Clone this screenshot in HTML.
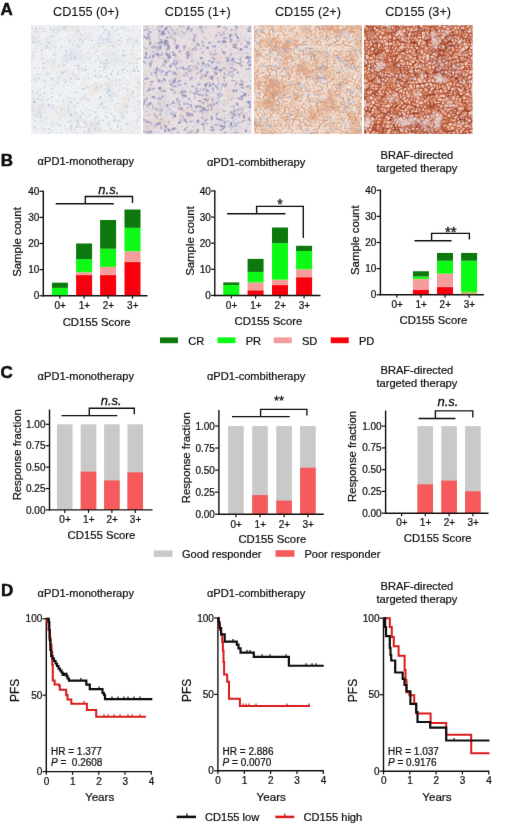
<!DOCTYPE html>
<html><head><meta charset="utf-8"><style>
html,body{margin:0;padding:0;background:#fff;width:520px;height:825px;overflow:hidden}
svg{display:block;font-family:"Liberation Sans", Arial, sans-serif}
</style></head><body>
<svg width="520" height="825" viewBox="0 0 520 825">
<defs><filter id="gb" x="0" y="0" width="520" height="825" filterUnits="userSpaceOnUse"><feConvolveMatrix order="3" kernelMatrix="0 0.05 0 0.05 0.8 0.05 0 0.05 0" edgeMode="duplicate" preserveAlpha="false"/></filter></defs>
<rect width="520" height="825" fill="#fff"/>
<g filter="url(#gb)">
<defs><filter id="h0" x="0" y="0" width="1" height="1" color-interpolation-filters="sRGB"><feFlood flood-color="#f0f1f3" result="base"/><feTurbulence type="fractalNoise" baseFrequency="0.06" numOctaves="2" seed="3" result="nl0"/><feColorMatrix in="nl0" type="matrix" values="0 0 0 0 0.847 0 0 0 0 0.871 0 0 0 0 0.910 2.0 0 0 0 -1.000" result="l0"/><feTurbulence type="fractalNoise" baseFrequency="0.05" numOctaves="2" seed="11" result="nl1"/><feColorMatrix in="nl1" type="matrix" values="0 0 0 0 0.933 0 0 0 0 0.886 0 0 0 0 0.855 2.5 0 0 0 -1.325" result="l1"/><feTurbulence type="fractalNoise" baseFrequency="0.4" numOctaves="2" seed="5" result="nl2"/><feColorMatrix in="nl2" type="matrix" values="0 0 0 0 0.769 0 0 0 0 0.808 0 0 0 0 0.871 3.0 0 0 0 -1.740" result="l2"/><feMerge result="m"><feMergeNode in="base"/><feMergeNode in="l0"/><feMergeNode in="l1"/><feMergeNode in="l2"/></feMerge><feGaussianBlur in="m" stdDeviation="0.5"/></filter><clipPath id="c0"><rect x="31" y="25.2" width="110.00" height="108.80"/></clipPath><filter id="h1" x="0" y="0" width="1" height="1" color-interpolation-filters="sRGB"><feFlood flood-color="#e9dfe2" result="base"/><feTurbulence type="fractalNoise" baseFrequency="0.06" numOctaves="2" seed="21" result="nl0"/><feColorMatrix in="nl0" type="matrix" values="0 0 0 0 0.902 0 0 0 0 0.816 0 0 0 0 0.792 2.5 0 0 0 -1.250" result="l0"/><feTurbulence type="fractalNoise" baseFrequency="0.07" numOctaves="2" seed="4" result="nl1"/><feColorMatrix in="nl1" type="matrix" values="0 0 0 0 0.816 0 0 0 0 0.824 0 0 0 0 0.886 2.0 0 0 0 -1.040" result="l1"/><feTurbulence type="fractalNoise" baseFrequency="0.35" numOctaves="2" seed="13" result="nl2"/><feColorMatrix in="nl2" type="matrix" values="0 0 0 0 0.690 0 0 0 0 0.698 0 0 0 0 0.800 3.5 0 0 0 -1.995" result="l2"/><feMerge result="m"><feMergeNode in="base"/><feMergeNode in="l0"/><feMergeNode in="l1"/><feMergeNode in="l2"/></feMerge><feGaussianBlur in="m" stdDeviation="0.5"/></filter><clipPath id="c1"><rect x="143" y="25.2" width="108.50" height="108.80"/></clipPath><filter id="h2" x="0" y="0" width="1" height="1" color-interpolation-filters="sRGB"><feFlood flood-color="#eedcd0" result="base"/><feTurbulence type="fractalNoise" baseFrequency="0.05" numOctaves="2" seed="31" result="nl0"/><feColorMatrix in="nl0" type="matrix" values="0 0 0 0 0.878 0 0 0 0 0.659 0 0 0 0 0.525 3.5 0 0 0 -1.575" result="l0"/><feTurbulence type="fractalNoise" baseFrequency="0.07" numOctaves="2" seed="35" result="nl1"/><feColorMatrix in="nl1" type="matrix" values="0 0 0 0 0.784 0 0 0 0 0.784 0 0 0 0 0.855 2.0 0 0 0 -1.120" result="l1"/><feTurbulence type="fractalNoise" baseFrequency="0.3" numOctaves="2" seed="39" result="nl2"/><feColorMatrix in="nl2" type="matrix" values="0 0 0 0 0.969 0 0 0 0 0.937 0 0 0 0 0.918 3.0 0 0 0 -1.680" result="l2"/><feMerge result="m"><feMergeNode in="base"/><feMergeNode in="l0"/><feMergeNode in="l1"/><feMergeNode in="l2"/></feMerge><feGaussianBlur in="m" stdDeviation="0.5"/></filter><clipPath id="c2"><rect x="254" y="25.2" width="108.00" height="108.80"/></clipPath><filter id="h3" x="0" y="0" width="1" height="1" color-interpolation-filters="sRGB"><feFlood flood-color="#eccabe" result="base"/><feTurbulence type="fractalNoise" baseFrequency="0.035" numOctaves="2" seed="41" result="nl0"/><feColorMatrix in="nl0" type="matrix" values="0 0 0 0 0.784 0 0 0 0 0.722 0 0 0 0 0.761 5.0 0 0 0 -2.750" result="l0"/><feTurbulence type="fractalNoise" baseFrequency="0.08" numOctaves="2" seed="42" result="nl1"/><feColorMatrix in="nl1" type="matrix" values="0 0 0 0 0.831 0 0 0 0 0.518 0 0 0 0 0.353 3.0 0 0 0 -1.500" result="l1"/><feTurbulence type="fractalNoise" baseFrequency="0.4" numOctaves="1" seed="47" result="nl2"/><feColorMatrix in="nl2" type="matrix" values="0 0 0 0 0.965 0 0 0 0 0.886 0 0 0 0 0.855 5.0 0 0 0 -2.900" result="l2"/><feMerge result="m"><feMergeNode in="base"/><feMergeNode in="l0"/><feMergeNode in="l1"/><feMergeNode in="l2"/></feMerge><feGaussianBlur in="m" stdDeviation="0.5"/></filter><clipPath id="c3"><rect x="364" y="25.2" width="108.50" height="108.80"/></clipPath><filter id="ov4" x="0" y="0" width="1" height="1" color-interpolation-filters="sRGB"><feTurbulence type="fractalNoise" baseFrequency="0.07" numOctaves="3" seed="77" result="n"/><feColorMatrix in="n" type="matrix" values="0 0 0 0 0.9 0 0 0 0 0.84 0 0 0 0 0.85 3.5 0 0 0 -2.0"/></filter><filter id="nb" x="-5%" y="-5%" width="110%" height="110%"><feGaussianBlur stdDeviation="0.4"/></filter></defs><g clip-path="url(#c0)"><rect x="31" y="25.2" width="110.00" height="108.80" fill="#fff" filter="url(#h0)"/><g filter="url(#nb)"><ellipse cx="77.0" cy="27.3" rx="1.3" ry="1.0" transform="rotate(149 77.0 27.3)" fill="#b4c2d8" fill-opacity="0.38"/><ellipse cx="79.1" cy="66.0" rx="1.1" ry="0.7" transform="rotate(157 79.1 66.0)" fill="#b4c2d8" fill-opacity="0.47"/><ellipse cx="70.3" cy="128.5" rx="1.2" ry="0.7" transform="rotate(16 70.3 128.5)" fill="#c0cad8" fill-opacity="0.36"/><ellipse cx="40.4" cy="115.6" rx="1.0" ry="1.0" transform="rotate(58 40.4 115.6)" fill="#c0cad8" fill-opacity="0.59"/><ellipse cx="112.4" cy="26.6" rx="1.3" ry="0.7" transform="rotate(169 112.4 26.6)" fill="#9eb2d0" fill-opacity="0.33"/><ellipse cx="76.8" cy="120.8" rx="0.9" ry="0.8" transform="rotate(104 76.8 120.8)" fill="#c0cad8" fill-opacity="0.51"/><ellipse cx="121.1" cy="112.4" rx="0.9" ry="0.9" transform="rotate(42 121.1 112.4)" fill="#c0cad8" fill-opacity="0.47"/><ellipse cx="52.1" cy="89.1" rx="0.8" ry="0.7" transform="rotate(93 52.1 89.1)" fill="#9eb2d0" fill-opacity="0.59"/><ellipse cx="121.9" cy="42.2" rx="0.9" ry="0.7" transform="rotate(41 121.9 42.2)" fill="#b4c2d8" fill-opacity="0.31"/><ellipse cx="108.9" cy="34.6" rx="1.3" ry="0.9" transform="rotate(179 108.9 34.6)" fill="#9eb2d0" fill-opacity="0.41"/><ellipse cx="105.3" cy="107.5" rx="0.8" ry="0.8" transform="rotate(87 105.3 107.5)" fill="#a8bad4" fill-opacity="0.53"/><ellipse cx="136.3" cy="124.7" rx="1.3" ry="0.9" transform="rotate(99 136.3 124.7)" fill="#b4c2d8" fill-opacity="0.47"/><ellipse cx="40.6" cy="43.8" rx="0.9" ry="0.7" transform="rotate(174 40.6 43.8)" fill="#9eb2d0" fill-opacity="0.35"/><ellipse cx="41.8" cy="100.5" rx="1.3" ry="0.9" transform="rotate(26 41.8 100.5)" fill="#c0cad8" fill-opacity="0.58"/><ellipse cx="123.9" cy="54.4" rx="1.3" ry="1.0" transform="rotate(135 123.9 54.4)" fill="#a8bad4" fill-opacity="0.43"/><ellipse cx="58.3" cy="120.0" rx="0.9" ry="0.7" transform="rotate(5 58.3 120.0)" fill="#b4c2d8" fill-opacity="0.47"/><ellipse cx="120.9" cy="121.6" rx="1.0" ry="0.6" transform="rotate(173 120.9 121.6)" fill="#c0cad8" fill-opacity="0.44"/><ellipse cx="53.1" cy="92.6" rx="1.1" ry="0.7" transform="rotate(36 53.1 92.6)" fill="#9eb2d0" fill-opacity="0.47"/><ellipse cx="45.5" cy="80.7" rx="1.0" ry="0.8" transform="rotate(139 45.5 80.7)" fill="#a8bad4" fill-opacity="0.41"/><ellipse cx="87.8" cy="87.5" rx="0.9" ry="1.0" transform="rotate(113 87.8 87.5)" fill="#a8bad4" fill-opacity="0.49"/><ellipse cx="61.7" cy="73.6" rx="1.1" ry="0.7" transform="rotate(66 61.7 73.6)" fill="#b4c2d8" fill-opacity="0.52"/><ellipse cx="83.9" cy="54.5" rx="0.9" ry="0.6" transform="rotate(5 83.9 54.5)" fill="#b4c2d8" fill-opacity="0.59"/><ellipse cx="118.9" cy="35.1" rx="1.3" ry="0.8" transform="rotate(20 118.9 35.1)" fill="#9eb2d0" fill-opacity="0.38"/><ellipse cx="54.5" cy="58.3" rx="0.8" ry="0.7" transform="rotate(57 54.5 58.3)" fill="#c0cad8" fill-opacity="0.54"/><ellipse cx="36.4" cy="46.5" rx="0.9" ry="0.8" transform="rotate(15 36.4 46.5)" fill="#b4c2d8" fill-opacity="0.30"/><ellipse cx="44.3" cy="81.1" rx="1.0" ry="0.9" transform="rotate(142 44.3 81.1)" fill="#b4c2d8" fill-opacity="0.37"/><ellipse cx="84.3" cy="88.0" rx="0.9" ry="0.9" transform="rotate(47 84.3 88.0)" fill="#b4c2d8" fill-opacity="0.31"/><ellipse cx="126.1" cy="36.2" rx="1.4" ry="0.6" transform="rotate(37 126.1 36.2)" fill="#c0cad8" fill-opacity="0.46"/><ellipse cx="95.6" cy="60.9" rx="1.1" ry="0.8" transform="rotate(137 95.6 60.9)" fill="#9eb2d0" fill-opacity="0.41"/><ellipse cx="35.0" cy="67.7" rx="1.0" ry="0.8" transform="rotate(121 35.0 67.7)" fill="#a8bad4" fill-opacity="0.40"/><ellipse cx="74.1" cy="58.1" rx="1.1" ry="0.8" transform="rotate(68 74.1 58.1)" fill="#a8bad4" fill-opacity="0.34"/><ellipse cx="98.4" cy="29.8" rx="1.1" ry="0.8" transform="rotate(9 98.4 29.8)" fill="#9eb2d0" fill-opacity="0.44"/><ellipse cx="77.7" cy="122.6" rx="1.0" ry="0.8" transform="rotate(59 77.7 122.6)" fill="#9eb2d0" fill-opacity="0.60"/><ellipse cx="106.1" cy="76.6" rx="1.1" ry="1.0" transform="rotate(32 106.1 76.6)" fill="#9eb2d0" fill-opacity="0.49"/><ellipse cx="49.2" cy="104.4" rx="1.2" ry="0.6" transform="rotate(153 49.2 104.4)" fill="#a8bad4" fill-opacity="0.57"/><ellipse cx="39.5" cy="112.5" rx="0.9" ry="0.7" transform="rotate(17 39.5 112.5)" fill="#9eb2d0" fill-opacity="0.45"/><ellipse cx="111.3" cy="73.9" rx="1.2" ry="0.9" transform="rotate(73 111.3 73.9)" fill="#9eb2d0" fill-opacity="0.57"/><ellipse cx="43.7" cy="29.4" rx="0.9" ry="0.8" transform="rotate(164 43.7 29.4)" fill="#b4c2d8" fill-opacity="0.32"/><ellipse cx="82.3" cy="61.2" rx="1.1" ry="0.7" transform="rotate(80 82.3 61.2)" fill="#c0cad8" fill-opacity="0.52"/><ellipse cx="136.7" cy="67.3" rx="1.2" ry="0.8" transform="rotate(103 136.7 67.3)" fill="#9eb2d0" fill-opacity="0.52"/><ellipse cx="34.6" cy="126.6" rx="1.3" ry="0.7" transform="rotate(162 34.6 126.6)" fill="#9eb2d0" fill-opacity="0.52"/><ellipse cx="71.6" cy="126.2" rx="0.9" ry="0.9" transform="rotate(177 71.6 126.2)" fill="#9eb2d0" fill-opacity="0.38"/><ellipse cx="92.4" cy="28.0" rx="1.0" ry="0.7" transform="rotate(101 92.4 28.0)" fill="#9eb2d0" fill-opacity="0.48"/><ellipse cx="65.1" cy="56.7" rx="1.4" ry="0.8" transform="rotate(38 65.1 56.7)" fill="#c0cad8" fill-opacity="0.54"/><ellipse cx="101.2" cy="96.7" rx="1.1" ry="0.8" transform="rotate(79 101.2 96.7)" fill="#b4c2d8" fill-opacity="0.50"/><ellipse cx="136.9" cy="101.2" rx="1.3" ry="0.6" transform="rotate(165 136.9 101.2)" fill="#9eb2d0" fill-opacity="0.33"/><ellipse cx="129.2" cy="38.9" rx="1.2" ry="0.8" transform="rotate(119 129.2 38.9)" fill="#c0cad8" fill-opacity="0.59"/><ellipse cx="106.3" cy="39.1" rx="1.3" ry="0.7" transform="rotate(78 106.3 39.1)" fill="#a8bad4" fill-opacity="0.30"/><ellipse cx="49.3" cy="98.7" rx="0.9" ry="0.7" transform="rotate(164 49.3 98.7)" fill="#c0cad8" fill-opacity="0.48"/><ellipse cx="78.4" cy="64.0" rx="0.8" ry="0.9" transform="rotate(124 78.4 64.0)" fill="#c0cad8" fill-opacity="0.45"/><ellipse cx="97.6" cy="107.9" rx="1.3" ry="0.7" transform="rotate(155 97.6 107.9)" fill="#b4c2d8" fill-opacity="0.44"/><ellipse cx="33.2" cy="106.8" rx="0.9" ry="0.8" transform="rotate(42 33.2 106.8)" fill="#c0cad8" fill-opacity="0.45"/><ellipse cx="121.4" cy="89.8" rx="1.3" ry="0.7" transform="rotate(159 121.4 89.8)" fill="#b4c2d8" fill-opacity="0.46"/><ellipse cx="114.1" cy="131.4" rx="1.3" ry="0.7" transform="rotate(170 114.1 131.4)" fill="#a8bad4" fill-opacity="0.32"/><ellipse cx="103.2" cy="26.3" rx="1.2" ry="0.8" transform="rotate(61 103.2 26.3)" fill="#9eb2d0" fill-opacity="0.58"/><ellipse cx="137.3" cy="59.4" rx="1.1" ry="0.8" transform="rotate(57 137.3 59.4)" fill="#a8bad4" fill-opacity="0.43"/><ellipse cx="66.1" cy="53.4" rx="1.2" ry="0.8" transform="rotate(31 66.1 53.4)" fill="#b4c2d8" fill-opacity="0.34"/><ellipse cx="53.3" cy="54.8" rx="0.8" ry="1.0" transform="rotate(154 53.3 54.8)" fill="#b4c2d8" fill-opacity="0.57"/><ellipse cx="117.6" cy="51.1" rx="0.8" ry="0.7" transform="rotate(174 117.6 51.1)" fill="#9eb2d0" fill-opacity="0.43"/><ellipse cx="77.5" cy="44.7" rx="1.1" ry="0.6" transform="rotate(28 77.5 44.7)" fill="#9eb2d0" fill-opacity="0.52"/><ellipse cx="112.1" cy="28.6" rx="0.9" ry="0.7" transform="rotate(145 112.1 28.6)" fill="#b4c2d8" fill-opacity="0.59"/><ellipse cx="63.8" cy="84.0" rx="0.9" ry="0.8" transform="rotate(73 63.8 84.0)" fill="#b4c2d8" fill-opacity="0.47"/><ellipse cx="92.2" cy="40.3" rx="1.3" ry="0.7" transform="rotate(4 92.2 40.3)" fill="#9eb2d0" fill-opacity="0.53"/><ellipse cx="48.7" cy="104.6" rx="1.0" ry="0.6" transform="rotate(46 48.7 104.6)" fill="#b4c2d8" fill-opacity="0.47"/><ellipse cx="108.8" cy="85.3" rx="1.2" ry="0.7" transform="rotate(68 108.8 85.3)" fill="#a8bad4" fill-opacity="0.54"/><ellipse cx="52.0" cy="96.9" rx="1.0" ry="1.0" transform="rotate(106 52.0 96.9)" fill="#a8bad4" fill-opacity="0.52"/><ellipse cx="80.5" cy="39.1" rx="1.1" ry="0.7" transform="rotate(46 80.5 39.1)" fill="#9eb2d0" fill-opacity="0.58"/><ellipse cx="51.0" cy="36.7" rx="1.3" ry="0.9" transform="rotate(27 51.0 36.7)" fill="#9eb2d0" fill-opacity="0.50"/><ellipse cx="92.3" cy="110.6" rx="0.9" ry="0.8" transform="rotate(106 92.3 110.6)" fill="#b4c2d8" fill-opacity="0.30"/><ellipse cx="136.9" cy="121.5" rx="1.1" ry="0.8" transform="rotate(128 136.9 121.5)" fill="#c0cad8" fill-opacity="0.33"/><ellipse cx="83.3" cy="89.0" rx="1.4" ry="1.0" transform="rotate(63 83.3 89.0)" fill="#9eb2d0" fill-opacity="0.32"/><ellipse cx="134.2" cy="111.1" rx="0.9" ry="0.7" transform="rotate(146 134.2 111.1)" fill="#9eb2d0" fill-opacity="0.30"/><ellipse cx="127.1" cy="40.0" rx="1.0" ry="0.9" transform="rotate(164 127.1 40.0)" fill="#a8bad4" fill-opacity="0.39"/><ellipse cx="122.9" cy="27.6" rx="1.0" ry="0.6" transform="rotate(110 122.9 27.6)" fill="#9eb2d0" fill-opacity="0.30"/><ellipse cx="76.5" cy="59.2" rx="1.0" ry="0.7" transform="rotate(176 76.5 59.2)" fill="#a8bad4" fill-opacity="0.40"/><ellipse cx="82.7" cy="96.6" rx="1.3" ry="0.8" transform="rotate(114 82.7 96.6)" fill="#c0cad8" fill-opacity="0.34"/><ellipse cx="106.0" cy="64.3" rx="1.4" ry="0.8" transform="rotate(168 106.0 64.3)" fill="#c0cad8" fill-opacity="0.34"/><ellipse cx="107.4" cy="122.9" rx="1.2" ry="0.6" transform="rotate(161 107.4 122.9)" fill="#a8bad4" fill-opacity="0.36"/><ellipse cx="43.2" cy="69.2" rx="1.2" ry="0.7" transform="rotate(58 43.2 69.2)" fill="#c0cad8" fill-opacity="0.38"/><ellipse cx="34.7" cy="39.2" rx="0.9" ry="0.8" transform="rotate(69 34.7 39.2)" fill="#a8bad4" fill-opacity="0.30"/><ellipse cx="95.6" cy="71.1" rx="1.1" ry="1.0" transform="rotate(60 95.6 71.1)" fill="#c0cad8" fill-opacity="0.32"/><ellipse cx="102.9" cy="102.7" rx="1.0" ry="0.6" transform="rotate(175 102.9 102.7)" fill="#a8bad4" fill-opacity="0.53"/><ellipse cx="81.8" cy="84.4" rx="1.1" ry="0.7" transform="rotate(118 81.8 84.4)" fill="#c0cad8" fill-opacity="0.31"/><ellipse cx="49.9" cy="42.7" rx="0.8" ry="0.7" transform="rotate(169 49.9 42.7)" fill="#c0cad8" fill-opacity="0.42"/><ellipse cx="122.1" cy="70.3" rx="1.2" ry="0.8" transform="rotate(98 122.1 70.3)" fill="#b4c2d8" fill-opacity="0.35"/><ellipse cx="58.8" cy="77.7" rx="1.0" ry="0.8" transform="rotate(137 58.8 77.7)" fill="#a8bad4" fill-opacity="0.54"/><ellipse cx="84.1" cy="131.5" rx="1.2" ry="0.8" transform="rotate(99 84.1 131.5)" fill="#b4c2d8" fill-opacity="0.51"/><ellipse cx="68.6" cy="37.1" rx="1.3" ry="0.8" transform="rotate(154 68.6 37.1)" fill="#c0cad8" fill-opacity="0.51"/><ellipse cx="54.0" cy="50.0" rx="1.1" ry="0.8" transform="rotate(138 54.0 50.0)" fill="#b4c2d8" fill-opacity="0.42"/><ellipse cx="88.7" cy="110.3" rx="1.3" ry="0.6" transform="rotate(128 88.7 110.3)" fill="#c0cad8" fill-opacity="0.54"/><ellipse cx="58.2" cy="30.2" rx="0.9" ry="0.6" transform="rotate(67 58.2 30.2)" fill="#a8bad4" fill-opacity="0.50"/><ellipse cx="139.3" cy="95.3" rx="1.0" ry="0.7" transform="rotate(36 139.3 95.3)" fill="#b4c2d8" fill-opacity="0.54"/><ellipse cx="117.8" cy="125.6" rx="0.9" ry="1.0" transform="rotate(159 117.8 125.6)" fill="#a8bad4" fill-opacity="0.55"/><ellipse cx="117.7" cy="73.6" rx="1.4" ry="0.9" transform="rotate(32 117.7 73.6)" fill="#a8bad4" fill-opacity="0.59"/><ellipse cx="82.4" cy="40.7" rx="1.2" ry="0.7" transform="rotate(93 82.4 40.7)" fill="#b4c2d8" fill-opacity="0.33"/><ellipse cx="46.5" cy="39.3" rx="1.2" ry="0.8" transform="rotate(128 46.5 39.3)" fill="#b4c2d8" fill-opacity="0.57"/><ellipse cx="115.8" cy="80.5" rx="1.1" ry="0.8" transform="rotate(38 115.8 80.5)" fill="#a8bad4" fill-opacity="0.34"/><ellipse cx="101.3" cy="85.6" rx="1.4" ry="0.7" transform="rotate(20 101.3 85.6)" fill="#a8bad4" fill-opacity="0.40"/><ellipse cx="116.3" cy="80.3" rx="1.3" ry="0.7" transform="rotate(102 116.3 80.3)" fill="#c0cad8" fill-opacity="0.45"/><ellipse cx="119.5" cy="120.5" rx="1.2" ry="0.8" transform="rotate(156 119.5 120.5)" fill="#a8bad4" fill-opacity="0.53"/><ellipse cx="34.4" cy="102.1" rx="1.4" ry="0.9" transform="rotate(31 34.4 102.1)" fill="#9eb2d0" fill-opacity="0.43"/><ellipse cx="35.5" cy="98.8" rx="1.1" ry="0.6" transform="rotate(161 35.5 98.8)" fill="#a8bad4" fill-opacity="0.40"/><ellipse cx="95.9" cy="112.0" rx="1.2" ry="0.8" transform="rotate(58 95.9 112.0)" fill="#a8bad4" fill-opacity="0.36"/><ellipse cx="107.1" cy="40.8" rx="1.3" ry="0.9" transform="rotate(76 107.1 40.8)" fill="#9eb2d0" fill-opacity="0.40"/><ellipse cx="77.3" cy="65.7" rx="1.0" ry="0.7" transform="rotate(138 77.3 65.7)" fill="#9eb2d0" fill-opacity="0.58"/><ellipse cx="109.0" cy="125.0" rx="1.2" ry="0.9" transform="rotate(131 109.0 125.0)" fill="#c0cad8" fill-opacity="0.58"/><ellipse cx="78.4" cy="124.4" rx="1.1" ry="0.9" transform="rotate(74 78.4 124.4)" fill="#9eb2d0" fill-opacity="0.30"/><ellipse cx="68.7" cy="55.6" rx="1.1" ry="0.8" transform="rotate(2 68.7 55.6)" fill="#b4c2d8" fill-opacity="0.57"/><ellipse cx="68.4" cy="106.6" rx="1.4" ry="0.6" transform="rotate(98 68.4 106.6)" fill="#a8bad4" fill-opacity="0.51"/><ellipse cx="46.5" cy="45.9" rx="1.1" ry="0.8" transform="rotate(55 46.5 45.9)" fill="#a8bad4" fill-opacity="0.59"/><ellipse cx="73.1" cy="123.5" rx="0.8" ry="0.6" transform="rotate(128 73.1 123.5)" fill="#c0cad8" fill-opacity="0.51"/><ellipse cx="50.1" cy="30.0" rx="0.8" ry="0.7" transform="rotate(121 50.1 30.0)" fill="#b4c2d8" fill-opacity="0.45"/><ellipse cx="107.1" cy="117.4" rx="1.2" ry="0.8" transform="rotate(132 107.1 117.4)" fill="#a8bad4" fill-opacity="0.50"/><ellipse cx="122.3" cy="117.7" rx="0.8" ry="0.7" transform="rotate(129 122.3 117.7)" fill="#a8bad4" fill-opacity="0.33"/><ellipse cx="32.2" cy="55.8" rx="1.0" ry="1.0" transform="rotate(135 32.2 55.8)" fill="#a8bad4" fill-opacity="0.30"/><ellipse cx="77.6" cy="103.2" rx="1.1" ry="1.0" transform="rotate(136 77.6 103.2)" fill="#a8bad4" fill-opacity="0.46"/><ellipse cx="114.1" cy="121.3" rx="1.2" ry="0.9" transform="rotate(136 114.1 121.3)" fill="#a8bad4" fill-opacity="0.33"/><ellipse cx="134.3" cy="70.7" rx="1.2" ry="0.7" transform="rotate(168 134.3 70.7)" fill="#a8bad4" fill-opacity="0.59"/><ellipse cx="122.3" cy="69.9" rx="1.1" ry="0.9" transform="rotate(119 122.3 69.9)" fill="#b4c2d8" fill-opacity="0.57"/><ellipse cx="117.3" cy="121.6" rx="0.8" ry="0.9" transform="rotate(1 117.3 121.6)" fill="#9eb2d0" fill-opacity="0.60"/><ellipse cx="109.5" cy="91.0" rx="1.3" ry="1.0" transform="rotate(132 109.5 91.0)" fill="#a8bad4" fill-opacity="0.52"/><ellipse cx="88.3" cy="116.4" rx="1.0" ry="0.8" transform="rotate(179 88.3 116.4)" fill="#a8bad4" fill-opacity="0.53"/><ellipse cx="122.7" cy="116.5" rx="1.4" ry="1.0" transform="rotate(51 122.7 116.5)" fill="#a8bad4" fill-opacity="0.49"/><ellipse cx="123.5" cy="51.1" rx="0.9" ry="0.7" transform="rotate(27 123.5 51.1)" fill="#9eb2d0" fill-opacity="0.41"/><ellipse cx="66.5" cy="51.6" rx="1.3" ry="0.8" transform="rotate(140 66.5 51.6)" fill="#b4c2d8" fill-opacity="0.38"/><ellipse cx="82.8" cy="113.8" rx="0.9" ry="0.9" transform="rotate(37 82.8 113.8)" fill="#a8bad4" fill-opacity="0.54"/><ellipse cx="95.3" cy="75.8" rx="1.3" ry="0.7" transform="rotate(73 95.3 75.8)" fill="#b4c2d8" fill-opacity="0.52"/><ellipse cx="131.3" cy="70.8" rx="0.8" ry="0.7" transform="rotate(177 131.3 70.8)" fill="#a8bad4" fill-opacity="0.33"/><ellipse cx="119.2" cy="81.1" rx="1.3" ry="0.9" transform="rotate(117 119.2 81.1)" fill="#c0cad8" fill-opacity="0.38"/><ellipse cx="41.4" cy="53.8" rx="1.1" ry="0.8" transform="rotate(142 41.4 53.8)" fill="#a8bad4" fill-opacity="0.42"/><ellipse cx="49.2" cy="128.9" rx="0.9" ry="0.9" transform="rotate(174 49.2 128.9)" fill="#9eb2d0" fill-opacity="0.53"/><ellipse cx="70.9" cy="52.8" rx="1.3" ry="0.8" transform="rotate(105 70.9 52.8)" fill="#b4c2d8" fill-opacity="0.49"/><ellipse cx="70.8" cy="102.0" rx="1.1" ry="0.9" transform="rotate(93 70.8 102.0)" fill="#a8bad4" fill-opacity="0.59"/><ellipse cx="41.2" cy="117.0" rx="0.9" ry="0.9" transform="rotate(109 41.2 117.0)" fill="#b4c2d8" fill-opacity="0.46"/><ellipse cx="126.5" cy="42.8" rx="0.8" ry="1.0" transform="rotate(15 126.5 42.8)" fill="#b4c2d8" fill-opacity="0.57"/><ellipse cx="119.6" cy="39.9" rx="1.2" ry="0.8" transform="rotate(156 119.6 39.9)" fill="#a8bad4" fill-opacity="0.40"/><ellipse cx="126.9" cy="90.1" rx="1.3" ry="0.6" transform="rotate(58 126.9 90.1)" fill="#a8bad4" fill-opacity="0.54"/><ellipse cx="73.3" cy="73.3" rx="1.3" ry="0.8" transform="rotate(155 73.3 73.3)" fill="#c0cad8" fill-opacity="0.34"/><ellipse cx="121.5" cy="98.2" rx="1.0" ry="0.8" transform="rotate(98 121.5 98.2)" fill="#b4c2d8" fill-opacity="0.32"/><ellipse cx="107.1" cy="92.6" rx="0.9" ry="0.9" transform="rotate(171 107.1 92.6)" fill="#a8bad4" fill-opacity="0.54"/><ellipse cx="49.2" cy="132.3" rx="1.1" ry="0.8" transform="rotate(177 49.2 132.3)" fill="#b4c2d8" fill-opacity="0.44"/><ellipse cx="56.7" cy="111.2" rx="1.1" ry="0.9" transform="rotate(176 56.7 111.2)" fill="#c0cad8" fill-opacity="0.33"/><ellipse cx="100.3" cy="96.9" rx="1.3" ry="0.9" transform="rotate(12 100.3 96.9)" fill="#b4c2d8" fill-opacity="0.54"/><ellipse cx="86.0" cy="124.0" rx="1.4" ry="0.6" transform="rotate(28 86.0 124.0)" fill="#c0cad8" fill-opacity="0.49"/><ellipse cx="137.1" cy="41.3" rx="1.0" ry="0.7" transform="rotate(101 137.1 41.3)" fill="#b4c2d8" fill-opacity="0.52"/><ellipse cx="117.8" cy="126.8" rx="1.4" ry="1.0" transform="rotate(117 117.8 126.8)" fill="#a8bad4" fill-opacity="0.40"/><ellipse cx="50.6" cy="49.1" rx="0.9" ry="0.8" transform="rotate(55 50.6 49.1)" fill="#c0cad8" fill-opacity="0.47"/><ellipse cx="113.2" cy="46.6" rx="1.1" ry="0.6" transform="rotate(99 113.2 46.6)" fill="#a8bad4" fill-opacity="0.59"/><ellipse cx="36.7" cy="93.2" rx="1.4" ry="1.0" transform="rotate(141 36.7 93.2)" fill="#b4c2d8" fill-opacity="0.33"/><ellipse cx="74.6" cy="129.3" rx="0.8" ry="1.0" transform="rotate(42 74.6 129.3)" fill="#b4c2d8" fill-opacity="0.53"/><ellipse cx="121.7" cy="42.2" rx="1.1" ry="0.9" transform="rotate(79 121.7 42.2)" fill="#c0cad8" fill-opacity="0.36"/><ellipse cx="129.5" cy="89.4" rx="1.1" ry="0.6" transform="rotate(110 129.5 89.4)" fill="#b4c2d8" fill-opacity="0.35"/><ellipse cx="84.0" cy="34.9" rx="1.3" ry="0.6" transform="rotate(107 84.0 34.9)" fill="#9eb2d0" fill-opacity="0.33"/><ellipse cx="109.7" cy="62.7" rx="1.3" ry="0.7" transform="rotate(58 109.7 62.7)" fill="#a8bad4" fill-opacity="0.31"/><ellipse cx="125.8" cy="106.6" rx="1.4" ry="0.9" transform="rotate(138 125.8 106.6)" fill="#c0cad8" fill-opacity="0.50"/><ellipse cx="50.6" cy="28.4" rx="1.4" ry="0.8" transform="rotate(141 50.6 28.4)" fill="#a8bad4" fill-opacity="0.50"/><ellipse cx="79.6" cy="120.2" rx="1.4" ry="0.9" transform="rotate(164 79.6 120.2)" fill="#b4c2d8" fill-opacity="0.36"/><ellipse cx="109.0" cy="31.2" rx="1.0" ry="1.0" transform="rotate(156 109.0 31.2)" fill="#b4c2d8" fill-opacity="0.43"/><ellipse cx="111.9" cy="113.9" rx="0.9" ry="0.7" transform="rotate(90 111.9 113.9)" fill="#b4c2d8" fill-opacity="0.34"/><ellipse cx="74.5" cy="40.9" rx="1.4" ry="0.9" transform="rotate(114 74.5 40.9)" fill="#c0cad8" fill-opacity="0.44"/><ellipse cx="99.0" cy="77.1" rx="0.8" ry="0.7" transform="rotate(53 99.0 77.1)" fill="#9eb2d0" fill-opacity="0.56"/><ellipse cx="69.9" cy="41.9" rx="1.0" ry="0.9" transform="rotate(172 69.9 41.9)" fill="#9eb2d0" fill-opacity="0.51"/><ellipse cx="85.0" cy="32.9" rx="0.8" ry="0.9" transform="rotate(98 85.0 32.9)" fill="#a8bad4" fill-opacity="0.38"/><ellipse cx="33.8" cy="102.0" rx="1.4" ry="0.8" transform="rotate(7 33.8 102.0)" fill="#9eb2d0" fill-opacity="0.59"/><ellipse cx="44.5" cy="87.1" rx="1.4" ry="1.0" transform="rotate(115 44.5 87.1)" fill="#b4c2d8" fill-opacity="0.39"/><ellipse cx="54.8" cy="46.8" rx="1.2" ry="0.6" transform="rotate(123 54.8 46.8)" fill="#9eb2d0" fill-opacity="0.56"/><ellipse cx="48.5" cy="43.2" rx="1.3" ry="1.0" transform="rotate(125 48.5 43.2)" fill="#a8bad4" fill-opacity="0.43"/><ellipse cx="48.1" cy="47.8" rx="1.3" ry="0.8" transform="rotate(42 48.1 47.8)" fill="#9eb2d0" fill-opacity="0.31"/><ellipse cx="100.1" cy="67.0" rx="0.8" ry="0.9" transform="rotate(26 100.1 67.0)" fill="#9eb2d0" fill-opacity="0.59"/><ellipse cx="64.0" cy="64.5" rx="1.3" ry="0.9" transform="rotate(35 64.0 64.5)" fill="#9eb2d0" fill-opacity="0.44"/><ellipse cx="84.6" cy="79.0" rx="1.1" ry="0.7" transform="rotate(7 84.6 79.0)" fill="#b4c2d8" fill-opacity="0.37"/><ellipse cx="71.3" cy="78.6" rx="1.0" ry="0.9" transform="rotate(81 71.3 78.6)" fill="#9eb2d0" fill-opacity="0.55"/><ellipse cx="134.6" cy="71.1" rx="1.3" ry="0.7" transform="rotate(8 134.6 71.1)" fill="#a8bad4" fill-opacity="0.56"/><ellipse cx="75.9" cy="79.2" rx="1.3" ry="0.8" transform="rotate(53 75.9 79.2)" fill="#c0cad8" fill-opacity="0.44"/><ellipse cx="123.9" cy="78.2" rx="1.1" ry="0.9" transform="rotate(146 123.9 78.2)" fill="#a8bad4" fill-opacity="0.33"/><ellipse cx="71.1" cy="120.3" rx="0.9" ry="0.8" transform="rotate(142 71.1 120.3)" fill="#b4c2d8" fill-opacity="0.58"/><ellipse cx="108.7" cy="39.1" rx="1.3" ry="1.0" transform="rotate(144 108.7 39.1)" fill="#9eb2d0" fill-opacity="0.51"/><ellipse cx="47.8" cy="61.0" rx="1.0" ry="0.9" transform="rotate(137 47.8 61.0)" fill="#a8bad4" fill-opacity="0.37"/><ellipse cx="78.7" cy="68.2" rx="1.2" ry="0.8" transform="rotate(93 78.7 68.2)" fill="#9eb2d0" fill-opacity="0.48"/><ellipse cx="100.2" cy="39.6" rx="0.9" ry="0.8" transform="rotate(70 100.2 39.6)" fill="#9eb2d0" fill-opacity="0.45"/><ellipse cx="39.4" cy="79.7" rx="0.8" ry="0.7" transform="rotate(61 39.4 79.7)" fill="#a8bad4" fill-opacity="0.32"/><ellipse cx="52.7" cy="79.3" rx="1.3" ry="0.7" transform="rotate(105 52.7 79.3)" fill="#c0cad8" fill-opacity="0.46"/><ellipse cx="128.2" cy="54.7" rx="0.9" ry="0.7" transform="rotate(81 128.2 54.7)" fill="#c0cad8" fill-opacity="0.55"/><ellipse cx="94.8" cy="112.2" rx="1.2" ry="0.7" transform="rotate(7 94.8 112.2)" fill="#a8bad4" fill-opacity="0.43"/><ellipse cx="58.7" cy="82.1" rx="1.3" ry="1.0" transform="rotate(38 58.7 82.1)" fill="#a8bad4" fill-opacity="0.53"/><ellipse cx="53.3" cy="30.3" rx="1.3" ry="0.7" transform="rotate(96 53.3 30.3)" fill="#a8bad4" fill-opacity="0.57"/><ellipse cx="84.1" cy="27.8" rx="0.8" ry="0.8" transform="rotate(84 84.1 27.8)" fill="#a8bad4" fill-opacity="0.30"/><ellipse cx="38.7" cy="37.0" rx="1.0" ry="0.8" transform="rotate(76 38.7 37.0)" fill="#9eb2d0" fill-opacity="0.38"/><ellipse cx="58.7" cy="101.1" rx="0.8" ry="0.9" transform="rotate(148 58.7 101.1)" fill="#b4c2d8" fill-opacity="0.32"/><ellipse cx="70.1" cy="39.8" rx="1.2" ry="0.7" transform="rotate(114 70.1 39.8)" fill="#a8bad4" fill-opacity="0.59"/><ellipse cx="138.1" cy="82.6" rx="1.0" ry="0.8" transform="rotate(24 138.1 82.6)" fill="#a8bad4" fill-opacity="0.46"/><ellipse cx="75.0" cy="75.6" rx="1.0" ry="0.6" transform="rotate(87 75.0 75.6)" fill="#a8bad4" fill-opacity="0.48"/><ellipse cx="65.5" cy="81.9" rx="1.3" ry="0.8" transform="rotate(166 65.5 81.9)" fill="#b4c2d8" fill-opacity="0.59"/><ellipse cx="85.6" cy="38.6" rx="1.2" ry="0.9" transform="rotate(138 85.6 38.6)" fill="#a8bad4" fill-opacity="0.57"/><ellipse cx="114.9" cy="120.9" rx="0.9" ry="0.9" transform="rotate(44 114.9 120.9)" fill="#c0cad8" fill-opacity="0.54"/><ellipse cx="94.0" cy="47.8" rx="1.0" ry="0.8" transform="rotate(86 94.0 47.8)" fill="#a8bad4" fill-opacity="0.30"/><ellipse cx="112.4" cy="70.6" rx="1.1" ry="0.6" transform="rotate(107 112.4 70.6)" fill="#b4c2d8" fill-opacity="0.50"/><ellipse cx="139.7" cy="58.5" rx="0.9" ry="0.8" transform="rotate(151 139.7 58.5)" fill="#9eb2d0" fill-opacity="0.56"/><ellipse cx="78.8" cy="78.6" rx="1.4" ry="0.8" transform="rotate(56 78.8 78.6)" fill="#b4c2d8" fill-opacity="0.38"/><ellipse cx="136.6" cy="87.4" rx="0.8" ry="0.8" transform="rotate(140 136.6 87.4)" fill="#c0cad8" fill-opacity="0.40"/><ellipse cx="36.3" cy="28.6" rx="1.1" ry="0.8" transform="rotate(105 36.3 28.6)" fill="#9eb2d0" fill-opacity="0.56"/><ellipse cx="37.5" cy="33.3" rx="1.0" ry="0.9" transform="rotate(89 37.5 33.3)" fill="#b4c2d8" fill-opacity="0.32"/><ellipse cx="61.6" cy="109.1" rx="1.4" ry="0.9" transform="rotate(156 61.6 109.1)" fill="#b4c2d8" fill-opacity="0.51"/><ellipse cx="85.5" cy="127.3" rx="1.0" ry="0.7" transform="rotate(173 85.5 127.3)" fill="#9eb2d0" fill-opacity="0.47"/><ellipse cx="104.7" cy="130.8" rx="1.4" ry="0.8" transform="rotate(1 104.7 130.8)" fill="#9eb2d0" fill-opacity="0.38"/><ellipse cx="71.4" cy="57.9" rx="1.0" ry="0.9" transform="rotate(173 71.4 57.9)" fill="#c0cad8" fill-opacity="0.42"/><ellipse cx="68.6" cy="121.8" rx="1.2" ry="0.8" transform="rotate(9 68.6 121.8)" fill="#a8bad4" fill-opacity="0.55"/><ellipse cx="80.2" cy="116.3" rx="0.9" ry="0.8" transform="rotate(46 80.2 116.3)" fill="#9eb2d0" fill-opacity="0.44"/><ellipse cx="124.5" cy="68.8" rx="0.9" ry="0.9" transform="rotate(134 124.5 68.8)" fill="#9eb2d0" fill-opacity="0.60"/><ellipse cx="138.0" cy="70.9" rx="1.3" ry="0.6" transform="rotate(92 138.0 70.9)" fill="#9eb2d0" fill-opacity="0.44"/><ellipse cx="66.5" cy="96.3" rx="0.8" ry="1.0" transform="rotate(56 66.5 96.3)" fill="#c0cad8" fill-opacity="0.49"/><ellipse cx="75.0" cy="113.6" rx="1.3" ry="0.7" transform="rotate(133 75.0 113.6)" fill="#b4c2d8" fill-opacity="0.39"/><ellipse cx="106.4" cy="65.5" rx="1.3" ry="0.7" transform="rotate(149 106.4 65.5)" fill="#9eb2d0" fill-opacity="0.38"/><ellipse cx="98.3" cy="56.6" rx="1.3" ry="0.9" transform="rotate(88 98.3 56.6)" fill="#c0cad8" fill-opacity="0.33"/><ellipse cx="38.2" cy="74.7" rx="1.2" ry="1.0" transform="rotate(68 38.2 74.7)" fill="#a8bad4" fill-opacity="0.48"/><ellipse cx="82.6" cy="69.1" rx="1.2" ry="0.8" transform="rotate(105 82.6 69.1)" fill="#9eb2d0" fill-opacity="0.56"/><ellipse cx="99.8" cy="46.3" rx="1.1" ry="1.0" transform="rotate(8 99.8 46.3)" fill="#9eb2d0" fill-opacity="0.30"/><ellipse cx="119.3" cy="90.2" rx="1.4" ry="0.7" transform="rotate(108 119.3 90.2)" fill="#a8bad4" fill-opacity="0.39"/><ellipse cx="43.1" cy="104.4" rx="1.0" ry="0.9" transform="rotate(133 43.1 104.4)" fill="#a8bad4" fill-opacity="0.51"/><ellipse cx="34.2" cy="115.4" rx="1.2" ry="1.0" transform="rotate(19 34.2 115.4)" fill="#c0cad8" fill-opacity="0.55"/><ellipse cx="34.9" cy="32.1" rx="1.0" ry="0.9" transform="rotate(80 34.9 32.1)" fill="#b4c2d8" fill-opacity="0.50"/><ellipse cx="56.5" cy="107.3" rx="1.3" ry="0.7" transform="rotate(164 56.5 107.3)" fill="#c0cad8" fill-opacity="0.55"/><ellipse cx="67.7" cy="58.7" rx="0.9" ry="1.0" transform="rotate(102 67.7 58.7)" fill="#c0cad8" fill-opacity="0.45"/><ellipse cx="67.8" cy="130.8" rx="1.0" ry="0.7" transform="rotate(10 67.8 130.8)" fill="#c0cad8" fill-opacity="0.56"/><ellipse cx="106.4" cy="60.5" rx="1.1" ry="0.8" transform="rotate(145 106.4 60.5)" fill="#9eb2d0" fill-opacity="0.58"/><ellipse cx="90.4" cy="37.3" rx="0.9" ry="0.9" transform="rotate(79 90.4 37.3)" fill="#b4c2d8" fill-opacity="0.33"/><ellipse cx="95.0" cy="129.0" rx="1.1" ry="0.7" transform="rotate(128 95.0 129.0)" fill="#9eb2d0" fill-opacity="0.58"/><ellipse cx="39.0" cy="78.5" rx="0.9" ry="0.6" transform="rotate(36 39.0 78.5)" fill="#c0cad8" fill-opacity="0.47"/><ellipse cx="119.8" cy="79.4" rx="1.2" ry="0.7" transform="rotate(34 119.8 79.4)" fill="#b4c2d8" fill-opacity="0.46"/><ellipse cx="80.3" cy="32.6" rx="1.2" ry="0.6" transform="rotate(59 80.3 32.6)" fill="#a8bad4" fill-opacity="0.37"/><ellipse cx="42.0" cy="50.0" rx="0.9" ry="0.9" transform="rotate(37 42.0 50.0)" fill="#a8bad4" fill-opacity="0.36"/><ellipse cx="88.3" cy="132.2" rx="1.1" ry="1.0" transform="rotate(112 88.3 132.2)" fill="#a8bad4" fill-opacity="0.32"/><ellipse cx="88.1" cy="99.5" rx="1.2" ry="0.9" transform="rotate(152 88.1 99.5)" fill="#c0cad8" fill-opacity="0.42"/><ellipse cx="35.4" cy="42.6" rx="1.2" ry="0.9" transform="rotate(115 35.4 42.6)" fill="#9eb2d0" fill-opacity="0.56"/><ellipse cx="81.6" cy="111.9" rx="1.0" ry="0.6" transform="rotate(32 81.6 111.9)" fill="#9eb2d0" fill-opacity="0.41"/><ellipse cx="43.8" cy="130.4" rx="1.2" ry="0.9" transform="rotate(178 43.8 130.4)" fill="#c0cad8" fill-opacity="0.31"/><ellipse cx="59.1" cy="124.7" rx="1.4" ry="0.9" transform="rotate(178 59.1 124.7)" fill="#a8bad4" fill-opacity="0.52"/><ellipse cx="63.4" cy="101.5" rx="0.9" ry="0.8" transform="rotate(169 63.4 101.5)" fill="#b4c2d8" fill-opacity="0.46"/><ellipse cx="110.8" cy="81.6" rx="1.1" ry="0.6" transform="rotate(43 110.8 81.6)" fill="#c0cad8" fill-opacity="0.55"/><ellipse cx="71.5" cy="127.8" rx="1.2" ry="0.8" transform="rotate(5 71.5 127.8)" fill="#a8bad4" fill-opacity="0.56"/><ellipse cx="76.4" cy="127.0" rx="1.4" ry="1.0" transform="rotate(37 76.4 127.0)" fill="#9eb2d0" fill-opacity="0.47"/><ellipse cx="51.5" cy="45.6" rx="1.3" ry="0.6" transform="rotate(15 51.5 45.6)" fill="#a8bad4" fill-opacity="0.38"/><ellipse cx="103.6" cy="32.4" rx="1.1" ry="0.6" transform="rotate(11 103.6 32.4)" fill="#9eb2d0" fill-opacity="0.45"/><ellipse cx="133.6" cy="101.2" rx="0.9" ry="0.8" transform="rotate(177 133.6 101.2)" fill="#c0cad8" fill-opacity="0.38"/><ellipse cx="66.9" cy="61.7" rx="1.0" ry="0.9" transform="rotate(164 66.9 61.7)" fill="#9eb2d0" fill-opacity="0.35"/><ellipse cx="44.0" cy="92.4" rx="1.1" ry="0.9" transform="rotate(134 44.0 92.4)" fill="#c0cad8" fill-opacity="0.37"/><ellipse cx="88.1" cy="69.7" rx="1.1" ry="0.6" transform="rotate(58 88.1 69.7)" fill="#c0cad8" fill-opacity="0.33"/><ellipse cx="114.2" cy="116.5" rx="1.3" ry="0.9" transform="rotate(117 114.2 116.5)" fill="#9eb2d0" fill-opacity="0.49"/><ellipse cx="107.3" cy="112.6" rx="0.9" ry="0.9" transform="rotate(78 107.3 112.6)" fill="#9eb2d0" fill-opacity="0.34"/><ellipse cx="44.2" cy="67.5" rx="1.1" ry="0.8" transform="rotate(23 44.2 67.5)" fill="#c0cad8" fill-opacity="0.41"/><ellipse cx="104.3" cy="67.2" rx="1.1" ry="0.9" transform="rotate(85 104.3 67.2)" fill="#9eb2d0" fill-opacity="0.45"/><ellipse cx="138.6" cy="110.1" rx="1.2" ry="0.6" transform="rotate(67 138.6 110.1)" fill="#9eb2d0" fill-opacity="0.34"/><ellipse cx="114.9" cy="30.8" rx="1.3" ry="0.9" transform="rotate(11 114.9 30.8)" fill="#c0cad8" fill-opacity="0.35"/><ellipse cx="135.6" cy="40.0" rx="0.9" ry="0.6" transform="rotate(174 135.6 40.0)" fill="#c0cad8" fill-opacity="0.50"/><ellipse cx="41.9" cy="59.3" rx="0.8" ry="0.8" transform="rotate(18 41.9 59.3)" fill="#c0cad8" fill-opacity="0.57"/><ellipse cx="91.4" cy="123.0" rx="1.4" ry="0.7" transform="rotate(146 91.4 123.0)" fill="#b4c2d8" fill-opacity="0.45"/><ellipse cx="78.2" cy="78.9" rx="1.2" ry="0.8" transform="rotate(148 78.2 78.9)" fill="#b4c2d8" fill-opacity="0.57"/><ellipse cx="79.9" cy="58.6" rx="1.1" ry="0.8" transform="rotate(86 79.9 58.6)" fill="#9eb2d0" fill-opacity="0.30"/><ellipse cx="127.1" cy="111.4" rx="0.8" ry="1.0" transform="rotate(14 127.1 111.4)" fill="#a8bad4" fill-opacity="0.51"/><ellipse cx="80.9" cy="127.5" rx="1.3" ry="0.7" transform="rotate(148 80.9 127.5)" fill="#c0cad8" fill-opacity="0.32"/><ellipse cx="95.4" cy="100.2" rx="0.9" ry="0.7" transform="rotate(96 95.4 100.2)" fill="#c0cad8" fill-opacity="0.37"/><ellipse cx="85.3" cy="66.2" rx="1.1" ry="0.7" transform="rotate(85 85.3 66.2)" fill="#c0cad8" fill-opacity="0.53"/><ellipse cx="59.7" cy="118.7" rx="1.3" ry="1.0" transform="rotate(71 59.7 118.7)" fill="#c0cad8" fill-opacity="0.45"/><ellipse cx="78.8" cy="31.5" rx="0.9" ry="0.6" transform="rotate(58 78.8 31.5)" fill="#b4c2d8" fill-opacity="0.48"/><ellipse cx="103.3" cy="54.0" rx="1.2" ry="0.9" transform="rotate(152 103.3 54.0)" fill="#b4c2d8" fill-opacity="0.49"/><ellipse cx="38.8" cy="41.5" rx="1.1" ry="1.0" transform="rotate(142 38.8 41.5)" fill="#b4c2d8" fill-opacity="0.49"/><ellipse cx="121.4" cy="129.0" rx="0.9" ry="0.8" transform="rotate(64 121.4 129.0)" fill="#b4c2d8" fill-opacity="0.53"/><ellipse cx="35.3" cy="80.4" rx="0.9" ry="0.8" transform="rotate(60 35.3 80.4)" fill="#a8bad4" fill-opacity="0.60"/><ellipse cx="64.7" cy="126.0" rx="0.9" ry="0.8" transform="rotate(175 64.7 126.0)" fill="#a8bad4" fill-opacity="0.46"/><ellipse cx="103.0" cy="120.5" rx="1.0" ry="0.9" transform="rotate(49 103.0 120.5)" fill="#a8bad4" fill-opacity="0.42"/><ellipse cx="80.5" cy="99.6" rx="1.4" ry="0.9" transform="rotate(134 80.5 99.6)" fill="#a8bad4" fill-opacity="0.58"/><ellipse cx="89.0" cy="130.5" rx="1.0" ry="0.8" transform="rotate(44 89.0 130.5)" fill="#9eb2d0" fill-opacity="0.51"/><ellipse cx="78.4" cy="46.8" rx="1.2" ry="0.9" transform="rotate(172 78.4 46.8)" fill="#b4c2d8" fill-opacity="0.43"/><ellipse cx="51.0" cy="105.5" rx="1.2" ry="0.7" transform="rotate(157 51.0 105.5)" fill="#b4c2d8" fill-opacity="0.39"/><ellipse cx="106.6" cy="30.5" rx="1.1" ry="0.6" transform="rotate(51 106.6 30.5)" fill="#c0cad8" fill-opacity="0.57"/><ellipse cx="122.9" cy="107.3" rx="1.0" ry="1.0" transform="rotate(83 122.9 107.3)" fill="#c0cad8" fill-opacity="0.33"/><ellipse cx="64.4" cy="28.0" rx="1.3" ry="0.7" transform="rotate(101 64.4 28.0)" fill="#a8bad4" fill-opacity="0.57"/><ellipse cx="97.8" cy="123.4" rx="1.4" ry="0.7" transform="rotate(40 97.8 123.4)" fill="#a8bad4" fill-opacity="0.52"/><ellipse cx="51.4" cy="70.8" rx="1.0" ry="0.6" transform="rotate(33 51.4 70.8)" fill="#c0cad8" fill-opacity="0.38"/><ellipse cx="54.7" cy="65.0" rx="1.0" ry="0.8" transform="rotate(133 54.7 65.0)" fill="#a8bad4" fill-opacity="0.32"/><ellipse cx="64.6" cy="26.7" rx="1.1" ry="0.8" transform="rotate(22 64.6 26.7)" fill="#c0cad8" fill-opacity="0.49"/><ellipse cx="63.5" cy="66.4" rx="0.9" ry="0.7" transform="rotate(130 63.5 66.4)" fill="#9eb2d0" fill-opacity="0.31"/><ellipse cx="133.2" cy="91.9" rx="1.4" ry="0.6" transform="rotate(61 133.2 91.9)" fill="#9eb2d0" fill-opacity="0.36"/><ellipse cx="128.8" cy="99.0" rx="0.8" ry="0.9" transform="rotate(31 128.8 99.0)" fill="#b4c2d8" fill-opacity="0.57"/><ellipse cx="38.5" cy="98.8" rx="1.1" ry="0.9" transform="rotate(131 38.5 98.8)" fill="#a8bad4" fill-opacity="0.48"/><ellipse cx="79.7" cy="40.5" rx="1.0" ry="0.8" transform="rotate(98 79.7 40.5)" fill="#b4c2d8" fill-opacity="0.44"/><ellipse cx="32.5" cy="36.4" rx="1.0" ry="0.9" transform="rotate(107 32.5 36.4)" fill="#c0cad8" fill-opacity="0.50"/><ellipse cx="107.9" cy="89.8" rx="1.3" ry="0.9" transform="rotate(12 107.9 89.8)" fill="#b4c2d8" fill-opacity="0.55"/><ellipse cx="47.7" cy="74.8" rx="0.8" ry="0.7" transform="rotate(129 47.7 74.8)" fill="#a8bad4" fill-opacity="0.37"/><ellipse cx="59.4" cy="95.4" rx="1.2" ry="0.9" transform="rotate(74 59.4 95.4)" fill="#a8bad4" fill-opacity="0.57"/><ellipse cx="125.0" cy="29.2" rx="1.2" ry="1.0" transform="rotate(76 125.0 29.2)" fill="#a8bad4" fill-opacity="0.36"/><ellipse cx="85.5" cy="122.3" rx="1.2" ry="0.7" transform="rotate(33 85.5 122.3)" fill="#a8bad4" fill-opacity="0.51"/><ellipse cx="39.5" cy="28.4" rx="1.0" ry="0.7" transform="rotate(111 39.5 28.4)" fill="#b4c2d8" fill-opacity="0.57"/><ellipse cx="38.0" cy="89.8" rx="0.9" ry="0.9" transform="rotate(25 38.0 89.8)" fill="#b4c2d8" fill-opacity="0.39"/><ellipse cx="132.6" cy="93.6" rx="1.0" ry="0.7" transform="rotate(139 132.6 93.6)" fill="#9eb2d0" fill-opacity="0.54"/><ellipse cx="126.0" cy="104.7" rx="1.3" ry="0.8" transform="rotate(57 126.0 104.7)" fill="#9eb2d0" fill-opacity="0.33"/><ellipse cx="100.3" cy="130.1" rx="1.0" ry="0.6" transform="rotate(39 100.3 130.1)" fill="#9eb2d0" fill-opacity="0.58"/><ellipse cx="33.1" cy="105.3" rx="1.3" ry="0.8" transform="rotate(102 33.1 105.3)" fill="#c0cad8" fill-opacity="0.43"/><ellipse cx="104.0" cy="69.5" rx="1.4" ry="0.6" transform="rotate(101 104.0 69.5)" fill="#a8bad4" fill-opacity="0.50"/><ellipse cx="41.7" cy="74.5" rx="1.2" ry="0.7" transform="rotate(24 41.7 74.5)" fill="#c0cad8" fill-opacity="0.40"/><ellipse cx="132.0" cy="54.7" rx="1.0" ry="1.0" transform="rotate(108 132.0 54.7)" fill="#c0cad8" fill-opacity="0.38"/><ellipse cx="139.1" cy="101.6" rx="1.3" ry="0.9" transform="rotate(95 139.1 101.6)" fill="#c0cad8" fill-opacity="0.31"/><ellipse cx="66.4" cy="27.2" rx="1.0" ry="0.8" transform="rotate(76 66.4 27.2)" fill="#c0cad8" fill-opacity="0.35"/><ellipse cx="54.2" cy="61.7" rx="1.3" ry="0.7" transform="rotate(46 54.2 61.7)" fill="#a8bad4" fill-opacity="0.55"/><ellipse cx="69.9" cy="115.1" rx="1.3" ry="0.9" transform="rotate(126 69.9 115.1)" fill="#9eb2d0" fill-opacity="0.37"/><ellipse cx="129.0" cy="62.7" rx="1.4" ry="0.9" transform="rotate(11 129.0 62.7)" fill="#b4c2d8" fill-opacity="0.31"/><ellipse cx="33.3" cy="109.7" rx="1.2" ry="0.9" transform="rotate(124 33.3 109.7)" fill="#b4c2d8" fill-opacity="0.41"/><ellipse cx="75.9" cy="92.1" rx="1.3" ry="0.8" transform="rotate(55 75.9 92.1)" fill="#a8bad4" fill-opacity="0.57"/><ellipse cx="114.5" cy="54.1" rx="0.9" ry="0.8" transform="rotate(12 114.5 54.1)" fill="#b4c2d8" fill-opacity="0.33"/><ellipse cx="89.4" cy="98.9" rx="0.8" ry="0.6" transform="rotate(134 89.4 98.9)" fill="#a8bad4" fill-opacity="0.46"/><ellipse cx="71.3" cy="124.8" rx="1.4" ry="0.8" transform="rotate(47 71.3 124.8)" fill="#a8bad4" fill-opacity="0.35"/><ellipse cx="79.4" cy="46.2" rx="1.3" ry="0.7" transform="rotate(106 79.4 46.2)" fill="#b4c2d8" fill-opacity="0.42"/><ellipse cx="103.7" cy="63.7" rx="1.1" ry="0.8" transform="rotate(117 103.7 63.7)" fill="#c0cad8" fill-opacity="0.32"/><ellipse cx="108.9" cy="46.2" rx="1.3" ry="0.6" transform="rotate(14 108.9 46.2)" fill="#a8bad4" fill-opacity="0.40"/><ellipse cx="97.1" cy="87.1" rx="1.3" ry="0.7" transform="rotate(112 97.1 87.1)" fill="#9eb2d0" fill-opacity="0.45"/><ellipse cx="136.2" cy="63.4" rx="1.1" ry="0.7" transform="rotate(69 136.2 63.4)" fill="#b4c2d8" fill-opacity="0.43"/><ellipse cx="132.2" cy="50.7" rx="1.4" ry="0.8" transform="rotate(24 132.2 50.7)" fill="#c0cad8" fill-opacity="0.60"/><ellipse cx="99.8" cy="26.3" rx="1.3" ry="0.7" transform="rotate(84 99.8 26.3)" fill="#a8bad4" fill-opacity="0.44"/><ellipse cx="37.5" cy="116.7" rx="1.2" ry="0.9" transform="rotate(120 37.5 116.7)" fill="#9eb2d0" fill-opacity="0.35"/><ellipse cx="118.6" cy="44.5" rx="1.4" ry="0.7" transform="rotate(6 118.6 44.5)" fill="#c0cad8" fill-opacity="0.48"/><ellipse cx="67.6" cy="121.9" rx="1.2" ry="0.6" transform="rotate(42 67.6 121.9)" fill="#a8bad4" fill-opacity="0.31"/><ellipse cx="116.7" cy="60.3" rx="1.3" ry="1.0" transform="rotate(165 116.7 60.3)" fill="#b4c2d8" fill-opacity="0.34"/><ellipse cx="99.6" cy="98.6" rx="1.2" ry="0.7" transform="rotate(120 99.6 98.6)" fill="#a8bad4" fill-opacity="0.58"/><ellipse cx="47.6" cy="99.9" rx="1.2" ry="0.6" transform="rotate(167 47.6 99.9)" fill="#9eb2d0" fill-opacity="0.39"/><ellipse cx="38.3" cy="31.1" rx="0.9" ry="0.7" transform="rotate(58 38.3 31.1)" fill="#9eb2d0" fill-opacity="0.44"/><ellipse cx="51.4" cy="122.7" rx="1.2" ry="0.6" transform="rotate(150 51.4 122.7)" fill="#b4c2d8" fill-opacity="0.56"/><ellipse cx="47.7" cy="74.3" rx="1.0" ry="0.6" transform="rotate(162 47.7 74.3)" fill="#a8bad4" fill-opacity="0.56"/><ellipse cx="97.3" cy="117.4" rx="1.0" ry="1.0" transform="rotate(129 97.3 117.4)" fill="#b4c2d8" fill-opacity="0.45"/><ellipse cx="73.4" cy="46.2" rx="0.9" ry="0.8" transform="rotate(20 73.4 46.2)" fill="#b4c2d8" fill-opacity="0.32"/><ellipse cx="34.2" cy="102.5" rx="1.0" ry="0.7" transform="rotate(170 34.2 102.5)" fill="#c0cad8" fill-opacity="0.39"/><ellipse cx="65.4" cy="80.0" rx="1.2" ry="0.6" transform="rotate(34 65.4 80.0)" fill="#c0cad8" fill-opacity="0.58"/><ellipse cx="63.9" cy="72.0" rx="1.2" ry="0.7" transform="rotate(147 63.9 72.0)" fill="#b4c2d8" fill-opacity="0.55"/><ellipse cx="62.0" cy="46.9" rx="1.2" ry="0.8" transform="rotate(140 62.0 46.9)" fill="#9eb2d0" fill-opacity="0.39"/><ellipse cx="79.1" cy="126.4" rx="1.4" ry="0.8" transform="rotate(164 79.1 126.4)" fill="#9eb2d0" fill-opacity="0.41"/><ellipse cx="95.7" cy="69.9" rx="0.9" ry="0.6" transform="rotate(174 95.7 69.9)" fill="#b4c2d8" fill-opacity="0.52"/><ellipse cx="109.7" cy="95.1" rx="0.9" ry="0.9" transform="rotate(148 109.7 95.1)" fill="#9eb2d0" fill-opacity="0.58"/><ellipse cx="49.4" cy="133.0" rx="1.1" ry="0.8" transform="rotate(54 49.4 133.0)" fill="#b4c2d8" fill-opacity="0.38"/><ellipse cx="41.0" cy="51.7" rx="1.0" ry="0.6" transform="rotate(77 41.0 51.7)" fill="#c0cad8" fill-opacity="0.30"/><ellipse cx="137.4" cy="96.7" rx="1.0" ry="0.9" transform="rotate(149 137.4 96.7)" fill="#c0cad8" fill-opacity="0.34"/><ellipse cx="71.4" cy="131.2" rx="1.0" ry="1.0" transform="rotate(90 71.4 131.2)" fill="#a8bad4" fill-opacity="0.32"/><ellipse cx="127.5" cy="124.0" rx="1.3" ry="0.8" transform="rotate(10 127.5 124.0)" fill="#a8bad4" fill-opacity="0.59"/><ellipse cx="66.1" cy="46.8" rx="1.0" ry="0.9" transform="rotate(114 66.1 46.8)" fill="#b4c2d8" fill-opacity="0.38"/><ellipse cx="72.2" cy="91.8" rx="0.9" ry="0.7" transform="rotate(139 72.2 91.8)" fill="#c0cad8" fill-opacity="0.43"/><ellipse cx="111.9" cy="100.8" rx="1.1" ry="0.8" transform="rotate(102 111.9 100.8)" fill="#c0cad8" fill-opacity="0.51"/><ellipse cx="76.1" cy="112.7" rx="1.2" ry="0.8" transform="rotate(100 76.1 112.7)" fill="#b4c2d8" fill-opacity="0.46"/><ellipse cx="32.7" cy="42.1" rx="1.0" ry="0.9" transform="rotate(56 32.7 42.1)" fill="#9eb2d0" fill-opacity="0.59"/><ellipse cx="69.8" cy="98.2" rx="0.9" ry="0.7" transform="rotate(26 69.8 98.2)" fill="#b4c2d8" fill-opacity="0.47"/><ellipse cx="63.7" cy="86.6" rx="0.9" ry="0.7" transform="rotate(127 63.7 86.6)" fill="#b4c2d8" fill-opacity="0.56"/><ellipse cx="84.0" cy="122.7" rx="1.3" ry="0.9" transform="rotate(117 84.0 122.7)" fill="#9eb2d0" fill-opacity="0.39"/><ellipse cx="50.6" cy="50.0" rx="0.8" ry="0.9" transform="rotate(120 50.6 50.0)" fill="#c0cad8" fill-opacity="0.47"/><ellipse cx="109.1" cy="32.5" rx="1.2" ry="0.8" transform="rotate(85 109.1 32.5)" fill="#b4c2d8" fill-opacity="0.57"/><ellipse cx="95.5" cy="118.5" rx="1.3" ry="0.9" transform="rotate(77 95.5 118.5)" fill="#9eb2d0" fill-opacity="0.38"/><ellipse cx="128.4" cy="30.9" rx="1.3" ry="0.8" transform="rotate(103 128.4 30.9)" fill="#b4c2d8" fill-opacity="0.57"/><ellipse cx="37.0" cy="114.4" rx="1.4" ry="0.8" transform="rotate(35 37.0 114.4)" fill="#b4c2d8" fill-opacity="0.55"/><ellipse cx="105.6" cy="116.5" rx="1.1" ry="0.9" transform="rotate(1 105.6 116.5)" fill="#c0cad8" fill-opacity="0.60"/><ellipse cx="44.5" cy="129.2" rx="1.0" ry="1.0" transform="rotate(95 44.5 129.2)" fill="#9eb2d0" fill-opacity="0.45"/><ellipse cx="40.0" cy="94.7" rx="1.3" ry="0.8" transform="rotate(134 40.0 94.7)" fill="#c0cad8" fill-opacity="0.43"/><ellipse cx="80.4" cy="116.4" rx="1.2" ry="0.9" transform="rotate(65 80.4 116.4)" fill="#9eb2d0" fill-opacity="0.52"/><ellipse cx="134.0" cy="68.4" rx="1.1" ry="0.8" transform="rotate(136 134.0 68.4)" fill="#a8bad4" fill-opacity="0.58"/><ellipse cx="55.7" cy="60.1" rx="1.3" ry="0.8" transform="rotate(30 55.7 60.1)" fill="#b4c2d8" fill-opacity="0.49"/><ellipse cx="109.6" cy="42.2" rx="1.2" ry="0.7" transform="rotate(61 109.6 42.2)" fill="#a8bad4" fill-opacity="0.50"/><ellipse cx="95.8" cy="52.1" rx="1.3" ry="0.7" transform="rotate(80 95.8 52.1)" fill="#9eb2d0" fill-opacity="0.38"/><ellipse cx="100.9" cy="105.0" rx="0.9" ry="0.9" transform="rotate(124 100.9 105.0)" fill="#a8bad4" fill-opacity="0.51"/><ellipse cx="114.7" cy="105.8" rx="0.9" ry="0.7" transform="rotate(4 114.7 105.8)" fill="#a8bad4" fill-opacity="0.57"/><ellipse cx="110.7" cy="128.6" rx="1.4" ry="0.8" transform="rotate(7 110.7 128.6)" fill="#c0cad8" fill-opacity="0.57"/><ellipse cx="125.9" cy="55.9" rx="1.2" ry="0.6" transform="rotate(61 125.9 55.9)" fill="#b4c2d8" fill-opacity="0.34"/><ellipse cx="90.2" cy="114.6" rx="1.0" ry="1.0" transform="rotate(180 90.2 114.6)" fill="#a8bad4" fill-opacity="0.41"/><ellipse cx="56.3" cy="83.4" rx="1.2" ry="0.8" transform="rotate(70 56.3 83.4)" fill="#9eb2d0" fill-opacity="0.40"/><ellipse cx="91.3" cy="124.6" rx="0.9" ry="1.0" transform="rotate(99 91.3 124.6)" fill="#9eb2d0" fill-opacity="0.50"/><ellipse cx="32.6" cy="92.1" rx="1.0" ry="0.9" transform="rotate(50 32.6 92.1)" fill="#9eb2d0" fill-opacity="0.49"/><ellipse cx="54.7" cy="55.0" rx="0.8" ry="0.9" transform="rotate(51 54.7 55.0)" fill="#b4c2d8" fill-opacity="0.53"/><ellipse cx="51.6" cy="60.3" rx="1.1" ry="0.9" transform="rotate(14 51.6 60.3)" fill="#b4c2d8" fill-opacity="0.55"/><ellipse cx="123.5" cy="62.9" rx="1.1" ry="0.7" transform="rotate(76 123.5 62.9)" fill="#9eb2d0" fill-opacity="0.48"/><ellipse cx="44.1" cy="31.2" rx="0.9" ry="0.7" transform="rotate(148 44.1 31.2)" fill="#9eb2d0" fill-opacity="0.47"/><ellipse cx="103.8" cy="39.2" rx="1.0" ry="0.8" transform="rotate(74 103.8 39.2)" fill="#c0cad8" fill-opacity="0.58"/><ellipse cx="76.0" cy="77.0" rx="1.3" ry="0.9" transform="rotate(149 76.0 77.0)" fill="#b4c2d8" fill-opacity="0.30"/><ellipse cx="66.3" cy="49.9" rx="1.2" ry="0.6" transform="rotate(156 66.3 49.9)" fill="#c0cad8" fill-opacity="0.52"/><ellipse cx="47.3" cy="45.9" rx="1.0" ry="0.9" transform="rotate(84 47.3 45.9)" fill="#c0cad8" fill-opacity="0.52"/><ellipse cx="136.3" cy="41.6" rx="1.0" ry="0.9" transform="rotate(85 136.3 41.6)" fill="#b4c2d8" fill-opacity="0.42"/><ellipse cx="51.6" cy="64.0" rx="1.3" ry="0.7" transform="rotate(165 51.6 64.0)" fill="#9eb2d0" fill-opacity="0.36"/><ellipse cx="62.3" cy="72.3" rx="1.4" ry="0.9" transform="rotate(110 62.3 72.3)" fill="#b4c2d8" fill-opacity="0.60"/><ellipse cx="72.3" cy="54.7" rx="1.0" ry="0.6" transform="rotate(126 72.3 54.7)" fill="#c0cad8" fill-opacity="0.36"/><ellipse cx="134.0" cy="96.8" rx="0.8" ry="0.6" transform="rotate(147 134.0 96.8)" fill="#a8bad4" fill-opacity="0.51"/><ellipse cx="50.3" cy="85.0" rx="1.4" ry="0.6" transform="rotate(135 50.3 85.0)" fill="#b4c2d8" fill-opacity="0.43"/><ellipse cx="98.8" cy="74.0" rx="1.1" ry="0.7" transform="rotate(70 98.8 74.0)" fill="#9eb2d0" fill-opacity="0.42"/><ellipse cx="74.8" cy="56.7" rx="1.2" ry="1.0" transform="rotate(18 74.8 56.7)" fill="#a8bad4" fill-opacity="0.51"/><ellipse cx="85.9" cy="124.6" rx="1.1" ry="0.7" transform="rotate(111 85.9 124.6)" fill="#c0cad8" fill-opacity="0.40"/><ellipse cx="127.4" cy="70.9" rx="1.0" ry="0.9" transform="rotate(71 127.4 70.9)" fill="#9eb2d0" fill-opacity="0.53"/><ellipse cx="127.1" cy="106.2" rx="1.1" ry="0.8" transform="rotate(66 127.1 106.2)" fill="#b4c2d8" fill-opacity="0.52"/><ellipse cx="84.1" cy="98.2" rx="1.2" ry="0.6" transform="rotate(7 84.1 98.2)" fill="#c0cad8" fill-opacity="0.59"/><ellipse cx="96.5" cy="77.5" rx="0.9" ry="0.7" transform="rotate(38 96.5 77.5)" fill="#9eb2d0" fill-opacity="0.58"/><ellipse cx="43.7" cy="93.2" rx="1.2" ry="0.6" transform="rotate(156 43.7 93.2)" fill="#b4c2d8" fill-opacity="0.39"/><ellipse cx="57.6" cy="54.0" rx="1.0" ry="0.7" transform="rotate(119 57.6 54.0)" fill="#b4c2d8" fill-opacity="0.57"/><ellipse cx="114.7" cy="119.7" rx="1.4" ry="1.0" transform="rotate(9 114.7 119.7)" fill="#b4c2d8" fill-opacity="0.58"/><ellipse cx="72.8" cy="74.0" rx="1.1" ry="0.9" transform="rotate(158 72.8 74.0)" fill="#9eb2d0" fill-opacity="0.38"/><ellipse cx="51.9" cy="88.4" rx="0.9" ry="0.8" transform="rotate(102 51.9 88.4)" fill="#b4c2d8" fill-opacity="0.42"/><ellipse cx="112.4" cy="100.5" rx="1.0" ry="0.7" transform="rotate(145 112.4 100.5)" fill="#9eb2d0" fill-opacity="0.41"/><ellipse cx="88.6" cy="77.8" rx="0.9" ry="0.7" transform="rotate(102 88.6 77.8)" fill="#b4c2d8" fill-opacity="0.47"/><ellipse cx="126.9" cy="84.3" rx="0.9" ry="0.7" transform="rotate(107 126.9 84.3)" fill="#a8bad4" fill-opacity="0.38"/><ellipse cx="52.2" cy="125.1" rx="1.4" ry="0.7" transform="rotate(126 52.2 125.1)" fill="#9eb2d0" fill-opacity="0.39"/><ellipse cx="85.6" cy="69.7" rx="1.3" ry="1.0" transform="rotate(76 85.6 69.7)" fill="#a8bad4" fill-opacity="0.59"/><ellipse cx="43.6" cy="63.0" rx="1.0" ry="0.9" transform="rotate(96 43.6 63.0)" fill="#9eb2d0" fill-opacity="0.38"/><ellipse cx="71.4" cy="114.7" rx="1.3" ry="0.7" transform="rotate(129 71.4 114.7)" fill="#9eb2d0" fill-opacity="0.55"/><ellipse cx="74.5" cy="107.2" rx="1.4" ry="0.7" transform="rotate(102 74.5 107.2)" fill="#b4c2d8" fill-opacity="0.32"/><ellipse cx="120.0" cy="85.2" rx="1.1" ry="0.9" transform="rotate(153 120.0 85.2)" fill="#9eb2d0" fill-opacity="0.42"/><ellipse cx="105.1" cy="30.1" rx="1.0" ry="1.0" transform="rotate(67 105.1 30.1)" fill="#9eb2d0" fill-opacity="0.59"/><ellipse cx="95.8" cy="88.0" rx="1.3" ry="0.8" transform="rotate(150 95.8 88.0)" fill="#b4c2d8" fill-opacity="0.56"/><ellipse cx="79.6" cy="73.7" rx="0.8" ry="0.7" transform="rotate(89 79.6 73.7)" fill="#a8bad4" fill-opacity="0.55"/><ellipse cx="35.6" cy="121.0" rx="1.1" ry="0.8" transform="rotate(167 35.6 121.0)" fill="#c0cad8" fill-opacity="0.41"/><ellipse cx="100.7" cy="76.6" rx="0.9" ry="0.7" transform="rotate(139 100.7 76.6)" fill="#c0cad8" fill-opacity="0.59"/><ellipse cx="100.8" cy="61.0" rx="0.8" ry="0.9" transform="rotate(17 100.8 61.0)" fill="#9eb2d0" fill-opacity="0.39"/><ellipse cx="53.2" cy="78.8" rx="0.9" ry="0.7" transform="rotate(55 53.2 78.8)" fill="#9eb2d0" fill-opacity="0.35"/><ellipse cx="109.5" cy="78.9" rx="1.3" ry="0.8" transform="rotate(88 109.5 78.9)" fill="#b4c2d8" fill-opacity="0.57"/><ellipse cx="101.6" cy="103.6" rx="1.1" ry="0.9" transform="rotate(95 101.6 103.6)" fill="#a8bad4" fill-opacity="0.57"/><ellipse cx="117.3" cy="29.3" rx="1.1" ry="0.8" transform="rotate(3 117.3 29.3)" fill="#9eb2d0" fill-opacity="0.53"/><ellipse cx="80.7" cy="35.4" rx="1.0" ry="0.7" transform="rotate(25 80.7 35.4)" fill="#a8bad4" fill-opacity="0.39"/><ellipse cx="52.7" cy="108.3" rx="1.1" ry="0.8" transform="rotate(169 52.7 108.3)" fill="#a8bad4" fill-opacity="0.51"/><ellipse cx="121.8" cy="114.3" rx="1.1" ry="0.7" transform="rotate(80 121.8 114.3)" fill="#9eb2d0" fill-opacity="0.32"/><ellipse cx="120.8" cy="73.3" rx="1.0" ry="0.7" transform="rotate(31 120.8 73.3)" fill="#a8bad4" fill-opacity="0.32"/><ellipse cx="47.6" cy="47.0" rx="1.2" ry="0.6" transform="rotate(13 47.6 47.0)" fill="#a8bad4" fill-opacity="0.35"/></g></g><g clip-path="url(#c1)"><rect x="143" y="25.2" width="108.50" height="108.80" fill="#fff" filter="url(#h1)"/><g filter="url(#nb)"><g fill="none" stroke="#e2c6bc" stroke-linecap="round"><path d="M170.2,24.1Q172.6,24.8 175.1,25.0" stroke-width="1.1" stroke-opacity="0.50"/><path d="M163.8,83.0Q165.2,83.8 166.8,84.0" stroke-width="1.1" stroke-opacity="0.46"/><path d="M218.4,42.1Q220.3,42.1 222.2,42.0" stroke-width="1.0" stroke-opacity="0.59"/><path d="M226.7,51.1Q230.2,52.1 233.2,54.1" stroke-width="0.8" stroke-opacity="0.48"/><path d="M240.6,56.0Q243.2,53.6 246.6,52.6" stroke-width="1.4" stroke-opacity="0.49"/><path d="M244.6,117.2Q247.9,118.6 250.6,120.9" stroke-width="1.3" stroke-opacity="0.48"/><path d="M229.2,132.2Q231.5,132.6 233.1,134.3" stroke-width="1.1" stroke-opacity="0.40"/><path d="M181.6,44.4Q184.5,44.0 186.7,46.1" stroke-width="1.0" stroke-opacity="0.35"/><path d="M175.2,56.4Q176.8,58.1 179.0,57.1" stroke-width="1.0" stroke-opacity="0.54"/><path d="M237.1,86.1Q238.8,86.3 240.1,85.0" stroke-width="1.1" stroke-opacity="0.55"/><path d="M185.4,121.4Q187.7,120.8 188.0,118.5" stroke-width="1.2" stroke-opacity="0.48"/><path d="M175.9,22.3Q179.3,24.2 182.1,26.9" stroke-width="1.1" stroke-opacity="0.54"/><path d="M182.1,89.5Q183.8,90.7 185.8,91.6" stroke-width="0.9" stroke-opacity="0.42"/><path d="M243.6,104.1Q245.4,104.6 246.8,103.3" stroke-width="0.9" stroke-opacity="0.59"/><path d="M192.6,32.9Q194.8,36.0 196.8,39.2" stroke-width="1.1" stroke-opacity="0.43"/><path d="M154.8,116.1Q156.8,116.0 158.1,114.5" stroke-width="0.9" stroke-opacity="0.53"/><path d="M192.8,43.3Q194.7,41.4 197.3,40.5" stroke-width="1.1" stroke-opacity="0.33"/><path d="M179.9,58.5Q180.4,61.3 182.8,62.9" stroke-width="1.0" stroke-opacity="0.40"/><path d="M226.6,92.3Q227.5,89.4 230.0,87.8" stroke-width="1.0" stroke-opacity="0.35"/><path d="M178.4,134.2Q180.2,136.6 183.3,136.5" stroke-width="1.1" stroke-opacity="0.52"/><path d="M251.5,107.1Q253.5,107.4 255.5,107.2" stroke-width="1.1" stroke-opacity="0.45"/><path d="M139.4,48.9Q143.0,50.3 144.5,53.8" stroke-width="1.2" stroke-opacity="0.37"/><path d="M211.7,60.6Q212.8,58.6 214.1,56.7" stroke-width="1.0" stroke-opacity="0.55"/><path d="M217.1,109.8Q220.3,110.0 223.0,108.3" stroke-width="1.1" stroke-opacity="0.30"/><path d="M236.1,28.8Q237.1,30.8 239.2,31.8" stroke-width="1.1" stroke-opacity="0.48"/><path d="M242.8,94.2Q246.1,92.3 249.8,91.3" stroke-width="1.4" stroke-opacity="0.31"/><path d="M172.9,94.1Q175.5,94.7 178.1,94.3" stroke-width="1.0" stroke-opacity="0.40"/><path d="M244.0,107.4Q246.3,107.7 248.3,106.5" stroke-width="1.4" stroke-opacity="0.41"/><path d="M176.0,105.9Q178.2,107.6 180.2,109.5" stroke-width="1.4" stroke-opacity="0.40"/><path d="M235.9,59.2Q238.9,56.4 243.0,56.0" stroke-width="1.1" stroke-opacity="0.40"/></g><g fill="none" stroke="#dcc0b8" stroke-linecap="round"><path d="M188.2,87.5Q190.6,89.7 192.3,92.4" stroke-width="1.0" stroke-opacity="0.53"/><path d="M231.9,61.7Q233.7,64.0 236.7,63.8" stroke-width="0.9" stroke-opacity="0.45"/><path d="M245.6,93.7Q248.5,94.9 251.4,96.0" stroke-width="1.0" stroke-opacity="0.46"/><path d="M228.7,86.0Q232.3,84.6 236.0,83.6" stroke-width="1.0" stroke-opacity="0.53"/><path d="M227.3,95.5Q230.1,96.9 231.6,99.7" stroke-width="1.4" stroke-opacity="0.43"/><path d="M157.5,121.5Q160.2,120.7 163.0,120.5" stroke-width="1.0" stroke-opacity="0.33"/><path d="M159.4,57.6Q161.4,57.2 163.4,57.0" stroke-width="1.2" stroke-opacity="0.30"/><path d="M201.1,124.2Q204.7,124.2 208.2,125.1" stroke-width="1.2" stroke-opacity="0.38"/><path d="M242.6,56.9Q245.3,56.8 247.6,58.2" stroke-width="1.3" stroke-opacity="0.36"/><path d="M213.7,135.4Q216.1,135.0 217.5,137.0" stroke-width="1.2" stroke-opacity="0.31"/><path d="M166.7,125.6Q168.1,126.8 168.5,128.6" stroke-width="0.9" stroke-opacity="0.58"/><path d="M203.6,104.9Q205.6,104.9 206.0,103.0" stroke-width="1.0" stroke-opacity="0.51"/><path d="M185.7,121.1Q188.4,118.4 192.0,117.0" stroke-width="1.0" stroke-opacity="0.54"/><path d="M226.0,90.0Q228.3,90.0 230.4,90.7" stroke-width="1.0" stroke-opacity="0.45"/><path d="M176.7,56.5Q178.3,59.4 180.5,61.8" stroke-width="1.2" stroke-opacity="0.59"/><path d="M160.3,84.9Q162.7,84.2 162.7,81.7" stroke-width="1.2" stroke-opacity="0.32"/><path d="M183.9,112.0Q184.8,109.5 187.4,109.1" stroke-width="1.4" stroke-opacity="0.34"/><path d="M176.1,31.9Q178.0,31.6 178.7,33.4" stroke-width="1.1" stroke-opacity="0.50"/><path d="M186.4,117.7Q188.1,119.5 189.8,121.3" stroke-width="1.0" stroke-opacity="0.59"/><path d="M182.2,47.9Q185.8,46.5 189.3,48.1" stroke-width="1.1" stroke-opacity="0.34"/><path d="M214.2,73.5Q217.0,72.8 219.3,71.2" stroke-width="1.0" stroke-opacity="0.42"/><path d="M226.6,101.2Q228.0,100.0 229.8,100.5" stroke-width="1.4" stroke-opacity="0.44"/><path d="M186.8,112.9Q188.5,111.1 190.9,110.4" stroke-width="0.9" stroke-opacity="0.31"/><path d="M242.5,120.9Q244.6,119.9 247.0,120.1" stroke-width="1.2" stroke-opacity="0.48"/><path d="M141.4,82.9Q145.2,83.6 148.5,81.7" stroke-width="0.9" stroke-opacity="0.40"/><path d="M197.1,31.7Q199.6,31.4 200.6,33.7" stroke-width="1.1" stroke-opacity="0.34"/><path d="M184.5,21.6Q188.1,23.1 189.9,26.5" stroke-width="1.0" stroke-opacity="0.44"/><path d="M250.3,106.9Q253.4,106.2 256.1,104.5" stroke-width="0.9" stroke-opacity="0.52"/><path d="M137.5,38.9Q140.6,39.3 143.6,38.7" stroke-width="1.4" stroke-opacity="0.52"/><path d="M243.0,39.0Q244.8,41.8 248.0,42.3" stroke-width="1.1" stroke-opacity="0.55"/></g><ellipse cx="247.7" cy="56.9" rx="1.6" ry="1.3" transform="rotate(132 247.7 56.9)" fill="#9294c0" fill-opacity="0.78"/><ellipse cx="168.8" cy="48.0" rx="1.3" ry="1.2" transform="rotate(166 168.8 48.0)" fill="#8a8cb8" fill-opacity="0.72"/><ellipse cx="206.1" cy="85.0" rx="2.2" ry="1.2" transform="rotate(126 206.1 85.0)" fill="#8a8cb8" fill-opacity="0.75"/><ellipse cx="144.3" cy="100.9" rx="1.5" ry="0.9" transform="rotate(83 144.3 100.9)" fill="#9294c0" fill-opacity="0.76"/><ellipse cx="213.2" cy="84.1" rx="1.7" ry="1.2" transform="rotate(45 213.2 84.1)" fill="#9294c0" fill-opacity="0.71"/><ellipse cx="236.7" cy="63.3" rx="1.3" ry="1.2" transform="rotate(144 236.7 63.3)" fill="#aeb0cc" fill-opacity="0.64"/><ellipse cx="241.7" cy="113.0" rx="1.8" ry="1.3" transform="rotate(42 241.7 113.0)" fill="#aeb0cc" fill-opacity="0.55"/><ellipse cx="224.8" cy="122.6" rx="1.6" ry="1.0" transform="rotate(109 224.8 122.6)" fill="#9294c0" fill-opacity="0.68"/><ellipse cx="163.0" cy="31.4" rx="1.5" ry="1.0" transform="rotate(160 163.0 31.4)" fill="#aeb0cc" fill-opacity="0.67"/><ellipse cx="216.4" cy="69.2" rx="2.1" ry="1.3" transform="rotate(160 216.4 69.2)" fill="#8284b0" fill-opacity="0.51"/><ellipse cx="224.7" cy="38.1" rx="1.9" ry="1.2" transform="rotate(11 224.7 38.1)" fill="#8a8cb8" fill-opacity="0.57"/><ellipse cx="224.8" cy="73.8" rx="1.7" ry="0.9" transform="rotate(46 224.8 73.8)" fill="#8a8cb8" fill-opacity="0.59"/><ellipse cx="216.0" cy="86.4" rx="1.8" ry="1.2" transform="rotate(46 216.0 86.4)" fill="#8284b0" fill-opacity="0.52"/><ellipse cx="147.3" cy="37.9" rx="2.1" ry="1.2" transform="rotate(113 147.3 37.9)" fill="#8284b0" fill-opacity="0.68"/><ellipse cx="191.3" cy="79.2" rx="2.3" ry="1.0" transform="rotate(137 191.3 79.2)" fill="#aeb0cc" fill-opacity="0.76"/><ellipse cx="189.6" cy="114.5" rx="2.2" ry="1.1" transform="rotate(90 189.6 114.5)" fill="#8a8cb8" fill-opacity="0.80"/><ellipse cx="211.9" cy="119.3" rx="1.3" ry="1.3" transform="rotate(95 211.9 119.3)" fill="#a0a2c8" fill-opacity="0.67"/><ellipse cx="231.3" cy="112.5" rx="2.2" ry="1.3" transform="rotate(18 231.3 112.5)" fill="#8a8cb8" fill-opacity="0.55"/><ellipse cx="174.2" cy="60.8" rx="1.9" ry="0.9" transform="rotate(85 174.2 60.8)" fill="#a0a2c8" fill-opacity="0.62"/><ellipse cx="217.5" cy="118.8" rx="2.1" ry="1.2" transform="rotate(26 217.5 118.8)" fill="#9294c0" fill-opacity="0.69"/><ellipse cx="250.0" cy="104.8" rx="1.8" ry="1.1" transform="rotate(79 250.0 104.8)" fill="#aeb0cc" fill-opacity="0.77"/><ellipse cx="195.5" cy="47.6" rx="2.2" ry="0.9" transform="rotate(55 195.5 47.6)" fill="#aeb0cc" fill-opacity="0.63"/><ellipse cx="202.2" cy="118.0" rx="1.8" ry="1.1" transform="rotate(39 202.2 118.0)" fill="#a0a2c8" fill-opacity="0.68"/><ellipse cx="144.0" cy="61.9" rx="2.3" ry="1.0" transform="rotate(42 144.0 61.9)" fill="#8a8cb8" fill-opacity="0.61"/><ellipse cx="176.8" cy="47.8" rx="2.2" ry="0.9" transform="rotate(114 176.8 47.8)" fill="#8a8cb8" fill-opacity="0.74"/><ellipse cx="196.6" cy="132.5" rx="2.0" ry="1.0" transform="rotate(115 196.6 132.5)" fill="#a0a2c8" fill-opacity="0.52"/><ellipse cx="177.8" cy="46.4" rx="2.2" ry="0.9" transform="rotate(13 177.8 46.4)" fill="#a0a2c8" fill-opacity="0.59"/><ellipse cx="210.8" cy="105.5" rx="1.8" ry="1.3" transform="rotate(66 210.8 105.5)" fill="#8a8cb8" fill-opacity="0.60"/><ellipse cx="153.6" cy="97.2" rx="2.1" ry="1.2" transform="rotate(15 153.6 97.2)" fill="#8a8cb8" fill-opacity="0.75"/><ellipse cx="197.2" cy="106.1" rx="2.1" ry="1.1" transform="rotate(177 197.2 106.1)" fill="#aeb0cc" fill-opacity="0.67"/><ellipse cx="244.9" cy="95.2" rx="1.6" ry="1.0" transform="rotate(97 244.9 95.2)" fill="#8284b0" fill-opacity="0.75"/><ellipse cx="199.0" cy="84.5" rx="2.1" ry="1.2" transform="rotate(163 199.0 84.5)" fill="#9294c0" fill-opacity="0.53"/><ellipse cx="247.4" cy="53.2" rx="1.5" ry="0.9" transform="rotate(162 247.4 53.2)" fill="#aeb0cc" fill-opacity="0.60"/><ellipse cx="208.2" cy="109.9" rx="1.3" ry="1.2" transform="rotate(2 208.2 109.9)" fill="#9294c0" fill-opacity="0.60"/><ellipse cx="219.3" cy="97.0" rx="1.8" ry="0.9" transform="rotate(145 219.3 97.0)" fill="#a0a2c8" fill-opacity="0.57"/><ellipse cx="162.6" cy="96.7" rx="1.7" ry="1.0" transform="rotate(113 162.6 96.7)" fill="#8a8cb8" fill-opacity="0.67"/><ellipse cx="181.6" cy="94.8" rx="1.7" ry="1.0" transform="rotate(38 181.6 94.8)" fill="#aeb0cc" fill-opacity="0.61"/><ellipse cx="181.7" cy="108.7" rx="2.2" ry="1.3" transform="rotate(66 181.7 108.7)" fill="#9294c0" fill-opacity="0.64"/><ellipse cx="163.6" cy="32.5" rx="2.3" ry="0.9" transform="rotate(55 163.6 32.5)" fill="#8a8cb8" fill-opacity="0.66"/><ellipse cx="177.1" cy="62.1" rx="2.2" ry="0.9" transform="rotate(79 177.1 62.1)" fill="#8a8cb8" fill-opacity="0.59"/><ellipse cx="208.0" cy="100.1" rx="1.9" ry="1.0" transform="rotate(109 208.0 100.1)" fill="#a0a2c8" fill-opacity="0.50"/><ellipse cx="221.7" cy="94.7" rx="2.0" ry="1.2" transform="rotate(152 221.7 94.7)" fill="#aeb0cc" fill-opacity="0.61"/><ellipse cx="177.1" cy="100.0" rx="2.2" ry="1.2" transform="rotate(102 177.1 100.0)" fill="#9294c0" fill-opacity="0.53"/><ellipse cx="156.2" cy="108.8" rx="1.6" ry="1.1" transform="rotate(136 156.2 108.8)" fill="#8284b0" fill-opacity="0.61"/><ellipse cx="231.6" cy="30.1" rx="1.3" ry="0.9" transform="rotate(175 231.6 30.1)" fill="#8284b0" fill-opacity="0.64"/><ellipse cx="239.3" cy="63.5" rx="1.5" ry="1.0" transform="rotate(0 239.3 63.5)" fill="#8a8cb8" fill-opacity="0.73"/><ellipse cx="206.5" cy="120.0" rx="1.9" ry="0.9" transform="rotate(147 206.5 120.0)" fill="#9294c0" fill-opacity="0.74"/><ellipse cx="161.9" cy="26.5" rx="2.2" ry="1.2" transform="rotate(120 161.9 26.5)" fill="#9294c0" fill-opacity="0.58"/><ellipse cx="204.6" cy="121.4" rx="1.4" ry="1.0" transform="rotate(116 204.6 121.4)" fill="#a0a2c8" fill-opacity="0.61"/><ellipse cx="207.4" cy="47.9" rx="1.8" ry="0.9" transform="rotate(16 207.4 47.9)" fill="#8a8cb8" fill-opacity="0.79"/><ellipse cx="146.2" cy="99.5" rx="1.8" ry="1.0" transform="rotate(162 146.2 99.5)" fill="#a0a2c8" fill-opacity="0.70"/><ellipse cx="161.2" cy="127.7" rx="1.8" ry="1.0" transform="rotate(96 161.2 127.7)" fill="#8284b0" fill-opacity="0.55"/><ellipse cx="202.8" cy="112.6" rx="1.5" ry="1.2" transform="rotate(64 202.8 112.6)" fill="#aeb0cc" fill-opacity="0.69"/><ellipse cx="173.9" cy="82.0" rx="2.1" ry="1.2" transform="rotate(147 173.9 82.0)" fill="#9294c0" fill-opacity="0.78"/><ellipse cx="168.9" cy="130.1" rx="2.1" ry="1.1" transform="rotate(51 168.9 130.1)" fill="#8284b0" fill-opacity="0.77"/><ellipse cx="151.7" cy="62.3" rx="2.3" ry="1.2" transform="rotate(134 151.7 62.3)" fill="#aeb0cc" fill-opacity="0.69"/><ellipse cx="189.6" cy="71.3" rx="1.7" ry="1.0" transform="rotate(170 189.6 71.3)" fill="#a0a2c8" fill-opacity="0.57"/><ellipse cx="213.0" cy="89.0" rx="1.8" ry="1.0" transform="rotate(80 213.0 89.0)" fill="#8a8cb8" fill-opacity="0.73"/><ellipse cx="216.7" cy="103.1" rx="1.6" ry="1.0" transform="rotate(46 216.7 103.1)" fill="#9294c0" fill-opacity="0.73"/><ellipse cx="223.0" cy="126.0" rx="1.3" ry="1.3" transform="rotate(84 223.0 126.0)" fill="#9294c0" fill-opacity="0.56"/><ellipse cx="216.8" cy="124.8" rx="1.6" ry="1.1" transform="rotate(157 216.8 124.8)" fill="#aeb0cc" fill-opacity="0.73"/><ellipse cx="184.0" cy="33.6" rx="1.4" ry="1.0" transform="rotate(149 184.0 33.6)" fill="#aeb0cc" fill-opacity="0.71"/><ellipse cx="194.6" cy="111.3" rx="2.2" ry="1.0" transform="rotate(174 194.6 111.3)" fill="#aeb0cc" fill-opacity="0.63"/><ellipse cx="160.1" cy="88.9" rx="2.0" ry="1.0" transform="rotate(35 160.1 88.9)" fill="#9294c0" fill-opacity="0.74"/><ellipse cx="174.3" cy="115.7" rx="1.8" ry="1.0" transform="rotate(166 174.3 115.7)" fill="#8a8cb8" fill-opacity="0.70"/><ellipse cx="147.4" cy="105.9" rx="2.1" ry="1.1" transform="rotate(52 147.4 105.9)" fill="#9294c0" fill-opacity="0.51"/><ellipse cx="160.3" cy="42.6" rx="1.9" ry="1.1" transform="rotate(9 160.3 42.6)" fill="#8284b0" fill-opacity="0.64"/><ellipse cx="181.3" cy="93.1" rx="1.4" ry="1.0" transform="rotate(27 181.3 93.1)" fill="#aeb0cc" fill-opacity="0.66"/><ellipse cx="231.6" cy="60.0" rx="1.8" ry="1.2" transform="rotate(122 231.6 60.0)" fill="#a0a2c8" fill-opacity="0.63"/><ellipse cx="165.7" cy="61.3" rx="2.1" ry="1.3" transform="rotate(58 165.7 61.3)" fill="#8284b0" fill-opacity="0.55"/><ellipse cx="208.5" cy="65.2" rx="2.2" ry="0.9" transform="rotate(57 208.5 65.2)" fill="#8a8cb8" fill-opacity="0.67"/><ellipse cx="159.2" cy="26.6" rx="1.3" ry="1.1" transform="rotate(27 159.2 26.6)" fill="#aeb0cc" fill-opacity="0.72"/><ellipse cx="213.4" cy="69.0" rx="1.7" ry="1.2" transform="rotate(162 213.4 69.0)" fill="#aeb0cc" fill-opacity="0.53"/><ellipse cx="243.1" cy="82.1" rx="1.4" ry="1.1" transform="rotate(14 243.1 82.1)" fill="#aeb0cc" fill-opacity="0.72"/><ellipse cx="199.6" cy="100.9" rx="2.1" ry="0.9" transform="rotate(12 199.6 100.9)" fill="#9294c0" fill-opacity="0.74"/><ellipse cx="159.1" cy="80.7" rx="1.9" ry="0.9" transform="rotate(80 159.1 80.7)" fill="#8284b0" fill-opacity="0.73"/><ellipse cx="149.5" cy="88.5" rx="2.0" ry="1.1" transform="rotate(96 149.5 88.5)" fill="#a0a2c8" fill-opacity="0.53"/><ellipse cx="175.0" cy="115.8" rx="2.1" ry="0.9" transform="rotate(67 175.0 115.8)" fill="#8284b0" fill-opacity="0.56"/><ellipse cx="235.2" cy="47.7" rx="2.3" ry="1.0" transform="rotate(12 235.2 47.7)" fill="#8284b0" fill-opacity="0.60"/><ellipse cx="173.3" cy="52.5" rx="1.4" ry="1.1" transform="rotate(7 173.3 52.5)" fill="#8284b0" fill-opacity="0.79"/><ellipse cx="231.3" cy="67.9" rx="1.8" ry="1.3" transform="rotate(13 231.3 67.9)" fill="#8a8cb8" fill-opacity="0.51"/><ellipse cx="162.4" cy="42.1" rx="2.1" ry="1.0" transform="rotate(31 162.4 42.1)" fill="#8284b0" fill-opacity="0.57"/><ellipse cx="194.9" cy="34.8" rx="2.0" ry="1.2" transform="rotate(178 194.9 34.8)" fill="#aeb0cc" fill-opacity="0.69"/><ellipse cx="178.9" cy="81.1" rx="2.0" ry="1.1" transform="rotate(164 178.9 81.1)" fill="#a0a2c8" fill-opacity="0.71"/><ellipse cx="171.2" cy="89.4" rx="2.3" ry="1.1" transform="rotate(24 171.2 89.4)" fill="#aeb0cc" fill-opacity="0.61"/><ellipse cx="203.4" cy="45.4" rx="1.5" ry="1.3" transform="rotate(125 203.4 45.4)" fill="#aeb0cc" fill-opacity="0.61"/><ellipse cx="200.3" cy="107.1" rx="1.4" ry="1.0" transform="rotate(103 200.3 107.1)" fill="#8a8cb8" fill-opacity="0.63"/><ellipse cx="154.5" cy="46.5" rx="1.7" ry="1.0" transform="rotate(74 154.5 46.5)" fill="#a0a2c8" fill-opacity="0.71"/><ellipse cx="224.9" cy="126.4" rx="1.9" ry="1.2" transform="rotate(83 224.9 126.4)" fill="#a0a2c8" fill-opacity="0.60"/><ellipse cx="242.4" cy="84.9" rx="1.4" ry="0.9" transform="rotate(86 242.4 84.9)" fill="#aeb0cc" fill-opacity="0.57"/><ellipse cx="233.6" cy="90.8" rx="1.5" ry="1.2" transform="rotate(158 233.6 90.8)" fill="#a0a2c8" fill-opacity="0.51"/><ellipse cx="163.7" cy="65.3" rx="1.9" ry="1.1" transform="rotate(34 163.7 65.3)" fill="#a0a2c8" fill-opacity="0.78"/><ellipse cx="150.8" cy="84.5" rx="2.0" ry="1.2" transform="rotate(23 150.8 84.5)" fill="#a0a2c8" fill-opacity="0.55"/><ellipse cx="232.4" cy="117.6" rx="1.6" ry="1.1" transform="rotate(105 232.4 117.6)" fill="#8a8cb8" fill-opacity="0.77"/><ellipse cx="224.2" cy="77.5" rx="1.9" ry="1.1" transform="rotate(69 224.2 77.5)" fill="#8284b0" fill-opacity="0.59"/><ellipse cx="147.1" cy="78.6" rx="2.2" ry="0.9" transform="rotate(10 147.1 78.6)" fill="#a0a2c8" fill-opacity="0.65"/><ellipse cx="168.1" cy="45.1" rx="1.5" ry="1.2" transform="rotate(36 168.1 45.1)" fill="#8a8cb8" fill-opacity="0.55"/><ellipse cx="189.5" cy="66.4" rx="1.6" ry="1.0" transform="rotate(124 189.5 66.4)" fill="#a0a2c8" fill-opacity="0.74"/><ellipse cx="179.5" cy="108.6" rx="2.0" ry="0.9" transform="rotate(89 179.5 108.6)" fill="#9294c0" fill-opacity="0.63"/><ellipse cx="248.9" cy="42.3" rx="1.3" ry="1.2" transform="rotate(158 248.9 42.3)" fill="#a0a2c8" fill-opacity="0.66"/><ellipse cx="215.6" cy="68.2" rx="2.0" ry="1.2" transform="rotate(127 215.6 68.2)" fill="#9294c0" fill-opacity="0.79"/><ellipse cx="200.3" cy="27.7" rx="1.5" ry="1.0" transform="rotate(41 200.3 27.7)" fill="#8a8cb8" fill-opacity="0.73"/><ellipse cx="167.2" cy="105.6" rx="1.8" ry="1.3" transform="rotate(89 167.2 105.6)" fill="#9294c0" fill-opacity="0.70"/><ellipse cx="187.9" cy="29.0" rx="1.8" ry="1.2" transform="rotate(149 187.9 29.0)" fill="#8a8cb8" fill-opacity="0.78"/><ellipse cx="162.8" cy="71.5" rx="1.4" ry="1.0" transform="rotate(112 162.8 71.5)" fill="#9294c0" fill-opacity="0.76"/><ellipse cx="194.8" cy="36.9" rx="2.1" ry="1.1" transform="rotate(110 194.8 36.9)" fill="#aeb0cc" fill-opacity="0.72"/><ellipse cx="153.6" cy="52.0" rx="1.4" ry="0.9" transform="rotate(159 153.6 52.0)" fill="#aeb0cc" fill-opacity="0.66"/><ellipse cx="165.6" cy="128.6" rx="1.7" ry="0.9" transform="rotate(62 165.6 128.6)" fill="#aeb0cc" fill-opacity="0.75"/><ellipse cx="162.7" cy="34.3" rx="2.3" ry="1.2" transform="rotate(176 162.7 34.3)" fill="#8a8cb8" fill-opacity="0.72"/><ellipse cx="150.3" cy="131.6" rx="1.4" ry="1.1" transform="rotate(134 150.3 131.6)" fill="#a0a2c8" fill-opacity="0.59"/><ellipse cx="188.1" cy="114.5" rx="2.1" ry="1.3" transform="rotate(68 188.1 114.5)" fill="#a0a2c8" fill-opacity="0.67"/><ellipse cx="232.9" cy="75.5" rx="2.1" ry="1.0" transform="rotate(180 232.9 75.5)" fill="#aeb0cc" fill-opacity="0.71"/><ellipse cx="153.1" cy="56.2" rx="2.0" ry="1.1" transform="rotate(111 153.1 56.2)" fill="#8a8cb8" fill-opacity="0.64"/><ellipse cx="205.8" cy="75.8" rx="1.5" ry="1.1" transform="rotate(99 205.8 75.8)" fill="#8284b0" fill-opacity="0.74"/><ellipse cx="215.8" cy="74.1" rx="1.6" ry="0.9" transform="rotate(7 215.8 74.1)" fill="#8a8cb8" fill-opacity="0.56"/><ellipse cx="144.7" cy="120.1" rx="2.2" ry="1.0" transform="rotate(47 144.7 120.1)" fill="#a0a2c8" fill-opacity="0.68"/><ellipse cx="157.4" cy="54.2" rx="2.1" ry="1.2" transform="rotate(10 157.4 54.2)" fill="#8a8cb8" fill-opacity="0.77"/><ellipse cx="223.4" cy="128.5" rx="2.0" ry="0.9" transform="rotate(145 223.4 128.5)" fill="#8a8cb8" fill-opacity="0.73"/><ellipse cx="188.8" cy="27.8" rx="2.2" ry="0.9" transform="rotate(37 188.8 27.8)" fill="#a0a2c8" fill-opacity="0.54"/><ellipse cx="177.4" cy="44.9" rx="1.5" ry="0.9" transform="rotate(145 177.4 44.9)" fill="#a0a2c8" fill-opacity="0.63"/><ellipse cx="164.2" cy="91.0" rx="2.1" ry="1.0" transform="rotate(171 164.2 91.0)" fill="#8284b0" fill-opacity="0.67"/><ellipse cx="203.7" cy="63.2" rx="1.7" ry="0.9" transform="rotate(67 203.7 63.2)" fill="#aeb0cc" fill-opacity="0.78"/><ellipse cx="239.3" cy="116.6" rx="1.4" ry="0.9" transform="rotate(0 239.3 116.6)" fill="#aeb0cc" fill-opacity="0.55"/><ellipse cx="250.1" cy="87.9" rx="1.9" ry="1.3" transform="rotate(84 250.1 87.9)" fill="#a0a2c8" fill-opacity="0.56"/><ellipse cx="174.3" cy="81.4" rx="2.2" ry="1.0" transform="rotate(46 174.3 81.4)" fill="#a0a2c8" fill-opacity="0.57"/><ellipse cx="185.5" cy="96.3" rx="1.5" ry="1.1" transform="rotate(102 185.5 96.3)" fill="#8284b0" fill-opacity="0.55"/><ellipse cx="219.1" cy="26.2" rx="2.1" ry="1.2" transform="rotate(145 219.1 26.2)" fill="#8284b0" fill-opacity="0.68"/><ellipse cx="192.4" cy="86.5" rx="1.3" ry="1.2" transform="rotate(91 192.4 86.5)" fill="#a0a2c8" fill-opacity="0.70"/><ellipse cx="156.7" cy="69.1" rx="2.2" ry="1.2" transform="rotate(104 156.7 69.1)" fill="#8284b0" fill-opacity="0.73"/><ellipse cx="197.7" cy="91.6" rx="1.7" ry="0.9" transform="rotate(5 197.7 91.6)" fill="#9294c0" fill-opacity="0.79"/><ellipse cx="221.5" cy="129.9" rx="1.9" ry="0.9" transform="rotate(153 221.5 129.9)" fill="#a0a2c8" fill-opacity="0.68"/><ellipse cx="186.9" cy="113.8" rx="2.0" ry="1.0" transform="rotate(99 186.9 113.8)" fill="#8a8cb8" fill-opacity="0.54"/><ellipse cx="174.2" cy="32.8" rx="1.9" ry="1.2" transform="rotate(140 174.2 32.8)" fill="#aeb0cc" fill-opacity="0.71"/><ellipse cx="191.2" cy="106.6" rx="1.9" ry="0.9" transform="rotate(89 191.2 106.6)" fill="#9294c0" fill-opacity="0.57"/><ellipse cx="174.0" cy="54.9" rx="2.1" ry="1.1" transform="rotate(172 174.0 54.9)" fill="#8284b0" fill-opacity="0.53"/><ellipse cx="183.9" cy="48.8" rx="1.5" ry="0.9" transform="rotate(46 183.9 48.8)" fill="#aeb0cc" fill-opacity="0.50"/><ellipse cx="196.2" cy="107.4" rx="1.6" ry="1.1" transform="rotate(175 196.2 107.4)" fill="#8a8cb8" fill-opacity="0.77"/><ellipse cx="205.6" cy="65.6" rx="2.0" ry="1.1" transform="rotate(54 205.6 65.6)" fill="#aeb0cc" fill-opacity="0.70"/><ellipse cx="211.6" cy="78.8" rx="1.8" ry="0.9" transform="rotate(175 211.6 78.8)" fill="#9294c0" fill-opacity="0.76"/><ellipse cx="216.5" cy="114.8" rx="1.9" ry="1.2" transform="rotate(106 216.5 114.8)" fill="#aeb0cc" fill-opacity="0.55"/><ellipse cx="206.8" cy="110.4" rx="2.2" ry="1.1" transform="rotate(23 206.8 110.4)" fill="#aeb0cc" fill-opacity="0.69"/><ellipse cx="180.7" cy="67.6" rx="2.0" ry="1.1" transform="rotate(171 180.7 67.6)" fill="#aeb0cc" fill-opacity="0.72"/><ellipse cx="166.0" cy="28.2" rx="1.9" ry="1.0" transform="rotate(124 166.0 28.2)" fill="#8284b0" fill-opacity="0.79"/><ellipse cx="168.7" cy="122.6" rx="1.9" ry="1.0" transform="rotate(114 168.7 122.6)" fill="#aeb0cc" fill-opacity="0.60"/><ellipse cx="146.1" cy="111.6" rx="1.4" ry="0.9" transform="rotate(0 146.1 111.6)" fill="#aeb0cc" fill-opacity="0.58"/><ellipse cx="174.5" cy="39.6" rx="2.2" ry="1.1" transform="rotate(73 174.5 39.6)" fill="#9294c0" fill-opacity="0.51"/><ellipse cx="193.2" cy="49.4" rx="1.3" ry="1.1" transform="rotate(16 193.2 49.4)" fill="#9294c0" fill-opacity="0.54"/><ellipse cx="248.1" cy="43.5" rx="2.2" ry="1.2" transform="rotate(43 248.1 43.5)" fill="#8a8cb8" fill-opacity="0.50"/><ellipse cx="148.2" cy="28.5" rx="1.4" ry="1.0" transform="rotate(94 148.2 28.5)" fill="#aeb0cc" fill-opacity="0.65"/><ellipse cx="203.5" cy="126.4" rx="2.1" ry="0.9" transform="rotate(51 203.5 126.4)" fill="#a0a2c8" fill-opacity="0.53"/><ellipse cx="159.3" cy="34.5" rx="1.4" ry="0.9" transform="rotate(61 159.3 34.5)" fill="#aeb0cc" fill-opacity="0.69"/><ellipse cx="174.6" cy="80.2" rx="1.8" ry="1.1" transform="rotate(125 174.6 80.2)" fill="#8a8cb8" fill-opacity="0.70"/><ellipse cx="229.7" cy="72.4" rx="1.8" ry="0.9" transform="rotate(121 229.7 72.4)" fill="#a0a2c8" fill-opacity="0.79"/><ellipse cx="218.4" cy="95.4" rx="2.1" ry="0.9" transform="rotate(34 218.4 95.4)" fill="#9294c0" fill-opacity="0.54"/><ellipse cx="236.4" cy="83.5" rx="2.1" ry="0.9" transform="rotate(136 236.4 83.5)" fill="#9294c0" fill-opacity="0.55"/><ellipse cx="219.4" cy="93.5" rx="1.6" ry="1.1" transform="rotate(157 219.4 93.5)" fill="#a0a2c8" fill-opacity="0.68"/><ellipse cx="246.1" cy="130.8" rx="1.6" ry="1.2" transform="rotate(92 246.1 130.8)" fill="#8284b0" fill-opacity="0.70"/><ellipse cx="173.1" cy="102.5" rx="1.7" ry="1.1" transform="rotate(79 173.1 102.5)" fill="#8a8cb8" fill-opacity="0.72"/><ellipse cx="161.7" cy="54.6" rx="1.9" ry="1.0" transform="rotate(142 161.7 54.6)" fill="#a0a2c8" fill-opacity="0.75"/><ellipse cx="187.7" cy="53.1" rx="2.2" ry="1.3" transform="rotate(121 187.7 53.1)" fill="#8284b0" fill-opacity="0.65"/><ellipse cx="204.7" cy="90.9" rx="2.2" ry="1.1" transform="rotate(131 204.7 90.9)" fill="#aeb0cc" fill-opacity="0.52"/><ellipse cx="220.1" cy="70.8" rx="2.2" ry="1.2" transform="rotate(93 220.1 70.8)" fill="#a0a2c8" fill-opacity="0.69"/><ellipse cx="250.2" cy="27.9" rx="1.8" ry="0.9" transform="rotate(129 250.2 27.9)" fill="#9294c0" fill-opacity="0.62"/><ellipse cx="156.5" cy="75.9" rx="2.2" ry="1.1" transform="rotate(68 156.5 75.9)" fill="#aeb0cc" fill-opacity="0.68"/><ellipse cx="202.9" cy="124.1" rx="1.9" ry="1.2" transform="rotate(2 202.9 124.1)" fill="#9294c0" fill-opacity="0.75"/><ellipse cx="212.3" cy="130.3" rx="2.2" ry="1.2" transform="rotate(177 212.3 130.3)" fill="#8a8cb8" fill-opacity="0.59"/><ellipse cx="203.3" cy="102.7" rx="1.5" ry="1.0" transform="rotate(12 203.3 102.7)" fill="#8a8cb8" fill-opacity="0.50"/><ellipse cx="156.5" cy="72.4" rx="1.7" ry="0.9" transform="rotate(111 156.5 72.4)" fill="#8a8cb8" fill-opacity="0.77"/><ellipse cx="147.7" cy="121.8" rx="1.9" ry="1.1" transform="rotate(178 147.7 121.8)" fill="#8284b0" fill-opacity="0.68"/><ellipse cx="171.5" cy="103.9" rx="1.6" ry="1.0" transform="rotate(135 171.5 103.9)" fill="#aeb0cc" fill-opacity="0.57"/><ellipse cx="249.5" cy="60.9" rx="1.8" ry="1.3" transform="rotate(63 249.5 60.9)" fill="#9294c0" fill-opacity="0.67"/><ellipse cx="147.6" cy="91.0" rx="1.6" ry="0.9" transform="rotate(4 147.6 91.0)" fill="#a0a2c8" fill-opacity="0.61"/><ellipse cx="202.9" cy="63.2" rx="1.5" ry="1.2" transform="rotate(112 202.9 63.2)" fill="#8284b0" fill-opacity="0.60"/><ellipse cx="236.4" cy="125.8" rx="1.9" ry="1.3" transform="rotate(179 236.4 125.8)" fill="#a0a2c8" fill-opacity="0.50"/><ellipse cx="223.9" cy="110.9" rx="1.7" ry="1.0" transform="rotate(15 223.9 110.9)" fill="#9294c0" fill-opacity="0.64"/><ellipse cx="168.4" cy="46.3" rx="1.6" ry="1.0" transform="rotate(2 168.4 46.3)" fill="#8284b0" fill-opacity="0.69"/><ellipse cx="220.9" cy="70.3" rx="2.1" ry="0.9" transform="rotate(175 220.9 70.3)" fill="#8a8cb8" fill-opacity="0.65"/><ellipse cx="198.0" cy="44.4" rx="2.2" ry="1.0" transform="rotate(43 198.0 44.4)" fill="#8284b0" fill-opacity="0.73"/><ellipse cx="185.0" cy="83.7" rx="1.7" ry="0.9" transform="rotate(52 185.0 83.7)" fill="#a0a2c8" fill-opacity="0.78"/><ellipse cx="228.1" cy="60.1" rx="2.1" ry="0.9" transform="rotate(78 228.1 60.1)" fill="#8284b0" fill-opacity="0.78"/><ellipse cx="201.8" cy="31.0" rx="2.0" ry="0.9" transform="rotate(60 201.8 31.0)" fill="#a0a2c8" fill-opacity="0.73"/><ellipse cx="180.2" cy="26.3" rx="1.4" ry="0.9" transform="rotate(62 180.2 26.3)" fill="#a0a2c8" fill-opacity="0.59"/><ellipse cx="179.6" cy="122.5" rx="1.7" ry="1.3" transform="rotate(154 179.6 122.5)" fill="#8284b0" fill-opacity="0.65"/><ellipse cx="195.2" cy="77.8" rx="1.3" ry="0.9" transform="rotate(160 195.2 77.8)" fill="#aeb0cc" fill-opacity="0.56"/><ellipse cx="172.2" cy="89.9" rx="1.3" ry="1.0" transform="rotate(3 172.2 89.9)" fill="#8284b0" fill-opacity="0.53"/><ellipse cx="183.0" cy="117.0" rx="1.6" ry="1.0" transform="rotate(175 183.0 117.0)" fill="#a0a2c8" fill-opacity="0.64"/><ellipse cx="159.3" cy="103.9" rx="2.0" ry="0.9" transform="rotate(155 159.3 103.9)" fill="#aeb0cc" fill-opacity="0.52"/><ellipse cx="223.3" cy="51.7" rx="1.4" ry="1.3" transform="rotate(144 223.3 51.7)" fill="#aeb0cc" fill-opacity="0.62"/><ellipse cx="179.9" cy="51.0" rx="1.6" ry="0.9" transform="rotate(97 179.9 51.0)" fill="#8284b0" fill-opacity="0.68"/><ellipse cx="237.2" cy="110.4" rx="1.5" ry="1.2" transform="rotate(177 237.2 110.4)" fill="#aeb0cc" fill-opacity="0.63"/><ellipse cx="221.3" cy="119.8" rx="2.3" ry="1.1" transform="rotate(21 221.3 119.8)" fill="#a0a2c8" fill-opacity="0.51"/><ellipse cx="171.6" cy="37.4" rx="2.1" ry="1.1" transform="rotate(31 171.6 37.4)" fill="#a0a2c8" fill-opacity="0.52"/><ellipse cx="196.6" cy="88.8" rx="1.9" ry="1.2" transform="rotate(102 196.6 88.8)" fill="#a0a2c8" fill-opacity="0.76"/><ellipse cx="210.0" cy="84.4" rx="1.4" ry="0.9" transform="rotate(4 210.0 84.4)" fill="#8284b0" fill-opacity="0.57"/><ellipse cx="194.7" cy="93.6" rx="1.5" ry="1.1" transform="rotate(177 194.7 93.6)" fill="#8284b0" fill-opacity="0.73"/><ellipse cx="172.0" cy="113.8" rx="1.4" ry="1.1" transform="rotate(129 172.0 113.8)" fill="#9294c0" fill-opacity="0.62"/><ellipse cx="249.7" cy="57.6" rx="2.3" ry="1.0" transform="rotate(156 249.7 57.6)" fill="#8a8cb8" fill-opacity="0.69"/><ellipse cx="216.5" cy="67.2" rx="1.3" ry="0.9" transform="rotate(157 216.5 67.2)" fill="#8a8cb8" fill-opacity="0.74"/><ellipse cx="212.5" cy="99.5" rx="2.1" ry="1.1" transform="rotate(97 212.5 99.5)" fill="#8a8cb8" fill-opacity="0.63"/><ellipse cx="248.1" cy="62.6" rx="1.4" ry="1.0" transform="rotate(128 248.1 62.6)" fill="#a0a2c8" fill-opacity="0.73"/><ellipse cx="188.7" cy="98.5" rx="1.4" ry="1.1" transform="rotate(47 188.7 98.5)" fill="#8a8cb8" fill-opacity="0.56"/><ellipse cx="187.6" cy="58.1" rx="2.1" ry="0.9" transform="rotate(1 187.6 58.1)" fill="#a0a2c8" fill-opacity="0.71"/><ellipse cx="214.3" cy="46.3" rx="2.3" ry="1.2" transform="rotate(14 214.3 46.3)" fill="#8284b0" fill-opacity="0.58"/><ellipse cx="240.6" cy="49.6" rx="1.6" ry="0.9" transform="rotate(89 240.6 49.6)" fill="#8a8cb8" fill-opacity="0.70"/><ellipse cx="164.4" cy="79.6" rx="2.0" ry="1.2" transform="rotate(55 164.4 79.6)" fill="#8a8cb8" fill-opacity="0.76"/><ellipse cx="207.5" cy="90.4" rx="1.4" ry="1.2" transform="rotate(87 207.5 90.4)" fill="#a0a2c8" fill-opacity="0.61"/><ellipse cx="227.7" cy="58.1" rx="2.1" ry="1.3" transform="rotate(16 227.7 58.1)" fill="#aeb0cc" fill-opacity="0.80"/><ellipse cx="163.8" cy="33.1" rx="2.2" ry="1.3" transform="rotate(43 163.8 33.1)" fill="#a0a2c8" fill-opacity="0.58"/><ellipse cx="168.8" cy="57.2" rx="2.1" ry="0.9" transform="rotate(16 168.8 57.2)" fill="#8284b0" fill-opacity="0.67"/><ellipse cx="161.6" cy="119.1" rx="2.1" ry="0.9" transform="rotate(174 161.6 119.1)" fill="#aeb0cc" fill-opacity="0.61"/><ellipse cx="249.9" cy="64.8" rx="2.0" ry="1.1" transform="rotate(146 249.9 64.8)" fill="#8284b0" fill-opacity="0.78"/><ellipse cx="169.4" cy="57.0" rx="2.1" ry="1.2" transform="rotate(138 169.4 57.0)" fill="#8a8cb8" fill-opacity="0.63"/><ellipse cx="184.0" cy="95.5" rx="2.3" ry="1.3" transform="rotate(173 184.0 95.5)" fill="#9294c0" fill-opacity="0.78"/><ellipse cx="218.5" cy="32.7" rx="1.3" ry="0.9" transform="rotate(147 218.5 32.7)" fill="#aeb0cc" fill-opacity="0.71"/><ellipse cx="171.2" cy="84.7" rx="1.9" ry="1.2" transform="rotate(60 171.2 84.7)" fill="#9294c0" fill-opacity="0.69"/><ellipse cx="248.8" cy="28.1" rx="2.1" ry="1.0" transform="rotate(128 248.8 28.1)" fill="#a0a2c8" fill-opacity="0.55"/><ellipse cx="176.6" cy="46.9" rx="1.5" ry="1.2" transform="rotate(132 176.6 46.9)" fill="#8284b0" fill-opacity="0.76"/><ellipse cx="186.6" cy="68.7" rx="2.1" ry="1.1" transform="rotate(159 186.6 68.7)" fill="#a0a2c8" fill-opacity="0.61"/><ellipse cx="145.4" cy="57.4" rx="1.8" ry="0.9" transform="rotate(95 145.4 57.4)" fill="#8284b0" fill-opacity="0.71"/><ellipse cx="225.0" cy="132.5" rx="1.6" ry="0.9" transform="rotate(169 225.0 132.5)" fill="#9294c0" fill-opacity="0.67"/><ellipse cx="165.1" cy="41.6" rx="2.0" ry="0.9" transform="rotate(96 165.1 41.6)" fill="#8284b0" fill-opacity="0.63"/><ellipse cx="220.1" cy="119.8" rx="1.6" ry="0.9" transform="rotate(74 220.1 119.8)" fill="#8a8cb8" fill-opacity="0.72"/><ellipse cx="165.2" cy="43.6" rx="1.7" ry="1.0" transform="rotate(106 165.2 43.6)" fill="#8284b0" fill-opacity="0.56"/><ellipse cx="191.0" cy="30.8" rx="2.2" ry="1.0" transform="rotate(120 191.0 30.8)" fill="#a0a2c8" fill-opacity="0.69"/><ellipse cx="191.3" cy="121.4" rx="2.2" ry="1.0" transform="rotate(176 191.3 121.4)" fill="#a0a2c8" fill-opacity="0.72"/><ellipse cx="192.0" cy="60.7" rx="1.4" ry="1.0" transform="rotate(170 192.0 60.7)" fill="#9294c0" fill-opacity="0.57"/><ellipse cx="244.6" cy="94.3" rx="1.4" ry="1.1" transform="rotate(39 244.6 94.3)" fill="#8284b0" fill-opacity="0.63"/><ellipse cx="246.5" cy="46.6" rx="2.0" ry="1.3" transform="rotate(34 246.5 46.6)" fill="#a0a2c8" fill-opacity="0.75"/><ellipse cx="187.8" cy="103.9" rx="1.5" ry="0.9" transform="rotate(37 187.8 103.9)" fill="#9294c0" fill-opacity="0.76"/><ellipse cx="210.3" cy="42.8" rx="2.0" ry="1.0" transform="rotate(167 210.3 42.8)" fill="#a0a2c8" fill-opacity="0.51"/><ellipse cx="196.5" cy="106.4" rx="2.2" ry="1.0" transform="rotate(28 196.5 106.4)" fill="#aeb0cc" fill-opacity="0.78"/><ellipse cx="170.7" cy="66.1" rx="2.0" ry="1.2" transform="rotate(122 170.7 66.1)" fill="#8a8cb8" fill-opacity="0.75"/><ellipse cx="172.9" cy="129.1" rx="1.5" ry="1.2" transform="rotate(65 172.9 129.1)" fill="#8a8cb8" fill-opacity="0.65"/><ellipse cx="158.2" cy="43.5" rx="1.7" ry="1.0" transform="rotate(33 158.2 43.5)" fill="#8a8cb8" fill-opacity="0.53"/><ellipse cx="217.9" cy="62.5" rx="1.4" ry="1.2" transform="rotate(6 217.9 62.5)" fill="#a0a2c8" fill-opacity="0.63"/><ellipse cx="175.2" cy="34.1" rx="1.5" ry="1.1" transform="rotate(171 175.2 34.1)" fill="#aeb0cc" fill-opacity="0.74"/><ellipse cx="165.5" cy="126.5" rx="1.5" ry="1.1" transform="rotate(102 165.5 126.5)" fill="#a0a2c8" fill-opacity="0.66"/><ellipse cx="161.1" cy="39.9" rx="1.3" ry="1.0" transform="rotate(16 161.1 39.9)" fill="#8a8cb8" fill-opacity="0.68"/><ellipse cx="203.6" cy="89.3" rx="1.6" ry="1.0" transform="rotate(120 203.6 89.3)" fill="#8a8cb8" fill-opacity="0.55"/><ellipse cx="247.7" cy="86.4" rx="2.1" ry="1.2" transform="rotate(151 247.7 86.4)" fill="#8a8cb8" fill-opacity="0.52"/><ellipse cx="192.4" cy="49.6" rx="1.8" ry="1.0" transform="rotate(131 192.4 49.6)" fill="#a0a2c8" fill-opacity="0.59"/><ellipse cx="244.0" cy="116.6" rx="2.0" ry="1.1" transform="rotate(99 244.0 116.6)" fill="#8284b0" fill-opacity="0.78"/><ellipse cx="211.3" cy="76.6" rx="1.7" ry="1.0" transform="rotate(22 211.3 76.6)" fill="#9294c0" fill-opacity="0.66"/><ellipse cx="171.4" cy="29.7" rx="2.3" ry="0.9" transform="rotate(45 171.4 29.7)" fill="#aeb0cc" fill-opacity="0.55"/><ellipse cx="148.3" cy="132.9" rx="1.9" ry="1.1" transform="rotate(108 148.3 132.9)" fill="#9294c0" fill-opacity="0.62"/><ellipse cx="169.2" cy="71.4" rx="1.7" ry="1.2" transform="rotate(175 169.2 71.4)" fill="#9294c0" fill-opacity="0.64"/><ellipse cx="230.0" cy="36.3" rx="2.1" ry="1.1" transform="rotate(86 230.0 36.3)" fill="#8a8cb8" fill-opacity="0.64"/><ellipse cx="197.9" cy="130.2" rx="1.8" ry="1.3" transform="rotate(76 197.9 130.2)" fill="#8284b0" fill-opacity="0.58"/><ellipse cx="159.4" cy="30.8" rx="1.8" ry="1.2" transform="rotate(125 159.4 30.8)" fill="#8a8cb8" fill-opacity="0.58"/><ellipse cx="205.2" cy="84.9" rx="1.3" ry="1.1" transform="rotate(141 205.2 84.9)" fill="#8a8cb8" fill-opacity="0.76"/><ellipse cx="146.1" cy="53.8" rx="2.1" ry="1.2" transform="rotate(93 146.1 53.8)" fill="#8284b0" fill-opacity="0.64"/><ellipse cx="150.2" cy="43.1" rx="2.0" ry="1.0" transform="rotate(124 150.2 43.1)" fill="#8284b0" fill-opacity="0.77"/><ellipse cx="182.2" cy="92.0" rx="2.0" ry="1.1" transform="rotate(60 182.2 92.0)" fill="#9294c0" fill-opacity="0.78"/><ellipse cx="241.2" cy="65.4" rx="2.1" ry="1.3" transform="rotate(47 241.2 65.4)" fill="#a0a2c8" fill-opacity="0.61"/><ellipse cx="217.7" cy="88.4" rx="1.3" ry="1.0" transform="rotate(79 217.7 88.4)" fill="#9294c0" fill-opacity="0.79"/><ellipse cx="236.6" cy="132.4" rx="2.3" ry="0.9" transform="rotate(175 236.6 132.4)" fill="#a0a2c8" fill-opacity="0.64"/><ellipse cx="204.8" cy="109.7" rx="1.7" ry="1.1" transform="rotate(105 204.8 109.7)" fill="#8a8cb8" fill-opacity="0.55"/><ellipse cx="216.2" cy="36.1" rx="2.3" ry="1.1" transform="rotate(129 216.2 36.1)" fill="#aeb0cc" fill-opacity="0.64"/><ellipse cx="212.7" cy="76.9" rx="1.3" ry="1.0" transform="rotate(169 212.7 76.9)" fill="#a0a2c8" fill-opacity="0.60"/><ellipse cx="227.0" cy="60.4" rx="1.9" ry="1.0" transform="rotate(63 227.0 60.4)" fill="#9294c0" fill-opacity="0.57"/><ellipse cx="145.0" cy="48.2" rx="2.3" ry="1.0" transform="rotate(36 145.0 48.2)" fill="#a0a2c8" fill-opacity="0.52"/><ellipse cx="146.2" cy="131.4" rx="1.8" ry="1.0" transform="rotate(159 146.2 131.4)" fill="#a0a2c8" fill-opacity="0.61"/><ellipse cx="195.9" cy="47.5" rx="1.8" ry="1.1" transform="rotate(76 195.9 47.5)" fill="#aeb0cc" fill-opacity="0.65"/><ellipse cx="197.9" cy="121.5" rx="2.2" ry="1.2" transform="rotate(117 197.9 121.5)" fill="#8a8cb8" fill-opacity="0.71"/><ellipse cx="233.3" cy="70.5" rx="1.5" ry="1.2" transform="rotate(110 233.3 70.5)" fill="#a0a2c8" fill-opacity="0.58"/><ellipse cx="159.0" cy="55.3" rx="1.9" ry="1.2" transform="rotate(48 159.0 55.3)" fill="#a0a2c8" fill-opacity="0.65"/><ellipse cx="152.6" cy="47.4" rx="2.0" ry="0.9" transform="rotate(16 152.6 47.4)" fill="#a0a2c8" fill-opacity="0.74"/><ellipse cx="189.9" cy="69.7" rx="2.1" ry="0.9" transform="rotate(38 189.9 69.7)" fill="#a0a2c8" fill-opacity="0.61"/><ellipse cx="233.7" cy="114.6" rx="1.8" ry="0.9" transform="rotate(50 233.7 114.6)" fill="#9294c0" fill-opacity="0.75"/><ellipse cx="218.6" cy="41.8" rx="1.9" ry="0.9" transform="rotate(148 218.6 41.8)" fill="#8284b0" fill-opacity="0.57"/><ellipse cx="221.2" cy="126.0" rx="1.9" ry="1.3" transform="rotate(29 221.2 126.0)" fill="#8a8cb8" fill-opacity="0.77"/><ellipse cx="210.4" cy="85.8" rx="1.4" ry="1.1" transform="rotate(7 210.4 85.8)" fill="#8284b0" fill-opacity="0.61"/><ellipse cx="186.6" cy="122.2" rx="1.5" ry="1.0" transform="rotate(5 186.6 122.2)" fill="#a0a2c8" fill-opacity="0.75"/><ellipse cx="158.6" cy="38.4" rx="1.9" ry="0.9" transform="rotate(92 158.6 38.4)" fill="#aeb0cc" fill-opacity="0.60"/><ellipse cx="224.1" cy="53.0" rx="1.9" ry="1.2" transform="rotate(41 224.1 53.0)" fill="#8a8cb8" fill-opacity="0.65"/><ellipse cx="159.1" cy="123.3" rx="2.1" ry="1.2" transform="rotate(135 159.1 123.3)" fill="#aeb0cc" fill-opacity="0.52"/><ellipse cx="168.3" cy="60.6" rx="1.6" ry="1.1" transform="rotate(87 168.3 60.6)" fill="#aeb0cc" fill-opacity="0.54"/><ellipse cx="203.5" cy="118.6" rx="1.6" ry="0.9" transform="rotate(73 203.5 118.6)" fill="#aeb0cc" fill-opacity="0.60"/><ellipse cx="174.7" cy="92.4" rx="2.2" ry="1.2" transform="rotate(145 174.7 92.4)" fill="#a0a2c8" fill-opacity="0.57"/><ellipse cx="208.2" cy="106.0" rx="1.9" ry="0.9" transform="rotate(78 208.2 106.0)" fill="#9294c0" fill-opacity="0.51"/><ellipse cx="240.0" cy="122.7" rx="1.3" ry="0.9" transform="rotate(130 240.0 122.7)" fill="#aeb0cc" fill-opacity="0.67"/><ellipse cx="146.9" cy="30.0" rx="1.7" ry="1.0" transform="rotate(36 146.9 30.0)" fill="#a0a2c8" fill-opacity="0.58"/><ellipse cx="154.6" cy="72.5" rx="1.4" ry="1.1" transform="rotate(9 154.6 72.5)" fill="#a0a2c8" fill-opacity="0.78"/><ellipse cx="249.1" cy="68.8" rx="2.2" ry="0.9" transform="rotate(10 249.1 68.8)" fill="#a0a2c8" fill-opacity="0.77"/><ellipse cx="167.2" cy="49.4" rx="1.9" ry="1.3" transform="rotate(124 167.2 49.4)" fill="#8a8cb8" fill-opacity="0.53"/><ellipse cx="184.1" cy="75.3" rx="1.4" ry="1.2" transform="rotate(32 184.1 75.3)" fill="#8a8cb8" fill-opacity="0.54"/><ellipse cx="233.0" cy="59.0" rx="1.6" ry="1.2" transform="rotate(123 233.0 59.0)" fill="#8284b0" fill-opacity="0.77"/><ellipse cx="201.3" cy="77.5" rx="2.1" ry="1.0" transform="rotate(82 201.3 77.5)" fill="#a0a2c8" fill-opacity="0.56"/><ellipse cx="231.7" cy="72.3" rx="2.0" ry="1.2" transform="rotate(39 231.7 72.3)" fill="#aeb0cc" fill-opacity="0.52"/><ellipse cx="202.4" cy="109.9" rx="1.6" ry="1.1" transform="rotate(142 202.4 109.9)" fill="#9294c0" fill-opacity="0.54"/><ellipse cx="238.9" cy="98.4" rx="1.5" ry="0.9" transform="rotate(80 238.9 98.4)" fill="#8a8cb8" fill-opacity="0.76"/><ellipse cx="249.1" cy="101.8" rx="2.2" ry="1.0" transform="rotate(4 249.1 101.8)" fill="#9294c0" fill-opacity="0.73"/><ellipse cx="203.4" cy="102.8" rx="1.9" ry="1.1" transform="rotate(140 203.4 102.8)" fill="#aeb0cc" fill-opacity="0.58"/><ellipse cx="174.5" cy="128.5" rx="2.0" ry="1.1" transform="rotate(166 174.5 128.5)" fill="#8284b0" fill-opacity="0.60"/><ellipse cx="155.1" cy="126.1" rx="2.0" ry="1.0" transform="rotate(140 155.1 126.1)" fill="#a0a2c8" fill-opacity="0.55"/><ellipse cx="212.1" cy="127.4" rx="2.1" ry="1.1" transform="rotate(34 212.1 127.4)" fill="#8a8cb8" fill-opacity="0.63"/><ellipse cx="235.0" cy="69.5" rx="2.2" ry="1.3" transform="rotate(26 235.0 69.5)" fill="#aeb0cc" fill-opacity="0.75"/><ellipse cx="190.6" cy="77.8" rx="2.0" ry="1.0" transform="rotate(115 190.6 77.8)" fill="#aeb0cc" fill-opacity="0.68"/><ellipse cx="203.3" cy="108.3" rx="2.1" ry="1.3" transform="rotate(37 203.3 108.3)" fill="#8a8cb8" fill-opacity="0.78"/><ellipse cx="207.9" cy="91.2" rx="1.5" ry="1.0" transform="rotate(179 207.9 91.2)" fill="#8a8cb8" fill-opacity="0.71"/><ellipse cx="226.0" cy="28.5" rx="1.9" ry="1.1" transform="rotate(117 226.0 28.5)" fill="#a0a2c8" fill-opacity="0.63"/><ellipse cx="238.8" cy="109.2" rx="2.0" ry="0.9" transform="rotate(26 238.8 109.2)" fill="#a0a2c8" fill-opacity="0.75"/><ellipse cx="225.4" cy="86.0" rx="1.6" ry="1.2" transform="rotate(95 225.4 86.0)" fill="#8a8cb8" fill-opacity="0.54"/><ellipse cx="236.7" cy="90.4" rx="1.3" ry="0.9" transform="rotate(86 236.7 90.4)" fill="#8a8cb8" fill-opacity="0.76"/><ellipse cx="207.2" cy="72.3" rx="1.3" ry="1.2" transform="rotate(179 207.2 72.3)" fill="#9294c0" fill-opacity="0.80"/><ellipse cx="175.2" cy="73.6" rx="2.2" ry="1.1" transform="rotate(27 175.2 73.6)" fill="#9294c0" fill-opacity="0.70"/><ellipse cx="167.4" cy="37.3" rx="1.5" ry="0.9" transform="rotate(132 167.4 37.3)" fill="#8a8cb8" fill-opacity="0.71"/><ellipse cx="166.9" cy="54.3" rx="2.1" ry="1.2" transform="rotate(55 166.9 54.3)" fill="#8284b0" fill-opacity="0.75"/><ellipse cx="230.8" cy="54.6" rx="2.0" ry="0.9" transform="rotate(104 230.8 54.6)" fill="#9294c0" fill-opacity="0.63"/><ellipse cx="224.2" cy="68.1" rx="1.7" ry="0.9" transform="rotate(6 224.2 68.1)" fill="#9294c0" fill-opacity="0.72"/><ellipse cx="167.4" cy="42.1" rx="2.3" ry="1.2" transform="rotate(82 167.4 42.1)" fill="#8284b0" fill-opacity="0.55"/><ellipse cx="248.8" cy="102.8" rx="2.0" ry="1.0" transform="rotate(79 248.8 102.8)" fill="#8284b0" fill-opacity="0.67"/><ellipse cx="159.8" cy="98.9" rx="2.1" ry="1.1" transform="rotate(39 159.8 98.9)" fill="#8a8cb8" fill-opacity="0.53"/><ellipse cx="166.2" cy="73.5" rx="2.1" ry="1.2" transform="rotate(128 166.2 73.5)" fill="#8284b0" fill-opacity="0.57"/><ellipse cx="223.4" cy="41.5" rx="2.1" ry="1.3" transform="rotate(155 223.4 41.5)" fill="#9294c0" fill-opacity="0.75"/><ellipse cx="196.7" cy="68.4" rx="1.6" ry="1.0" transform="rotate(107 196.7 68.4)" fill="#8a8cb8" fill-opacity="0.51"/><ellipse cx="156.9" cy="124.7" rx="1.6" ry="1.2" transform="rotate(31 156.9 124.7)" fill="#a0a2c8" fill-opacity="0.71"/><ellipse cx="164.7" cy="62.2" rx="1.5" ry="1.1" transform="rotate(44 164.7 62.2)" fill="#9294c0" fill-opacity="0.53"/><ellipse cx="160.0" cy="113.9" rx="1.9" ry="0.9" transform="rotate(101 160.0 113.9)" fill="#a0a2c8" fill-opacity="0.53"/><ellipse cx="179.4" cy="101.6" rx="1.5" ry="1.2" transform="rotate(144 179.4 101.6)" fill="#aeb0cc" fill-opacity="0.79"/><ellipse cx="211.7" cy="117.5" rx="1.5" ry="1.1" transform="rotate(52 211.7 117.5)" fill="#8284b0" fill-opacity="0.69"/><ellipse cx="202.7" cy="52.5" rx="1.8" ry="1.1" transform="rotate(135 202.7 52.5)" fill="#9294c0" fill-opacity="0.59"/><ellipse cx="185.4" cy="129.4" rx="1.5" ry="1.2" transform="rotate(25 185.4 129.4)" fill="#8284b0" fill-opacity="0.57"/><ellipse cx="248.9" cy="124.2" rx="1.7" ry="1.0" transform="rotate(162 248.9 124.2)" fill="#aeb0cc" fill-opacity="0.55"/><ellipse cx="238.8" cy="114.4" rx="1.6" ry="1.0" transform="rotate(4 238.8 114.4)" fill="#9294c0" fill-opacity="0.68"/><ellipse cx="165.4" cy="29.4" rx="2.2" ry="0.9" transform="rotate(151 165.4 29.4)" fill="#8284b0" fill-opacity="0.60"/><ellipse cx="165.5" cy="41.6" rx="1.7" ry="1.3" transform="rotate(100 165.5 41.6)" fill="#8284b0" fill-opacity="0.63"/><ellipse cx="230.1" cy="75.3" rx="2.1" ry="1.0" transform="rotate(34 230.1 75.3)" fill="#aeb0cc" fill-opacity="0.50"/><ellipse cx="236.0" cy="29.3" rx="1.6" ry="1.2" transform="rotate(48 236.0 29.3)" fill="#aeb0cc" fill-opacity="0.55"/><ellipse cx="154.3" cy="114.8" rx="1.3" ry="1.0" transform="rotate(5 154.3 114.8)" fill="#aeb0cc" fill-opacity="0.74"/><ellipse cx="234.8" cy="124.2" rx="1.7" ry="1.1" transform="rotate(74 234.8 124.2)" fill="#a0a2c8" fill-opacity="0.56"/><ellipse cx="211.2" cy="54.3" rx="1.9" ry="1.2" transform="rotate(158 211.2 54.3)" fill="#a0a2c8" fill-opacity="0.54"/><ellipse cx="212.1" cy="77.0" rx="1.6" ry="1.1" transform="rotate(117 212.1 77.0)" fill="#8284b0" fill-opacity="0.54"/><ellipse cx="177.2" cy="68.9" rx="1.5" ry="0.9" transform="rotate(61 177.2 68.9)" fill="#8284b0" fill-opacity="0.65"/><ellipse cx="237.7" cy="72.7" rx="1.5" ry="1.2" transform="rotate(171 237.7 72.7)" fill="#a0a2c8" fill-opacity="0.70"/><ellipse cx="212.4" cy="62.2" rx="1.8" ry="1.2" transform="rotate(141 212.4 62.2)" fill="#8a8cb8" fill-opacity="0.69"/><ellipse cx="223.3" cy="33.4" rx="1.9" ry="1.2" transform="rotate(30 223.3 33.4)" fill="#aeb0cc" fill-opacity="0.61"/><ellipse cx="240.2" cy="59.1" rx="1.9" ry="1.1" transform="rotate(145 240.2 59.1)" fill="#a0a2c8" fill-opacity="0.70"/><ellipse cx="173.7" cy="72.9" rx="2.2" ry="1.1" transform="rotate(43 173.7 72.9)" fill="#9294c0" fill-opacity="0.51"/><ellipse cx="217.0" cy="113.7" rx="1.4" ry="1.0" transform="rotate(135 217.0 113.7)" fill="#9294c0" fill-opacity="0.67"/><ellipse cx="245.3" cy="93.8" rx="1.6" ry="1.0" transform="rotate(33 245.3 93.8)" fill="#9294c0" fill-opacity="0.72"/><ellipse cx="231.0" cy="128.5" rx="1.9" ry="0.9" transform="rotate(87 231.0 128.5)" fill="#aeb0cc" fill-opacity="0.56"/><ellipse cx="198.2" cy="63.3" rx="1.7" ry="1.3" transform="rotate(97 198.2 63.3)" fill="#aeb0cc" fill-opacity="0.64"/><ellipse cx="201.2" cy="58.0" rx="1.6" ry="1.2" transform="rotate(11 201.2 58.0)" fill="#8284b0" fill-opacity="0.69"/><ellipse cx="240.7" cy="62.6" rx="1.3" ry="1.1" transform="rotate(61 240.7 62.6)" fill="#aeb0cc" fill-opacity="0.60"/><ellipse cx="153.8" cy="88.5" rx="1.9" ry="1.0" transform="rotate(156 153.8 88.5)" fill="#8a8cb8" fill-opacity="0.52"/><ellipse cx="150.5" cy="64.4" rx="1.6" ry="1.2" transform="rotate(64 150.5 64.4)" fill="#8284b0" fill-opacity="0.68"/><ellipse cx="188.3" cy="27.0" rx="1.4" ry="1.3" transform="rotate(119 188.3 27.0)" fill="#a0a2c8" fill-opacity="0.63"/><ellipse cx="223.1" cy="84.8" rx="2.0" ry="1.3" transform="rotate(124 223.1 84.8)" fill="#9294c0" fill-opacity="0.61"/><ellipse cx="232.8" cy="113.2" rx="2.0" ry="1.2" transform="rotate(102 232.8 113.2)" fill="#aeb0cc" fill-opacity="0.70"/><ellipse cx="202.5" cy="95.4" rx="1.3" ry="1.1" transform="rotate(152 202.5 95.4)" fill="#8a8cb8" fill-opacity="0.68"/><ellipse cx="227.7" cy="58.6" rx="2.0" ry="1.0" transform="rotate(101 227.7 58.6)" fill="#aeb0cc" fill-opacity="0.54"/><ellipse cx="148.6" cy="34.9" rx="2.3" ry="1.2" transform="rotate(79 148.6 34.9)" fill="#9294c0" fill-opacity="0.66"/><ellipse cx="205.8" cy="88.6" rx="1.9" ry="1.1" transform="rotate(11 205.8 88.6)" fill="#aeb0cc" fill-opacity="0.58"/><ellipse cx="233.6" cy="106.6" rx="1.5" ry="1.0" transform="rotate(79 233.6 106.6)" fill="#9294c0" fill-opacity="0.67"/><ellipse cx="242.2" cy="87.6" rx="2.2" ry="1.0" transform="rotate(26 242.2 87.6)" fill="#9294c0" fill-opacity="0.63"/><ellipse cx="152.9" cy="107.7" rx="1.9" ry="1.1" transform="rotate(111 152.9 107.7)" fill="#aeb0cc" fill-opacity="0.77"/><ellipse cx="207.6" cy="83.1" rx="2.1" ry="1.1" transform="rotate(16 207.6 83.1)" fill="#aeb0cc" fill-opacity="0.51"/><ellipse cx="237.3" cy="104.3" rx="1.9" ry="1.2" transform="rotate(62 237.3 104.3)" fill="#9294c0" fill-opacity="0.79"/><ellipse cx="234.8" cy="91.0" rx="1.3" ry="1.1" transform="rotate(147 234.8 91.0)" fill="#aeb0cc" fill-opacity="0.70"/><ellipse cx="230.7" cy="41.7" rx="1.3" ry="0.9" transform="rotate(3 230.7 41.7)" fill="#9294c0" fill-opacity="0.80"/><ellipse cx="149.9" cy="39.0" rx="2.0" ry="1.2" transform="rotate(119 149.9 39.0)" fill="#aeb0cc" fill-opacity="0.68"/><ellipse cx="236.0" cy="34.6" rx="1.4" ry="1.2" transform="rotate(100 236.0 34.6)" fill="#8284b0" fill-opacity="0.63"/><ellipse cx="157.2" cy="99.3" rx="1.4" ry="0.9" transform="rotate(38 157.2 99.3)" fill="#aeb0cc" fill-opacity="0.51"/><ellipse cx="206.3" cy="94.8" rx="2.0" ry="1.1" transform="rotate(49 206.3 94.8)" fill="#a0a2c8" fill-opacity="0.73"/><ellipse cx="145.3" cy="37.4" rx="1.4" ry="1.0" transform="rotate(61 145.3 37.4)" fill="#9294c0" fill-opacity="0.66"/><ellipse cx="203.0" cy="75.4" rx="1.6" ry="0.9" transform="rotate(87 203.0 75.4)" fill="#9294c0" fill-opacity="0.51"/><ellipse cx="202.4" cy="41.9" rx="1.4" ry="1.1" transform="rotate(113 202.4 41.9)" fill="#8a8cb8" fill-opacity="0.62"/><ellipse cx="149.6" cy="89.5" rx="2.0" ry="0.9" transform="rotate(12 149.6 89.5)" fill="#8284b0" fill-opacity="0.57"/><ellipse cx="174.1" cy="63.9" rx="2.0" ry="1.1" transform="rotate(139 174.1 63.9)" fill="#9294c0" fill-opacity="0.53"/><ellipse cx="234.6" cy="111.4" rx="2.2" ry="1.3" transform="rotate(89 234.6 111.4)" fill="#a0a2c8" fill-opacity="0.61"/><ellipse cx="149.8" cy="57.2" rx="1.9" ry="0.9" transform="rotate(129 149.8 57.2)" fill="#a0a2c8" fill-opacity="0.73"/><ellipse cx="241.8" cy="99.0" rx="1.9" ry="1.0" transform="rotate(124 241.8 99.0)" fill="#9294c0" fill-opacity="0.77"/><ellipse cx="235.8" cy="45.0" rx="2.2" ry="0.9" transform="rotate(103 235.8 45.0)" fill="#8284b0" fill-opacity="0.69"/><ellipse cx="203.4" cy="45.5" rx="2.1" ry="0.9" transform="rotate(88 203.4 45.5)" fill="#aeb0cc" fill-opacity="0.68"/><ellipse cx="214.0" cy="104.4" rx="1.3" ry="1.1" transform="rotate(145 214.0 104.4)" fill="#8a8cb8" fill-opacity="0.74"/><ellipse cx="213.9" cy="59.1" rx="2.0" ry="1.3" transform="rotate(37 213.9 59.1)" fill="#aeb0cc" fill-opacity="0.64"/><ellipse cx="233.8" cy="90.6" rx="1.4" ry="1.1" transform="rotate(60 233.8 90.6)" fill="#8284b0" fill-opacity="0.56"/><ellipse cx="234.7" cy="114.8" rx="1.9" ry="0.9" transform="rotate(29 234.7 114.8)" fill="#8284b0" fill-opacity="0.55"/><ellipse cx="249.4" cy="30.9" rx="2.0" ry="0.9" transform="rotate(167 249.4 30.9)" fill="#8284b0" fill-opacity="0.75"/><ellipse cx="206.3" cy="73.7" rx="1.5" ry="0.9" transform="rotate(45 206.3 73.7)" fill="#a0a2c8" fill-opacity="0.55"/><ellipse cx="151.0" cy="131.8" rx="1.6" ry="1.1" transform="rotate(43 151.0 131.8)" fill="#8284b0" fill-opacity="0.55"/><ellipse cx="212.7" cy="57.6" rx="2.1" ry="0.9" transform="rotate(5 212.7 57.6)" fill="#8a8cb8" fill-opacity="0.53"/><ellipse cx="215.1" cy="54.2" rx="2.0" ry="1.3" transform="rotate(165 215.1 54.2)" fill="#aeb0cc" fill-opacity="0.79"/><ellipse cx="179.4" cy="85.0" rx="2.2" ry="1.1" transform="rotate(168 179.4 85.0)" fill="#a0a2c8" fill-opacity="0.61"/><ellipse cx="190.8" cy="105.0" rx="1.4" ry="1.0" transform="rotate(77 190.8 105.0)" fill="#9294c0" fill-opacity="0.71"/><ellipse cx="184.6" cy="46.6" rx="1.3" ry="1.2" transform="rotate(164 184.6 46.6)" fill="#8a8cb8" fill-opacity="0.70"/><ellipse cx="225.2" cy="41.9" rx="1.4" ry="1.3" transform="rotate(133 225.2 41.9)" fill="#8284b0" fill-opacity="0.68"/><ellipse cx="226.3" cy="83.9" rx="1.4" ry="1.2" transform="rotate(57 226.3 83.9)" fill="#9294c0" fill-opacity="0.61"/><ellipse cx="160.7" cy="110.3" rx="1.9" ry="1.3" transform="rotate(14 160.7 110.3)" fill="#a0a2c8" fill-opacity="0.61"/><ellipse cx="165.3" cy="44.5" rx="1.9" ry="1.1" transform="rotate(171 165.3 44.5)" fill="#9294c0" fill-opacity="0.70"/><ellipse cx="186.7" cy="74.6" rx="1.9" ry="1.0" transform="rotate(72 186.7 74.6)" fill="#aeb0cc" fill-opacity="0.76"/><ellipse cx="159.1" cy="70.0" rx="2.2" ry="1.2" transform="rotate(49 159.1 70.0)" fill="#aeb0cc" fill-opacity="0.74"/><ellipse cx="147.1" cy="78.4" rx="2.2" ry="1.1" transform="rotate(161 147.1 78.4)" fill="#aeb0cc" fill-opacity="0.53"/><ellipse cx="156.6" cy="117.0" rx="2.0" ry="0.9" transform="rotate(50 156.6 117.0)" fill="#a0a2c8" fill-opacity="0.78"/><ellipse cx="223.7" cy="121.2" rx="1.4" ry="1.2" transform="rotate(98 223.7 121.2)" fill="#aeb0cc" fill-opacity="0.60"/><ellipse cx="159.2" cy="123.4" rx="2.1" ry="1.3" transform="rotate(22 159.2 123.4)" fill="#8a8cb8" fill-opacity="0.55"/><ellipse cx="243.1" cy="121.3" rx="2.2" ry="0.9" transform="rotate(140 243.1 121.3)" fill="#9294c0" fill-opacity="0.58"/><ellipse cx="200.5" cy="111.3" rx="1.8" ry="1.1" transform="rotate(154 200.5 111.3)" fill="#8a8cb8" fill-opacity="0.60"/><ellipse cx="176.3" cy="64.2" rx="2.2" ry="0.9" transform="rotate(124 176.3 64.2)" fill="#9294c0" fill-opacity="0.57"/><ellipse cx="171.3" cy="113.4" rx="1.8" ry="1.2" transform="rotate(168 171.3 113.4)" fill="#aeb0cc" fill-opacity="0.52"/><ellipse cx="215.7" cy="72.7" rx="2.0" ry="1.0" transform="rotate(44 215.7 72.7)" fill="#a0a2c8" fill-opacity="0.68"/><ellipse cx="249.1" cy="119.5" rx="2.1" ry="1.0" transform="rotate(60 249.1 119.5)" fill="#9294c0" fill-opacity="0.72"/><ellipse cx="241.4" cy="49.3" rx="1.4" ry="1.3" transform="rotate(138 241.4 49.3)" fill="#8284b0" fill-opacity="0.66"/><ellipse cx="144.6" cy="30.1" rx="1.5" ry="0.9" transform="rotate(149 144.6 30.1)" fill="#a0a2c8" fill-opacity="0.64"/><ellipse cx="242.2" cy="96.2" rx="1.7" ry="1.3" transform="rotate(165 242.2 96.2)" fill="#8a8cb8" fill-opacity="0.70"/><ellipse cx="197.6" cy="93.8" rx="1.6" ry="1.2" transform="rotate(33 197.6 93.8)" fill="#aeb0cc" fill-opacity="0.73"/><ellipse cx="231.0" cy="39.8" rx="1.9" ry="1.0" transform="rotate(14 231.0 39.8)" fill="#8284b0" fill-opacity="0.63"/><ellipse cx="230.9" cy="123.5" rx="1.6" ry="1.0" transform="rotate(82 230.9 123.5)" fill="#a0a2c8" fill-opacity="0.68"/><ellipse cx="242.4" cy="108.9" rx="2.0" ry="1.3" transform="rotate(33 242.4 108.9)" fill="#aeb0cc" fill-opacity="0.75"/><ellipse cx="216.6" cy="73.4" rx="1.6" ry="0.9" transform="rotate(15 216.6 73.4)" fill="#8284b0" fill-opacity="0.52"/><ellipse cx="193.4" cy="40.1" rx="2.0" ry="0.9" transform="rotate(91 193.4 40.1)" fill="#8284b0" fill-opacity="0.54"/><ellipse cx="199.6" cy="94.8" rx="1.6" ry="0.9" transform="rotate(6 199.6 94.8)" fill="#8a8cb8" fill-opacity="0.70"/><ellipse cx="184.7" cy="91.7" rx="2.0" ry="1.2" transform="rotate(22 184.7 91.7)" fill="#8a8cb8" fill-opacity="0.58"/><ellipse cx="201.4" cy="70.4" rx="2.2" ry="1.3" transform="rotate(138 201.4 70.4)" fill="#8284b0" fill-opacity="0.57"/><ellipse cx="160.2" cy="47.5" rx="2.2" ry="1.3" transform="rotate(93 160.2 47.5)" fill="#8a8cb8" fill-opacity="0.78"/><ellipse cx="150.3" cy="102.9" rx="1.9" ry="1.0" transform="rotate(143 150.3 102.9)" fill="#9294c0" fill-opacity="0.67"/><ellipse cx="199.9" cy="106.1" rx="1.5" ry="1.1" transform="rotate(16 199.9 106.1)" fill="#8a8cb8" fill-opacity="0.65"/><ellipse cx="181.0" cy="120.0" rx="2.2" ry="1.2" transform="rotate(39 181.0 120.0)" fill="#aeb0cc" fill-opacity="0.64"/><ellipse cx="174.2" cy="86.2" rx="1.5" ry="0.9" transform="rotate(9 174.2 86.2)" fill="#8a8cb8" fill-opacity="0.66"/><ellipse cx="170.3" cy="26.6" rx="1.3" ry="1.2" transform="rotate(102 170.3 26.6)" fill="#aeb0cc" fill-opacity="0.52"/><ellipse cx="184.6" cy="119.9" rx="1.8" ry="1.1" transform="rotate(45 184.6 119.9)" fill="#8284b0" fill-opacity="0.70"/><ellipse cx="205.8" cy="99.6" rx="2.3" ry="0.9" transform="rotate(36 205.8 99.6)" fill="#8284b0" fill-opacity="0.72"/><ellipse cx="237.8" cy="37.7" rx="2.1" ry="1.2" transform="rotate(57 237.8 37.7)" fill="#8284b0" fill-opacity="0.52"/><ellipse cx="169.6" cy="56.9" rx="1.3" ry="1.1" transform="rotate(144 169.6 56.9)" fill="#9294c0" fill-opacity="0.79"/><ellipse cx="187.7" cy="107.7" rx="1.3" ry="1.0" transform="rotate(162 187.7 107.7)" fill="#8284b0" fill-opacity="0.56"/><ellipse cx="144.1" cy="103.5" rx="2.0" ry="1.2" transform="rotate(105 144.1 103.5)" fill="#8a8cb8" fill-opacity="0.54"/><ellipse cx="151.7" cy="81.8" rx="1.5" ry="1.0" transform="rotate(19 151.7 81.8)" fill="#9294c0" fill-opacity="0.77"/><ellipse cx="159.8" cy="87.8" rx="2.2" ry="0.9" transform="rotate(156 159.8 87.8)" fill="#8284b0" fill-opacity="0.76"/><ellipse cx="220.8" cy="35.0" rx="1.4" ry="0.9" transform="rotate(18 220.8 35.0)" fill="#9294c0" fill-opacity="0.59"/><ellipse cx="237.4" cy="37.2" rx="1.5" ry="1.3" transform="rotate(42 237.4 37.2)" fill="#a0a2c8" fill-opacity="0.78"/><ellipse cx="157.7" cy="47.5" rx="2.2" ry="1.2" transform="rotate(167 157.7 47.5)" fill="#a0a2c8" fill-opacity="0.73"/><ellipse cx="201.5" cy="26.8" rx="1.9" ry="1.0" transform="rotate(70 201.5 26.8)" fill="#aeb0cc" fill-opacity="0.71"/><ellipse cx="197.6" cy="73.1" rx="2.2" ry="0.9" transform="rotate(153 197.6 73.1)" fill="#a0a2c8" fill-opacity="0.60"/><ellipse cx="241.2" cy="84.4" rx="2.3" ry="1.1" transform="rotate(10 241.2 84.4)" fill="#8284b0" fill-opacity="0.73"/><ellipse cx="144.3" cy="36.3" rx="1.4" ry="0.9" transform="rotate(129 144.3 36.3)" fill="#8284b0" fill-opacity="0.51"/><ellipse cx="151.2" cy="73.9" rx="1.8" ry="1.0" transform="rotate(110 151.2 73.9)" fill="#aeb0cc" fill-opacity="0.72"/><ellipse cx="192.3" cy="114.9" rx="1.7" ry="1.2" transform="rotate(58 192.3 114.9)" fill="#9294c0" fill-opacity="0.76"/><ellipse cx="150.5" cy="32.1" rx="1.6" ry="1.2" transform="rotate(19 150.5 32.1)" fill="#9294c0" fill-opacity="0.59"/><ellipse cx="177.9" cy="132.2" rx="1.5" ry="0.9" transform="rotate(117 177.9 132.2)" fill="#aeb0cc" fill-opacity="0.74"/><ellipse cx="145.1" cy="78.9" rx="1.5" ry="0.9" transform="rotate(16 145.1 78.9)" fill="#8a8cb8" fill-opacity="0.59"/><ellipse cx="179.5" cy="104.6" rx="1.8" ry="1.0" transform="rotate(48 179.5 104.6)" fill="#a0a2c8" fill-opacity="0.64"/><ellipse cx="209.1" cy="42.7" rx="1.6" ry="1.0" transform="rotate(125 209.1 42.7)" fill="#a0a2c8" fill-opacity="0.69"/><ellipse cx="233.7" cy="45.9" rx="2.2" ry="1.2" transform="rotate(100 233.7 45.9)" fill="#8284b0" fill-opacity="0.51"/><ellipse cx="165.2" cy="130.8" rx="1.6" ry="1.1" transform="rotate(55 165.2 130.8)" fill="#8284b0" fill-opacity="0.75"/><ellipse cx="190.2" cy="131.9" rx="2.0" ry="1.1" transform="rotate(141 190.2 131.9)" fill="#a0a2c8" fill-opacity="0.59"/><ellipse cx="183.4" cy="68.3" rx="2.1" ry="0.9" transform="rotate(71 183.4 68.3)" fill="#8284b0" fill-opacity="0.79"/><ellipse cx="149.8" cy="104.2" rx="1.8" ry="1.2" transform="rotate(169 149.8 104.2)" fill="#8284b0" fill-opacity="0.57"/><ellipse cx="168.8" cy="32.3" rx="2.3" ry="0.9" transform="rotate(50 168.8 32.3)" fill="#a0a2c8" fill-opacity="0.74"/><ellipse cx="150.8" cy="123.1" rx="1.4" ry="1.2" transform="rotate(51 150.8 123.1)" fill="#9294c0" fill-opacity="0.51"/><ellipse cx="161.2" cy="81.1" rx="2.2" ry="1.3" transform="rotate(15 161.2 81.1)" fill="#a0a2c8" fill-opacity="0.58"/><ellipse cx="231.1" cy="124.1" rx="2.0" ry="1.3" transform="rotate(97 231.1 124.1)" fill="#8284b0" fill-opacity="0.63"/><ellipse cx="244.5" cy="47.3" rx="1.7" ry="1.2" transform="rotate(29 244.5 47.3)" fill="#aeb0cc" fill-opacity="0.52"/><ellipse cx="157.3" cy="54.9" rx="2.1" ry="1.2" transform="rotate(64 157.3 54.9)" fill="#9294c0" fill-opacity="0.51"/><ellipse cx="191.5" cy="131.8" rx="2.0" ry="0.9" transform="rotate(119 191.5 131.8)" fill="#aeb0cc" fill-opacity="0.64"/><ellipse cx="154.0" cy="56.0" rx="1.3" ry="1.1" transform="rotate(155 154.0 56.0)" fill="#a0a2c8" fill-opacity="0.74"/><ellipse cx="184.5" cy="104.0" rx="1.6" ry="0.9" transform="rotate(160 184.5 104.0)" fill="#a0a2c8" fill-opacity="0.65"/><ellipse cx="166.1" cy="126.3" rx="1.3" ry="1.2" transform="rotate(151 166.1 126.3)" fill="#9294c0" fill-opacity="0.67"/><ellipse cx="250.0" cy="107.2" rx="1.3" ry="1.1" transform="rotate(160 250.0 107.2)" fill="#8a8cb8" fill-opacity="0.71"/><ellipse cx="247.6" cy="41.9" rx="1.6" ry="0.9" transform="rotate(102 247.6 41.9)" fill="#a0a2c8" fill-opacity="0.55"/><ellipse cx="247.0" cy="57.7" rx="1.5" ry="1.1" transform="rotate(18 247.0 57.7)" fill="#8a8cb8" fill-opacity="0.77"/><ellipse cx="165.4" cy="40.5" rx="1.9" ry="1.1" transform="rotate(111 165.4 40.5)" fill="#8a8cb8" fill-opacity="0.58"/><ellipse cx="162.5" cy="32.9" rx="2.2" ry="1.1" transform="rotate(33 162.5 32.9)" fill="#8284b0" fill-opacity="0.63"/><ellipse cx="173.2" cy="63.0" rx="1.9" ry="0.9" transform="rotate(160 173.2 63.0)" fill="#a0a2c8" fill-opacity="0.68"/><ellipse cx="168.9" cy="54.6" rx="1.7" ry="1.1" transform="rotate(180 168.9 54.6)" fill="#9294c0" fill-opacity="0.73"/><ellipse cx="236.6" cy="26.9" rx="2.3" ry="0.9" transform="rotate(37 236.6 26.9)" fill="#8284b0" fill-opacity="0.69"/><ellipse cx="188.6" cy="55.5" rx="2.2" ry="1.1" transform="rotate(146 188.6 55.5)" fill="#8a8cb8" fill-opacity="0.76"/><ellipse cx="230.9" cy="35.1" rx="2.2" ry="1.2" transform="rotate(147 230.9 35.1)" fill="#8a8cb8" fill-opacity="0.52"/><ellipse cx="234.3" cy="61.6" rx="1.4" ry="1.0" transform="rotate(28 234.3 61.6)" fill="#9294c0" fill-opacity="0.72"/><ellipse cx="211.8" cy="109.3" rx="1.3" ry="1.1" transform="rotate(149 211.8 109.3)" fill="#8a8cb8" fill-opacity="0.61"/></g></g><g clip-path="url(#c2)"><rect x="254" y="25.2" width="108.00" height="108.80" fill="#fff" filter="url(#h2)"/><g filter="url(#nb)"><path d="M254.6,21.8L253.4,23.1M252.1,138.7L251.3,136.0M289.2,59.2L291.4,60.7M366.2,57.4L365.0,56.9M320.6,42.1L322.8,41.1M290.4,41.3L287.8,41.9M316.2,48.0L316.8,48.1M313.1,45.4L311.8,44.4M313.3,24.5L310.3,26.4M271.5,45.8L271.8,49.1M272.7,49.7L271.8,49.1M281.2,24.2L280.2,25.7M339.3,29.9L338.7,29.0M359.7,37.1L361.3,37.6M362.6,60.0L362.6,59.9M315.7,123.0L315.5,122.7M301.8,107.0L299.1,109.2M339.5,91.7L337.2,90.9M353.0,92.4L353.5,93.8M317.1,131.3L317.0,129.6M312.0,126.0L311.2,126.4M297.8,109.9L295.5,107.9M270.0,61.8L270.2,61.4M260.3,54.3L261.5,53.7M299.9,65.4L300.4,65.3M313.8,51.6L310.8,52.4M263.6,29.5L260.9,28.9M354.4,89.2L353.6,85.9M310.3,88.8L309.3,85.4M278.3,54.5L281.0,55.1M312.8,101.9L313.5,102.1M310.6,116.9L308.5,120.3M251.1,113.6L251.4,115.6M290.3,115.5L288.1,117.3M292.2,131.9L293.5,133.9M250.6,89.4L253.0,88.6M324.3,24.7L326.7,26.2M299.4,54.6L303.2,55.6M265.8,62.1L264.3,63.1M322.2,89.9L322.4,88.0M353.9,73.5L356.0,70.4M275.6,66.0L274.9,67.0M348.3,107.1L347.7,107.4M259.7,60.3L256.5,60.8M352.3,78.3L347.8,78.2M260.2,99.6L260.1,98.3M297.0,116.2L298.1,113.1M253.9,84.2L253.9,84.0M326.2,79.3L325.8,79.1" fill="none" stroke="#cc8a66" stroke-width="0.80" stroke-opacity="0.35" stroke-linecap="round"/><path d="M254.6,21.8L256.6,22.3M297.9,23.8L301.4,22.5M297.9,23.8L297.7,23.7M284.1,112.7L286.6,113.9M298.4,26.4L298.0,26.6M360.1,40.9L357.6,41.1M352.3,40.8L351.7,40.8M292.1,69.0L289.4,68.9M337.3,88.5L337.2,90.9M342.7,97.7L339.9,98.3M338.7,95.0L339.9,98.3M339.5,91.7L340.7,90.7M273.6,133.7L272.0,134.3M271.4,123.1L270.0,126.1M259.2,122.1L261.3,120.8M322.8,32.9L324.7,31.0M319.3,51.7L318.3,52.1M316.4,43.2L314.4,45.2M302.3,37.4L302.6,36.3M285.7,29.0L285.7,29.1M346.2,29.3L347.4,28.4M328.2,94.2L329.2,93.2M360.9,118.7L358.3,117.7M361.7,98.6L363.5,99.0M361.0,97.8L363.1,94.7M305.4,113.1L304.9,112.5M260.1,119.0L259.3,116.7M251.0,30.7L254.6,31.9M255.2,35.8L252.9,33.7M300.2,51.1L301.0,50.9M300.1,60.8L302.0,61.6M306.3,62.2L306.3,61.2M315.2,38.1L312.8,38.2M328.1,60.0L330.9,60.5M357.3,85.0L354.8,84.8M319.6,101.2L317.5,103.8M353.6,137.7L353.6,136.3M348.4,119.7L347.6,121.9M358.7,96.4L358.6,94.9M356.8,100.4L356.6,97.6M330.6,107.4L331.3,107.0M364.9,91.0L365.0,91.1M360.7,88.3L361.3,91.1M305.9,123.7L303.8,122.0M276.8,128.6L277.7,129.0M257.1,44.5L258.9,44.0M327.1,60.5L328.1,60.0M303.3,59.6L303.4,58.5M304.9,34.6L306.9,36.8M318.3,85.6L320.1,86.3M323.9,85.9L323.7,83.8M344.8,65.4L345.6,65.7M305.7,129.7L304.3,129.4M259.4,73.9L256.7,75.3M282.4,82.2L280.8,81.5M286.0,90.0L283.3,90.9M259.3,36.2L258.3,37.4M328.1,26.3L331.3,28.4M338.3,110.3L337.8,110.2M288.2,117.7L290.1,119.9M276.3,124.6L274.2,120.5M275.2,92.1L274.2,92.8M264.1,103.5L264.0,103.7M316.2,78.4L313.9,78.9M359.9,138.3L361.6,135.0M351.8,72.8L353.0,73.8M344.9,73.0L349.2,73.3" fill="none" stroke="#d4946e" stroke-width="1.40" stroke-opacity="0.35" stroke-linecap="round"/><path d="M256.6,22.3L257.2,21.9M284.0,49.8L282.1,47.1M286.3,21.5L281.9,23.0M363.2,43.4L365.0,40.4M353.6,35.3L352.9,36.3M367.8,124.1L364.5,127.5M271.5,135.9L272.0,134.3M270.3,131.7L270.8,130.9M322.8,32.9L319.8,32.5M300.5,72.1L297.7,71.0M329.2,39.0L326.9,37.3M313.3,85.4L313.8,88.8M360.4,63.0L362.4,63.4M362.7,82.1L359.6,81.2M340.2,83.7L339.7,82.4M361.1,98.3L361.0,97.8M345.8,124.1L345.9,123.1M315.5,133.0L317.1,131.3M330.8,127.6L330.2,126.1M283.1,134.5L284.2,132.5M257.0,119.9L256.0,119.4M287.9,105.4L286.6,104.5M247.9,47.4L251.1,47.2M327.0,44.2L325.5,44.8M280.0,28.4L280.3,26.1M281.3,31.0L278.6,31.9M276.7,42.4L277.4,41.5M260.1,30.2L260.9,28.9M342.0,54.7L343.0,57.3M334.2,43.1L336.3,45.4M362.6,32.7L360.6,31.9M328.7,55.9L328.7,55.9M348.7,60.9L351.9,59.6M292.4,80.7L291.2,81.2M275.9,60.0L277.6,57.4M321.4,114.1L322.3,113.3M311.3,106.0L311.7,105.8M281.4,126.2L280.5,125.4M282.6,129.3L281.4,126.2M308.3,136.5L307.2,136.0M282.5,84.5L285.2,86.0M268.8,103.2L264.1,103.5M326.7,26.2L327.4,23.4M284.9,35.4L287.8,34.8M342.5,47.9L345.0,45.1M326.3,71.7L325.2,69.6M357.6,66.7L355.6,69.4M364.3,129.2L363.3,129.9M347.9,101.0L348.9,103.2M352.6,98.6L349.2,99.1M306.6,134.8L305.2,133.7M259.4,73.9L257.7,71.4M266.0,89.7L265.9,89.9M307.8,82.1L310.3,80.1M297.0,128.6L295.9,127.0M313.2,70.2L316.6,69.3M252.9,99.7L253.4,99.0M251.6,95.1L253.6,95.5M353.0,73.8L353.0,75.1" fill="none" stroke="#dca07e" stroke-width="1.10" stroke-opacity="0.57" stroke-linecap="round"/><path d="M260.4,22.1L263.9,22.3M294.7,26.7L294.5,26.1M257.8,29.7L255.7,30.6M372.8,43.6L365.0,40.4M362.7,26.1L363.3,28.1M363.3,49.6L363.0,50.7M262.1,133.0L265.4,133.1M266.0,122.8L267.6,122.3M322.4,28.9L320.2,29.6M268.8,45.2L269.8,44.5M373.5,39.1L364.8,38.1M363.4,69.8L363.8,67.2M310.0,94.7L308.2,95.2M352.5,107.8L352.3,108.0M337.8,123.3L339.8,122.9M337.4,123.4L337.0,127.0M327.4,132.2L326.6,133.0M315.5,122.7L313.9,122.6M251.0,125.1L251.7,123.8M280.2,130.1L281.5,134.7M261.5,120.2L260.1,119.0M270.2,61.4L269.0,59.4M277.5,30.6L278.6,31.9M350.9,48.3L350.5,51.5M323.0,62.3L322.3,63.9M351.9,59.6L352.0,59.7M281.1,59.7L279.4,57.5M347.7,96.2L347.6,96.8M342.0,111.8L339.7,112.3M362.5,139.0L364.1,136.0M336.0,132.0L333.2,132.2M305.5,118.4L307.8,120.6M274.7,132.0L276.9,131.5M276.5,75.5L276.1,71.3M274.5,69.6L272.3,70.0M348.1,57.2L346.0,56.9M322.4,88.0L320.7,87.2M349.3,119.3L351.2,119.7M263.8,99.8L263.4,96.7M332.4,27.7L331.3,28.4M256.5,56.0L252.6,56.1M337.3,66.8L336.3,66.5M351.6,81.5L348.8,80.6M335.7,111.2L334.2,109.5M252.8,116.9L253.2,116.8M303.7,115.8L300.7,116.0M274.4,120.4L274.2,120.5M271.5,90.9L274.2,92.8M364.1,136.0L362.3,134.6M258.0,66.3L258.3,68.2M319.2,69.5L320.6,73.0M347.7,69.3L349.5,73.0M270.1,80.4L267.8,77.8" fill="none" stroke="#cc8a66" stroke-width="1.40" stroke-opacity="0.35" stroke-linecap="round"/><path d="M314.8,21.9L313.4,23.8M362.0,46.9L363.1,44.6M295.8,99.2L294.6,98.3M276.7,42.4L275.5,44.9M292.4,29.6L291.0,28.2M363.0,44.5L361.7,44.0M361.6,39.7L360.1,40.9M321.5,94.6L318.4,94.8M335.5,87.6L337.3,88.5M335.2,91.7L333.6,91.0M251.9,131.5L250.8,133.0M300.0,50.9L300.2,51.1M306.8,54.3L310.0,53.7M272.7,49.7L275.6,45.9M273.0,50.5L276.1,50.8M362.6,32.7L364.2,31.8M342.9,29.3L342.6,29.9M346.2,29.3L342.9,29.3M339.9,85.1L336.2,84.8M362.3,121.1L361.0,118.7M361.7,117.7L361.0,118.7M357.3,85.0L356.5,87.9M318.7,128.1L317.0,129.6M285.5,101.3L283.6,101.7M293.3,91.4L294.6,94.9M270.5,56.3L270.2,57.9M260.3,54.3L257.1,53.7M251.3,50.7L251.6,50.5M319.3,51.7L321.2,53.0M273.8,24.8L271.8,26.6M304.0,73.3L303.8,74.8M347.3,88.9L349.9,90.0M278.3,54.5L277.2,55.6M319.6,101.2L320.7,101.4M321.4,102.4L320.7,101.4M319.1,115.2L319.6,114.5M311.0,133.3L308.3,136.5M283.1,114.0L280.4,114.9M266.8,99.7L267.4,99.8M257.1,53.7L256.5,55.9M264.9,33.3L262.9,32.3M346.9,22.3L344.6,22.1M337.3,35.4L339.5,36.1M270.9,65.9L271.0,65.8M359.5,122.7L359.0,124.2M349.2,99.1L348.2,98.9M267.3,119.0L268.5,117.4M269.0,85.8L269.9,87.7M266.0,89.7L269.4,89.0M281.0,93.2L281.1,91.7M279.4,102.1L277.1,100.5M349.9,42.4L347.4,42.7M347.1,45.4L347.0,45.2M310.8,75.8L308.6,77.7M306.1,80.2L306.8,76.9M343.5,80.0L345.8,79.3M294.7,119.2L292.5,123.1M317.9,81.2L316.2,78.4M320.4,78.1L316.3,78.3M347.7,78.1L347.1,78.3M270.4,74.9L269.6,72.7M267.8,77.8L268.6,76.0" fill="none" stroke="#cc8a66" stroke-width="1.10" stroke-opacity="0.80" stroke-linecap="round"/><path d="M313.4,23.8L310.1,21.5M298.3,101.2L297.2,103.5M299.3,41.7L299.1,41.4M281.8,19.2L281.9,23.0M281.4,63.8L280.0,64.4M309.8,48.8L308.9,47.9M275.6,45.9L275.4,45.4M328.7,55.9L330.3,51.5M366.4,72.2L364.5,73.9M289.0,69.6L286.4,70.6M302.6,80.8L302.6,80.8M307.1,106.4L308.2,107.6M337.4,95.1L336.5,98.1M346.1,92.7L350.2,91.7M354.9,90.9L354.4,89.2M340.0,123.0L343.0,121.6M318.4,135.8L316.0,134.7M293.9,107.7L294.1,111.4M322.2,52.7L324.6,56.2M310.5,27.4L310.3,30.9M331.6,79.7L331.9,79.7M358.6,71.4L358.1,71.5M294.1,90.4L294.3,88.2M322.0,96.8L322.5,98.8M318.0,99.6L319.6,101.2M326.3,116.3L323.8,117.6M315.0,101.8L316.6,99.4M350.2,125.5L351.6,125.7M345.2,105.4L345.5,104.2M307.8,115.6L305.5,118.4M251.3,55.8L251.1,54.7M326.7,32.5L328.8,31.8M330.7,34.0L333.3,34.9M287.2,32.9L287.8,34.8M269.1,26.1L268.8,26.2M339.9,22.7L341.2,20.6M346.0,52.9L346.9,51.4M343.0,113.2L342.9,116.1M339.6,112.2L336.4,114.2M252.4,112.3L255.9,110.4M281.0,93.2L279.0,95.2M337.3,66.8L338.9,69.4M295.4,116.8L294.4,114.8M294.7,114.0L298.1,113.1M296.2,125.4L295.7,124.2M264.7,108.9L264.8,108.3M325.6,75.6L324.9,78.2M313.9,78.9L312.9,78.4M256.5,98.0L256.3,96.3M272.1,109.6L269.0,111.0" fill="none" stroke="#e4b294" stroke-width="0.80" stroke-opacity="0.35" stroke-linecap="round"/><path d="M299.5,19.3L301.4,22.5M257.2,125.8L256.0,124.1M357.6,41.1L357.3,43.7M251.6,135.4L256.4,136.0M287.3,107.0L285.1,107.7M277.7,47.7L276.1,50.8M360.2,47.7L360.1,50.9M308.7,101.8L309.4,101.4M306.5,100.9L308.2,96.5M345.5,136.6L344.8,139.2M321.1,132.5L321.5,134.0M333.3,122.6L333.8,126.2M332.0,122.8L330.2,126.1M283.2,129.5L282.6,129.3M274.9,60.0L274.6,59.6M264.8,46.7L267.3,47.0M301.0,50.9L303.1,51.2M267.6,28.5L268.9,29.8M329.4,82.4L328.0,82.3M358.6,71.4L359.7,70.5M318.4,94.8L318.7,98.4M354.7,114.1L351.3,114.2M361.4,93.1L363.1,94.6M336.3,136.6L337.2,134.6M303.8,122.0L300.4,122.7M285.2,86.0L285.0,86.6M247.5,55.8L251.3,55.8M326.4,27.4L327.5,28.9M322.4,25.1L324.3,24.7M334.9,37.3L337.3,35.4M346.0,56.9L345.9,53.1M330.7,128.5L330.8,127.6M342.0,111.7L344.7,109.8M263.3,91.0L264.7,94.4M264.3,113.3L263.4,109.8M279.1,121.5L278.0,120.2M251.3,108.4L251.1,107.7M285.6,94.3L283.3,90.9M277.8,94.6L275.7,95.7M254.6,37.7L254.1,40.6M261.6,41.2L261.6,39.8M251.8,41.6L254.1,40.6M256.2,60.5L256.5,60.8M333.0,65.9L334.8,67.4M345.8,79.3L346.6,83.2M298.4,112.9L298.1,113.1M300.5,116.6L300.5,116.3M289.0,125.4L290.0,122.4M314.4,65.6L316.2,67.0M267.2,85.4L265.6,88.6" fill="none" stroke="#cc8a66" stroke-width="0.80" stroke-opacity="0.80" stroke-linecap="round"/><path d="M357.5,34.8L359.7,37.1M287.1,63.1L287.3,62.9M294.6,44.7L296.9,41.1M300.9,45.2L299.5,44.1M303.6,103.4L303.5,103.8M249.7,27.7L251.1,29.8M287.0,53.6L287.8,52.7M309.5,26.1L310.3,26.4M297.2,32.6L297.0,32.8M319.1,58.8L317.0,62.3M327.6,110.9L327.3,111.8M358.6,113.7L358.3,117.7M356.7,106.8L359.7,107.9M318.8,135.6L317.5,131.7M313.2,129.9L315.6,129.3M318.7,127.5L318.7,128.1M290.7,97.7L290.9,96.4M320.8,49.0L323.2,51.9M324.7,49.7L325.0,51.5M322.3,25.3L322.4,25.1M311.3,56.5L313.4,55.5M282.1,71.2L281.9,70.2M294.9,87.7L295.2,84.6M260.3,54.3L258.2,56.3M283.7,116.6L281.7,117.7M303.8,122.0L303.6,119.4M286.2,82.0L284.9,81.3M278.4,68.4L275.7,70.5M284.9,98.1L287.3,97.4M250.3,59.2L251.7,56.1M320.4,22.8L320.4,22.5M337.4,40.9L336.5,39.6M353.8,68.9L355.6,69.4M342.0,67.2L340.9,65.5M250.4,110.0L251.3,108.4M261.5,90.6L260.3,93.6M261.7,86.1L259.9,82.3M265.5,95.0L269.4,95.3M342.0,67.2L342.4,69.2M295.3,118.9L294.7,119.2M317.5,65.4L316.2,67.0M255.0,101.9L253.2,104.2M253.6,95.5L254.9,95.0M266.0,78.1L267.8,77.8" fill="none" stroke="#dca07e" stroke-width="1.10" stroke-opacity="0.80" stroke-linecap="round"/><path d="M357.5,34.8L356.8,35.1M284.1,112.7L284.8,110.7M298.1,96.3L296.8,99.5M325.1,102.1L321.4,102.4M318.6,27.1L319.9,29.3M324.1,29.6L322.4,28.9M309.8,48.8L312.2,48.4M273.1,39.3L274.4,38.3M334.9,85.3L333.8,84.9M356.5,55.4L356.5,54.7M301.0,77.3L301.3,78.2M318.7,127.5L320.2,124.6M309.4,101.4L310.2,99.1M310.4,90.9L307.0,91.4M356.5,87.9L358.5,89.0M326.0,134.2L321.4,135.2M297.8,109.9L299.0,109.2M310.8,52.4L313.4,55.5M310.3,30.9L311.6,31.7M337.4,40.9L334.3,42.7M351.6,32.2L349.9,31.8M331.9,79.7L334.2,78.3M352.7,63.4L351.4,64.2M357.6,66.7L358.3,66.4M290.2,76.2L288.6,79.4M323.0,120.2L326.8,120.6M348.1,113.7L349.5,118.0M343.0,98.0L343.8,100.4M327.4,132.2L328.4,132.6M308.2,126.2L305.9,124.9M278.4,68.4L279.7,68.5M327.5,28.9L331.1,28.8M287.8,41.9L286.4,41.1M354.2,31.7L351.8,32.0M325.2,69.6L327.7,67.4M347.5,64.8L345.6,65.7M348.4,60.7L344.7,60.0M356.1,118.7L355.9,120.2M263.4,96.7L265.4,95.2M284.6,120.2L285.7,120.5M258.8,88.6L258.4,85.9M259.9,82.3L259.6,82.3M285.0,86.6L283.0,88.1M312.2,72.0L313.2,70.2M306.5,76.7L306.7,76.8M334.3,60.2L334.1,63.0M338.4,106.3L337.2,108.1M331.3,107.0L334.3,108.4M291.6,114.7L290.7,115.5M279.3,104.0L277.1,105.5M272.9,94.6L273.5,98.8M269.0,101.7L270.0,101.4M321.1,66.9L319.6,69.2M357.6,134.2L357.6,132.7M270.6,116.6L270.9,114.6M264.7,82.9L266.2,81.6" fill="none" stroke="#cc8a66" stroke-width="1.40" stroke-opacity="0.80" stroke-linecap="round"/><path d="M359.7,37.1L357.5,40.9M290.2,104.6L290.6,103.2M314.9,34.6L316.4,36.4M341.2,94.6L343.7,91.7M256.4,136.0L256.8,132.7M320.6,42.1L318.6,40.6M291.4,54.6L291.0,55.8M304.9,24.7L307.2,27.1M329.2,39.0L329.3,39.0M329.1,71.8L327.8,72.2M361.0,53.8L356.5,54.7M359.6,81.2L358.7,82.1M329.9,98.1L328.4,98.8M323.3,113.1L323.4,109.6M336.0,94.5L332.7,96.6M318.7,128.1L321.6,129.7M277.6,135.5L278.4,134.6M269.0,59.4L270.2,57.9M263.7,41.9L265.9,42.2M281.5,30.2L281.3,31.0M338.1,41.3L338.9,44.3M306.5,76.7L303.8,74.8M331.6,79.7L329.9,77.0M360.5,78.5L362.1,78.3M264.2,54.4L266.1,55.3M310.9,116.8L311.9,114.5M351.2,110.3L350.2,113.5M343.0,98.0L347.6,96.8M339.7,112.3L339.6,112.2M330.3,31.5L331.1,28.8M304.8,32.5L304.9,34.6M306.2,28.4L306.1,32.0M250.0,66.6L251.7,63.5M264.5,23.8L267.9,24.1M342.5,47.9L344.7,48.8M331.4,63.4L330.4,64.0M343.5,80.0L342.8,79.4M348.0,113.7L345.2,116.8M260.4,109.8L256.1,110.5M262.6,113.8L260.5,112.6M265.1,115.1L267.8,116.5M276.5,92.4L277.8,94.6M255.2,35.8L254.9,37.5M331.4,63.4L332.3,63.9M347.8,78.2L348.8,80.6M297.0,128.6L296.3,129.9M271.5,120.8L274.2,120.5M275.8,107.4L277.1,105.7M269.8,97.5L271.6,98.6M256.2,98.6L256.5,98.0M259.9,64.5L260.6,66.2" fill="none" stroke="#e4b294" stroke-width="1.10" stroke-opacity="0.35" stroke-linecap="round"/><path d="M356.3,37.5L356.5,40.2M328.7,103.7L325.7,103.1M308.1,23.3L309.4,21.4M294.7,26.7L294.5,28.6M254.4,26.8L254.5,28.3M362.6,23.4L365.9,20.9M357.3,43.7L357.7,44.2M314.4,91.1L317.5,92.0M318.5,90.5L317.5,92.0M335.2,91.7L337.2,90.9M339.5,94.1L339.5,91.7M301.8,101.0L299.1,101.3M292.4,100.0L290.6,103.0M320.2,44.9L320.6,42.1M301.4,45.3L302.4,44.4M294.1,52.7L294.9,53.6M299.2,54.9L298.8,57.2M275.5,45.0L275.4,45.4M340.8,54.2L340.4,52.9M364.8,54.6L361.4,52.9M364.1,117.5L361.7,117.7M329.9,98.1L331.0,98.1M341.4,126.0L340.7,127.2M294.4,107.4L295.5,107.9M298.7,105.0L298.2,106.6M287.8,100.9L286.5,101.4M283.6,102.2L281.3,105.4M251.1,47.2L251.4,46.6M314.9,54.7L314.2,55.3M268.9,29.8L272.4,28.7M327.2,86.9L327.1,83.2M326.2,79.3L329.7,77.0M364.0,74.0L363.5,78.5M290.2,76.2L288.8,75.1M268.1,65.7L270.9,65.9M267.4,69.3L271.0,68.3M322.0,108.8L319.8,110.5M353.6,136.3L353.2,135.8M367.2,103.2L364.8,106.6M351.2,115.8L349.5,118.0M361.3,91.1L364.9,91.0M273.7,81.9L271.8,79.4M275.3,85.7L277.0,87.6M281.8,98.2L282.0,100.6M261.6,41.2L260.0,41.4M326.8,26.4L326.7,26.2M251.7,63.5L252.5,64.2M288.2,34.9L287.8,34.8M271.6,23.0L269.1,26.1M346.0,56.9L343.8,58.2M354.7,24.9L357.0,25.4M323.3,122.1L325.3,123.3M324.1,126.3L325.8,126.1M350.3,103.9L351.0,103.8M288.2,117.7L285.7,120.5M255.9,110.4L253.1,108.0M256.9,77.7L258.5,78.2M280.8,41.3L281.4,41.3M350.7,46.1L347.1,45.4M345.0,45.1L347.0,45.2M352.3,78.3L353.1,79.4M356.8,131.0L359.0,130.1M295.3,117.0L295.4,116.8M299.9,121.7L300.0,122.0M264.8,108.3L267.0,106.5M260.1,98.3L256.5,98.0" fill="none" stroke="#dca07e" stroke-width="1.40" stroke-opacity="0.80" stroke-linecap="round"/><path d="M356.5,40.2L357.5,40.9M259.2,122.1L259.7,125.8M319.3,33.1L319.2,34.3M314.8,21.9L318.4,24.6M364.3,85.0L362.5,84.0M330.3,116.5L327.1,116.9M266.4,131.4L266.1,130.5M316.4,36.4L316.2,37.3M284.0,49.8L285.6,49.3M293.8,66.9L295.8,70.1M307.2,27.1L306.3,28.3M272.8,34.5L274.4,38.3M335.7,56.6L335.8,55.6M332.0,89.3L329.6,89.5M358.8,64.0L360.4,63.0M302.3,85.1L299.6,83.5M285.1,57.5L282.4,57.0M319.5,119.7L320.6,117.6M323.8,117.6L322.0,116.9M318.7,127.5L315.9,125.4M306.9,106.4L303.5,103.8M359.2,113.4L360.4,113.5M301.7,112.3L304.9,112.5M290.3,83.4L291.2,81.2M327.6,48.7L325.8,48.0M309.8,48.8L309.6,51.2M308.7,63.3L309.4,63.3M277.8,25.8L276.1,26.6M339.3,23.1L337.7,22.1M333.5,19.9L333.9,23.5M338.1,41.3L337.4,40.9M300.5,72.1L300.2,74.6M350.9,85.8L353.6,85.9M296.6,76.0L294.6,77.2M319.6,114.5L317.8,111.8M313.2,110.0L314.1,114.0M306.9,113.5L307.8,115.6M314.1,106.0L316.4,104.9M313.0,98.6L315.7,98.2M352.6,98.6L353.5,101.2M263.9,118.4L265.1,115.1M285.6,76.5L283.8,75.7M277.7,81.5L277.5,81.8M287.8,93.3L288.0,92.9M325.2,22.1L324.8,22.4M343.7,41.1L346.2,41.1M334.8,37.6L336.5,39.6M351.9,27.8L353.5,28.2M339.2,76.1L339.6,73.0M348.0,113.7L346.9,112.0M279.4,109.3L279.4,109.1M258.0,89.0L258.8,88.6M284.1,81.3L282.5,76.7M258.3,37.4L254.9,37.5M303.2,38.7L303.9,39.0M269.5,104.8L269.2,105.7M345.8,79.3L347.1,78.3" fill="none" stroke="#e4b294" stroke-width="1.40" stroke-opacity="0.57" stroke-linecap="round"/><path d="M356.3,37.5L354.9,38.2M354.9,38.2L354.7,40.2M363.3,49.6L362.0,46.9M287.3,59.7L287.3,62.9M295.4,63.5L295.1,64.0M363.3,28.1L365.3,28.4M361.7,44.0L357.7,44.2M349.3,36.6L348.8,38.4M363.7,87.6L364.3,85.0M306.3,100.9L303.6,103.4M259.2,130.0L261.5,128.9M261.3,52.8L263.4,49.7M288.2,44.0L287.8,41.9M295.1,64.0L294.4,66.2M297.7,71.0L297.1,70.0M339.3,29.9L342.6,29.9M316.6,62.1L317.0,62.3M356.5,54.7L356.5,54.7M283.9,67.1L284.6,67.7M301.0,77.3L298.3,77.6M319.8,120.1L322.9,120.3M355.5,109.7L358.5,110.1M338.4,106.3L336.2,103.9M350.2,91.7L350.9,92.5M335.5,118.7L336.7,118.9M316.0,134.7L315.5,133.0M321.6,129.8L321.6,129.7M301.5,111.2L301.7,112.3M293.3,91.4L291.3,91.7M290.6,38.3L288.9,37.5M272.4,28.7L272.9,29.0M335.8,60.0L334.3,60.2M358.1,71.5L357.1,74.4M354.4,63.6L352.7,63.4M348.6,62.8L351.4,64.2M364.0,74.0L362.8,73.5M294.3,88.2L291.4,86.8M305.9,87.4L308.8,85.2M313.0,98.6L312.8,101.9M333.0,104.6L331.3,107.0M308.5,120.3L307.8,120.6M305.0,138.1L307.2,136.0M275.7,70.5L276.0,71.3M254.3,50.6L254.1,52.7M288.9,37.5L286.2,39.8M285.7,29.1L285.4,30.6M271.8,26.6L269.1,26.1M347.6,38.9L346.2,41.1M340.9,32.8L339.5,36.1M317.7,85.7L318.3,85.6M320.7,87.2L320.1,86.3M330.2,126.1L327.0,125.7M278.0,120.2L278.4,117.9M278.2,87.9L279.1,88.4M348.6,85.1L347.4,83.4M295.7,124.2L296.0,123.7M287.1,121.9L289.8,122.1M259.9,82.3L262.1,81.4M254.1,73.7L253.3,72.9M273.4,94.3L275.7,95.7M316.7,72.4L316.6,69.3M323.1,70.3L319.6,69.2" fill="none" stroke="#d4946e" stroke-width="1.10" stroke-opacity="0.35" stroke-linecap="round"/><path d="M356.5,40.2L354.7,40.2M302.6,67.1L304.8,64.6M292.4,29.6L294.5,28.6M362.7,82.1L362.5,84.0M319.3,90.8L321.5,94.6M266.1,130.5L261.7,129.1M318.7,39.2L318.6,40.6M294.4,66.2L298.3,67.8M306.7,51.7L306.8,54.3M271.5,45.8L275.4,45.4M269.0,40.8L270.6,41.9M336.3,57.5L338.9,57.8M328.6,91.0L329.6,89.5M356.3,105.0L356.7,106.8M336.2,103.9L336.2,103.9M336.3,101.7L334.5,100.6M339.4,119.6L341.7,117.5M317.0,129.6L315.6,129.3M263.9,118.4L263.8,118.5M299.0,109.2L298.2,106.6M251.6,50.5L254.3,50.6M302.6,67.1L300.4,65.3M311.3,56.5L310.5,55.8M272.6,31.7L272.9,29.0M339.2,24.6L339.3,23.1M334.2,78.3L336.2,79.0M355.8,80.3L355.5,80.3M304.1,83.8L307.6,82.8M307.6,82.8L308.8,85.2M263.8,58.3L262.0,55.6M322.0,116.9L321.4,114.1M318.1,107.5L320.1,106.4M328.7,55.9L328.5,55.9M353.7,23.9L354.7,24.9M330.4,64.0L327.5,63.5M339.2,60.7L342.9,60.3M363.3,129.9L362.9,131.4M348.3,107.1L352.3,108.0M343.0,113.2L346.1,111.8M256.1,110.5L256.0,110.4M279.5,90.2L276.5,92.4M253.1,36.9L254.6,37.7M330.6,67.1L333.0,65.9M275.0,90.3L275.2,92.1M273.4,110.6L273.1,113.5" fill="none" stroke="#e4b294" stroke-width="1.40" stroke-opacity="0.80" stroke-linecap="round"/><path d="M290.4,62.4L287.3,62.9M324.4,105.7L325.7,103.1M281.2,24.0L280.5,23.3M253.9,128.4L252.4,128.9M269.6,137.0L271.5,135.9M287.5,46.9L287.4,46.7M287.8,52.7L287.8,52.4M302.7,31.8L301.9,28.8M275.5,44.9L275.5,45.0M280.2,51.3L277.9,52.4M313.3,85.4L315.8,84.2M364.9,67.0L363.8,67.2M354.9,53.2L355.2,50.0M317.0,118.6L317.3,119.1M319.8,120.1L319.7,123.9M301.3,88.1L301.4,88.2M310.2,99.1L311.9,97.9M362.0,122.0L362.3,121.1M365.8,121.1L364.3,120.7M314.4,126.5L312.0,126.0M291.4,136.1L293.2,135.0M279.4,102.1L279.3,104.0M299.7,57.9L300.1,60.8M311.7,35.8L311.2,35.5M357.5,34.8L358.0,33.8M358.6,77.0L358.3,76.4M286.4,70.6L286.3,71.2M310.9,89.6L310.3,88.8M316.6,112.3L317.8,111.8M316.6,99.4L315.7,98.2M305.9,124.9L305.9,123.7M276.1,125.0L276.3,124.6M262.6,113.8L261.5,115.7M254.7,88.8L253.0,88.6M330.3,34.8L330.7,34.0M284.8,38.5L284.9,35.4M340.1,45.0L343.0,42.7M349.8,31.6L351.9,27.8M355.6,69.4L356.0,70.4M276.8,65.8L275.6,66.0M347.9,101.0L348.0,99.0M351.5,46.6L350.7,46.1M315.1,63.9L314.4,65.6M309.4,63.3L311.2,65.9M355.5,80.3L354.3,79.5M355.6,126.2L359.7,126.0M334.8,107.6L334.3,108.4M269.9,117.3L271.5,120.8M266.1,66.8L264.8,66.4M262.1,81.4L264.7,82.9M262.5,67.5L260.6,66.2M316.7,72.4L317.8,73.6M262.2,79.8L265.4,77.6" fill="none" stroke="#cc8a66" stroke-width="1.10" stroke-opacity="0.35" stroke-linecap="round"/><path d="M287.3,59.7L285.5,58.5M296.1,45.8L299.5,44.1M364.7,84.9L364.3,85.0M302.3,104.8L303.5,103.8M255.0,128.7L255.7,131.7M257.8,132.4L256.8,132.7M266.2,134.2L268.7,135.3M284.0,106.2L285.1,107.7M329.1,45.0L329.2,46.2M321.2,36.4L322.7,36.1M308.1,23.3L309.5,26.1M290.4,31.9L289.1,31.1M339.2,24.6L337.8,26.3M336.6,54.7L335.8,55.6M356.5,55.4L358.3,58.0M282.4,57.0L281.4,55.0M323.3,122.1L321.0,124.6M352.6,105.7L355.9,104.9M359.2,85.2L360.3,88.0M358.7,84.7L357.3,85.0M311.7,133.4L313.0,137.1M285.8,132.6L288.6,130.8M338.9,57.9L343.0,57.3M363.3,28.1L360.4,29.5M317.0,62.3L318.3,63.1M361.6,74.1L362.1,78.3M297.7,71.0L296.8,74.1M309.6,107.5L312.2,110.2M353.0,97.4L355.0,96.9M288.2,113.5L290.3,115.5M305.3,118.4L303.6,119.4M279.0,83.9L278.2,87.9M276.8,65.8L278.4,68.4M352.3,55.9L351.3,58.1M351.0,54.0L349.3,55.2M327.1,83.2L323.7,83.8M343.0,63.2L342.9,60.3M358.6,121.2L356.0,120.5M341.3,130.7L344.9,132.1M336.2,128.3L332.2,130.5M256.6,107.8L256.0,110.4M258.8,85.3L259.6,82.3M281.8,98.2L279.5,97.1M277.1,100.5L279.5,97.1M336.4,63.7L334.1,63.0M335.4,112.3L335.7,111.2M291.1,111.6L291.6,114.7M349.9,67.9L349.1,68.0M266.2,81.6L266.0,78.1" fill="none" stroke="#cc8a66" stroke-width="1.10" stroke-opacity="0.57" stroke-linecap="round"/><path d="M284.1,60.3L285.5,58.5M324.4,105.7L326.8,107.2M313.4,23.8L313.3,24.5M296.5,23.6L294.2,21.6M295.3,36.8L293.5,38.8M293.6,49.3L294.3,52.0M313.2,60.4L314.8,60.1M357.7,46.7L360.2,47.7M292.1,69.0L292.7,67.1M362.9,124.0L362.2,125.3M326.3,116.3L327.1,116.9M272.0,134.3L270.3,131.7M322.3,25.3L318.6,27.1M288.2,44.0L287.4,46.7M290.9,51.2L290.7,50.6M297.2,32.6L297.2,32.3M339.2,24.6L342.2,26.7M329.1,45.0L327.0,44.2M348.5,22.3L347.4,22.6M363.5,57.3L362.6,59.9M361.4,51.7L361.4,52.9M354.0,47.1L356.2,48.5M307.1,106.4L306.9,106.4M306.9,106.4L303.6,108.5M308.6,103.1L308.7,101.8M360.4,113.5L361.1,114.0M362.7,103.3L364.9,101.8M333.3,122.6L337.4,123.4M340.0,123.0L341.4,126.0M253.1,36.9L251.9,34.3M325.5,44.8L325.8,48.0M313.2,60.4L311.2,59.9M310.3,26.4L310.5,27.4M339.2,60.7L338.3,61.7M358.6,71.4L360.6,74.2M364.5,73.9L364.0,74.0M293.0,81.0L294.4,84.0M290.3,83.4L291.2,85.1M331.1,117.1L331.3,117.1M345.5,104.2L344.9,102.6M328.4,132.6L329.1,133.8M287.6,136.3L285.8,138.6M305.3,118.4L303.7,115.8M275.8,78.5L277.4,80.5M287.8,93.3L286.5,94.4M254.1,52.7L256.5,55.9M306.8,54.3L306.3,55.1M353.9,28.8L355.8,29.4M316.0,82.6L317.9,81.2M342.5,76.6L342.8,79.4M256.6,107.8L259.1,106.5M254.7,88.8L254.3,84.9M260.2,74.1L262.3,72.8M279.5,97.1L279.3,96.8M298.4,133.3L298.7,133.0M289.0,128.1L292.7,130.1M277.7,112.9L276.1,115.3M269.5,104.8L272.6,104.0M262.2,79.8L261.3,77.6M254.6,68.6L254.9,68.9M259.1,106.5L258.6,105.7M260.6,63.7L264.1,63.7M259.9,95.6L256.3,96.3M260.6,63.7L259.9,64.5M344.7,73.5L348.0,76.6M343.2,75.6L347.1,78.3" fill="none" stroke="#dca07e" stroke-width="1.40" stroke-opacity="0.35" stroke-linecap="round"/><path d="M288.7,56.4L285.5,58.1M301.6,94.7L303.1,94.3M289.6,110.1L287.3,107.0M297.6,94.9L295.1,95.3M297.7,23.7L296.5,23.6M260.0,25.9L259.0,26.1M288.2,25.9L290.2,25.8M352.9,36.3L353.0,37.7M285.2,62.8L283.0,64.4M253.9,128.4L255.0,128.7M262.1,133.0L261.3,133.9M318.8,45.0L316.4,43.2M283.0,45.7L284.1,44.8M271.2,53.4L268.9,50.0M336.6,54.7L339.2,55.3M335.8,55.6L333.1,54.5M314.8,60.0L318.8,57.1M329.7,77.0L329.9,77.0M359.7,67.3L363.1,66.8M301.8,107.0L303.1,108.3M362.5,103.7L364.1,106.4M339.5,87.3L340.6,90.0M336.0,94.5L337.4,95.1M350.1,95.0L350.9,92.5M315.5,133.0L312.3,132.9M307.9,108.8L308.7,112.0M267.8,121.9L267.3,119.0M275.9,60.0L274.9,60.0M304.5,63.7L302.4,63.0M277.4,41.5L279.9,42.0M331.6,79.7L329.4,82.4M322.0,108.8L322.7,108.9M310.6,112.0L311.9,114.5M341.1,103.9L345.2,105.4M343.4,135.4L341.9,135.5M328.4,132.6L332.3,131.3M310.3,126.1L310.3,123.6M253.9,120.9L251.7,120.1M285.5,128.1L285.5,125.0M286.6,113.9L286.9,116.6M279.0,83.9L277.5,81.8M262.9,32.3L261.0,32.7M348.8,56.7L349.3,55.2M343.0,42.7L345.0,45.1M341.4,50.4L343.6,51.7M271.0,68.3L272.3,70.0M366.2,133.1L362.9,131.4M352.3,123.5L351.6,120.1M330.6,110.1L331.0,110.3M285.5,124.9L287.1,121.9M278.9,110.4L279.4,109.3M258.8,88.6L260.8,89.1M256.9,77.7L256.7,75.3M254.1,73.7L257.7,71.4M269.8,92.1L270.1,94.5M306.9,36.8L307.0,37.4M307.9,70.5L312.2,72.0M306.7,76.8L306.8,76.9M348.8,80.6L347.4,83.4M335.7,111.2L337.8,110.2M257.6,114.3L257.5,114.7M298.0,119.8L296.4,119.6M292.7,130.1L292.8,130.5M292.2,131.9L292.8,130.5M256.9,77.7L254.9,79.6M267.8,106.6L267.0,106.5M316.6,69.3L316.6,69.3M312.8,77.3L312.9,78.4M357.1,135.5L357.6,134.2M257.2,101.4L256.8,101.7M254.5,79.3L251.9,78.8M263.6,72.7L263.1,72.8M321.2,78.3L320.4,78.1" fill="none" stroke="#d4946e" stroke-width="1.40" stroke-opacity="0.57" stroke-linecap="round"/><path d="M285.1,57.5L285.5,58.1M298.3,101.1L296.8,99.5M280.3,67.6L280.0,64.4M251.0,125.1L249.4,125.7M277.1,136.6L279.9,139.1M339.7,82.4L336.7,82.1M315.7,115.2L316.9,116.5M351.7,110.5L354.9,114.0M340.7,127.2L337.0,127.0M318.8,135.6L320.8,135.5M315.9,125.4L314.4,126.5M310.3,126.1L311.2,126.4M280.0,130.2L278.8,134.4M273.8,61.4L274.9,60.0M266.6,50.5L265.1,50.4M302.4,63.0L300.4,65.3M257.8,29.7L260.1,30.2M277.5,30.6L276.8,30.3M351.4,52.9L351.1,52.2M327.2,120.0L326.8,120.6M275.9,76.1L276.5,75.5M271.1,75.4L273.2,75.0M280.0,75.0L281.3,76.0M291.4,86.8L289.4,88.3M288.5,98.5L287.3,97.4M307.1,56.7L307.0,57.9M267.8,27.7L268.8,26.2M347.4,22.6L346.8,26.6M339.9,37.2L339.5,36.2M348.3,107.1L350.3,103.9M331.0,110.3L331.9,112.8M258.2,93.1L260.0,93.9M255.5,93.3L258.2,93.1M254.6,74.6L254.1,73.7M333.8,28.1L332.4,27.7M312.4,65.4L311.2,65.9M333.0,65.9L332.3,63.9M344.9,83.4L346.6,83.2M294.5,111.8L294.7,114.0M296.2,125.4L298.8,124.9M277.1,105.5L277.1,105.7M270.9,114.6L269.1,112.8M353.0,75.1L352.4,76.1M348.0,76.6L348.6,75.9M321.0,75.4L320.6,73.0" fill="none" stroke="#dca07e" stroke-width="0.80" stroke-opacity="0.57" stroke-linecap="round"/><path d="M289.2,59.2L288.9,56.5M301.6,94.7L300.8,97.7M289.6,110.2L288.2,113.5M279.9,43.2L279.5,44.0M304.8,64.6L304.5,63.7M281.5,60.2L281.1,59.7M328.3,99.2L325.4,100.9M251.6,135.4L251.5,134.5M265.4,133.1L265.5,133.7M267.0,127.0L266.0,122.8M263.5,125.1L262.4,125.5M282.9,106.2L282.3,109.0M291.3,48.8L290.7,50.6M287.5,47.4L285.6,49.3M294.9,53.6L295.1,53.8M264.2,24.8L263.1,26.2M263.9,22.3L264.5,23.8M260.4,26.2L263.1,26.2M323.8,117.6L323.0,120.2M313.9,92.8L314.4,91.1M305.6,91.5L304.9,88.6M362.7,103.3L362.5,103.7M351.7,110.5L351.3,110.3M341.2,102.4L341.0,102.9M267.7,59.2L269.0,59.4M255.2,35.8L256.3,33.6M308.9,47.9L305.4,48.6M299.7,57.9L298.8,57.2M311.0,35.0L311.6,31.7M281.5,30.2L280.0,28.4M269.0,32.4L269.4,31.3M341.6,35.6L342.8,33.5M343.9,37.1L344.8,36.5M347.6,38.9L344.8,36.5M314.4,81.3L316.0,82.6M349.9,90.0L350.6,89.1M305.7,87.5L305.9,87.4M277.9,52.4L278.3,54.5M309.6,107.5L311.3,106.0M341.2,102.4L343.6,101.3M343.6,101.3L344.9,102.6M340.9,132.7L341.8,135.5M276.1,125.0L278.9,126.3M285.5,125.0L285.5,124.9M279.8,72.8L280.0,75.0M278.1,35.5L277.6,37.1M259.6,35.7L259.3,36.2M351.4,52.9L351.0,54.0M327.7,67.4L326.8,64.7M327.1,60.5L327.5,63.5M339.6,76.6L339.1,79.6M271.0,65.8L274.9,67.0M351.2,115.8L352.5,117.8M352.6,105.7L351.0,103.8M307.8,128.7L305.7,129.7M282.1,76.2L282.5,76.3M281.1,91.7L279.5,90.2M279.5,90.2L279.1,88.4M351.7,40.8L349.9,42.4M362.9,131.4L362.5,132.0M298.0,119.8L299.9,121.7M280.4,114.9L277.7,112.9M268.8,103.2L269.5,104.8M259.6,101.6L258.6,105.7M357.6,134.2L361.6,135.0M261.3,77.6L263.2,76.7M265.2,76.9L265.4,77.6M270.4,74.9L268.6,76.0" fill="none" stroke="#dca07e" stroke-width="1.40" stroke-opacity="0.57" stroke-linecap="round"/><path d="M288.9,56.5L288.7,56.4M288.2,113.5L286.6,113.9M316.1,31.9L314.8,33.1M272.5,40.5L271.9,41.3M287.4,66.1L289.1,66.7M321.9,46.1L324.6,44.7M319.8,32.5L320.2,29.6M291.4,54.6L289.4,52.9M298.5,67.6L299.1,65.9M292.6,35.1L293.1,31.9M274.7,55.0L274.0,56.9M264.4,28.7L263.1,26.2M361.3,37.6L362.1,38.5M365.0,40.4L364.3,38.6M336.1,51.1L336.0,51.1M354.9,53.2L356.5,54.7M323.0,120.2L322.9,120.3M308.2,107.6L307.9,108.8M313.9,92.8L310.9,92.9M359.5,102.9L360.5,103.6M366.0,95.7L363.1,94.7M302.0,61.6L303.3,59.6M260.6,47.7L260.8,46.3M276.8,30.3L276.3,30.7M334.9,46.8L336.1,45.7M326.2,79.3L328.0,82.3M354.5,83.8L354.8,84.8M351.3,114.2L351.2,115.8M337.6,118.7L338.6,115.9M300.5,123.5L302.1,125.6M311.7,133.4L311.0,133.3M280.3,67.6L279.7,68.5M307.6,32.3L306.1,32.0M337.2,33.6L337.3,35.4M322.3,63.9L322.6,64.5M338.3,61.7L340.9,65.2M356.6,130.9L355.9,129.3M256.7,75.3L254.6,74.6M283.0,88.1L280.4,87.4M310.5,74.3L310.8,75.8M310.4,79.8L308.6,77.7M337.2,108.1L337.8,110.2M297.6,110.6L298.4,112.9M310.8,75.8L312.8,77.3M357.6,132.7L362.4,132.1M251.6,73.0L251.0,77.7M271.9,70.6L269.6,72.7" fill="none" stroke="#e4b294" stroke-width="0.80" stroke-opacity="0.80" stroke-linecap="round"/><path d="M326.8,107.2L328.6,106.1M295.8,99.2L294.4,101.7M294.0,40.6L296.9,41.1M296.3,47.3L293.6,49.3M267.8,121.9L271.5,120.8M315.3,41.7L316.3,42.7M316.0,30.2L315.0,28.9M301.7,71.3L302.2,69.9M296.8,34.0L297.0,32.8M267.8,27.7L264.2,24.8M329.2,39.0L327.2,41.7M332.0,85.4L332.0,89.3M358.8,64.0L358.3,66.4M357.3,43.7L355.7,43.8M302.6,80.8L302.1,79.0M301.3,88.1L299.0,86.8M299.5,82.9L299.6,83.5M303.8,92.6L300.5,90.7M298.9,91.8L297.1,87.8M341.1,103.9L341.0,102.9M354.4,89.2L354.4,89.2M304.9,110.3L304.9,112.5M267.7,59.2L266.8,59.7M263.5,49.7L265.1,50.4M310.5,55.8L310.0,53.7M314.9,34.6L311.7,35.8M315.8,84.2L316.0,82.6M300.2,74.6L297.1,74.6M318.5,110.4L319.8,110.5M309.4,101.4L311.9,102.1M315.0,101.8L313.5,102.1M353.0,97.4L352.9,97.1M330.6,107.4L330.6,110.1M340.0,115.7L338.6,115.9M336.4,136.9L336.3,136.6M252.8,116.9L251.4,115.6M283.8,135.1L284.9,138.8M288.5,136.0L287.6,136.3M297.7,137.2L295.2,133.4M275.3,85.7L277.5,81.8M276.1,71.3L276.0,71.3M271.9,70.6L272.3,70.0M251.3,50.7L251.1,54.7M260.8,46.3L258.9,44.0M348.4,119.7L349.3,119.3M266.7,91.9L265.9,89.9M260.5,107.1L260.9,109.2M257.4,69.4L257.7,71.4M275.3,85.7L274.4,85.7M269.8,92.1L270.2,91.0M277.6,37.1L279.6,38.4M255.9,110.4L256.0,110.4M252.2,68.4L254.6,68.6M276.5,92.4L275.2,92.1M253.2,104.2L253.2,104.2M250.6,103.3L253.2,104.2M251.1,107.7L253.2,104.2M263.2,76.7L265.2,76.9" fill="none" stroke="#d4946e" stroke-width="1.10" stroke-opacity="0.57" stroke-linecap="round"/><path d="M303.1,94.3L304.6,96.6M307.1,23.1L304.6,20.2M276.2,137.0L277.1,136.6M255.3,123.8L256.0,124.1M258.4,51.2L261.3,52.8M300.2,51.1L299.4,54.6M317.0,51.2L316.8,48.1M291.0,38.7L290.6,38.3M284.5,25.4L286.2,27.3M342.6,29.9L343.2,32.1M328.6,91.0L328.8,91.5M359.7,70.5L362.2,71.1M281.1,59.7L281.1,59.7M359.5,102.9L359.0,101.4M342.8,95.9L345.6,93.7M358.5,89.0L360.3,88.0M337.8,123.3L336.7,118.9M285.8,132.6L288.5,135.7M274.0,56.9L274.6,59.6M251.8,43.4L254.4,45.1M251.8,43.4L251.8,41.6M306.1,44.3L309.0,44.9M321.2,53.0L320.7,56.7M323.2,51.9L322.2,52.7M272.8,34.5L273.1,33.9M338.4,49.2L336.1,45.7M332.4,59.2L334.3,60.2M334.0,81.9L331.9,79.7M307.0,91.4L308.4,88.9M357.1,93.3L358.6,94.9M263.6,29.5L262.9,32.3M336.5,39.6L339.9,37.2M346.9,51.4L346.2,49.0M274.5,69.6L274.9,67.0M356.2,123.8L355.6,126.1M336.2,128.0L334.6,127.2M330.7,128.5L331.8,129.6M260.9,69.3L262.3,72.8M272.6,83.7L273.0,84.5M301.4,132.3L302.7,131.1M302.7,131.1L304.5,133.7M278.0,120.2L274.4,120.4M267.4,69.9L264.0,72.1M347.5,64.8L349.1,68.0M345.8,69.5L347.7,69.3M262.9,86.9L265.6,88.6M260.6,66.2L258.3,68.2M339.9,72.8L343.4,74.8" fill="none" stroke="#dca07e" stroke-width="0.80" stroke-opacity="0.35" stroke-linecap="round"/><path d="M302.7,98.6L300.8,97.7M304.6,20.2L302.1,22.8M300.2,27.6L298.4,26.4M288.9,56.5L291.0,55.8M293.0,60.0L293.9,60.7M287.1,63.1L287.4,66.1M321.5,104.5L321.4,102.4M256.5,136.1L259.3,136.2M262.1,133.0L261.7,129.1M315.6,26.9L315.0,28.9M292.1,45.3L287.5,46.9M292.1,69.0L293.0,71.8M309.6,51.2L310.5,52.4M306.3,28.3L306.2,28.4M277.8,25.8L276.5,21.6M332.4,58.0L335.7,56.6M351.6,46.6L354.0,47.1M334.2,75.6L335.8,75.1M298.6,92.2L298.9,91.8M359.5,122.7L358.6,121.2M359.5,102.9L356.3,105.0M360.5,103.6L359.7,107.9M272.2,129.3L271.8,127.1M273.6,123.8L273.9,125.9M304.8,47.4L305.4,48.6M302.2,69.9L303.4,69.0M265.9,42.2L268.3,45.0M275.8,28.5L272.9,29.0M340.1,45.0L338.9,44.3M332.0,85.4L331.4,85.1M297.0,79.8L294.6,77.2M309.3,85.4L308.8,85.2M322.0,108.8L320.1,106.4M354.4,101.4L353.5,101.2M365.6,89.1L364.9,91.0M307.2,121.9L307.8,120.6M284.3,117.1L284.6,120.2M285.5,125.0L289.0,125.4M281.7,117.7L279.7,117.0M280.0,130.2L278.1,129.6M275.9,76.1L273.2,75.0M290.3,91.6L289.4,88.3M326.9,51.9L328.5,55.9M283.2,33.6L285.4,30.6M281.3,31.0L283.2,33.6M344.8,65.4L344.3,63.8M325.3,123.3L325.8,126.1M351.6,125.7L351.7,128.8M333.8,126.2L334.6,127.2M257.6,114.3L256.1,110.5M264.8,114.3L268.3,113.6M254.7,90.9L255.5,93.3M355.9,129.3L355.9,129.2M260.0,93.9L259.9,95.6M294.4,114.8L291.6,114.7M269.0,111.0L269.1,112.8M317.8,73.6L317.4,75.4M344.9,73.0L344.7,73.5M352.3,78.3L352.4,76.1" fill="none" stroke="#dca07e" stroke-width="0.80" stroke-opacity="0.80" stroke-linecap="round"/><path d="M257.2,125.8L259.7,125.8M329.1,45.0L330.5,44.5M292.7,67.1L293.8,66.9M270.1,35.1L269.7,36.7M336.0,26.0L337.8,26.3M334.6,50.9L335.1,50.7M333.7,69.9L332.1,69.9M361.0,53.8L361.4,52.9M322.2,89.9L319.3,90.8M312.4,117.9L315.7,115.2M301.6,105.7L301.8,107.0M338.7,95.0L337.4,95.1M352.9,97.1L350.1,95.0M360.7,88.3L360.3,88.0M320.8,135.5L320.1,139.5M255.3,123.8L254.5,122.6M258.4,51.2L257.2,51.7M255.1,48.3L254.4,50.5M353.9,50.0L355.2,50.0M346.1,92.7L347.3,88.9M294.4,84.0L291.2,85.1M317.6,108.7L318.5,110.4M308.7,112.0L310.6,112.0M317.5,103.8L316.8,104.0M346.9,131.9L348.1,131.8M350.2,113.5L348.1,113.7M283.7,95.3L285.6,94.3M278.9,34.8L278.1,35.5M343.0,42.7L343.7,41.1M344.6,22.1L343.3,23.9M355.5,122.5L352.3,123.5M344.7,109.8L344.4,107.6M251.6,95.1L250.1,96.4M265.5,95.0L266.7,91.9M274.4,85.7L272.7,87.6M265.5,95.1L265.4,95.2M332.2,24.5L332.4,27.7M304.4,41.2L305.6,42.1M303.6,137.6L303.5,135.2M290.3,115.5L290.7,115.5M291.6,118.8L294.7,119.2M325.8,79.1L324.9,78.2M271.5,79.4L270.1,80.4M317.2,75.7L320.4,78.1M267.4,69.9L269.3,72.5M265.5,75.0L268.6,76.0" fill="none" stroke="#cc8a66" stroke-width="1.40" stroke-opacity="0.57" stroke-linecap="round"/><path d="M300.4,97.8L298.1,96.3M304.9,24.7L304.1,24.8M300.2,27.6L302.2,23.0M293.9,60.7L295.4,63.5M291.0,38.7L293.5,38.8M339.5,94.1L341.2,94.6M251.5,134.5L250.8,133.0M267.3,128.1L270.8,130.9M332.3,74.6L331.2,74.8M358.2,58.8L358.3,58.0M354.6,56.4L353.4,59.3M362.4,63.4L363.3,62.5M358.6,51.0L356.5,54.7M332.3,74.6L334.2,75.6M310.9,89.6L310.4,90.9M317.5,94.5L315.6,95.3M363.5,99.0L364.9,101.8M340.0,86.0L343.0,87.7M306.9,113.5L305.4,113.1M261.5,115.7L259.3,116.7M292.4,99.1L290.7,97.7M294.1,90.4L293.3,91.4M317.1,54.9L314.9,54.7M310.5,52.4L310.8,52.4M281.5,30.2L284.1,28.9M353.9,50.0L351.1,52.2M336.3,57.5L335.8,60.0M357.1,74.4L357.8,76.0M350.2,91.7L349.9,90.0M348.1,131.8L350.6,133.8M347.6,121.9L352.2,123.5M326.7,137.5L329.1,133.8M289.7,131.9L292.2,131.9M274.7,132.0L273.6,130.1M286.1,90.1L288.9,88.2M286.0,90.0L285.0,86.6M283.0,97.3L284.9,98.1M284.3,42.9L286.4,41.1M342.0,54.7L344.6,53.1M339.6,76.6L342.5,76.6M343.5,81.4L343.5,80.0M337.5,70.1L336.8,72.7M358.3,117.7L356.1,118.7M252.5,99.8L250.1,96.4M287.1,121.9L285.7,120.5M269.4,89.0L270.2,91.0M260.0,41.4L258.7,40.5M313.2,70.2L310.9,66.7M264.3,63.1L264.1,63.7M265.2,76.9L265.5,75.0" fill="none" stroke="#e4b294" stroke-width="0.80" stroke-opacity="0.57" stroke-linecap="round"/><path d="M293.9,107.7L294.4,107.4M364.7,84.9L365.6,82.2M343.7,91.7L343.3,91.1M298.3,101.2L299.1,101.3M269.3,137.5L269.6,137.0M268.5,45.8L267.3,47.0M330.5,44.5L331.5,44.9M298.3,67.8L297.1,70.0M313.9,51.5L313.7,49.8M280.5,23.3L276.5,21.6M326.5,36.0L326.9,37.3M332.7,46.2L334.9,46.8M346.8,26.6L347.4,27.5M329.1,71.8L331.2,74.8M326.9,75.1L327.8,72.2M316.7,88.5L317.7,85.7M343.5,81.4L344.9,83.4M341.1,103.9L340.5,106.6M343.7,91.7L345.6,93.2M326.0,134.2L326.6,133.0M323.2,137.3L321.4,135.3M311.7,133.4L312.3,132.9M270.0,126.1L271.8,127.1M270.1,35.1L269.3,34.1M269.0,32.4L269.3,34.1M334.2,43.1L331.5,44.9M362.1,78.3L363.5,78.5M355.5,80.3L354.5,83.8M281.9,70.2L284.6,67.7M288.8,75.1L288.8,73.3M327.1,116.9L327.2,120.0M345.5,117.3L343.6,121.7M282.1,71.2L279.8,72.8M279.7,68.5L280.0,69.0M358.5,27.2L355.8,29.4M336.5,72.8L336.8,72.7M356.6,130.9L353.9,132.5M338.6,115.9L336.5,114.7M336.6,129.1L336.2,128.3M260.5,112.6L257.6,114.3M254.9,37.5L254.6,37.7M329.4,21.5L330.7,23.7M252.3,61.3L254.4,60.4M313.1,62.5L312.4,65.4M334.5,68.7L334.8,67.4M259.3,116.7L257.6,115.4M277.7,112.9L277.8,111.2M255.6,81.7L254.9,79.6M320.5,81.2L322.4,82.9M316.6,69.3L316.2,67.0M361.6,135.0L362.3,134.6M252.5,99.8L252.9,99.7M342.5,76.6L343.2,75.6M349.2,73.3L348.6,75.9" fill="none" stroke="#cc8a66" stroke-width="0.80" stroke-opacity="0.57" stroke-linecap="round"/><path d="M291.8,107.7L290.2,104.6M279.2,47.8L280.2,51.3M279.6,47.5L279.5,44.0M292.7,67.1L290.9,65.8M339.5,94.1L338.7,95.0M251.9,128.7L249.4,125.7M263.5,125.1L265.9,122.8M326.7,32.5L324.7,31.0M288.1,48.0L288.7,50.5M290.7,50.6L288.7,50.5M313.9,51.5L317.0,51.2M302.7,31.8L301.4,33.0M277.9,52.4L276.6,51.8M339.3,29.9L339.4,31.8M329.1,71.8L329.4,71.2M298.3,77.6L297.0,79.8M355.3,113.6L358.6,113.7M340.0,86.0L339.5,87.3M339.9,98.3L338.9,99.7M333.8,126.2L330.8,127.6M273.6,123.8L271.4,123.1M286.5,101.4L285.5,101.3M275.3,33.8L276.3,30.7M353.9,50.0L351.0,48.1M334.2,43.1L334.3,42.7M305.0,72.7L304.0,73.3M336.7,82.1L336.1,81.0M292.4,80.7L293.0,81.0M297.1,87.8L294.9,87.7M310.3,88.8L308.4,88.9M263.8,58.3L266.8,59.7M331.1,117.1L329.7,120.7M333.7,119.9L331.3,117.1M323.3,113.1L322.3,113.3M310.3,123.6L311.1,121.6M289.0,128.1L289.5,127.3M257.1,44.5L256.1,44.0M260.1,30.2L261.0,32.7M260.0,35.4L261.0,32.8M350.9,48.3L346.6,48.6M325.2,69.6L324.1,69.3M270.0,61.8L271.0,65.7M351.7,128.8L351.2,129.3M333.8,115.6L332.8,113.0M255.2,89.4L258.0,89.0M282.5,76.7L282.5,76.3M277.7,81.5L279.0,81.4M264.3,113.3L267.5,110.6M252.5,56.2L252.6,56.1M342.4,69.2L340.9,70.1M257.6,115.4L257.5,114.7M301.7,112.3L300.3,113.7M295.3,118.9L295.3,117.0M272.6,104.0L273.6,104.7M310.4,79.8L312.9,78.4M351.2,65.7L349.9,67.9M266.0,89.7L265.6,88.6M343.2,75.6L343.4,74.8" fill="none" stroke="#dca07e" stroke-width="1.10" stroke-opacity="0.35" stroke-linecap="round"/><path d="M298.3,101.1L298.3,101.2M365.3,28.4L364.2,31.8M290.9,65.8L289.1,66.7M318.5,90.5L319.3,90.8M324.1,105.8L321.5,104.5M328.8,91.5L333.4,91.1M276.2,137.0L275.0,138.0M259.2,130.0L256.2,127.9M317.8,26.4L318.6,27.1M316.0,30.2L316.1,31.9M295.1,53.8L299.2,54.9M321.9,46.1L321.7,47.8M310.0,44.1L311.8,44.4M299.7,36.2L300.0,37.0M291.0,28.2L288.4,30.2M336.3,57.5L335.7,56.6M331.1,50.3L330.2,51.0M334.2,71.2L333.7,69.9M359.7,67.3L358.3,66.4M328.4,98.8L328.3,99.2M359.0,101.4L361.1,98.3M326.0,134.2L326.6,137.4M254.1,46.7L254.4,45.1M305.4,48.6L304.9,50.3M314.5,29.1L311.6,31.7M268.3,45.0L264.0,44.6M277.5,30.6L280.0,28.4M276.2,38.3L277.4,41.5M344.8,36.5L345.0,35.8M297.1,80.7L293.0,81.0M356.6,97.6L358.7,96.4M332.5,135.2L331.2,136.2M286.1,90.1L288.0,92.9M251.7,56.1L251.3,55.8M324.7,56.1L328.5,55.9M311.9,39.4L308.5,37.5M339.5,36.2L339.5,36.1M359.7,24.5L358.4,26.0M358.4,26.0L357.0,25.4M347.8,63.5L347.5,64.8M336.6,79.6L339.1,79.6M339.7,112.3L340.0,115.7M336.5,114.7L336.4,114.2M336.4,114.2L335.4,112.3M281.5,105.6L279.4,109.1M282.5,76.7L280.8,81.5M326.8,26.4L328.1,26.3M256.5,63.3L256.5,60.8M284.8,38.5L282.9,38.8M306.1,80.2L307.8,82.1M273.8,117.3L270.6,116.6M255.6,81.7L253.9,84.0M259.0,82.0L258.5,78.2M249.2,82.5L251.8,82.9M316.6,69.3L319.2,69.5M362.5,132.0L362.4,132.1M254.2,75.4L254.5,79.3M271.1,75.4L270.4,74.9M325.6,75.6L324.3,74.4" fill="none" stroke="#e4b294" stroke-width="1.10" stroke-opacity="0.80" stroke-linecap="round"/><path d="M249.8,26.1L253.5,26.2M300.2,27.6L300.3,27.7M288.2,25.9L286.4,21.4M313.1,62.5L313.2,60.4M327.3,111.8L325.6,114.0M269.6,137.0L268.7,135.3M315.2,38.1L315.3,41.7M289.4,52.9L287.8,52.7M293.8,52.8L290.9,51.2M294.9,57.0L297.9,57.6M317.3,47.9L316.8,48.1M284.5,25.4L281.2,24.2M363.1,34.0L365.4,35.6M348.5,22.3L350.4,20.6M319.5,119.7L319.8,120.1M364.9,110.8L363.8,114.1M321.6,129.7L324.1,126.3M286.6,104.5L284.7,105.0M268.2,63.1L265.8,62.1M317.1,54.9L318.3,52.1M289.7,34.0L288.2,34.9M336.1,81.0L336.6,79.6M311.9,84.6L313.3,85.4M263.8,58.3L266.1,55.3M322.5,98.8L320.7,101.4M315.7,115.2L315.3,114.4M348.4,119.7L345.5,117.3M355.4,94.9L357.1,93.3M356.4,91.4L356.8,92.0M288.3,128.8L289.0,128.1M326.4,27.4L326.8,26.4M262.6,36.7L260.0,35.4M332.1,69.9L330.6,67.1M323.0,66.7L322.4,65.9M351.2,129.3L351.1,129.8M347.7,128.3L348.0,126.5M340.7,127.2L340.8,129.9M254.5,65.1L256.5,63.3M265.8,34.9L267.5,38.1M337.5,70.1L338.9,69.4M344.6,70.1L342.4,69.2M320.1,86.3L322.4,82.9M312.2,72.5L314.0,74.2M255.0,101.9L256.8,101.7M256.6,107.8L254.7,105.8M344.7,73.5L343.4,74.8M326.3,71.7L324.1,73.1" fill="none" stroke="#e4b294" stroke-width="1.40" stroke-opacity="0.35" stroke-linecap="round"/><path d="M308.1,23.3L307.1,23.1M253.5,26.2L254.4,26.8M361.6,39.7L363.2,43.4M257.2,125.8L256.2,127.9M251.9,131.5L255.7,131.7M267.8,121.9L267.6,122.3M259.7,125.8L261.6,126.5M293.8,52.8L294.1,52.7M293.9,60.7L297.1,59.8M295.6,63.5L299.1,65.9M313.2,41.4L311.8,44.4M290.4,31.9L292.2,31.0M277.7,47.7L275.6,45.9M340.9,32.8L339.4,31.8M332.4,58.0L331.5,56.1M314.8,60.0L314.8,60.1M367.3,67.7L364.9,67.0M363.4,69.8L366.2,71.6M356.2,48.9L355.2,50.0M284.6,67.7L285.1,67.9M362.3,121.1L364.3,120.7M345.6,93.7L347.7,96.2M363.7,87.6L360.7,88.3M339.4,119.6L337.6,118.7M291.1,111.6L294.1,111.4M263.8,118.5L261.5,115.7M314.2,55.3L313.4,55.5M334.8,23.8L336.0,26.0M330.5,38.4L333.3,38.5M341.3,47.9L340.1,45.0M326.1,89.0L327.1,87.0M351.6,81.7L354.5,83.8M310.6,112.0L312.2,110.2M276.3,124.6L279.1,121.9M286.9,116.6L284.3,117.1M264.1,103.5L264.8,100.7M328.8,31.8L327.5,28.9M330.7,34.0L330.0,31.8M311.8,39.9L309.6,41.5M333.3,34.9L334.9,37.3M326.9,129.7L330.7,128.5M351.6,120.1L355.9,120.2M351.0,103.8L351.5,103.0M308.5,40.8L305.6,42.1M251.7,56.1L252.5,56.2M310.6,66.9L310.9,66.7M308.6,77.7L306.8,76.9M339.9,72.8L340.9,70.1M300.2,128.7L299.7,128.8M269.0,85.8L270.2,81.9M272.7,87.6L273.2,89.3M273.1,113.5L270.9,114.6M258.6,64.7L258.0,66.3M317.4,75.4L317.2,75.7M323.1,70.3L322.8,72.3" fill="none" stroke="#d4946e" stroke-width="0.80" stroke-opacity="0.57" stroke-linecap="round"/><path d="M293.0,60.0L291.4,60.7M293.2,58.5L291.0,55.8M294.6,44.7L296.1,45.8M296.1,45.8L296.3,47.3M315.1,63.9L316.6,62.1M285.1,107.7L284.7,110.4M316.3,42.7L318.6,40.6M271.5,45.8L269.8,44.5M286.3,21.5L284.5,25.4M363.1,34.0L361.3,37.6M361.6,39.7L362.1,38.5M342.6,26.7L342.2,26.7M347.4,28.4L347.4,27.5M298.0,82.3L296.2,84.0M323.9,92.6L323.7,94.0M304.9,110.3L303.6,108.5M308.0,95.5L308.2,96.5M301.4,88.2L300.5,90.7M359.2,113.4L358.6,113.7M359.2,113.4L358.5,110.1M364.4,106.6L364.1,106.4M333.5,104.4L332.6,100.8M341.7,117.5L343.0,121.6M297.6,110.6L297.8,109.9M267.9,54.2L266.4,55.3M255.4,31.6L254.6,31.9M306.0,44.4L302.4,44.4M314.8,60.0L314.2,55.3M311.2,59.9L311.3,56.5M263.4,49.7L263.5,49.7M338.9,44.3L336.3,45.4M353.8,66.7L354.9,65.2M352.0,59.7L352.7,63.4M317.8,111.8L318.5,110.4M315.3,114.4L314.1,114.0M316.4,104.9L318.1,107.5M346.9,131.9L347.7,135.9M280.5,124.1L280.5,125.4M298.8,124.9L300.2,128.7M274.8,125.9L273.9,125.9M277.4,80.5L277.7,81.5M303.1,51.2L304.0,54.9M350.5,51.5L346.9,51.4M322.6,64.5L322.4,65.9M322.4,88.0L322.7,87.8M336.8,72.7L339.6,73.0M354.8,117.0L356.1,118.7M347.7,107.4L345.4,106.7M250.8,92.2L251.6,95.1M253.1,108.0L251.3,108.4M249.6,105.4L251.1,107.7M283.8,75.7L282.5,76.3M308.5,37.5L307.6,37.7M303.3,42.1L304.4,41.2M259.6,82.3L259.0,82.0M267.4,69.3L267.4,69.9M269.0,85.8L267.2,85.4" fill="none" stroke="#d4946e" stroke-width="1.40" stroke-opacity="0.80" stroke-linecap="round"/><path d="M295.1,64.0L291.1,64.3M296.4,29.9L296.2,29.5M292.5,43.3L294.0,40.6M279.6,47.5L282.1,47.1M357.7,46.7L357.7,44.2M342.7,97.7L342.8,95.9M252.4,128.9L251.9,128.7M256.8,132.7L256.1,132.3M266.2,134.2L267.2,138.3M267.3,128.1L266.8,128.8M297.9,57.6L298.8,57.2M315.3,41.7L313.2,41.4M271.9,41.3L270.6,41.9M288.2,25.9L286.2,27.3M286.2,27.3L285.7,29.0M340.8,54.2L339.2,55.3M301.3,78.2L297.4,81.0M326.8,107.2L326.6,109.4M363.5,99.0L366.2,97.0M286.9,84.1L290.3,83.4M250.6,41.0L251.8,41.6M254.6,31.9L252.9,33.7M334.3,42.7L333.2,41.1M327.1,87.0L327.2,86.9M356.2,61.9L354.4,63.6M286.3,71.2L288.8,73.3M286.7,85.7L286.4,85.5M271.0,68.3L270.9,65.9M319.6,114.5L321.4,114.1M328.6,106.1L330.6,107.4M341.2,108.1L342.0,111.7M281.9,120.3L281.7,117.7M311.2,35.5L308.5,37.5M326.8,64.7L327.5,63.5M317.9,81.2L320.3,81.3M271.0,65.7L271.0,65.8M356.0,120.5L355.9,120.2M251.9,112.2L250.4,110.0M309.1,131.5L307.0,131.9M283.6,113.1L278.9,110.4M266.7,91.9L269.8,92.1M281.3,76.0L282.1,76.2M279.6,38.4L280.8,41.3M360.0,126.3L359.7,126.0M304.5,133.7L303.5,135.2M300.7,116.0L300.3,113.7M269.9,117.3L270.6,116.6M263.1,104.2L262.7,105.0M274.3,99.3L274.4,99.6M322.4,65.9L321.1,66.9" fill="none" stroke="#e4b294" stroke-width="1.10" stroke-opacity="0.57" stroke-linecap="round"/><path d="M314.8,33.1L314.9,34.6M317.8,26.4L315.6,26.9M298.6,49.6L298.4,49.5M362.7,19.3L362.5,23.4M364.8,54.6L365.6,52.7M318.2,89.7L318.5,90.5M263.2,137.0L263.9,137.1M326.1,35.4L326.7,32.5M291.3,48.8L288.1,48.0M335.1,31.5L335.4,30.2M346.9,22.3L347.4,22.6M336.1,51.1L340.4,52.9M356.3,60.7L353.4,59.3M363.4,69.8L362.2,71.1M363.5,57.3L361.5,56.6M343.5,81.4L340.2,83.7M340.2,84.6L340.2,83.7M347.7,135.9L346.9,136.3M339.8,122.9L340.0,123.0M321.4,135.2L321.4,135.3M317.5,131.7L317.1,131.3M326.9,129.7L326.9,129.7M250.9,45.0L251.8,43.4M264.0,44.6L263.7,44.3M284.1,28.9L280.3,26.1M340.4,52.9L341.4,50.4M360.5,78.5L359.6,81.2M286.7,85.7L291.2,85.8M338.3,110.3L339.6,112.2M340.7,130.0L336.6,129.1M286.9,116.6L288.1,117.3M289.0,125.4L289.5,127.3M302.1,125.6L300.6,128.7M305.9,124.9L305.5,125.1M311.0,133.3L310.3,132.9M251.0,91.9L250.6,89.4M286.2,77.6L285.6,76.5M268.8,103.2L269.0,101.7M284.9,35.4L283.1,34.1M256.3,33.6L259.6,35.7M358.5,27.2L358.4,26.0M327.7,67.4L323.0,66.7M358.1,71.5L356.0,70.4M346.2,129.2L345.0,128.3M269.3,34.1L265.8,34.9M295.4,116.8L297.0,116.2M292.2,126.8L292.4,123.1M272.6,102.0L274.4,99.6M262.3,72.8L263.1,72.8" fill="none" stroke="#d4946e" stroke-width="1.10" stroke-opacity="0.80" stroke-linecap="round"/><path d="M296.9,41.1L298.1,40.6M280.5,23.3L279.0,19.9M362.7,26.1L365.1,24.6M361.7,44.0L360.1,40.9M319.3,33.1L319.8,32.5M322.4,28.9L322.3,25.3M303.3,42.1L302.4,44.4M295.3,36.3L296.8,34.0M296.8,34.0L299.7,36.2M334.6,50.9L333.1,54.5M360.1,50.9L358.6,51.0M363.0,50.7L361.4,51.7M292.9,72.0L293.0,71.8M308.2,96.5L310.2,99.1M335.2,91.7L336.0,94.5M324.1,132.5L326.6,133.0M326.9,37.3L324.7,39.2M327.1,60.5L323.0,62.3M306.3,28.3L310.1,30.9M340.8,54.2L342.0,54.7M348.1,34.0L349.3,36.6M351.2,65.7L351.4,64.2M308.6,103.1L311.3,106.0M316.8,104.0L315.0,101.8M361.0,97.8L358.7,96.4M336.3,137.3L336.4,136.9M333.2,132.2L332.3,131.3M248.9,117.2L251.4,115.6M300.5,123.5L298.8,124.9M274.8,125.9L276.8,128.6M283.7,95.3L283.0,97.3M324.3,24.7L324.8,22.4M313.2,41.4L311.8,39.9M307.6,32.3L308.1,34.2M340.3,38.0L338.5,41.1M343.7,41.1L343.4,40.7M327.7,67.4L327.9,67.4M356.0,120.5L355.5,122.5M342.0,111.8L343.0,113.2M346.9,112.0L346.1,111.8M300.6,128.7L302.7,130.3M281.0,85.6L282.5,84.5M267.7,38.2L267.5,38.1M334.8,104.6L334.8,107.6M254.7,65.9L254.6,68.6M272.6,83.7L270.2,81.9M272.9,94.6L270.1,94.5M314.1,74.7L316.7,75.9M348.6,75.9L352.4,76.1M265.4,77.6L266.0,78.1M320.6,73.0L320.6,73.0" fill="none" stroke="#d4946e" stroke-width="0.80" stroke-opacity="0.80" stroke-linecap="round"/><path d="M292.8,44.3L294.6,44.7M282.8,52.5L280.2,51.3M266.1,130.5L266.8,128.8M331.1,50.1L329.2,46.2M310.5,52.4L310.0,53.7M292.6,35.1L292.2,35.2M293.1,31.9L292.2,31.0M326.5,36.0L330.3,34.8M359.7,67.3L359.7,70.5M361.5,56.6L361.0,53.8M320.2,124.6L321.0,124.6M355.3,113.6L355.1,110.8M331.0,98.1L332.1,100.4M318.8,135.6L318.4,135.8M285.5,128.1L288.3,128.8M257.0,119.9L260.1,119.0M322.4,60.1L319.8,60.4M310.1,30.9L310.3,30.9M322.3,63.9L319.3,62.9M333.8,84.9L334.0,81.9M311.9,84.6L312.0,82.7M355.8,80.3L358.6,77.0M282.1,71.2L284.4,72.9M281.4,55.0L281.0,55.1M355.0,96.9L355.4,94.9M361.4,93.1L361.1,91.5M311.1,121.6L308.5,120.3M273.6,130.1L276.8,128.6M255.2,89.4L254.7,90.9M273.7,81.9L277.5,81.8M261.6,41.2L263.6,41.9M307.0,57.9L303.4,58.5M284.8,38.5L286.2,39.8M348.5,22.3L351.2,25.3M328.6,123.2L327.0,125.7M360.1,126.3L360.7,128.1M347.7,128.3L351.2,129.3M335.5,118.7L335.5,115.7M251.0,91.9L250.8,92.2M298.7,137.1L299.2,135.5M268.5,117.4L267.8,116.5M250.8,86.4L253.9,84.2M258.1,68.9L260.9,69.3M314.4,65.6L312.4,65.4M354.3,79.5L353.1,79.4M360.7,128.1L359.0,130.1M253.2,116.8L254.0,114.1M303.5,135.2L301.0,134.9M302.7,130.3L302.7,131.1M291.6,118.8L290.1,119.9M273.6,123.8L274.2,120.5M264.8,108.3L262.7,105.0M326.9,75.1L325.6,75.6M352.2,69.4L349.9,67.9M272.1,108.4L272.1,109.6M316.7,75.9L316.3,78.3" fill="none" stroke="#d4946e" stroke-width="0.80" stroke-opacity="0.35" stroke-linecap="round"/><ellipse cx="318.2" cy="93.2" rx="1.3" ry="0.9" transform="rotate(72 318.2 93.2)" fill="#b4b8d0" fill-opacity="0.57"/><ellipse cx="355.7" cy="43.8" rx="1.5" ry="1.3" transform="rotate(119 355.7 43.8)" fill="#b4b8d0" fill-opacity="0.57"/><ellipse cx="311.3" cy="41.7" rx="1.6" ry="0.8" transform="rotate(89 311.3 41.7)" fill="#bcbed4" fill-opacity="0.35"/><ellipse cx="285.2" cy="50.6" rx="1.3" ry="1.3" transform="rotate(120 285.2 50.6)" fill="#a0a6c2" fill-opacity="0.44"/><ellipse cx="274.6" cy="31.5" rx="1.3" ry="1.4" transform="rotate(91 274.6 31.5)" fill="#a0a6c2" fill-opacity="0.40"/><ellipse cx="287.0" cy="44.6" rx="1.6" ry="1.1" transform="rotate(64 287.0 44.6)" fill="#a8aec8" fill-opacity="0.56"/><ellipse cx="351.1" cy="91.8" rx="2.2" ry="1.4" transform="rotate(140 351.1 91.8)" fill="#b4b8d0" fill-opacity="0.61"/><ellipse cx="284.2" cy="68.6" rx="1.5" ry="1.3" transform="rotate(32 284.2 68.6)" fill="#a0a6c2" fill-opacity="0.46"/><ellipse cx="350.1" cy="91.2" rx="1.5" ry="1.3" transform="rotate(52 350.1 91.2)" fill="#b4b8d0" fill-opacity="0.63"/><ellipse cx="329.6" cy="118.2" rx="1.9" ry="1.0" transform="rotate(127 329.6 118.2)" fill="#a8aec8" fill-opacity="0.36"/><ellipse cx="342.7" cy="71.4" rx="2.1" ry="1.1" transform="rotate(157 342.7 71.4)" fill="#bcbed4" fill-opacity="0.61"/><ellipse cx="353.1" cy="92.4" rx="2.2" ry="0.9" transform="rotate(110 353.1 92.4)" fill="#a8aec8" fill-opacity="0.53"/><ellipse cx="317.7" cy="101.2" rx="1.4" ry="1.3" transform="rotate(24 317.7 101.2)" fill="#b4b8d0" fill-opacity="0.53"/><ellipse cx="326.5" cy="39.7" rx="1.7" ry="0.8" transform="rotate(72 326.5 39.7)" fill="#a0a6c2" fill-opacity="0.41"/><ellipse cx="308.3" cy="28.5" rx="1.9" ry="0.9" transform="rotate(177 308.3 28.5)" fill="#a0a6c2" fill-opacity="0.64"/><ellipse cx="326.9" cy="99.1" rx="1.3" ry="1.1" transform="rotate(161 326.9 99.1)" fill="#b4b8d0" fill-opacity="0.49"/><ellipse cx="291.0" cy="107.6" rx="1.1" ry="1.0" transform="rotate(1 291.0 107.6)" fill="#a0a6c2" fill-opacity="0.37"/><ellipse cx="300.0" cy="51.2" rx="1.9" ry="1.0" transform="rotate(119 300.0 51.2)" fill="#bcbed4" fill-opacity="0.38"/><ellipse cx="356.1" cy="54.8" rx="1.7" ry="1.0" transform="rotate(74 356.1 54.8)" fill="#b4b8d0" fill-opacity="0.57"/><ellipse cx="325.6" cy="53.4" rx="1.3" ry="1.1" transform="rotate(114 325.6 53.4)" fill="#a0a6c2" fill-opacity="0.47"/><ellipse cx="264.9" cy="77.1" rx="1.2" ry="0.8" transform="rotate(105 264.9 77.1)" fill="#b4b8d0" fill-opacity="0.51"/><ellipse cx="261.5" cy="31.4" rx="1.7" ry="1.0" transform="rotate(53 261.5 31.4)" fill="#a0a6c2" fill-opacity="0.67"/><ellipse cx="292.6" cy="62.0" rx="1.4" ry="0.9" transform="rotate(178 292.6 62.0)" fill="#a8aec8" fill-opacity="0.38"/><ellipse cx="324.0" cy="79.3" rx="1.9" ry="1.0" transform="rotate(82 324.0 79.3)" fill="#bcbed4" fill-opacity="0.48"/><ellipse cx="287.3" cy="73.3" rx="1.6" ry="1.0" transform="rotate(125 287.3 73.3)" fill="#a0a6c2" fill-opacity="0.48"/><ellipse cx="297.1" cy="89.8" rx="1.1" ry="1.3" transform="rotate(126 297.1 89.8)" fill="#a8aec8" fill-opacity="0.61"/><ellipse cx="277.9" cy="123.8" rx="1.9" ry="0.9" transform="rotate(152 277.9 123.8)" fill="#b4b8d0" fill-opacity="0.67"/><ellipse cx="302.7" cy="50.0" rx="1.6" ry="1.0" transform="rotate(140 302.7 50.0)" fill="#bcbed4" fill-opacity="0.59"/><ellipse cx="359.5" cy="89.3" rx="2.0" ry="1.3" transform="rotate(79 359.5 89.3)" fill="#bcbed4" fill-opacity="0.50"/><ellipse cx="323.1" cy="65.8" rx="1.6" ry="1.2" transform="rotate(11 323.1 65.8)" fill="#a8aec8" fill-opacity="0.59"/><ellipse cx="303.3" cy="132.9" rx="2.2" ry="1.2" transform="rotate(16 303.3 132.9)" fill="#bcbed4" fill-opacity="0.38"/><ellipse cx="288.9" cy="111.7" rx="1.2" ry="1.4" transform="rotate(138 288.9 111.7)" fill="#bcbed4" fill-opacity="0.43"/><ellipse cx="256.6" cy="123.5" rx="1.5" ry="1.2" transform="rotate(142 256.6 123.5)" fill="#a8aec8" fill-opacity="0.57"/><ellipse cx="312.7" cy="78.7" rx="1.8" ry="1.4" transform="rotate(34 312.7 78.7)" fill="#b4b8d0" fill-opacity="0.60"/><ellipse cx="348.9" cy="129.8" rx="2.0" ry="0.8" transform="rotate(133 348.9 129.8)" fill="#b4b8d0" fill-opacity="0.52"/><ellipse cx="298.8" cy="83.9" rx="2.0" ry="1.3" transform="rotate(128 298.8 83.9)" fill="#a8aec8" fill-opacity="0.69"/><ellipse cx="275.1" cy="66.2" rx="1.6" ry="1.1" transform="rotate(75 275.1 66.2)" fill="#bcbed4" fill-opacity="0.53"/><ellipse cx="345.3" cy="126.1" rx="1.7" ry="1.1" transform="rotate(110 345.3 126.1)" fill="#b4b8d0" fill-opacity="0.66"/><ellipse cx="339.4" cy="71.9" rx="1.4" ry="1.3" transform="rotate(6 339.4 71.9)" fill="#a0a6c2" fill-opacity="0.47"/><ellipse cx="272.6" cy="80.6" rx="1.8" ry="0.9" transform="rotate(179 272.6 80.6)" fill="#a8aec8" fill-opacity="0.48"/><ellipse cx="343.2" cy="43.8" rx="1.7" ry="1.1" transform="rotate(122 343.2 43.8)" fill="#a8aec8" fill-opacity="0.38"/><ellipse cx="338.4" cy="57.3" rx="1.7" ry="1.3" transform="rotate(22 338.4 57.3)" fill="#a0a6c2" fill-opacity="0.62"/><ellipse cx="322.8" cy="68.3" rx="2.2" ry="1.0" transform="rotate(20 322.8 68.3)" fill="#a0a6c2" fill-opacity="0.48"/><ellipse cx="259.0" cy="93.5" rx="1.7" ry="1.3" transform="rotate(90 259.0 93.5)" fill="#a8aec8" fill-opacity="0.60"/><ellipse cx="296.2" cy="128.2" rx="1.4" ry="1.2" transform="rotate(113 296.2 128.2)" fill="#bcbed4" fill-opacity="0.44"/><ellipse cx="272.8" cy="54.0" rx="1.2" ry="1.0" transform="rotate(90 272.8 54.0)" fill="#b4b8d0" fill-opacity="0.62"/><ellipse cx="269.9" cy="52.2" rx="2.0" ry="1.3" transform="rotate(138 269.9 52.2)" fill="#a8aec8" fill-opacity="0.53"/><ellipse cx="268.6" cy="100.5" rx="1.7" ry="0.9" transform="rotate(55 268.6 100.5)" fill="#a8aec8" fill-opacity="0.69"/><ellipse cx="271.9" cy="28.4" rx="2.2" ry="1.4" transform="rotate(101 271.9 28.4)" fill="#a8aec8" fill-opacity="0.40"/><ellipse cx="262.3" cy="30.2" rx="2.1" ry="0.9" transform="rotate(156 262.3 30.2)" fill="#b4b8d0" fill-opacity="0.54"/><ellipse cx="351.8" cy="67.9" rx="1.8" ry="1.0" transform="rotate(84 351.8 67.9)" fill="#a8aec8" fill-opacity="0.66"/><ellipse cx="328.9" cy="90.5" rx="2.0" ry="1.2" transform="rotate(17 328.9 90.5)" fill="#a0a6c2" fill-opacity="0.46"/><ellipse cx="312.6" cy="52.4" rx="2.0" ry="1.3" transform="rotate(129 312.6 52.4)" fill="#a8aec8" fill-opacity="0.41"/><ellipse cx="263.8" cy="28.1" rx="2.1" ry="1.2" transform="rotate(36 263.8 28.1)" fill="#a0a6c2" fill-opacity="0.36"/><ellipse cx="262.3" cy="38.5" rx="1.7" ry="1.0" transform="rotate(31 262.3 38.5)" fill="#bcbed4" fill-opacity="0.57"/><ellipse cx="277.9" cy="82.7" rx="1.3" ry="1.3" transform="rotate(56 277.9 82.7)" fill="#bcbed4" fill-opacity="0.64"/><ellipse cx="341.8" cy="83.9" rx="1.2" ry="0.8" transform="rotate(142 341.8 83.9)" fill="#a0a6c2" fill-opacity="0.47"/><ellipse cx="308.0" cy="130.2" rx="2.0" ry="1.1" transform="rotate(145 308.0 130.2)" fill="#bcbed4" fill-opacity="0.52"/><ellipse cx="355.2" cy="66.3" rx="1.2" ry="1.1" transform="rotate(73 355.2 66.3)" fill="#a8aec8" fill-opacity="0.63"/><ellipse cx="318.5" cy="50.2" rx="1.6" ry="0.9" transform="rotate(83 318.5 50.2)" fill="#a0a6c2" fill-opacity="0.42"/><ellipse cx="257.8" cy="42.9" rx="1.1" ry="1.1" transform="rotate(180 257.8 42.9)" fill="#a8aec8" fill-opacity="0.51"/><ellipse cx="299.5" cy="83.4" rx="2.2" ry="1.0" transform="rotate(130 299.5 83.4)" fill="#a0a6c2" fill-opacity="0.49"/><ellipse cx="304.5" cy="94.3" rx="1.3" ry="0.9" transform="rotate(162 304.5 94.3)" fill="#bcbed4" fill-opacity="0.67"/><ellipse cx="340.7" cy="67.4" rx="1.1" ry="1.2" transform="rotate(116 340.7 67.4)" fill="#a0a6c2" fill-opacity="0.37"/><ellipse cx="256.3" cy="51.1" rx="2.0" ry="1.4" transform="rotate(79 256.3 51.1)" fill="#b4b8d0" fill-opacity="0.48"/><ellipse cx="297.3" cy="47.2" rx="1.8" ry="1.2" transform="rotate(144 297.3 47.2)" fill="#b4b8d0" fill-opacity="0.49"/><ellipse cx="259.2" cy="83.2" rx="2.2" ry="1.4" transform="rotate(61 259.2 83.2)" fill="#bcbed4" fill-opacity="0.38"/><ellipse cx="270.8" cy="49.3" rx="1.2" ry="1.0" transform="rotate(19 270.8 49.3)" fill="#b4b8d0" fill-opacity="0.46"/><ellipse cx="348.3" cy="104.9" rx="1.6" ry="1.0" transform="rotate(129 348.3 104.9)" fill="#a8aec8" fill-opacity="0.48"/><ellipse cx="271.2" cy="110.1" rx="1.3" ry="1.1" transform="rotate(55 271.2 110.1)" fill="#a8aec8" fill-opacity="0.66"/><ellipse cx="316.2" cy="72.7" rx="1.5" ry="0.8" transform="rotate(150 316.2 72.7)" fill="#a0a6c2" fill-opacity="0.36"/><ellipse cx="298.5" cy="65.9" rx="1.7" ry="1.2" transform="rotate(66 298.5 65.9)" fill="#a0a6c2" fill-opacity="0.41"/><ellipse cx="276.2" cy="58.4" rx="2.0" ry="1.4" transform="rotate(74 276.2 58.4)" fill="#bcbed4" fill-opacity="0.62"/><ellipse cx="265.5" cy="108.6" rx="1.3" ry="1.0" transform="rotate(87 265.5 108.6)" fill="#a0a6c2" fill-opacity="0.62"/><ellipse cx="289.5" cy="41.9" rx="1.3" ry="1.2" transform="rotate(93 289.5 41.9)" fill="#a8aec8" fill-opacity="0.60"/><ellipse cx="354.8" cy="68.0" rx="2.1" ry="1.4" transform="rotate(152 354.8 68.0)" fill="#bcbed4" fill-opacity="0.66"/><ellipse cx="289.2" cy="119.9" rx="1.8" ry="1.3" transform="rotate(48 289.2 119.9)" fill="#a8aec8" fill-opacity="0.44"/><ellipse cx="324.9" cy="130.3" rx="2.1" ry="1.0" transform="rotate(42 324.9 130.3)" fill="#bcbed4" fill-opacity="0.47"/><ellipse cx="356.7" cy="50.2" rx="1.7" ry="1.1" transform="rotate(144 356.7 50.2)" fill="#a8aec8" fill-opacity="0.58"/><ellipse cx="283.7" cy="95.5" rx="1.6" ry="1.3" transform="rotate(169 283.7 95.5)" fill="#a8aec8" fill-opacity="0.69"/><ellipse cx="290.0" cy="83.4" rx="2.0" ry="1.0" transform="rotate(122 290.0 83.4)" fill="#b4b8d0" fill-opacity="0.59"/><ellipse cx="267.8" cy="76.1" rx="1.3" ry="1.4" transform="rotate(134 267.8 76.1)" fill="#bcbed4" fill-opacity="0.64"/><ellipse cx="349.3" cy="100.5" rx="2.0" ry="1.1" transform="rotate(69 349.3 100.5)" fill="#a8aec8" fill-opacity="0.54"/><ellipse cx="340.8" cy="60.6" rx="1.2" ry="1.3" transform="rotate(126 340.8 60.6)" fill="#a0a6c2" fill-opacity="0.60"/><ellipse cx="327.1" cy="52.8" rx="1.5" ry="1.3" transform="rotate(83 327.1 52.8)" fill="#bcbed4" fill-opacity="0.69"/><ellipse cx="290.3" cy="57.9" rx="1.5" ry="1.2" transform="rotate(177 290.3 57.9)" fill="#b4b8d0" fill-opacity="0.43"/><ellipse cx="267.4" cy="66.7" rx="1.9" ry="1.2" transform="rotate(121 267.4 66.7)" fill="#a8aec8" fill-opacity="0.50"/><ellipse cx="285.2" cy="49.7" rx="2.1" ry="1.0" transform="rotate(65 285.2 49.7)" fill="#a8aec8" fill-opacity="0.50"/><ellipse cx="343.5" cy="122.3" rx="2.1" ry="1.4" transform="rotate(8 343.5 122.3)" fill="#bcbed4" fill-opacity="0.47"/><ellipse cx="359.5" cy="130.3" rx="1.3" ry="1.2" transform="rotate(180 359.5 130.3)" fill="#a0a6c2" fill-opacity="0.49"/><ellipse cx="337.5" cy="96.1" rx="1.9" ry="1.3" transform="rotate(64 337.5 96.1)" fill="#b4b8d0" fill-opacity="0.57"/><ellipse cx="260.5" cy="119.0" rx="1.6" ry="1.2" transform="rotate(134 260.5 119.0)" fill="#a0a6c2" fill-opacity="0.53"/><ellipse cx="356.4" cy="95.5" rx="1.6" ry="1.0" transform="rotate(80 356.4 95.5)" fill="#a8aec8" fill-opacity="0.54"/><ellipse cx="355.8" cy="38.5" rx="1.1" ry="0.9" transform="rotate(109 355.8 38.5)" fill="#b4b8d0" fill-opacity="0.39"/><ellipse cx="278.5" cy="60.8" rx="1.3" ry="1.1" transform="rotate(0 278.5 60.8)" fill="#b4b8d0" fill-opacity="0.44"/><ellipse cx="260.7" cy="119.7" rx="1.9" ry="1.1" transform="rotate(74 260.7 119.7)" fill="#b4b8d0" fill-opacity="0.58"/><ellipse cx="341.9" cy="112.2" rx="2.0" ry="0.8" transform="rotate(146 341.9 112.2)" fill="#bcbed4" fill-opacity="0.60"/><ellipse cx="336.0" cy="37.8" rx="2.1" ry="1.2" transform="rotate(85 336.0 37.8)" fill="#b4b8d0" fill-opacity="0.57"/><ellipse cx="346.0" cy="115.3" rx="1.3" ry="1.0" transform="rotate(141 346.0 115.3)" fill="#bcbed4" fill-opacity="0.50"/><ellipse cx="257.2" cy="31.4" rx="2.0" ry="1.1" transform="rotate(25 257.2 31.4)" fill="#bcbed4" fill-opacity="0.49"/><ellipse cx="351.9" cy="93.2" rx="1.7" ry="1.1" transform="rotate(20 351.9 93.2)" fill="#bcbed4" fill-opacity="0.42"/><ellipse cx="277.6" cy="76.3" rx="1.9" ry="0.8" transform="rotate(140 277.6 76.3)" fill="#a8aec8" fill-opacity="0.63"/><ellipse cx="259.1" cy="43.9" rx="1.7" ry="1.3" transform="rotate(92 259.1 43.9)" fill="#a8aec8" fill-opacity="0.51"/><ellipse cx="318.5" cy="68.4" rx="1.3" ry="1.1" transform="rotate(102 318.5 68.4)" fill="#a0a6c2" fill-opacity="0.52"/><ellipse cx="320.4" cy="82.7" rx="1.2" ry="1.2" transform="rotate(58 320.4 82.7)" fill="#b4b8d0" fill-opacity="0.55"/><ellipse cx="318.1" cy="99.8" rx="1.2" ry="1.1" transform="rotate(42 318.1 99.8)" fill="#b4b8d0" fill-opacity="0.64"/><ellipse cx="350.6" cy="52.9" rx="2.0" ry="1.3" transform="rotate(29 350.6 52.9)" fill="#bcbed4" fill-opacity="0.40"/><ellipse cx="303.2" cy="86.9" rx="1.9" ry="1.3" transform="rotate(49 303.2 86.9)" fill="#bcbed4" fill-opacity="0.62"/><ellipse cx="258.9" cy="111.8" rx="1.2" ry="0.9" transform="rotate(84 258.9 111.8)" fill="#a0a6c2" fill-opacity="0.39"/><ellipse cx="339.5" cy="36.1" rx="1.2" ry="1.3" transform="rotate(178 339.5 36.1)" fill="#a8aec8" fill-opacity="0.50"/><ellipse cx="274.8" cy="81.4" rx="1.8" ry="1.0" transform="rotate(11 274.8 81.4)" fill="#a0a6c2" fill-opacity="0.41"/><ellipse cx="255.9" cy="41.5" rx="1.5" ry="1.1" transform="rotate(26 255.9 41.5)" fill="#a8aec8" fill-opacity="0.67"/><ellipse cx="316.6" cy="28.3" rx="1.2" ry="1.4" transform="rotate(55 316.6 28.3)" fill="#bcbed4" fill-opacity="0.35"/><ellipse cx="353.6" cy="48.2" rx="1.2" ry="1.0" transform="rotate(172 353.6 48.2)" fill="#b4b8d0" fill-opacity="0.36"/><ellipse cx="340.8" cy="33.3" rx="1.2" ry="0.9" transform="rotate(42 340.8 33.3)" fill="#b4b8d0" fill-opacity="0.42"/><ellipse cx="359.7" cy="75.7" rx="2.1" ry="0.8" transform="rotate(38 359.7 75.7)" fill="#b4b8d0" fill-opacity="0.54"/><ellipse cx="305.0" cy="124.3" rx="1.8" ry="0.8" transform="rotate(131 305.0 124.3)" fill="#a0a6c2" fill-opacity="0.68"/><ellipse cx="320.4" cy="38.6" rx="1.4" ry="1.2" transform="rotate(83 320.4 38.6)" fill="#b4b8d0" fill-opacity="0.37"/><ellipse cx="263.1" cy="65.6" rx="1.6" ry="0.9" transform="rotate(32 263.1 65.6)" fill="#a0a6c2" fill-opacity="0.67"/><ellipse cx="331.7" cy="43.7" rx="1.3" ry="0.8" transform="rotate(44 331.7 43.7)" fill="#bcbed4" fill-opacity="0.49"/><ellipse cx="348.0" cy="108.6" rx="2.1" ry="0.8" transform="rotate(0 348.0 108.6)" fill="#b4b8d0" fill-opacity="0.56"/><ellipse cx="327.6" cy="53.8" rx="1.1" ry="1.1" transform="rotate(4 327.6 53.8)" fill="#b4b8d0" fill-opacity="0.36"/><ellipse cx="305.8" cy="88.4" rx="1.6" ry="0.8" transform="rotate(32 305.8 88.4)" fill="#bcbed4" fill-opacity="0.57"/><ellipse cx="286.2" cy="75.0" rx="1.7" ry="1.1" transform="rotate(68 286.2 75.0)" fill="#b4b8d0" fill-opacity="0.45"/><ellipse cx="276.7" cy="73.6" rx="1.3" ry="0.8" transform="rotate(117 276.7 73.6)" fill="#a8aec8" fill-opacity="0.65"/><ellipse cx="356.7" cy="68.3" rx="1.2" ry="1.0" transform="rotate(25 356.7 68.3)" fill="#a0a6c2" fill-opacity="0.60"/><ellipse cx="314.7" cy="55.5" rx="2.2" ry="1.3" transform="rotate(149 314.7 55.5)" fill="#a0a6c2" fill-opacity="0.45"/><ellipse cx="269.6" cy="125.5" rx="2.1" ry="1.4" transform="rotate(29 269.6 125.5)" fill="#a0a6c2" fill-opacity="0.67"/><ellipse cx="267.2" cy="119.7" rx="1.7" ry="0.9" transform="rotate(61 267.2 119.7)" fill="#a8aec8" fill-opacity="0.66"/><ellipse cx="347.3" cy="76.9" rx="1.5" ry="1.3" transform="rotate(107 347.3 76.9)" fill="#bcbed4" fill-opacity="0.39"/><ellipse cx="323.1" cy="77.6" rx="2.1" ry="1.3" transform="rotate(165 323.1 77.6)" fill="#a8aec8" fill-opacity="0.39"/><ellipse cx="299.1" cy="65.6" rx="1.7" ry="1.2" transform="rotate(16 299.1 65.6)" fill="#a0a6c2" fill-opacity="0.66"/><ellipse cx="304.2" cy="61.8" rx="1.4" ry="0.9" transform="rotate(73 304.2 61.8)" fill="#bcbed4" fill-opacity="0.58"/><ellipse cx="293.6" cy="91.4" rx="1.5" ry="1.1" transform="rotate(91 293.6 91.4)" fill="#bcbed4" fill-opacity="0.47"/><ellipse cx="261.3" cy="47.6" rx="1.9" ry="1.0" transform="rotate(163 261.3 47.6)" fill="#a8aec8" fill-opacity="0.44"/><ellipse cx="273.0" cy="31.4" rx="1.2" ry="1.1" transform="rotate(110 273.0 31.4)" fill="#a0a6c2" fill-opacity="0.60"/><ellipse cx="323.3" cy="100.4" rx="1.9" ry="1.2" transform="rotate(80 323.3 100.4)" fill="#b4b8d0" fill-opacity="0.50"/><ellipse cx="356.9" cy="107.7" rx="1.7" ry="0.9" transform="rotate(56 356.9 107.7)" fill="#a0a6c2" fill-opacity="0.35"/><ellipse cx="295.6" cy="58.5" rx="1.7" ry="0.8" transform="rotate(123 295.6 58.5)" fill="#b4b8d0" fill-opacity="0.63"/><ellipse cx="326.7" cy="57.2" rx="1.5" ry="1.3" transform="rotate(2 326.7 57.2)" fill="#a0a6c2" fill-opacity="0.40"/><ellipse cx="322.8" cy="26.7" rx="2.0" ry="0.8" transform="rotate(38 322.8 26.7)" fill="#bcbed4" fill-opacity="0.66"/><ellipse cx="291.7" cy="72.5" rx="1.7" ry="1.2" transform="rotate(55 291.7 72.5)" fill="#a0a6c2" fill-opacity="0.43"/><ellipse cx="265.2" cy="121.7" rx="1.3" ry="1.3" transform="rotate(73 265.2 121.7)" fill="#bcbed4" fill-opacity="0.55"/><ellipse cx="290.9" cy="115.8" rx="1.8" ry="1.2" transform="rotate(147 290.9 115.8)" fill="#b4b8d0" fill-opacity="0.42"/><ellipse cx="316.1" cy="37.9" rx="1.7" ry="1.3" transform="rotate(131 316.1 37.9)" fill="#a8aec8" fill-opacity="0.51"/><ellipse cx="260.2" cy="55.6" rx="1.2" ry="1.2" transform="rotate(58 260.2 55.6)" fill="#b4b8d0" fill-opacity="0.67"/><ellipse cx="346.9" cy="31.5" rx="2.1" ry="1.4" transform="rotate(88 346.9 31.5)" fill="#bcbed4" fill-opacity="0.39"/><ellipse cx="304.7" cy="85.6" rx="1.4" ry="0.9" transform="rotate(152 304.7 85.6)" fill="#a0a6c2" fill-opacity="0.47"/><ellipse cx="274.1" cy="93.8" rx="1.5" ry="1.0" transform="rotate(104 274.1 93.8)" fill="#a0a6c2" fill-opacity="0.64"/><ellipse cx="334.0" cy="102.3" rx="1.2" ry="0.9" transform="rotate(68 334.0 102.3)" fill="#bcbed4" fill-opacity="0.61"/><ellipse cx="266.0" cy="67.1" rx="1.7" ry="1.0" transform="rotate(74 266.0 67.1)" fill="#b4b8d0" fill-opacity="0.39"/><ellipse cx="308.3" cy="94.8" rx="1.5" ry="0.9" transform="rotate(110 308.3 94.8)" fill="#a0a6c2" fill-opacity="0.60"/><ellipse cx="275.8" cy="48.2" rx="2.1" ry="0.9" transform="rotate(43 275.8 48.2)" fill="#a0a6c2" fill-opacity="0.53"/><ellipse cx="291.4" cy="50.5" rx="2.0" ry="1.2" transform="rotate(6 291.4 50.5)" fill="#b4b8d0" fill-opacity="0.43"/><ellipse cx="327.8" cy="46.0" rx="1.4" ry="1.1" transform="rotate(98 327.8 46.0)" fill="#bcbed4" fill-opacity="0.59"/><ellipse cx="329.9" cy="121.9" rx="1.8" ry="1.0" transform="rotate(25 329.9 121.9)" fill="#bcbed4" fill-opacity="0.57"/><ellipse cx="349.4" cy="123.5" rx="1.9" ry="1.0" transform="rotate(67 349.4 123.5)" fill="#a8aec8" fill-opacity="0.38"/><ellipse cx="316.4" cy="59.6" rx="1.2" ry="1.4" transform="rotate(167 316.4 59.6)" fill="#bcbed4" fill-opacity="0.68"/><ellipse cx="340.7" cy="85.6" rx="1.8" ry="1.0" transform="rotate(124 340.7 85.6)" fill="#a0a6c2" fill-opacity="0.42"/><ellipse cx="338.4" cy="84.3" rx="1.4" ry="1.0" transform="rotate(114 338.4 84.3)" fill="#a0a6c2" fill-opacity="0.55"/><ellipse cx="289.6" cy="82.4" rx="1.4" ry="1.1" transform="rotate(77 289.6 82.4)" fill="#bcbed4" fill-opacity="0.63"/><ellipse cx="327.9" cy="124.1" rx="2.0" ry="0.9" transform="rotate(171 327.9 124.1)" fill="#a8aec8" fill-opacity="0.49"/><ellipse cx="307.3" cy="39.9" rx="1.5" ry="0.9" transform="rotate(96 307.3 39.9)" fill="#bcbed4" fill-opacity="0.70"/><ellipse cx="345.9" cy="107.9" rx="1.4" ry="1.3" transform="rotate(138 345.9 107.9)" fill="#a0a6c2" fill-opacity="0.38"/><ellipse cx="309.7" cy="115.7" rx="1.8" ry="0.8" transform="rotate(124 309.7 115.7)" fill="#b4b8d0" fill-opacity="0.50"/><ellipse cx="300.3" cy="120.5" rx="1.7" ry="1.2" transform="rotate(160 300.3 120.5)" fill="#a0a6c2" fill-opacity="0.42"/><ellipse cx="269.4" cy="54.9" rx="2.1" ry="1.3" transform="rotate(16 269.4 54.9)" fill="#bcbed4" fill-opacity="0.37"/><ellipse cx="338.4" cy="59.0" rx="1.4" ry="1.1" transform="rotate(142 338.4 59.0)" fill="#a8aec8" fill-opacity="0.64"/><ellipse cx="324.3" cy="77.1" rx="1.9" ry="1.1" transform="rotate(14 324.3 77.1)" fill="#a0a6c2" fill-opacity="0.68"/><ellipse cx="280.4" cy="49.0" rx="1.4" ry="1.4" transform="rotate(86 280.4 49.0)" fill="#b4b8d0" fill-opacity="0.50"/><ellipse cx="289.1" cy="113.9" rx="1.6" ry="0.9" transform="rotate(29 289.1 113.9)" fill="#b4b8d0" fill-opacity="0.67"/><ellipse cx="330.8" cy="129.1" rx="1.9" ry="1.3" transform="rotate(164 330.8 129.1)" fill="#a0a6c2" fill-opacity="0.42"/><ellipse cx="306.3" cy="38.0" rx="1.6" ry="0.9" transform="rotate(62 306.3 38.0)" fill="#a8aec8" fill-opacity="0.50"/><ellipse cx="297.6" cy="55.1" rx="1.6" ry="1.0" transform="rotate(99 297.6 55.1)" fill="#a8aec8" fill-opacity="0.40"/><ellipse cx="306.7" cy="89.1" rx="1.6" ry="0.9" transform="rotate(61 306.7 89.1)" fill="#b4b8d0" fill-opacity="0.64"/><ellipse cx="279.5" cy="53.6" rx="2.0" ry="0.9" transform="rotate(53 279.5 53.6)" fill="#a8aec8" fill-opacity="0.62"/><ellipse cx="288.8" cy="97.1" rx="1.6" ry="1.0" transform="rotate(168 288.8 97.1)" fill="#a8aec8" fill-opacity="0.64"/><ellipse cx="283.0" cy="91.0" rx="1.7" ry="1.0" transform="rotate(133 283.0 91.0)" fill="#a8aec8" fill-opacity="0.62"/><ellipse cx="256.2" cy="31.4" rx="2.0" ry="1.1" transform="rotate(13 256.2 31.4)" fill="#a0a6c2" fill-opacity="0.43"/><ellipse cx="295.8" cy="34.6" rx="1.3" ry="1.0" transform="rotate(122 295.8 34.6)" fill="#bcbed4" fill-opacity="0.52"/><ellipse cx="351.9" cy="128.9" rx="1.2" ry="0.9" transform="rotate(98 351.9 128.9)" fill="#b4b8d0" fill-opacity="0.36"/><ellipse cx="301.3" cy="113.0" rx="1.4" ry="1.2" transform="rotate(120 301.3 113.0)" fill="#bcbed4" fill-opacity="0.53"/><ellipse cx="357.6" cy="35.6" rx="1.3" ry="1.2" transform="rotate(147 357.6 35.6)" fill="#bcbed4" fill-opacity="0.64"/><ellipse cx="278.5" cy="85.6" rx="1.8" ry="0.9" transform="rotate(50 278.5 85.6)" fill="#bcbed4" fill-opacity="0.57"/><ellipse cx="315.4" cy="94.6" rx="2.0" ry="1.2" transform="rotate(29 315.4 94.6)" fill="#a0a6c2" fill-opacity="0.50"/><ellipse cx="265.7" cy="119.1" rx="1.4" ry="0.9" transform="rotate(23 265.7 119.1)" fill="#a8aec8" fill-opacity="0.41"/><ellipse cx="327.8" cy="36.0" rx="1.3" ry="1.4" transform="rotate(136 327.8 36.0)" fill="#a0a6c2" fill-opacity="0.43"/><ellipse cx="356.7" cy="128.9" rx="1.7" ry="1.0" transform="rotate(1 356.7 128.9)" fill="#a8aec8" fill-opacity="0.48"/><ellipse cx="271.2" cy="42.3" rx="1.3" ry="1.2" transform="rotate(143 271.2 42.3)" fill="#a8aec8" fill-opacity="0.45"/><ellipse cx="338.2" cy="88.7" rx="1.6" ry="0.8" transform="rotate(66 338.2 88.7)" fill="#bcbed4" fill-opacity="0.47"/><ellipse cx="264.0" cy="115.0" rx="1.6" ry="1.4" transform="rotate(158 264.0 115.0)" fill="#a8aec8" fill-opacity="0.40"/><ellipse cx="279.1" cy="106.5" rx="1.9" ry="1.0" transform="rotate(159 279.1 106.5)" fill="#a8aec8" fill-opacity="0.42"/><ellipse cx="318.2" cy="78.9" rx="1.7" ry="0.9" transform="rotate(9 318.2 78.9)" fill="#a0a6c2" fill-opacity="0.36"/><ellipse cx="279.7" cy="63.6" rx="1.5" ry="1.1" transform="rotate(5 279.7 63.6)" fill="#bcbed4" fill-opacity="0.51"/><ellipse cx="255.2" cy="125.1" rx="1.4" ry="1.2" transform="rotate(131 255.2 125.1)" fill="#a0a6c2" fill-opacity="0.40"/><ellipse cx="353.7" cy="102.5" rx="2.1" ry="1.1" transform="rotate(72 353.7 102.5)" fill="#bcbed4" fill-opacity="0.69"/><ellipse cx="287.4" cy="68.8" rx="1.8" ry="1.2" transform="rotate(136 287.4 68.8)" fill="#a0a6c2" fill-opacity="0.56"/><ellipse cx="318.4" cy="122.4" rx="1.3" ry="0.9" transform="rotate(96 318.4 122.4)" fill="#b4b8d0" fill-opacity="0.36"/><ellipse cx="329.9" cy="37.0" rx="1.7" ry="1.3" transform="rotate(15 329.9 37.0)" fill="#bcbed4" fill-opacity="0.55"/><ellipse cx="356.8" cy="78.4" rx="1.9" ry="1.2" transform="rotate(110 356.8 78.4)" fill="#b4b8d0" fill-opacity="0.44"/></g></g><g clip-path="url(#c3)"><rect x="364" y="25.2" width="108.50" height="108.80" fill="#fff" filter="url(#h3)"/><g filter="url(#nb)"><path d="M474.3,137.1L475.1,136.4M475.1,37.7L475.3,36.5M361.4,21.9L363.4,25.3M453.5,32.0L454.0,34.8M426.9,67.2L428.2,68.9M427.6,76.7L431.9,78.2M393.0,112.4L389.9,111.2M393.9,109.8L393.2,108.1M407.3,127.0L404.2,126.1M402.3,128.0L404.2,126.1M399.6,122.4L399.7,121.5M452.3,104.3L449.4,104.2M453.7,101.2L453.7,102.8M454.1,95.3L453.1,95.2M457.3,82.9L456.0,83.0M442.5,93.4L443.1,90.5M453.0,94.7L448.5,91.8M380.2,107.6L379.2,108.3M379.0,103.0L378.8,103.1M379.9,26.3L378.0,24.0M382.3,23.9L379.8,21.0M367.5,26.6L368.3,27.0M371.0,80.9L375.4,79.6M374.8,76.3L374.3,76.1M427.4,45.8L432.2,46.8M363.3,62.1L361.1,65.5M470.3,59.0L470.5,55.7M462.5,43.0L463.0,46.3M435.4,49.9L435.1,51.6M448.9,26.9L447.6,26.0M430.8,30.5L433.2,30.8M417.6,114.0L418.5,116.9M434.6,124.3L436.0,124.7M428.2,132.4L430.8,131.6M422.7,100.9L420.3,100.3M389.4,99.7L389.3,97.8M360.6,120.0L361.9,119.1M403.9,48.3L405.4,51.4M405.4,46.1L404.6,45.8M385.7,63.3L386.8,67.1M396.0,83.6L396.7,87.2M413.6,47.8L417.4,50.0M387.7,41.6L385.5,39.3M380.3,34.2L383.2,35.9M375.3,32.6L375.1,33.8M388.2,41.8L392.3,41.9M368.6,40.8L370.5,38.9M449.6,23.9L449.7,20.6M383.7,62.0L384.4,57.5M418.0,64.4L418.2,63.8M462.0,79.5L459.0,78.0M371.9,108.5L370.9,110.3M378.5,95.3L375.0,96.5M397.1,106.1L400.1,103.2M419.0,27.4L419.7,23.3M451.4,44.5L450.6,45.1M368.5,27.4L372.9,29.6M369.9,33.9L365.7,35.3M362.6,67.2L366.3,65.9M456.3,63.2L455.8,63.5M434.5,95.6L434.5,95.7M383.6,56.9L383.1,57.0M391.1,53.5L394.5,55.5M460.0,66.8L457.9,66.6M416.1,98.2L414.9,102.2M372.1,67.0L374.9,63.3M434.9,89.5L434.6,87.8" fill="none" stroke="#c2603e" stroke-width="1.30" stroke-opacity="1.00" stroke-linecap="round"/><path d="M470.7,135.5L470.9,138.3M469.6,69.8L469.8,69.7M464.8,23.2L464.8,23.3M376.0,135.6L374.3,134.1M474.3,77.4L472.5,77.9M445.3,29.5L444.2,31.9M452.3,36.1L454.0,34.8M462.8,51.9L460.2,53.7M475.4,53.5L475.5,50.7M426.9,67.2L430.1,65.1M436.3,71.7L435.4,72.8M431.6,74.7L429.1,73.2M393.8,126.0L393.3,125.1M393.3,125.1L391.5,123.5M391.4,107.3L389.9,111.2M466.3,107.1L462.5,106.1M459.9,96.7L464.5,93.6M464.7,93.8L464.5,93.6M454.6,90.4L453.5,91.3M451.8,82.1L454.9,77.6M472.6,103.4L474.1,104.2M452.3,125.5L450.5,126.7M416.7,79.8L417.3,78.5M385.3,107.4L384.4,107.9M373.2,127.2L375.8,127.9M381.2,104.6L379.0,103.0M380.3,29.0L376.9,28.2M374.6,71.1L375.9,71.8M386.6,90.2L387.1,87.7M400.2,69.8L400.0,69.2M425.4,72.7L423.5,74.8M423.5,67.3L423.7,70.3M413.0,120.5L412.3,118.5M403.4,134.8L400.7,132.4M452.4,86.6L453.1,87.0M458.6,93.8L459.0,92.7M384.9,127.1L385.4,124.2M377.6,109.8L378.0,114.1M369.7,94.6L374.2,97.4M402.2,32.1L401.0,29.5M397.3,30.7L399.2,28.8M395.5,40.4L396.6,39.1M393.6,29.3L392.4,29.6M440.4,38.0L436.9,39.9M394.5,76.4L396.8,78.3M361.4,49.4L362.0,49.7M449.6,23.9L452.4,23.7M429.7,58.4L429.6,58.2M392.8,44.1L392.1,45.2M387.9,59.2L388.0,61.7M410.8,61.9L409.0,61.9M448.6,81.7L449.5,81.9M410.9,131.3L408.5,131.8M407.9,132.9L408.5,131.8M405.0,133.1L407.9,132.9M431.7,103.9L432.6,103.4M451.9,71.1L447.7,69.7M368.4,128.8L366.0,126.7M377.3,99.5L374.9,96.9M399.1,95.1L400.6,99.8M405.9,113.0L408.5,109.5M411.3,42.8L413.9,43.6M386.8,67.1L387.0,69.2M366.8,67.1L366.3,65.9M460.2,53.7L458.1,51.8M392.5,49.8L393.9,49.0M447.2,42.7L444.6,42.2M385.0,45.8L383.8,43.6M378.4,58.6L379.9,60.1M379.2,62.1L381.0,65.2M453.4,52.0L451.2,51.2M443.9,50.2L440.0,45.3M434.8,56.0L435.2,56.6M392.5,49.8L392.0,52.4M441.8,117.0L443.3,119.3M437.2,120.7L439.2,119.2M439.7,113.6L438.9,116.2M401.4,99.6L403.2,100.4M433.2,86.8L434.6,87.8M411.0,97.6L409.7,98.6" fill="none" stroke="#cc6c48" stroke-width="1.30" stroke-opacity="1.00" stroke-linecap="round"/><path d="M470.7,135.5L474.4,132.9M464.8,68.2L469.6,69.8M471.6,30.7L471.8,31.3M469.4,42.1L469.7,40.0M465.2,26.7L465.5,28.4M454.1,95.3L455.6,96.7M467.2,114.1L466.7,110.9M458.3,114.9L460.2,114.0M387.5,103.5L389.6,104.5M441.8,35.3L441.9,32.8M463.9,62.1L464.3,61.4M410.6,128.3L413.1,127.0M396.0,136.9L400.4,142.4M452.2,106.9L450.1,108.7M458.9,105.0L459.1,106.4M456.0,83.0L454.7,82.3M474.1,104.2L476.5,102.4M446.2,120.3L447.3,119.3M456.6,120.1L461.2,121.2M383.4,110.0L384.8,113.7M396.3,23.1L400.8,23.4M430.5,50.9L432.6,52.4M394.6,69.2L394.4,67.8M425.0,71.8L425.4,72.7M428.2,68.9L425.0,71.8M438.0,32.6L437.3,33.6M433.1,33.8L433.5,32.9M412.4,125.3L414.0,124.5M418.4,117.1L418.5,116.9M463.2,133.2L462.9,132.1M465.6,128.2L465.2,129.6M466.7,121.2L468.9,124.0M423.6,82.7L427.3,82.3M362.3,90.5L363.1,87.4M389.3,97.8L388.9,97.0M375.3,103.1L375.4,101.8M420.2,92.3L417.6,93.8M415.8,88.3L415.6,88.2M397.3,30.7L396.5,30.8M394.0,36.0L394.8,33.2M392.8,24.0L390.6,28.9M388.9,25.5L388.7,27.7M390.8,21.5L388.0,24.1M393.0,83.2L392.8,76.9M385.5,39.3L387.4,36.3M451.4,44.5L454.5,45.5M403.9,48.3L400.4,49.8M413.2,56.7L413.0,59.3M441.7,70.3L444.6,70.6M436.1,26.6L434.6,28.5M410.8,136.4L408.4,135.1M406.8,129.0L408.5,131.8M457.6,77.7L459.0,78.0M441.2,97.6L439.6,97.7M369.8,86.1L366.9,83.2M366.0,126.7L364.6,127.0M364.9,131.9L364.6,127.0M384.9,127.1L383.0,127.8M385.7,132.3L381.2,130.8M414.0,88.4L413.0,87.1M412.7,39.5L414.6,40.2M425.6,41.2L424.8,45.8M408.8,32.1L412.0,31.9M416.5,19.0L418.4,23.0M391.1,66.2L393.0,65.5M383.4,77.7L385.2,78.6M363.3,39.8L359.9,40.4M362.8,43.3L364.4,43.0M367.5,74.8L365.2,74.3M438.9,68.9L438.2,67.1M446.7,80.5L446.0,79.3M438.7,81.3L438.7,81.3M430.7,121.2L432.7,120.0M435.3,120.4L437.2,120.7M372.2,115.9L374.9,117.6M400.6,99.8L401.4,99.6M440.2,44.9L440.6,44.6M445.7,56.6L447.4,57.6M441.7,55.7L442.9,55.1M368.2,64.1L370.3,63.9M439.1,89.4L439.4,89.0M403.5,90.5L405.2,90.8" fill="none" stroke="#c2603e" stroke-width="1.00" stroke-opacity="0.75" stroke-linecap="round"/><path d="M474.4,132.9L475.1,136.4M463.7,18.8L460.2,22.5M381.3,30.8L384.7,32.2M384.7,27.5L385.6,31.0M472.8,69.2L473.5,69.4M473.0,63.5L474.3,63.9M463.7,71.0L465.7,72.3M467.7,49.1L466.0,49.5M476.6,40.6L474.9,43.2M431.2,79.9L431.9,78.2M394.6,129.9L396.0,127.9M388.0,138.5L390.0,135.8M389.5,134.2L390.0,135.8M401.3,124.5L403.5,124.2M461.4,83.5L463.6,85.6M453.1,95.2L453.0,94.7M474.6,100.2L476.5,102.4M462.2,115.0L462.8,117.1M427.4,105.3L426.1,103.6M362.7,91.0L362.3,90.5M388.8,116.1L386.2,119.1M386.2,119.1L386.8,120.3M376.8,75.0L380.1,76.6M359.8,69.3L362.1,69.1M477.0,82.8L474.8,84.0M474.8,84.0L474.9,87.6M455.3,30.2L457.7,29.9M452.8,37.7L454.0,38.3M393.0,71.5L394.9,74.1M441.4,70.5L438.9,68.9M404.7,65.6L405.1,65.9M423.0,76.1L423.5,74.8M441.3,32.4L438.0,32.6M460.9,88.6L458.4,91.6M470.2,134.9L466.4,135.3M473.0,129.0L472.1,128.5M466.5,128.2L465.6,128.2M461.1,129.0L462.9,132.1M446.7,134.2L447.1,136.5M428.6,127.1L425.4,132.0M441.1,132.7L439.4,133.0M458.6,124.1L460.4,123.4M422.6,82.1L423.6,82.7M415.3,109.9L412.9,113.5M417.6,114.0L418.0,111.0M367.2,88.5L363.1,87.4M387.1,129.0L384.9,127.1M381.2,121.0L381.2,121.0M382.0,117.7L381.2,121.0M414.9,81.4L415.1,83.6M398.6,42.3L397.5,39.8M420.5,23.0L423.7,25.6M385.2,23.8L385.1,27.2M377.6,87.7L377.4,87.4M393.5,88.1L392.6,83.4M385.7,83.5L387.4,80.9M384.0,43.0L387.7,41.6M387.5,36.3L387.4,36.3M391.7,39.1L392.6,41.2M392.8,44.1L392.3,41.9M470.9,87.6L470.7,84.0M462.4,103.5L465.2,102.8M388.5,48.5L384.6,50.3M408.0,58.8L408.0,57.4M410.8,61.9L412.8,59.4M411.2,54.9L408.0,57.4M419.6,68.4L418.8,68.2M413.6,69.4L414.3,68.5M414.3,68.5L416.7,69.1M404.8,70.0L407.9,70.4M476.2,122.8L474.6,123.3M421.9,131.3L419.1,129.3M422.9,130.2L423.8,128.6M366.9,83.2L365.3,83.3M366.3,113.7L365.8,112.4M383.0,127.8L380.2,125.9M375.4,101.8L377.3,99.5M397.1,106.1L397.1,106.1M409.0,104.4L408.3,104.3M406.1,79.9L406.1,82.1M417.5,95.6L415.9,97.0M412.9,93.0L412.5,90.1M416.8,36.6L417.0,37.3M396.3,92.2L395.7,91.3M387.4,80.9L385.2,78.7M369.8,71.0L367.8,70.4M422.4,54.5L419.9,53.1M422.2,56.6L418.0,55.7M423.7,52.3L422.4,54.5M402.1,73.7L402.0,76.0M445.6,111.6L442.8,113.8M460.2,70.0L459.6,70.3M429.2,90.7L432.1,92.4M447.2,64.8L445.1,65.1M447.2,64.8L448.7,60.7M441.7,55.7L439.6,55.1M435.3,120.4L435.5,116.8M367.5,59.7L368.8,59.1M433.7,65.1L435.7,63.8" fill="none" stroke="#cc6c48" stroke-width="1.00" stroke-opacity="0.75" stroke-linecap="round"/><path d="M477.8,137.0L475.1,136.4M467.9,65.4L468.3,63.3M468.5,36.2L468.5,36.3M460.3,27.0L461.3,26.0M464.3,111.1L463.9,114.0M461.4,110.7L457.2,109.2M472.8,69.2L470.1,69.7M473.5,69.4L473.7,69.6M475.9,77.3L474.3,77.4M422.7,81.2L419.1,77.3M390.6,124.3L389.8,127.9M393.7,138.1L390.0,135.8M393.9,109.8L393.0,112.4M451.8,99.6L449.5,100.2M449.5,100.2L449.4,104.2M455.7,107.3L452.2,106.9M422.7,81.2L422.6,82.1M371.1,103.8L370.9,100.9M389.8,120.5L386.8,120.3M391.6,122.8L389.8,120.5M383.4,110.0L380.9,110.8M392.9,23.9L393.1,23.1M428.4,26.2L428.9,23.3M470.7,92.5L468.4,92.3M463.6,38.5L462.9,38.8M460.5,39.3L459.9,38.0M456.5,42.8L457.9,40.5M475.8,127.0L473.9,124.3M422.3,121.2L418.4,117.1M416.3,120.9L417.6,122.4M429.5,136.6L428.2,132.4M426.4,132.4L425.4,132.0M374.2,97.4L374.1,97.4M415.4,106.6L415.4,106.5M401.0,29.5L399.2,28.8M417.2,30.8L418.6,30.0M382.3,23.9L385.2,23.8M384.7,27.5L385.1,27.2M440.5,36.7L440.4,38.0M425.9,57.7L425.3,59.0M398.6,46.6L398.2,46.4M412.8,59.4L413.0,59.3M413.6,69.4L410.0,69.4M434.6,28.5L431.7,26.4M434.5,29.4L434.6,28.5M438.3,22.4L435.1,22.8M423.2,117.1L424.6,118.9M447.7,69.7L447.0,70.1M474.3,117.6L475.9,119.6M421.5,114.0L421.5,111.7M420.3,100.3L419.2,100.8M370.2,112.6L372.4,115.1M406.1,79.9L408.7,78.2M410.2,43.9L410.0,45.0M417.0,37.3L418.3,38.8M417.0,37.3L414.6,40.2M419.2,49.5L419.7,50.0M419.4,28.1L419.0,27.4M363.3,37.6L359.9,36.1M365.1,31.8L364.7,33.5M359.5,73.4L363.0,73.0M363.8,53.8L366.4,52.8M377.0,47.0L374.9,47.6M417.5,56.7L418.0,55.7M396.2,50.5L396.3,51.3M442.6,81.9L443.7,84.1M438.4,109.8L437.5,112.3M427.3,91.8L427.3,93.2M383.1,57.0L379.3,56.1M451.5,56.1L451.5,59.9M455.8,63.5L455.5,63.9M451.2,48.5L450.1,50.0M435.1,51.6L435.4,52.7M434.7,110.6L432.1,111.2M400.8,93.5L401.3,93.2M401.3,93.2L403.5,90.5M402.9,96.7L406.0,95.9M371.4,55.9L374.0,52.3M378.9,55.4L375.9,55.4M432.1,92.4L434.9,89.5M407.5,102.3L409.7,98.8" fill="none" stroke="#cc6c48" stroke-width="1.60" stroke-opacity="0.75" stroke-linecap="round"/><path d="M473.0,63.5L473.0,63.5M369.4,135.8L365.4,134.8M472.2,39.7L470.5,39.1M442.4,108.5L443.3,107.2M456.2,113.6L456.0,113.2M458.3,114.9L458.4,117.0M380.6,29.2L383.2,27.8M384.7,32.2L385.6,31.0M473.3,43.3L472.9,42.8M389.5,134.2L385.8,135.9M402.3,128.0L400.0,127.3M452.3,96.2L453.1,95.2M456.8,94.0L454.6,90.4M448.2,113.3L450.5,110.1M452.1,117.5L451.2,115.6M456.3,119.2L456.6,120.1M422.1,82.3L422.6,82.1M376.3,130.6L379.0,131.3M373.1,87.0L370.8,89.8M370.4,93.8L372.6,93.2M376.9,73.2L381.3,71.1M376.8,75.0L376.9,73.2M386.6,90.2L383.5,89.8M385.7,84.6L384.0,85.5M467.5,97.7L467.5,97.8M456.5,42.8L458.4,44.2M432.5,77.8L432.8,76.6M428.1,73.6L425.4,72.7M397.0,131.6L397.3,133.2M406.0,122.5L406.2,122.2M453.5,76.5L453.6,76.5M461.1,129.0L459.5,130.3M460.8,135.2L463.2,133.2M472.1,128.5L470.8,124.9M471.8,120.8L469.9,124.3M449.0,132.1L450.3,133.9M428.9,136.9L429.5,136.6M439.4,133.0L438.5,137.1M438.1,107.3L441.4,103.8M441.4,97.5L441.2,97.6M425.1,108.7L423.4,107.0M370.9,100.9L373.2,99.4M404.9,38.4L405.0,39.0M434.8,44.5L432.6,46.0M390.4,57.6L387.9,59.2M379.4,67.2L380.7,65.8M396.7,87.2L394.9,88.3M409.7,53.7L411.2,54.8M467.5,105.6L467.5,105.2M419.6,68.4L420.2,71.9M420.4,62.2L419.6,62.5M407.9,70.4L406.6,65.8M410.6,128.3L411.3,130.9M447.8,72.2L447.0,70.1M454.4,135.0L452.0,133.7M362.1,77.9L362.5,77.9M366.9,83.2L369.4,80.9M357.3,106.2L361.1,107.2M399.3,108.8L400.1,108.4M414.5,35.6L416.3,36.0M427.2,46.0L424.8,45.8M414.3,35.4L413.7,33.1M405.8,24.0L408.2,23.9M408.8,31.8L410.3,27.0M413.7,28.8L411.0,26.8M391.9,90.7L395.7,91.3M385.7,83.5L383.2,81.5M369.2,43.5L364.7,43.4M441.3,76.8L443.5,79.5M434.9,120.8L435.3,120.4M457.6,77.7L458.6,73.9M429.7,95.7L431.1,98.8M375.9,121.1L377.0,120.6M442.8,40.4L442.3,40.5M367.3,53.6L367.4,54.0M371.7,51.3L369.2,55.4M445.1,65.1L448.9,67.9M454.1,69.7L450.4,66.4M437.6,49.0L437.9,48.6M437.0,59.2L436.8,61.0M443.5,119.2L443.3,119.3M419.2,100.8L416.1,98.2M369.2,55.4L369.9,56.1M374.8,59.2L374.9,59.3" fill="none" stroke="#cc6c48" stroke-width="1.60" stroke-opacity="1.00" stroke-linecap="round"/><path d="M473.0,63.5L468.3,63.3M472.0,50.5L469.1,47.6M470.1,22.1L469.7,24.5M476.7,35.3L475.3,36.5M469.9,37.6L470.5,39.1M471.8,114.1L474.6,114.7M474.3,117.6L471.0,118.9M445.6,111.5L447.6,107.7M444.4,128.0L441.9,124.2M372.1,134.4L370.7,134.0M386.4,108.5L385.3,107.4M473.4,47.1L477.0,47.3M389.8,127.9L391.2,128.6M397.9,127.4L398.5,127.7M452.4,117.7L452.1,117.5M452.4,113.3L450.9,110.3M448.2,113.3L448.2,113.3M457.3,123.9L456.4,121.0M377.7,106.6L379.2,108.3M369.7,94.6L370.4,93.8M475.0,58.3L471.6,60.3M472.5,54.4L472.2,54.9M479.2,93.4L473.5,94.4M462.5,43.0L466.5,42.4M462.2,42.6L461.5,39.7M402.1,58.5L401.9,58.5M399.6,59.7L399.4,62.4M421.0,71.8L423.5,74.8M437.3,35.4L440.5,36.7M396.0,136.9L399.1,136.3M464.1,77.3L463.6,77.4M466.3,136.2L463.1,138.7M433.1,101.1L436.8,99.4M421.4,108.3L420.4,111.0M388.8,95.5L388.9,97.0M372.3,125.1L370.8,124.0M368.4,107.4L371.9,108.5M372.3,125.1L376.6,123.9M419.1,87.9L419.4,90.6M404.4,27.1L404.0,28.3M406.8,34.7L410.1,38.3M417.6,32.9L417.2,30.8M392.9,23.9L392.8,24.0M435.0,41.1L434.3,41.1M390.4,56.0L386.5,56.5M411.9,49.6L413.6,47.8M409.6,48.9L411.9,49.6M380.2,34.1L380.3,34.2M372.8,43.0L372.2,42.6M467.6,78.5L470.1,79.7M460.3,27.0L456.2,25.1M458.1,46.1L454.6,46.0M388.1,53.1L389.5,52.9M401.1,54.2L401.9,58.5M399.9,83.9L396.0,83.6M420.2,71.9L419.3,72.7M411.2,109.1L409.9,109.7M422.3,121.2L424.4,119.5M455.5,132.5L455.5,133.7M423.8,128.6L423.7,125.1M364.1,76.8L366.1,78.5M397.8,87.6L401.2,86.2M411.3,42.8L410.2,43.9M426.2,35.0L426.2,35.2M418.3,38.8L417.9,42.0M415.8,42.8L416.7,43.0M383.4,77.7L380.6,77.6M361.8,33.8L360.9,31.8M363.3,29.4L362.5,29.7M418.1,55.2L418.0,55.7M392.5,49.8L392.0,49.3M407.5,74.2L406.9,74.3M430.5,117.6L432.5,117.5M441.0,112.9L442.8,113.8M455.1,73.7L458.6,73.9M414.0,124.5L416.0,125.5M429.7,95.7L431.1,94.4M436.9,39.9L440.6,43.1M363.5,62.1L366.1,59.6M455.0,51.4L455.3,48.6M458.4,48.2L455.3,48.6M436.1,112.1L434.4,116.1M428.9,114.1L431.2,113.1M374.5,70.3L375.1,68.1M434.6,87.8L434.9,87.6M406.0,95.9L406.0,95.7M413.7,101.9L413.3,100.4" fill="none" stroke="#c2603e" stroke-width="1.00" stroke-opacity="1.00" stroke-linecap="round"/><path d="M473.0,63.5L471.5,65.3M471.6,51.5L472.0,50.5M474.2,32.2L471.8,31.3M467.2,114.1L470.3,115.6M474.8,114.5L474.6,114.7M472.1,109.5L475.4,112.4M372.0,130.1L369.9,132.1M362.4,132.0L361.6,131.6M475.2,65.0L473.5,69.4M468.1,72.9L468.9,74.2M459.7,58.5L460.0,62.0M431.2,79.9L427.5,79.1M396.8,118.2L397.4,118.5M456.9,104.2L455.5,104.8M465.8,96.0L464.7,93.8M472.5,103.4L470.6,105.8M452.5,117.9L451.6,122.0M423.2,136.5L423.2,136.0M439.5,128.1L442.1,130.0M456.6,120.1L456.4,121.0M392.3,100.4L393.5,100.0M428.9,23.3L431.4,22.8M384.0,85.5L381.2,84.6M374.3,87.2L373.1,87.0M370.4,93.8L369.4,89.8M367.7,88.9L367.4,89.4M367.7,88.9L368.0,88.9M359.2,65.5L361.1,65.5M361.4,49.4L360.6,46.7M467.1,32.7L463.8,33.7M440.3,24.0L441.7,25.8M447.3,25.1L447.5,25.2M451.8,42.2L450.7,40.7M407.9,50.4L405.4,51.4M407.8,119.0L408.1,121.0M399.7,133.1L400.5,132.4M397.3,133.2L399.7,133.1M462.0,79.5L463.6,77.4M457.4,124.1L458.6,124.1M447.4,132.1L449.0,132.1M437.9,128.4L436.0,124.7M437.0,103.9L437.2,100.5M386.0,94.4L387.2,90.7M404.6,45.8L404.6,45.8M424.4,25.4L423.7,25.6M427.5,36.1L427.7,39.5M392.6,83.4L393.0,83.2M391.8,76.9L389.3,74.0M376.7,32.3L375.3,32.6M376.2,42.2L376.2,39.1M374.6,71.1L374.5,70.3M397.1,79.0L399.3,79.9M423.5,67.3L423.1,67.2M418.0,58.0L421.6,58.5M408.7,78.2L408.8,78.2M414.9,81.4L411.9,80.1M431.4,22.8L432.8,23.3M447.4,75.8L447.8,72.2M445.7,69.8L447.0,70.1M451.4,130.3L452.3,130.5M450.3,133.9L452.0,133.7M439.4,92.6L442.5,93.4M359.0,75.8L362.1,77.9M367.6,124.3L365.4,121.4M364.6,127.0L364.0,126.8M412.5,90.1L412.1,90.0M413.7,47.3L413.6,47.8M421.9,41.8L423.0,39.9M388.0,71.1L387.0,69.2M386.8,67.1L386.8,67.1M394.7,93.9L396.3,92.2M369.9,33.9L371.3,35.9M366.4,52.8L366.1,51.4M398.2,46.4L397.8,46.7M397.2,57.1L397.2,56.9M416.0,125.5L417.6,123.4M367.4,54.0L364.9,57.4M441.6,59.0L437.0,59.2M454.5,69.6L455.6,65.1M405.9,99.2L403.2,100.4M416.7,103.5L414.9,102.2M435.7,63.8L437.1,67.3" fill="none" stroke="#d47c58" stroke-width="1.30" stroke-opacity="0.75" stroke-linecap="round"/><path d="M471.5,65.3L469.0,66.0M465.7,25.6L467.5,24.9M444.4,128.0L445.9,127.7M382.1,24.3L383.2,27.8M464.3,61.4L463.9,59.9M475.1,37.7L476.6,40.6M417.4,137.2L416.4,136.7M387.3,131.1L385.7,132.3M385.7,132.3L384.6,135.2M457.1,78.0L455.4,78.0M446.3,96.1L447.5,96.3M445.6,111.6L445.6,111.5M431.7,103.9L428.7,101.4M372.0,130.1L372.3,128.4M375.4,23.7L375.0,23.2M374.7,83.6L371.7,82.9M374.3,76.1L372.4,72.5M382.0,71.6L381.3,71.1M432.2,46.8L428.1,49.6M360.6,46.7L362.8,43.3M474.5,89.8L474.5,87.9M464.4,35.2L463.6,38.5M461.5,39.7L462.9,38.8M440.2,23.8L442.0,21.5M401.9,58.5L399.6,59.7M437.3,71.8L438.4,72.5M400.6,70.1L403.5,69.3M414.7,121.0L416.3,120.9M414.0,114.7L417.6,114.0M420.0,133.1L421.9,131.3M432.6,103.4L436.1,105.2M420.0,87.0L419.9,84.1M424.4,99.1L422.7,100.9M420.1,105.0L419.8,106.5M387.5,103.5L388.2,100.6M393.5,100.0L394.6,97.5M360.9,116.4L361.9,119.1M373.2,99.4L375.4,101.8M404.5,111.6L405.2,112.7M398.6,42.3L401.2,41.9M394.8,33.2L396.5,30.8M388.9,31.5L391.7,32.9M385.7,63.3L384.0,62.9M389.3,77.9L387.9,80.9M415.8,53.1L412.6,55.9M387.5,36.3L388.9,39.5M466.4,83.4L467.4,83.9M426.4,62.9L429.1,61.0M423.3,49.5L428.0,50.9M404.6,56.1L404.6,56.2M445.1,85.6L442.4,89.1M410.0,69.4L408.4,70.7M408.6,73.3L408.4,70.7M436.4,26.6L436.1,26.6M428.5,126.6L428.5,126.9M454.4,130.4L452.3,130.5M420.4,111.0L421.5,111.7M411.3,130.9L414.7,130.2M414.7,130.2L414.8,128.1M362.1,83.0L363.3,83.5M374.3,112.2L375.0,109.9M378.5,124.3L380.2,125.9M377.4,114.3L374.5,113.2M412.5,24.7L415.4,24.4M387.7,62.1L391.1,66.2M398.2,92.1L399.8,93.5M368.6,40.8L366.8,39.8M455.8,63.5L452.1,59.9M456.1,52.2L458.1,51.8M399.9,52.9L397.2,56.9M441.2,111.9L441.0,112.9M429.3,99.6L431.1,98.8M381.2,121.0L377.0,120.6M440.6,44.6L440.6,43.1M381.2,52.6L379.6,52.9M451.2,51.2L450.1,50.0M445.7,56.6L445.3,56.0M371.5,67.1L372.1,67.0M435.2,89.6L434.9,89.5M436.4,83.7L434.9,87.6M408.3,91.1L406.9,90.0M411.1,94.4L411.0,97.6" fill="none" stroke="#d47c58" stroke-width="1.60" stroke-opacity="1.00" stroke-linecap="round"/><path d="M469.0,66.0L467.9,65.4M471.1,33.3L471.8,31.3M468.9,34.7L471.1,33.3M459.8,28.9L464.0,29.8M360.4,136.4L362.2,135.3M456.3,108.1L456.9,108.5M374.3,134.1L376.0,130.9M468.3,53.4L468.8,52.3M446.0,34.9L448.4,37.0M448.4,37.0L450.5,34.9M459.6,56.6L459.3,57.7M460.4,65.7L464.4,65.3M464.0,52.2L462.8,51.9M431.6,69.4L430.1,70.1M435.1,69.3L436.3,71.7M394.6,129.9L392.0,129.7M393.6,114.1L393.0,112.4M393.7,114.2L393.6,114.1M459.1,106.4L462.0,106.6M476.8,110.6L475.1,107.6M474.6,100.2L475.7,97.8M452.1,117.5L447.8,118.4M427.9,138.7L423.2,136.5M460.8,118.5L462.8,117.1M416.7,79.8L419.9,84.1M368.7,95.5L369.2,97.3M363.5,93.4L364.2,93.9M362.7,91.0L367.4,89.4M380.9,110.8L381.0,112.3M394.3,27.2L392.9,23.9M424.7,30.9L426.2,34.7M430.4,18.7L431.4,22.8M373.8,26.3L373.3,26.5M374.6,71.1L372.4,72.5M432.6,46.0L432.4,46.8M461.5,39.7L460.5,39.3M394.9,74.1L397.7,70.6M437.7,76.3L437.2,76.3M460.5,135.1L459.0,135.2M420.5,96.9L422.9,95.2M399.1,28.5L400.9,24.4M404.5,33.6L400.8,36.6M421.2,21.7L420.5,23.0M423.9,30.6L424.7,30.9M388.7,30.4L388.9,31.5M390.6,28.9L392.4,29.6M371.1,76.8L370.2,73.2M370.7,80.7L371.0,80.9M391.3,83.3L390.3,82.1M385.7,83.5L385.7,84.6M382.9,39.8L382.1,39.1M363.9,29.6L363.3,29.4M374.5,70.3L371.2,68.9M464.7,88.1L467.4,86.2M476.3,79.4L473.4,81.3M469.3,102.3L469.2,101.6M457.7,29.9L456.0,25.3M430.3,55.1L429.6,58.2M408.0,57.4L405.4,55.7M421.6,58.5L422.2,59.5M407.5,74.2L408.7,78.2M435.1,22.8L435.0,22.7M411.3,130.9L410.9,131.3M434.6,124.3L434.3,123.8M431.7,123.2L430.7,121.2M368.5,109.7L365.8,111.8M382.6,135.1L381.1,130.9M374.3,112.2L374.5,113.2M377.3,99.5L379.8,99.9M407.8,119.0L406.3,118.3M399.7,100.6L399.9,100.3M415.6,88.2L414.0,88.4M421.7,38.8L418.3,38.8M423.7,39.8L423.0,39.9M420.3,46.0L423.9,45.4M419.7,50.0L423.0,49.7M398.2,92.1L398.6,90.7M365.7,35.3L365.6,35.9M361.7,57.1L363.2,56.7M392.1,45.2L394.4,47.2M390.4,57.6L391.9,58.8M444.9,115.6L443.4,114.7M417.6,123.4L419.9,126.4M374.9,117.6L375.0,120.5M443.4,45.0L444.6,42.2M384.0,47.7L380.5,47.0M380.5,49.0L379.8,47.4M432.7,58.8L433.1,61.5M444.1,62.6L446.6,60.9M447.6,53.2L450.1,55.4M446.2,48.0L446.2,46.4M443.4,51.2L442.9,55.1M378.4,58.6L374.9,59.3" fill="none" stroke="#c2603e" stroke-width="1.30" stroke-opacity="0.75" stroke-linecap="round"/><path d="M468.8,52.3L467.7,49.1M477.1,29.6L474.2,32.2M468.5,36.3L465.9,39.1M466.7,110.9L470.8,110.8M445.6,111.5L442.4,108.5M391.5,107.0L393.3,104.5M449.2,33.2L450.1,33.8M473.3,50.1L475.5,50.7M393.8,126.0L396.0,127.9M387.1,129.0L389.8,127.9M393.7,114.2L394.1,114.3M385.7,113.5L388.8,116.0M391.8,117.2L393.7,118.8M441.2,111.9L438.4,109.8M462.8,99.7L461.2,102.3M461.8,97.9L459.9,96.7M447.0,89.6L446.5,86.4M453.0,94.7L453.5,91.3M472.8,108.5L474.8,107.5M395.6,102.4L393.5,100.0M361.1,128.8L358.0,127.3M381.2,104.6L380.2,107.6M389.8,120.5L391.1,117.5M426.5,20.5L428.9,23.3M437.3,71.8L436.3,71.7M433.5,32.9L433.2,30.8M434.5,29.4L433.2,30.8M429.2,32.4L430.7,33.8M397.3,133.2L395.0,134.8M407.8,126.6L406.0,122.5M457.3,123.9L457.4,124.1M447.1,136.5L445.4,138.3M428.9,136.9L426.4,132.4M437.9,128.4L437.9,128.4M465.0,121.0L464.6,121.2M446.2,100.8L445.7,101.4M412.9,113.5L414.0,114.7M370.8,124.0L370.7,124.0M395.5,40.4L395.9,43.7M404.8,44.2L404.6,45.8M404.8,44.2L407.5,42.7M386.5,56.5L388.1,53.1M415.8,53.1L415.5,51.7M380.3,34.2L377.8,36.9M374.3,31.0L375.3,32.6M374.6,38.7L376.2,39.1M388.9,39.5L391.7,39.1M387.7,62.1L388.0,61.7M405.3,60.8L406.0,60.8M443.1,90.5L442.4,89.1M414.7,74.7L418.0,72.6M417.3,77.9L414.8,75.4M418.9,63.5L418.2,63.8M422.0,121.7L422.8,124.7M437.7,93.4L439.4,92.6M370.2,112.6L371.0,111.1M404.2,108.9L400.1,108.4M413.9,43.6L413.5,46.7M419.0,27.4L415.9,26.5M384.1,72.8L384.4,73.1M398.2,92.1L396.3,92.2M383.2,81.5L381.5,81.7M381.5,81.7L380.5,79.2M366.3,65.6L366.3,65.9M455.5,58.8L452.1,59.9M414.8,128.1L415.7,127.2M444.9,65.1L445.1,65.1M453.4,52.0L455.0,51.4M452.8,55.6L453.4,52.0M443.3,119.3L441.3,120.8M431.2,113.1L434.4,116.1M454.5,69.6L456.0,69.7M367.5,59.7L368.2,64.1M374.9,62.9L374.9,63.3M436.4,83.7L433.8,82.9M413.2,98.4L413.3,100.4" fill="none" stroke="#b25234" stroke-width="1.60" stroke-opacity="1.00" stroke-linecap="round"/><path d="M468.8,52.3L471.6,51.5M365.4,134.8L364.6,136.1M469.7,24.5L470.2,25.1M475.1,37.7L472.2,39.7M391.8,102.5L393.3,104.5M453.7,101.2L455.2,100.7M475.1,107.6L474.8,107.5M472.9,100.7L474.6,100.2M419.1,77.3L417.3,77.9M422.1,82.3L419.9,84.1M421.7,92.6L422.6,93.8M423.5,88.8L426.4,91.6M366.8,103.2L363.0,103.4M373.5,105.2L373.5,105.3M378.0,24.0L377.7,24.1M374.8,76.3L375.4,79.6M375.6,79.8L380.4,77.4M468.3,63.3L468.2,62.1M471.6,60.3L470.8,60.0M468.2,62.1L470.8,60.0M469.9,88.5L469.9,88.5M466.4,40.1L466.5,42.4M462.1,33.3L461.9,35.5M441.6,27.1L441.7,25.8M463.7,90.4L460.9,88.6M422.3,121.2L422.0,121.7M417.8,110.8L418.0,111.0M386.0,94.4L388.8,95.5M390.1,94.1L388.8,95.5M404.5,33.6L403.9,32.9M402.2,32.1L399.1,34.7M400.8,36.6L404.9,38.4M407.8,40.2L407.5,42.7M392.4,29.6L392.3,31.5M391.8,35.4L388.9,35.3M370.6,72.3L370.2,73.2M395.4,82.9L393.0,83.2M384.0,43.0L382.9,39.8M387.5,36.3L388.9,35.3M453.3,25.1L452.4,23.7M389.5,52.9L390.9,53.5M447.5,76.1L447.4,75.8M446.5,86.4L445.1,85.6M414.3,68.5L414.2,67.6M410.8,61.9L413.0,64.3M410.0,69.4L409.6,65.9M436.1,26.6L435.1,22.8M432.8,23.3L435.0,22.7M435.6,107.8L431.2,107.3M430.5,117.6L429.3,119.3M435.8,132.5L434.3,130.3M436.3,137.6L432.7,133.9M415.4,106.5L416.7,103.5M420.1,105.0L418.0,103.1M359.1,80.6L362.1,83.0M370.7,80.7L369.4,80.9M404.2,119.5L406.3,118.3M398.8,110.5L399.3,108.8M395.6,102.4L399.7,100.6M410.1,45.1L410.0,45.0M423.3,49.5L424.7,45.8M385.2,78.7L383.2,81.5M367.8,70.4L366.9,69.1M364.1,76.8L364.5,74.5M443.8,84.1L443.7,84.1M437.5,112.3L439.7,113.6M454.3,69.7L455.1,73.7M431.4,98.9L434.5,95.7M437.7,93.4L434.5,95.6M429.4,60.9L431.7,62.8M445.7,56.6L444.3,58.7M444.3,58.7L446.6,60.9M439.5,52.0L439.1,53.5M431.2,113.1L432.1,111.2M434.4,116.1L434.4,116.1M403.2,100.4L404.4,102.8M371.4,67.2L371.5,67.1M368.8,59.1L370.2,60.1M430.9,87.2L433.2,86.8M439.4,92.6L439.1,89.4M408.3,91.1L409.3,93.7M401.3,93.2L405.5,94.6" fill="none" stroke="#d47c58" stroke-width="1.30" stroke-opacity="1.00" stroke-linecap="round"/><path d="M467.7,49.1L469.1,47.6M474.5,132.3L475.1,132.2M465.6,116.5L469.1,118.2M446.9,123.8L447.1,124.4M359.0,132.7L361.6,131.6M391.5,107.2L391.5,107.0M397.1,106.1L393.2,108.1M400.8,23.5L403.3,22.2M469.3,46.6L472.0,45.6M424.5,78.0L427.3,82.2M392.0,129.7L391.2,128.6M393.8,126.0L391.2,128.6M398.4,110.7L396.5,113.3M455.4,78.0L454.9,77.6M444.7,94.2L448.4,91.6M448.4,90.8L448.4,91.6M452.3,96.2L448.7,95.4M427.2,102.1L426.1,103.6M363.9,95.6L364.2,93.9M361.7,99.1L361.6,97.0M364.9,97.7L363.9,95.6M395.6,102.4L395.5,103.5M391.8,117.2L391.1,117.5M399.1,116.7L399.5,116.6M374.8,76.3L376.8,75.0M473.0,63.5L471.6,60.3M462.2,46.9L463.0,46.3M435.4,49.9L433.3,48.7M438.3,22.4L440.2,23.8M447.6,41.8L450.7,40.7M397.6,67.5L394.4,67.8M410.5,122.4L413.0,120.5M399.1,136.3L399.7,133.1M466.6,89.6L464.6,89.4M473.8,131.5L469.7,132.8M441.1,103.2L437.0,103.9M426.1,103.6L424.1,103.6M427.0,108.0L427.4,105.3M383.3,117.2L382.0,117.7M415.6,88.2L415.6,84.0M404.5,33.6L406.7,34.5M401.0,29.5L404.0,28.3M399.1,28.5L399.2,28.8M414.5,35.6L412.7,39.5M411.1,39.9L410.2,39.2M418.6,30.0L419.4,28.1M391.8,35.4L391.7,32.9M387.9,80.9L387.4,80.9M473.4,81.3L473.7,83.5M389.1,45.8L388.6,46.3M399.1,73.7L398.7,76.8M430.3,26.8L431.7,26.4M412.9,113.5L410.6,113.7M474.6,123.3L473.0,121.0M428.4,114.0L427.7,112.3M435.8,132.5L432.7,133.9M363.7,83.3L364.6,83.2M364.3,120.7L364.4,120.9M364.1,107.7L365.8,111.8M374.5,113.2L372.4,115.1M413.0,84.4L413.0,87.1M416.3,36.0L417.6,32.9M421.3,35.0L421.2,35.2M450.6,45.1L447.4,44.8M369.2,45.2L366.0,47.3M369.9,49.1L370.8,47.2M395.6,63.5L393.8,64.0M453.6,76.5L455.1,73.7M400.8,93.5L402.9,96.7M382.6,50.6L380.5,49.0M447.7,69.7L448.9,67.9M443.8,50.5L437.9,48.6M411.2,103.4L413.7,101.9M371.5,67.1L370.3,63.9" fill="none" stroke="#b25234" stroke-width="1.30" stroke-opacity="1.00" stroke-linecap="round"/><path d="M365.0,137.9L364.6,136.1M474.4,132.9L474.5,132.3M476.4,26.6L473.9,24.6M379.4,136.6L379.5,137.7M379.4,136.6L378.4,135.6M475.4,112.4L476.8,110.6M365.4,132.2L368.8,131.5M444.6,36.6L446.0,34.9M476.1,54.1L475.4,53.5M410.6,128.3L408.4,126.5M413.1,127.0L412.4,125.3M467.8,105.8L467.5,105.6M452.8,82.7L454.7,82.3M442.4,135.6L446.7,134.2M428.4,137.4L424.3,134.6M420.2,135.3L423.2,136.0M427.2,102.1L428.7,101.4M424.7,30.9L427.1,29.1M373.8,26.3L375.4,23.7M373.3,26.5L371.4,25.4M371.7,82.9L371.0,80.9M430.5,50.9L433.3,48.7M474.9,87.6L474.5,87.9M471.6,98.0L467.5,97.8M467.9,45.0L467.7,43.7M464.0,29.8L463.0,33.1M465.9,39.1L463.6,38.5M455.5,38.1L458.2,35.2M456.3,42.8L454.6,41.7M430.1,65.1L426.4,62.9M432.8,76.6L435.0,75.7M394.6,129.9L394.6,130.0M454.6,90.4L454.8,90.1M470.2,134.9L469.7,132.8M469.3,124.3L466.5,128.2M449.0,132.1L451.4,130.3M428.4,137.4L428.9,136.9M424.3,134.6L424.5,132.2M424.5,132.2L425.4,132.0M443.2,105.4L441.4,103.8M441.1,103.2L441.2,102.1M385.4,97.3L388.9,97.0M399.6,111.3L400.3,111.7M411.4,105.2L411.2,109.1M419.1,87.9L415.8,88.3M408.8,32.1L408.8,31.8M400.8,39.8L397.5,39.8M414.3,35.4L412.0,35.8M408.9,49.1L407.9,50.4M384.7,32.2L384.7,32.3M384.7,32.3L388.6,33.2M393.0,36.1L391.8,35.4M435.8,39.9L434.9,37.5M393.5,88.1L394.9,88.3M382.9,39.8L385.5,39.3M392.8,44.1L395.9,43.7M368.6,40.8L369.3,43.3M463.6,85.6L463.8,85.7M467.4,83.9L469.9,83.4M453.1,28.3L454.0,25.7M459.1,63.1L456.3,63.2M400.3,45.8L398.6,46.6M389.1,45.8L388.2,41.8M441.7,66.7L444.5,66.0M437.7,76.3L439.9,77.4M439.9,77.4L438.7,81.3M418.0,64.4L414.2,67.6M406.2,65.8L406.6,65.8M427.1,123.0L424.4,119.5M439.6,97.7L436.9,98.8M357.6,84.5L362.1,83.0M371.4,121.3L370.8,124.0M374.2,97.4L374.9,96.9M408.6,86.3L408.5,86.7M405.4,46.1L410.0,45.0M399.8,93.5L399.1,95.1M361.8,33.8L359.9,36.1M367.3,53.6L370.8,50.9M441.7,66.7L439.3,65.7M456.2,54.6L454.3,56.1M443.5,79.5L446.0,79.3M402.1,81.3L403.4,77.8M436.0,124.7L438.1,123.3M448.9,67.9L450.4,66.4M439.1,53.5L435.4,52.7M444.3,58.7L442.2,59.9M435.5,116.8L438.5,116.7M435.6,107.8L434.7,110.6M435.5,116.8L434.4,116.1M413.2,98.4L411.0,97.6" fill="none" stroke="#cc6c48" stroke-width="1.00" stroke-opacity="1.00" stroke-linecap="round"/><path d="M369.4,135.8L369.0,137.4M475.8,62.2L474.3,63.9M378.4,135.6L376.0,135.6M459.5,84.5L457.3,82.9M470.3,115.6L471.8,114.1M471.2,110.2L472.1,109.5M458.3,114.9L456.2,113.6M362.2,135.3L362.4,132.0M390.6,124.3L391.5,123.5M389.5,134.2L389.7,133.1M383.6,135.4L384.6,135.2M387.3,111.5L385.7,113.5M452.3,96.2L451.8,99.6M465.8,96.0L461.8,97.9M447.8,118.4L447.3,119.3M451.2,115.6L452.4,113.3M452.3,125.5L452.4,123.1M366.4,93.6L367.4,89.4M375.4,23.7L377.7,24.1M376.4,27.3L377.7,24.1M381.2,87.4L381.2,84.6M369.4,89.8L370.8,89.8M375.9,71.8L379.6,67.7M427.4,45.8L427.2,46.0M428.3,51.6L428.0,50.9M468.4,92.3L464.7,93.8M472.3,100.0L471.6,98.0M460.8,48.9L462.8,51.9M426.4,62.9L425.5,63.2M437.7,76.3L438.4,72.5M424.7,66.4L423.5,67.3M410.5,124.2L410.5,122.4M453.1,87.0L454.8,90.1M441.2,97.6L441.9,101.1M423.4,107.0L421.4,108.3M387.6,90.7L387.2,90.7M383.9,95.8L385.4,97.3M397.3,30.7L399.1,34.7M434.9,37.5L433.5,36.7M378.8,84.1L380.4,83.9M384.4,57.5L385.5,57.6M379.4,67.2L379.6,67.7M370.6,72.3L372.4,72.5M393.0,71.5L392.2,71.4M394.9,74.3L394.9,74.1M389.3,74.0L392.2,71.4M380.9,39.3L377.8,37.8M395.5,40.4L392.6,41.2M398.6,46.6L400.4,49.8M388.6,48.6L392.0,49.3M399.1,73.7L400.9,72.1M412.2,134.9L410.9,131.3M427.4,114.6L428.4,114.0M431.2,107.3L430.5,108.9M436.8,99.4L436.9,98.8M359.1,80.6L362.1,77.9M395.6,97.2L399.1,95.1M409.0,109.4L409.0,104.4M413.7,47.3L413.5,46.7M421.0,33.9L421.3,35.0M421.3,35.0L426.2,35.0M415.9,26.5L415.4,24.4M361.8,33.8L364.7,33.5M363.5,62.1L366.3,65.6M425.3,55.8L423.0,55.5M402.3,88.7L401.9,86.7M367.4,54.0L369.2,55.4M451.3,64.1L450.4,65.9M444.9,65.1L444.1,62.6M434.7,110.6L436.1,112.1M374.0,52.3L374.6,52.6M438.2,83.3L436.4,83.7M438.9,84.8L438.1,86.3" fill="none" stroke="#d47c58" stroke-width="1.00" stroke-opacity="0.88" stroke-linecap="round"/><path d="M478.1,130.2L475.1,132.2M475.3,58.3L476.7,56.0M469.0,66.0L469.8,69.7M465.2,26.7L465.7,25.6M468.5,36.2L468.9,34.7M472.9,42.8L472.2,39.7M458.8,97.8L459.9,96.7M458.6,93.8L459.9,96.7M456.0,112.6L451.9,110.3M451.9,110.3L456.3,108.1M403.3,22.2L402.8,18.9M400.8,23.4L399.2,18.9M473.7,69.6L473.6,72.7M444.2,31.9L446.3,33.8M459.7,58.5L459.3,57.7M469.3,46.6L469.1,47.6M435.4,72.8L433.2,72.4M397.7,124.8L397.9,127.4M397.7,119.8L399.7,121.5M472.8,108.5L470.6,105.8M441.4,97.5L444.8,98.4M456.4,121.0L452.3,122.8M451.6,122.0L452.3,122.8M364.9,97.7L368.7,95.5M368.8,95.2L366.4,93.6M380.9,110.8L379.2,108.4M430.9,43.2L429.6,42.6M465.8,96.0L467.5,97.7M472.9,100.7L472.3,100.0M462.9,38.8L461.9,35.5M440.3,28.2L441.6,27.1M443.9,22.4L442.6,25.3M455.5,38.1L457.9,40.5M405.6,53.8L405.1,52.0M402.1,120.8L403.9,123.2M407.8,126.6L408.4,126.5M457.9,87.4L455.5,86.0M465.2,129.6L462.9,132.1M420.2,135.3L420.0,133.1M421.4,108.3L419.8,106.5M419.5,106.8L419.8,106.5M419.5,106.8L417.8,110.8M391.2,89.3L389.9,86.4M390.8,94.1L390.1,94.1M366.7,106.7L368.3,107.1M381.0,112.3L378.9,114.2M404.6,22.5L405.8,24.0M373.0,90.8L374.3,89.9M382.0,71.6L384.1,69.2M394.5,76.4L392.8,76.9M412.6,51.2L411.9,49.6M361.7,57.1L360.1,56.8M463.8,85.7L464.7,88.1M472.5,77.9L471.4,79.2M448.9,26.9L453.3,25.1M429.4,60.9L429.1,61.0M444.6,70.6L445.7,69.8M441.8,74.9L440.2,72.5M416.7,69.1L418.8,68.2M418.0,72.6L419.3,72.7M413.7,73.5L413.6,69.4M417.5,56.7L413.2,56.7M446.2,120.3L443.5,119.2M454.4,130.4L455.5,132.5M436.6,132.6L435.8,132.5M362.5,77.9L363.7,83.3M359.9,124.5L364.0,126.8M364.2,120.6L364.3,119.2M382.9,100.9L381.0,99.1M374.4,94.4L375.0,96.5M417.7,45.8L416.7,43.0M414.6,28.8L415.9,26.5M447.2,42.7L447.4,44.8M362.0,49.7L364.6,49.4M364.6,49.4L366.1,51.4M364.6,49.4L365.7,47.4M442.8,113.8L443.4,114.7M427.3,93.2L431.1,94.4M379.6,52.9L378.5,51.9M377.1,47.0L378.2,51.8M438.5,46.6L437.9,48.6M447.6,53.2L447.3,53.3M455.6,65.1L457.9,66.6M378.2,51.8L374.6,52.6M374.6,58.5L374.8,59.2M375.1,68.1L372.1,67.0M432.9,83.2L433.8,82.9" fill="none" stroke="#b25234" stroke-width="1.60" stroke-opacity="0.88" stroke-linecap="round"/><path d="M475.1,132.2L478.6,134.2M469.1,29.6L467.5,29.7M374.3,134.1L372.1,134.4M369.9,132.1L368.8,131.5M449.2,33.2L446.3,33.8M460.4,65.7L459.1,63.1M383.3,138.2L383.6,135.4M404.2,126.1L403.5,124.2M458.8,97.8L458.0,100.5M458.1,81.2L457.1,78.0M447.4,132.1L446.9,132.5M422.8,138.4L423.2,136.5M430.9,105.0L427.4,105.3M363.5,93.4L359.5,94.9M376.3,130.6L375.8,127.9M376.6,81.7L375.6,79.8M363.4,62.1L363.3,62.1M475.0,58.3L472.2,54.9M470.7,92.4L469.9,88.5M475.6,97.7L473.5,96.4M439.8,28.2L436.4,26.6M397.6,67.5L396.7,63.5M390.4,132.9L394.2,133.8M408.1,121.0L406.2,122.2M462.0,80.4L462.0,79.5M466.4,135.3L465.9,133.6M436.5,106.8L436.1,105.2M426.4,86.9L425.2,86.9M424.1,103.6L423.1,104.9M373.2,99.4L374.1,97.4M396.5,30.8L393.6,29.3M398.6,42.3L397.4,44.5M405.0,39.0L407.8,40.2M412.7,39.5L411.1,39.9M404.4,27.1L405.2,26.6M382.4,72.2L384.1,72.8M370.7,80.7L370.8,77.2M396.8,78.3L397.1,79.0M377.4,43.3L379.3,42.8M379.3,42.8L380.9,39.3M362.1,53.0L360.3,54.2M465.2,102.8L467.5,105.2M467.5,97.8L467.3,98.6M385.7,63.3L387.7,62.1M412.8,59.4L408.0,58.8M441.7,70.3L441.7,66.7M444.6,70.6L444.1,73.6M441.3,76.8L439.9,77.4M435.6,80.1L435.9,80.1M412.8,65.3L409.6,65.9M408.4,135.1L407.9,132.9M423.2,117.1L418.7,116.8M363.3,83.5L363.7,83.3M365.4,114.6L364.3,119.2M409.7,114.6L406.6,113.9M395.0,97.2L395.6,97.2M403.5,82.3L401.1,85.5M414.6,40.2L415.8,42.8M415.4,24.4L415.6,24.1M414.4,21.0L415.6,24.1M385.8,70.1L387.0,69.2M365.1,31.8L363.9,29.6M397.2,57.1L395.6,58.5M406.1,79.9L404.3,77.9M431.4,98.9L431.1,98.8M381.7,117.5L378.2,118.3M435.2,41.8L440.2,44.9M384.0,43.0L383.8,43.6M377.0,47.0L377.1,47.0M450.2,61.0L451.5,59.9M436.4,57.3L437.0,59.2M440.9,85.4L438.9,84.8M414.9,102.2L413.7,101.9M369.9,56.1L371.4,55.9M438.2,67.1L437.1,67.3M435.6,80.1L433.8,82.9M437.7,93.4L435.2,89.6" fill="none" stroke="#cc6c48" stroke-width="1.30" stroke-opacity="0.88" stroke-linecap="round"/><path d="M474.3,63.9L475.2,65.0M466.4,40.1L469.7,40.0M464.3,111.1L461.7,110.6M461.4,110.7L460.2,114.0M470.3,115.6L469.9,117.9M474.6,114.7L474.3,117.6M385.5,104.6L385.3,107.4M448.6,31.0L449.2,33.2M448.1,37.7L446.1,38.8M433.2,72.4L431.6,74.7M396.5,113.3L394.1,114.3M397.7,119.8L395.7,121.8M399.1,116.7L397.4,118.5M455.7,107.3L456.3,108.1M460.2,87.6L459.1,86.8M442.7,93.8L442.5,93.4M442.8,129.9L442.1,130.0M450.3,127.7L450.5,126.7M464.5,117.5L462.8,117.1M466.7,121.2L469.1,118.2M452.4,123.1L452.3,122.8M430.9,105.0L431.7,103.9M417.3,78.5L417.3,77.9M379.2,108.3L379.2,108.4M360.3,42.6L362.8,43.3M456.0,34.2L454.6,31.5M454.6,31.5L455.3,30.2M454.0,34.8L456.0,34.2M400.0,69.2L397.6,67.5M400.5,65.4L399.3,62.6M437.2,76.3L435.0,75.7M410.5,122.4L408.1,121.0M414.0,124.5L414.7,121.0M401.7,137.8L399.1,136.3M448.0,76.1L451.1,72.8M454.8,90.1L456.7,89.8M463.7,90.4L463.6,91.4M469.1,138.5L466.3,136.2M460.5,135.1L460.8,135.2M466.3,136.2L466.4,135.3M463.3,127.1L461.2,128.8M434.5,129.0L432.7,127.8M436.9,137.5L436.6,132.6M436.1,105.2L437.0,103.9M436.5,106.8L438.1,107.3M429.3,99.6L427.1,98.0M425.7,99.0L424.4,99.1M371.1,103.8L373.5,105.2M375.8,127.9L376.2,127.4M400.3,111.7L404.5,111.6M419.4,90.6L416.3,91.1M417.5,95.6L417.6,93.8M401.2,41.9L401.9,41.4M391.7,32.9L392.3,31.5M388.6,33.2L388.9,31.5M429.9,40.4L429.6,42.6M394.9,74.3L394.5,76.4M467.4,86.2L467.4,83.9M388.6,48.6L389.5,52.9M441.8,74.9L441.4,76.8M427.1,95.4L427.4,95.7M361.2,112.3L360.3,111.2M383.6,95.8L381.3,97.9M419.2,49.5L417.4,50.0M414.4,21.0L411.7,22.7M380.5,79.2L380.6,77.6M370.0,32.1L368.6,31.0M438.7,81.3L442.6,81.9M434.3,123.8L434.9,120.8M441.0,112.9L439.7,113.6M432.3,93.3L431.1,94.4M433.1,101.1L431.4,98.9M384.1,50.0L384.0,47.7M379.8,47.4L380.5,47.0M381.7,44.2L380.5,47.0M379.6,52.9L378.9,55.4M446.6,60.9L448.1,60.4M440.0,45.3L438.5,46.6M438.9,116.2L441.8,117.0M369.9,56.1L368.8,59.1M375.1,62.3L374.9,62.9" fill="none" stroke="#cc6c48" stroke-width="1.30" stroke-opacity="0.75" stroke-linecap="round"/><path d="M475.2,65.0L477.6,65.9M472.0,25.7L473.0,28.8M469.9,37.6L468.5,36.3M362.2,135.3L364.6,136.1M461.7,110.6L461.4,110.7M452.5,117.9L456.3,119.2M370.7,134.0L369.9,132.1M382.1,24.3L379.9,26.3M464.7,56.7L466.2,57.1M445.3,38.5L444.6,36.6M389.7,133.1L390.4,132.9M385.8,135.9L384.6,135.2M458.5,101.0L458.0,100.5M458.9,105.0L460.2,102.2M456.9,108.5L459.1,106.4M455.4,78.0L454.7,82.3M448.5,91.8L448.4,91.6M447.1,128.9L447.4,132.1M442.2,134.2L441.1,132.7M388.8,116.0L388.8,116.1M373.8,26.3L376.4,27.3M372.5,21.8L375.0,23.2M371.4,25.4L368.3,27.0M369.8,86.1L368.0,88.9M433.3,48.7L432.4,46.8M363.4,62.1L363.3,61.8M472.2,54.9L470.5,55.7M470.8,92.8L473.2,94.5M446.1,21.7L443.9,22.4M441.6,27.1L445.3,29.3M452.3,36.1L452.8,37.7M397.7,70.6L394.6,69.2M403.5,62.5L404.7,65.6M396.7,63.5L399.3,62.6M431.9,78.2L432.5,77.8M428.4,26.2L430.3,26.8M457.9,87.4L456.7,89.8M460.2,87.6L460.9,88.6M415.4,134.6L416.1,132.4M363.1,87.4L362.4,85.8M382.9,100.9L386.3,99.6M371.1,103.8L368.3,107.1M416.7,79.8L414.9,81.4M408.9,49.1L405.4,46.1M423.9,30.6L421.5,31.9M465.8,82.3L466.4,83.4M473.7,83.5L470.7,84.0M451.8,42.2L451.4,44.5M423.7,52.3L423.0,49.7M389.1,45.8L391.3,45.6M392.1,45.2L391.3,45.6M447.4,76.2L441.4,76.8M417.9,58.6L415.0,61.0M418.0,58.0L417.9,58.6M413.7,73.5L408.9,73.4M428.4,109.0L430.5,108.9M462.0,75.1L461.1,75.0M471.8,120.8L473.0,121.0M439.6,97.7L437.7,93.4M418.0,103.1L419.2,100.8M374.3,112.2L371.0,111.1M378.5,124.3L376.9,124.2M408.5,84.1L407.0,83.2M415.9,97.0L412.6,93.5M407.5,42.7L410.2,43.9M413.7,33.1L412.0,31.9M390.4,67.0L390.6,69.7M386.9,73.8L384.4,73.1M362.1,69.1L363.2,70.5M392.5,59.7L395.6,58.5M428.9,90.7L429.2,90.7M376.6,116.4L378.2,118.3M375.0,120.5L375.9,121.1M447.2,64.8L450.4,65.9M443.9,50.2L443.8,50.5M436.4,57.3L435.2,56.6M441.1,123.2L441.3,120.8M438.1,86.3L439.4,89.0" fill="none" stroke="#d47c58" stroke-width="1.00" stroke-opacity="1.00" stroke-linecap="round"/><path d="M477.0,60.0L475.3,58.3M456.2,113.6L452.4,117.7M365.4,134.8L365.4,132.2M361.7,99.1L363.3,100.0M380.3,29.0L376.7,32.3M472.0,45.6L473.4,47.1M397.7,124.8L399.6,122.4M447.0,89.6L448.4,90.8M449.9,90.0L453.5,91.3M473.8,131.5L473.0,129.0M446.9,123.8L451.4,122.0M362.2,26.5L358.9,25.8M368.0,88.9L369.4,89.8M380.1,76.6L382.4,72.2M362.1,69.1L362.6,67.2M362.6,67.2L361.1,65.5M464.3,61.4L466.1,61.2M460.8,48.9L462.2,46.9M432.6,52.4L435.1,51.6M468.5,36.2L464.4,35.2M463.8,33.7L464.4,35.2M450.2,28.6L448.9,26.9M400.2,69.8L400.6,70.1M441.8,35.3L440.5,36.7M414.3,116.2L417.7,117.7M399.0,129.8L400.5,132.4M403.5,124.2L403.9,123.2M455.5,127.3L455.5,127.3M463.3,127.1L465.6,128.2M424.5,132.2L422.9,131.1M461.4,121.4L460.4,123.4M460.4,123.4L463.2,126.7M463.3,127.1L463.2,126.7M428.7,101.4L429.3,99.6M423.0,95.3L424.4,99.1M399.0,35.7L396.4,37.1M403.3,41.5L405.0,39.0M433.5,36.7L431.0,37.4M389.3,74.0L387.4,73.6M377.8,37.8L377.8,36.9M372.1,40.4L372.2,42.6M470.7,84.0L469.9,83.4M472.5,103.4L469.3,102.3M405.1,65.9L406.2,65.8M441.4,70.5L441.7,70.3M437.2,76.3L435.9,80.1M409.6,83.5L413.0,84.4M410.6,113.7L409.9,109.7M416.1,132.4L415.9,131.5M432.7,133.9L432.1,133.8M365.3,83.3L364.6,83.2M362.0,106.7L361.1,107.2M402.0,116.9L405.6,116.3M406.6,113.9L405.9,113.0M399.9,83.9L401.1,85.5M416.3,36.0L416.8,36.6M426.2,34.7L426.2,35.0M427.5,36.1L426.2,35.2M419.2,49.5L419.0,47.0M426.2,35.2L423.7,39.8M391.1,66.2L390.4,67.0M394.9,88.3L395.7,91.3M385.2,78.7L385.2,78.6M366.8,39.8L367.0,37.6M391.9,58.8L392.5,59.7M403.4,77.8L403.0,77.6M400.9,72.1L402.1,73.7M419.1,129.3L419.0,127.5M384.6,50.3L384.1,50.0M450.1,55.4L450.2,55.5M459.6,70.3L456.0,69.7M407.5,103.2L407.5,102.3M406.8,97.7L406.0,95.9M437.3,62.1L435.7,63.8M435.2,89.6L439.1,89.4M415.7,97.5L413.2,98.4" fill="none" stroke="#b25234" stroke-width="1.30" stroke-opacity="0.75" stroke-linecap="round"/><path d="M467.9,65.4L465.1,66.1M469.1,29.6L470.2,25.1M463.9,114.0L462.2,115.0M471.2,110.2L470.8,110.8M380.2,34.1L376.7,32.3M450.5,34.9L452.3,36.1M428.2,68.9L430.1,70.1M456.9,104.2L458.9,105.0M442.7,93.8L444.7,94.2M448.8,100.0L449.5,100.2M447.6,107.7L448.4,107.5M447.1,124.4L450.5,126.7M384.4,107.9L380.2,107.6M373.5,105.2L375.3,103.1M391.8,21.9L393.1,23.1M385.9,84.8L390.0,84.9M428.3,51.6L430.5,50.9M361.4,49.4L358.1,50.9M470.3,59.0L470.8,60.0M459.8,28.9L458.5,30.3M452.8,37.7L450.8,40.1M454.0,38.3L455.5,38.1M425.5,63.2L425.0,63.9M399.4,62.4L399.3,62.6M429.1,73.2L428.1,73.6M437.2,30.9L434.5,29.4M414.0,114.7L414.3,116.2M418.4,117.1L417.7,117.7M463.7,71.0L462.0,75.1M461.1,129.0L461.2,128.8M457.4,124.1L455.5,127.3M436.8,99.4L437.2,100.5M428.6,85.2L428.9,83.2M415.4,106.6L419.5,106.8M378.9,114.2L381.7,117.5M417.6,93.8L416.2,92.5M407.0,30.3L404.9,29.5M408.5,32.7L406.7,34.5M404.9,29.5L404.0,28.3M395.9,43.7L397.4,44.5M403.3,41.5L401.9,41.4M404.6,22.5L406.3,20.6M394.8,33.2L392.3,31.5M386.5,56.5L385.5,57.6M387.9,59.2L385.5,57.6M384.0,62.9L381.0,65.2M412.6,51.2L415.5,51.7M474.8,84.0L473.7,83.5M472.3,100.0L469.2,101.6M454.0,25.7L456.0,25.3M459.3,57.7L455.9,59.0M422.2,59.5L424.5,60.0M423.3,49.5L423.0,49.7M423.1,67.2L419.6,68.4M419.6,62.5L418.9,63.5M428.4,114.0L428.9,114.1M463.5,70.5L460.2,70.0M369.4,80.9L366.6,78.6M366.3,114.0L367.7,116.3M379.8,131.0L381.1,130.9M374.9,96.9L375.0,96.5M406.2,122.2L404.2,119.5M408.5,86.7L412.1,90.0M425.4,40.8L423.7,39.8M410.3,27.0L410.3,27.0M411.7,22.7L409.8,21.0M390.6,69.7L388.0,71.1M390.8,94.1L392.2,93.0M364.7,33.5L365.7,35.3M369.7,49.1L366.0,47.3M369.2,45.2L370.8,47.2M459.6,56.5L456.2,54.6M402.0,76.0L403.0,77.6M440.6,43.1L442.3,40.5M381.2,52.6L382.6,50.6M431.7,62.8L431.8,64.8M439.5,52.0L437.6,49.0M439.2,119.2L441.3,120.8M415.9,97.0L415.7,97.5M433.7,65.1L436.3,67.5" fill="none" stroke="#d47c58" stroke-width="1.60" stroke-opacity="0.88" stroke-linecap="round"/><path d="M465.7,25.6L464.8,23.3M465.7,115.7L463.9,114.0M400.8,23.5L400.8,23.4M366.6,22.8L366.4,24.6M444.6,36.6L441.8,35.3M460.2,53.7L459.6,56.5M406.8,129.0L404.3,130.2M397.7,119.8L397.4,118.5M441.2,111.9L442.2,108.6M462.8,99.7L461.8,97.9M444.8,98.4L446.2,100.8M441.7,124.1L439.5,128.1M450.5,110.1L450.9,110.3M466.7,121.2L465.0,121.0M364.7,99.2L367.1,100.0M367.1,100.0L369.0,99.3M383.4,110.0L384.4,107.9M426.2,34.7L429.2,32.4M378.0,24.0L379.8,21.0M375.6,79.8L375.4,79.6M427.2,46.0L428.1,49.6M469.2,55.0L470.5,55.7M470.9,87.6L474.5,87.9M475.3,91.0L474.5,89.8M470.8,92.8L467.5,97.7M462.2,42.6L458.4,44.2M395.1,136.7L395.0,134.8M407.3,127.0L407.8,126.6M450.9,77.6L453.5,76.5M455.4,128.3L455.5,127.3M450.3,127.7L451.4,130.3M420.0,133.1L416.1,132.4M430.8,131.6L430.3,128.3M441.9,101.1L441.2,102.1M443.3,107.2L443.2,105.4M420.4,111.0L418.0,111.0M394.6,97.5L392.1,96.5M400.3,111.7L402.3,114.5M400.3,45.8L404.6,45.8M385.6,31.0L388.7,30.4M392.8,24.0L388.9,25.5M427.5,36.1L429.6,36.5M374.3,87.2L374.8,87.7M391.8,77.0L392.8,76.9M384.6,35.2L387.4,36.3M425.3,55.8L425.9,57.7M405.6,53.8L405.4,55.7M401.1,54.2L399.9,52.9M415.3,62.4L418.2,63.8M403.5,69.3L404.8,70.0M424.6,118.9L424.4,119.5M452.3,130.5L452.0,133.7M416.7,103.5L418.0,103.1M363.5,122.3L364.4,120.9M371.4,121.3L370.2,119.6M370.0,117.6L367.7,116.3M368.5,109.7L370.9,110.3M365.8,112.4L361.2,112.3M400.6,99.8L399.9,100.3M416.2,92.5L412.9,93.0M421.9,41.8L423.9,45.4M387.4,73.6L388.0,71.1M392.2,93.0L391.9,90.7M397.8,87.6L398.6,90.7M372.4,35.9L371.3,35.9M364.4,43.0L364.7,43.4M447.4,76.2L446.0,79.3M420.9,126.2L419.9,126.4M436.9,98.8L434.5,95.7M432.1,92.4L432.3,93.3M447.6,53.2L449.7,50.0M405.9,99.2L407.5,102.3M370.2,60.1L371.0,63.1M409.3,93.7L406.0,95.7" fill="none" stroke="#d47c58" stroke-width="1.00" stroke-opacity="0.75" stroke-linecap="round"/><path d="M467.5,24.9L467.1,21.2M475.3,36.5L473.4,35.9M465.6,116.5L465.7,115.7M447.6,107.7L443.3,107.2M451.9,28.9L450.2,28.6M445.3,29.5L448.6,31.0M453.5,32.0L452.0,31.9M474.9,43.2L477.9,46.2M464.5,117.5L465.0,121.0M427.5,26.8L428.4,26.2M371.6,22.4L368.8,21.8M387.1,87.7L385.9,84.8M473.5,96.4L473.2,94.5M473.5,94.4L473.2,94.5M432.6,52.4L431.4,55.0M459.3,33.1L458.2,34.6M459.3,33.1L458.5,30.3M458.5,30.3L457.7,29.9M405.6,53.8L409.7,53.7M452.4,86.6L452.8,82.7M424.3,78.0L424.5,78.0M412.3,118.5L414.3,116.2M399.0,129.8L397.0,131.6M450.9,77.6L448.0,76.1M468.4,131.9L469.7,132.8M465.7,133.6L465.2,129.6M468.4,130.0L466.5,128.2M459.2,131.0L460.5,135.1M429.5,136.6L430.4,136.2M428.6,127.1L430.3,128.3M443.2,105.4L445.7,103.2M415.5,109.8L415.4,106.6M386.6,90.2L387.2,90.7M376.2,127.4L376.9,124.2M416.3,91.1L416.2,92.5M412.0,35.8L410.1,38.3M378.8,84.1L377.4,87.4M381.2,87.4L377.6,87.7M395.4,82.9L397.1,79.0M389.3,77.9L386.6,76.8M417.4,50.0L415.5,51.7M377.4,43.3L376.2,42.2M388.0,41.6L388.9,39.5M466.0,99.6L467.3,98.6M462.8,99.7L466.0,99.6M405.3,60.8L404.6,56.2M405.4,55.7L404.6,56.1M408.8,78.2L410.8,76.5M411.9,80.1L411.6,80.2M428.6,127.1L428.5,126.9M446.6,115.5L444.9,115.6M436.5,106.8L435.6,107.8M460.4,65.7L460.0,66.8M473.9,124.3L474.6,123.3M422.9,131.1L422.9,130.2M383.0,127.8L381.2,130.8M372.6,93.2L374.4,94.4M379.8,99.9L381.0,99.1M378.7,93.7L378.5,95.3M400.1,108.4L401.9,104.9M405.3,107.4L405.3,107.7M409.9,109.7L409.0,109.4M411.4,105.2L410.6,104.3M406.1,82.1L407.0,83.2M401.1,85.5L401.2,86.2M420.8,42.3L420.3,46.0M427.7,39.5L425.4,40.8M380.4,77.4L380.6,77.6M362.5,29.7L358.7,28.8M366.9,69.1L366.8,67.1M370.8,50.9L369.9,49.1M377.4,43.3L377.0,47.0M458.1,51.8L459.6,49.0M393.9,49.0L394.4,47.2M443.7,84.1L440.9,85.4M406.9,74.3L404.9,73.5M427.3,91.8L428.9,90.7M444.6,42.2L442.8,40.4M433.1,61.5L431.7,62.8M454.6,47.8L455.3,48.6M443.8,50.6L447.3,53.3M443.8,50.5L443.8,50.6M403.1,104.7L404.4,102.8M408.3,104.3L407.5,103.2M431.0,82.0L432.9,83.2M406.8,97.7L409.7,98.6" fill="none" stroke="#c2603e" stroke-width="1.60" stroke-opacity="1.00" stroke-linecap="round"/><path d="M465.2,26.7L461.3,26.0M473.9,24.6L474.7,22.1M458.4,117.0L456.3,119.2M445.9,127.7L447.1,124.4M376.0,130.9L372.0,130.1M373.1,138.5L372.1,134.4M397.1,106.1L395.5,103.5M469.8,69.7L470.1,69.7M468.9,74.2L467.2,77.8M396.5,113.3L399.1,116.7M448.4,107.5L448.3,105.3M364.7,99.2L364.9,97.7M366.8,103.2L367.1,100.0M366.4,93.6L364.2,93.9M391.8,102.5L392.3,100.4M381.0,112.3L384.8,113.7M375.3,103.1L378.8,103.1M429.7,30.9L429.2,32.4M376.9,28.2L376.4,27.3M440.3,24.0L440.2,23.8M454.0,38.3L454.6,41.7M395.0,134.8L394.2,133.8M399.0,129.8L398.5,127.7M434.6,124.3L432.7,127.8M464.3,124.9L463.2,126.7M438.6,107.7L438.1,107.3M392.1,96.5L389.3,97.8M378.0,114.1L378.9,114.2M382.0,117.7L381.7,117.5M403.9,32.9L402.2,32.1M399.1,34.7L399.0,35.7M410.1,38.3L410.2,39.2M389.6,28.9L388.7,27.7M388.0,41.6L388.2,41.8M456.3,42.8L454.5,45.5M427.2,53.5L423.7,52.3M399.9,52.9L400.1,52.6M444.1,73.6L447.4,75.8M444.6,84.9L445.1,85.6M413.7,73.5L414.7,74.7M431.7,26.4L432.8,23.3M405.5,137.4L408.4,135.1M427.0,125.1L427.1,123.0M473.0,121.0L475.9,119.6M423.2,111.5L421.5,111.7M420.9,126.2L422.8,124.7M370.2,119.6L365.4,121.4M404.2,119.5L402.8,119.5M405.3,107.4L408.3,104.3M413.9,43.6L415.8,42.8M411.0,26.8L410.3,27.0M363.3,39.8L363.3,37.6M366.9,69.1L363.2,70.5M370.8,50.9L371.7,51.3M458.1,46.1L458.4,48.2M392.4,61.6L393.8,64.0M419.9,126.4L419.0,127.5M427.1,95.4L427.3,93.2M378.2,118.3L377.0,120.6M376.6,123.9L375.9,121.1M384.1,50.0L382.6,50.6M383.7,62.0L380.2,60.0M364.9,57.4L366.1,59.6M432.7,58.8L429.7,58.4M444.5,66.0L444.9,65.1M450.2,55.5L447.4,57.6M455.5,63.9L451.3,64.1M446.2,48.0L443.9,50.2M439.6,55.1L436.4,57.3M406.8,97.7L405.9,99.2M371.4,55.9L374.6,58.5M377.1,66.6L374.9,63.3M432.9,83.2L433.2,86.8M405.2,90.8L405.5,94.6" fill="none" stroke="#b25234" stroke-width="1.30" stroke-opacity="0.88" stroke-linecap="round"/><path d="M461.3,26.0L460.4,22.7M476.7,35.3L474.2,32.2M455.6,96.7L458.8,97.8M468.3,53.4L469.2,55.0M472.3,73.5L473.6,72.7M476.2,74.4L473.6,72.7M463.9,62.1L464.4,65.3M472.5,54.4L475.4,53.5M427.5,79.1L427.3,82.2M396.0,127.9L397.9,127.4M403.2,129.8L402.3,128.0M472.1,109.5L472.8,108.5M472.6,103.4L472.9,100.7M445.6,132.2L442.2,134.2M385.5,104.6L383.9,103.7M377.7,106.6L373.5,105.3M427.1,29.1L429.7,30.9M424.4,25.4L427.5,26.8M371.6,22.4L371.4,25.4M381.2,87.4L382.8,90.1M383.5,89.8L384.0,85.5M370.9,85.7L369.8,86.1M371.7,82.9L370.9,85.7M468.2,62.1L466.1,61.2M446.1,38.8L447.6,41.8M448.7,85.4L449.5,81.9M451.8,82.1L450.4,81.4M438.4,72.5L440.2,72.5M427.5,26.8L427.1,29.1M433.1,33.8L430.7,33.8M416.3,120.9L417.7,117.7M405.5,137.4L403.5,136.5M459.1,86.8L457.9,87.4M456.5,138.6L459.0,135.2M469.9,124.3L470.8,124.9M439.4,133.0L437.5,132.0M442.2,108.6L442.4,108.5M427.3,82.2L427.3,82.3M431.0,82.0L431.2,79.9M382.2,90.7L382.8,90.1M368.8,131.5L368.4,128.8M368.4,128.8L369.7,127.6M399.5,116.6L401.6,116.6M420.0,87.0L419.1,87.9M400.8,39.8L400.8,36.6M414.5,35.6L414.3,35.4M401.2,41.9L400.3,45.8M421.5,31.9L421.0,33.9M433.1,33.8L433.5,36.7M374.8,87.7L377.4,87.4M386.6,76.8L386.9,73.8M362.2,26.5L363.3,29.4M460.2,22.5L457.9,21.9M429.4,60.9L429.7,58.4M405.1,52.0L400.1,52.6M407.5,60.3L408.0,58.8M405.2,60.8L405.3,60.8M399.9,83.9L400.3,81.2M447.4,76.2L447.5,76.1M421.0,71.8L420.2,71.9M394.9,74.3L399.1,73.7M409.6,65.9L408.4,65.2M413.1,76.9L410.8,76.5M431.5,132.4L432.1,133.8M367.2,88.5L365.3,83.3M371.0,111.1L370.9,110.3M366.7,106.7L364.1,107.7M366.3,114.0L366.3,113.7M378.9,127.4L380.2,125.9M382.0,92.1L378.7,93.7M379.0,103.0L379.8,99.9M395.6,97.2L399.9,100.3M403.1,104.7L405.3,107.4M408.5,84.1L408.6,86.3M400.3,81.2L402.1,81.3M402.1,81.3L403.5,82.3M417.7,45.8L419.0,47.0M370.0,32.1L373.2,30.5M373.3,26.5L372.9,29.6M370.5,38.9L370.4,37.4M370.0,32.1L369.9,33.9M371.2,68.9L371.4,67.2M421.6,58.5L422.2,56.6M406.9,74.3L404.3,77.9M441.1,123.2L438.1,123.3M374.9,117.6L376.6,116.4M431.4,55.0L434.8,56.0M442.5,61.8L439.2,63.5M433.1,61.5L436.8,61.0M366.1,59.6L367.5,59.7M375.1,62.3L374.9,59.3M436.3,67.5L437.1,67.3" fill="none" stroke="#cc6c48" stroke-width="1.00" stroke-opacity="0.88" stroke-linecap="round"/><path d="M460.4,22.7L464.8,23.3M471.6,30.7L473.0,28.8M467.5,29.7L467.1,32.7M456.8,94.0L458.6,93.8M460.2,114.0L462.2,115.0M446.5,123.5L446.9,123.8M369.4,135.8L370.7,134.0M463.5,70.5L463.7,71.0M465.7,72.3L464.1,77.3M463.9,59.9L459.7,58.5M430.1,70.1L429.1,73.2M426.5,77.7L424.5,78.0M387.1,129.0L387.3,131.1M390.0,114.0L389.2,111.6M387.3,111.5L389.2,111.6M462.0,106.6L462.5,106.1M448.8,100.0L446.2,100.8M442.1,130.0L441.1,132.7M447.1,128.9L450.3,127.7M363.9,95.6L361.6,97.0M377.7,106.6L378.8,103.1M396.3,23.1L395.3,22.4M374.7,83.6L374.3,87.2M382.0,71.6L382.4,72.2M387.1,87.7L389.9,86.4M469.9,88.5L470.9,87.6M428.1,52.9L428.3,51.6M445.3,29.5L445.3,29.3M433.5,32.9L437.3,33.6M401.7,137.8L403.5,136.5M454.9,77.6L453.6,76.5M455.5,86.0L453.1,87.0M464.5,93.6L463.6,91.4M460.8,135.2L460.8,135.2M458.6,124.1L459.8,127.7M432.6,103.4L433.1,101.1M367.7,88.9L367.2,88.5M386.3,99.6L385.4,97.3M373.2,127.2L372.3,125.1M386.8,120.3L386.8,120.4M377.6,87.7L378.5,89.6M383.6,55.1L385.8,52.5M386.8,67.1L385.0,67.7M374.3,76.1L371.1,76.8M387.9,80.9L390.3,82.1M411.2,54.8L412.6,51.2M383.2,35.9L384.6,35.2M380.9,39.3L382.1,39.1M424.5,60.0L425.3,59.0M383.7,62.0L384.0,62.9M441.8,74.9L444.1,73.6M409.0,61.9L408.4,65.2M434.8,21.2L435.0,22.7M430.3,128.3L432.7,127.8M429.8,120.7L427.1,123.0M429.8,120.7L429.3,119.3M448.0,76.1L447.5,76.1M424.6,110.4L423.2,111.5M427.4,114.6L424.9,113.9M414.7,130.2L415.9,131.5M427.0,125.1L423.7,125.1M430.4,136.2L432.1,133.8M370.2,112.6L366.3,113.7M379.0,131.3L379.8,131.0M401.6,116.6L402.0,116.9M400.1,103.2L399.7,100.6M405.3,107.7L408.5,109.5M420.3,46.0L419.0,47.0M420.8,42.3L421.9,41.8M414.6,28.8L416.4,30.6M364.5,74.5L365.2,74.3M363.5,62.1L363.4,62.1M363.8,53.8L363.2,56.7M360.6,46.7L364.7,45.4M371.7,51.3L373.7,51.8M456.2,54.6L456.1,52.2M395.6,58.5L395.6,63.5M442.4,89.1L441.2,88.5M404.3,77.9L403.4,77.8M406.1,82.1L403.5,82.3M432.7,120.0L434.9,120.8M459.6,70.3L458.9,73.7M440.4,38.0L442.3,40.5M385.0,45.8L384.0,47.7M378.5,51.9L380.5,49.0M444.1,62.6L442.5,61.8M439.2,119.2L438.5,116.7M437.5,112.3L436.1,112.1M404.4,102.8L407.5,103.2M438.1,86.3L434.9,87.6M412.1,90.0L408.3,91.1M407.5,88.1L406.9,90.0" fill="none" stroke="#d47c58" stroke-width="1.60" stroke-opacity="0.75" stroke-linecap="round"/><path d="M463.7,18.8L464.8,23.2M452.4,117.7L452.5,117.9M362.4,132.0L364.9,131.9M391.4,107.3L391.5,107.2M459.6,56.6L459.6,56.5M424.3,78.0L422.7,81.2M382.6,135.1L383.6,135.4M389.9,111.2L389.2,111.6M387.3,111.5L386.4,108.5M394.1,114.3L396.8,118.2M449.9,90.0L448.4,90.8M451.8,82.1L452.8,82.7M445.6,132.2L442.8,129.9M451.4,122.0L447.3,119.3M421.7,92.6L423.5,88.8M363.3,100.0L364.7,99.2M367.0,103.4L366.8,103.2M376.0,130.9L376.3,130.6M391.1,117.5L388.8,116.1M381.3,71.1L379.6,67.7M432.4,46.8L432.2,46.8M464.4,65.3L465.1,66.1M467.5,58.5L470.3,59.0M470.7,92.4L474.5,89.8M466.5,42.4L467.7,43.7M451.9,28.9L453.1,28.3M442.6,25.3L441.7,25.8M450.7,40.7L450.8,40.1M403.5,62.5L399.4,62.4M429.7,30.9L430.8,30.5M467.2,77.8L467.6,78.5M450.9,77.6L450.4,81.4M463.6,91.4L459.0,92.7M421.9,131.3L422.9,131.1M428.9,83.2L427.3,82.3M383.6,95.8L382.0,92.1M391.2,89.3L387.6,90.7M371.1,103.8L371.1,103.8M382.5,122.6L385.4,124.2M371.9,108.5L373.2,107.6M423.4,88.5L423.5,88.8M421.7,92.6L420.2,92.3M407.0,30.3L408.8,31.8M396.4,37.1L396.6,39.1M435.2,41.8L435.0,41.1M430.9,43.2L434.3,41.1M390.4,56.0L390.4,57.6M377.8,36.9L375.1,33.8M372.4,35.9L375.1,33.8M467.5,105.2L469.3,102.3M418.0,64.4L418.8,68.2M414.2,67.6L412.8,65.3M400.6,70.1L400.9,72.1M408.6,73.3L407.5,74.2M414.8,75.4L413.1,76.9M427.0,108.0L428.4,109.0M368.7,76.8L366.6,78.6M404.2,108.9L405.3,107.7M414.0,88.4L412.5,90.1M416.4,30.6L413.7,33.1M390.4,67.0L386.8,67.1M384.4,73.1L383.4,77.7M458.4,48.2L459.6,49.0M401.9,86.7L403.2,86.4M377.4,114.3L376.6,116.4M378.9,55.4L379.3,56.1M450.2,61.0L448.7,60.7M395.8,51.7L392.0,52.4M396.3,51.3L395.8,51.7" fill="none" stroke="#c2603e" stroke-width="1.60" stroke-opacity="0.75" stroke-linecap="round"/><path d="M460.2,22.5L460.4,22.7M465.5,28.4L467.5,29.7M461.4,83.5L459.5,84.5M457.2,109.2L456.9,108.5M380.3,29.0L380.6,29.2M463.9,62.1L460.0,62.0M390.4,132.9L392.0,129.7M391.6,122.8L393.1,121.8M398.5,127.7L400.0,127.3M466.3,107.1L466.2,110.6M444.7,94.2L446.3,96.1M474.1,104.2L474.8,107.5M420.2,135.3L418.3,137.3M456.0,113.2L452.4,113.3M445.6,111.6L448.2,113.3M422.6,93.8L426.4,91.6M398.8,110.5L399.6,111.3M375.0,23.2L376.9,19.3M372.5,21.8L371.6,22.4M430.9,43.2L432.6,46.0M359.6,61.7L363.3,62.1M469.9,88.5L466.6,89.6M477.3,87.7L474.9,87.6M430.3,55.1L431.4,55.0M443.9,22.4L442.0,21.5M442.6,25.3L447.3,25.1M461.9,35.5L459.9,38.0M441.4,70.5L440.2,72.5M427.6,76.7L428.1,73.6M435.4,72.8L435.0,75.7M405.0,133.1L403.4,134.8M451.1,72.8L453.5,76.5M459.8,127.7L455.5,127.3M452.3,125.5L455.5,127.3M469.3,124.3L468.9,124.0M447.1,136.5L450.3,137.1M419.9,84.1L419.9,84.1M427.0,108.0L425.1,108.7M382.2,90.7L382.0,92.1M383.9,95.8L383.6,95.8M390.6,124.3L385.4,124.2M381.4,121.2L381.2,121.0M420.2,92.3L419.4,90.6M419.9,84.1L415.6,84.0M400.8,23.5L400.9,24.4M401.9,41.4L400.8,39.8M407.8,40.2L410.2,39.2M429.9,40.4L430.4,39.8M429.6,36.5L430.7,33.8M381.2,84.6L380.4,83.9M388.1,53.1L385.8,52.5M384.1,72.8L385.8,70.1M411.2,54.9L411.2,54.8M387.7,41.6L388.0,41.6M464.6,89.4L464.7,88.1M420.4,62.2L425.0,63.9M406.2,65.8L406.0,60.8M441.4,76.8L441.3,76.8M413.0,64.3L415.3,62.4M430.9,105.0L431.2,107.3M430.5,117.6L428.9,114.1M425.1,108.7L424.6,110.4M415.9,131.5L419.1,129.3M423.7,125.1L422.8,124.7M359.9,123.7L363.5,122.3M374.4,94.4L376.5,92.0M378.5,89.6L377.1,92.0M405.2,112.7L405.9,113.0M392.2,71.4L390.6,69.7M372.8,43.0L373.4,46.8M415.8,53.1L418.1,55.2M393.0,65.5L393.8,64.0M442.6,81.9L443.5,79.5M404.8,70.0L404.9,73.5M426.4,86.9L428.9,90.7M445.3,38.5L442.8,40.4M380.2,60.0L383.1,57.0M448.7,60.7L448.1,60.4M435.4,49.9L437.6,49.0M445.3,56.0L442.9,55.1M442.2,59.9L442.5,61.8M438.5,116.7L438.9,116.2M430.5,108.9L432.1,111.2M375.9,55.4L374.6,52.6M374.8,59.2L370.2,60.1M409.7,98.6L409.7,98.8" fill="none" stroke="#c2603e" stroke-width="1.60" stroke-opacity="0.88" stroke-linecap="round"/><path d="M472.0,25.7L473.9,24.6M469.7,40.0L470.5,39.1M468.3,53.4L464.6,53.2M466.0,49.5L464.0,52.2M464.4,56.3L459.6,56.6M472.0,50.5L473.3,50.1M424.3,78.0L423.0,76.1M416.4,136.7L413.6,139.1M397.7,124.8L396.3,123.6M393.7,118.8L396.8,118.2M442.2,134.2L442.4,135.6M424.3,134.6L423.2,136.0M446.6,115.5L448.2,113.3M457.3,123.9L452.4,123.1M385.7,113.5L384.9,113.8M383.3,117.2L384.9,113.8M372.6,93.2L373.0,90.8M428.0,50.9L428.1,49.6M470.7,92.5L470.8,92.8M458.4,44.2L458.5,44.8M458.2,35.2L459.9,38.0M456.5,42.8L456.3,42.8M404.7,65.6L400.5,65.4M437.3,71.8L438.9,68.9M403.5,69.3L405.1,65.9M468.4,131.9L465.9,133.6M472.1,128.5L468.4,130.0M465.9,133.6L465.7,133.6M459.2,131.0L459.5,130.3M471.0,118.9L471.8,120.8M450.3,133.9L450.3,137.1M454.0,136.1L450.7,137.4M464.6,121.2L461.4,121.4M441.4,103.8L441.1,103.2M383.9,95.8L386.0,94.4M392.3,100.4L389.4,99.7M367.0,103.4L366.7,106.7M381.4,121.2L382.5,122.6M421.5,31.9L418.6,30.0M423.9,30.6L422.6,27.9M429.9,40.4L427.7,39.5M374.8,87.7L374.3,89.9M369.8,71.0L371.2,68.9M362.0,49.7L362.1,53.0M369.3,43.3L372.2,42.6M469.9,88.5L467.4,86.2M465.2,102.8L466.0,99.6M451.9,20.2L452.4,23.2M427.2,53.5L425.3,55.8M420.4,62.2L422.2,59.5M400.4,49.8L400.1,52.6M388.6,48.6L388.5,48.5M413.0,59.3L415.0,61.0M411.9,80.1L413.1,76.9M411.0,138.5L410.8,136.4M410.1,116.9L409.7,114.6M428.5,126.6L431.7,123.2M430.7,121.2L429.8,120.7M459.0,78.0L461.1,75.0M451.1,72.8L451.1,72.8M413.1,127.0L414.8,128.1M363.5,122.3L364.0,126.8M370.0,117.6L372.2,115.9M413.7,28.8L412.0,31.9M368.6,31.0L368.5,27.4M364.7,43.4L364.7,45.4M365.7,47.4L366.0,47.3M374.9,47.6L373.7,51.8M374.9,47.6L373.4,46.8M396.7,63.5L395.6,63.5M398.7,76.8L402.0,76.0M454.1,69.7L454.3,69.7M458.9,73.7L458.6,73.9M398.6,90.7L402.3,88.7M434.8,44.5L438.5,46.6M432.7,58.8L435.2,56.6M391.9,58.8L394.5,55.5M438.2,83.3L438.9,84.8M456.0,69.7L457.9,66.6M406.9,90.0L405.2,90.8" fill="none" stroke="#b25234" stroke-width="1.00" stroke-opacity="0.75" stroke-linecap="round"/><path d="M467.5,24.9L469.7,24.5M363.3,100.0L363.0,103.4M463.5,70.5L464.8,68.2M451.9,28.9L452.0,31.9M473.4,47.1L473.3,50.1M435.1,69.3L431.6,69.3M395.1,136.7L396.0,136.9M395.1,136.7L393.7,138.1M393.9,109.8L398.4,110.7M391.6,122.8L391.5,123.5M399.6,122.4L401.3,124.5M453.7,102.8L455.5,104.8M456.9,104.2L458.5,101.0M451.8,99.6L453.7,101.2M455.6,96.7L455.2,100.7M451.3,86.9L449.9,90.0M474.5,132.3L473.8,131.5M447.8,118.4L446.6,115.5M373.2,127.2L372.3,128.4M396.9,26.6L394.3,27.2M382.8,90.1L383.5,89.8M475.3,91.0L479.8,93.0M462.2,42.6L462.5,43.0M453.5,32.0L454.6,31.5M463.0,33.1L463.8,33.7M445.3,29.3L447.6,26.0M400.2,69.8L397.7,70.6M393.0,71.5L394.6,69.2M423.7,70.3L421.0,71.8M459.5,130.3L455.4,128.3M426.4,132.4L428.2,132.4M448.3,105.3L445.7,103.2M423.6,82.7L425.2,86.9M420.0,87.0L423.4,88.5M424.1,103.6L422.7,100.9M415.5,109.8L415.3,109.9M387.6,90.7L390.1,94.1M370.7,124.0L369.7,127.6M376.6,123.9L376.9,124.2M415.3,109.9L411.2,109.1M420.5,96.9L417.5,95.6M415.6,84.0L415.1,83.6M400.8,36.6L399.0,35.7M403.3,41.5L404.8,44.2M421.0,33.9L417.6,32.9M423.7,25.6L422.6,27.9M385.7,22.1L385.7,23.3M391.2,89.3L391.3,89.4M372.4,35.9L374.6,38.7M392.6,41.2L392.3,41.9M463.8,85.7L466.4,83.4M406.0,60.8L407.5,60.3M402.1,58.5L404.6,56.2M415.0,61.0L415.3,62.4M408.4,65.2L406.6,65.8M408.9,73.4L408.6,73.3M413.0,84.4L415.1,83.6M425.8,118.2L424.6,118.9M454.0,136.1L454.4,135.0M424.9,113.9L423.1,115.8M418.7,116.8L421.5,114.0M423.0,95.3L427.1,95.4M361.1,128.8L364.0,126.8M362.4,104.2L362.0,106.7M381.2,121.0L378.5,124.3M413.5,46.7L410.1,45.1M421.7,38.8L423.0,39.9M372.9,29.6L373.2,30.5M374.3,31.0L373.2,30.5M364.5,41.2L363.3,39.8M362.5,29.7L360.9,31.8M367.8,70.4L365.2,74.3M369.2,43.5L369.2,45.2M367.3,53.6L366.4,52.8M422.4,54.5L423.0,55.5M419.9,53.1L418.1,55.2M419.7,50.0L419.9,53.1M402.1,73.7L404.9,73.5M416.0,125.5L415.7,127.2M379.3,42.8L381.7,44.2M363.2,56.7L364.9,57.4M450.2,55.5L451.5,56.1M454.6,46.0L454.6,47.8M443.8,50.6L443.4,51.2M391.1,53.5L392.0,52.4M394.5,55.5L395.1,55.6M435.1,69.3L436.3,67.5M411.2,103.4L410.6,100.6" fill="none" stroke="#cc6c48" stroke-width="1.60" stroke-opacity="0.88" stroke-linecap="round"/><path d="M473.0,28.8L476.1,28.4M467.2,114.1L465.7,115.7M446.5,123.5L441.9,124.2M362.4,104.2L363.0,103.4M389.6,104.5L391.5,107.0M393.2,108.1L391.5,107.2M363.4,25.3L366.4,24.6M464.4,56.3L464.7,56.7M466.2,57.1L469.2,55.0M470.3,74.4L472.5,77.9M450.1,33.8L450.5,34.9M445.3,38.5L446.1,38.8M448.4,37.0L448.1,37.7M426.5,77.7L427.5,79.1M427.6,76.7L426.5,77.7M412.4,125.3L410.5,124.2M448.4,107.5L450.1,108.7M455.7,107.3L455.5,104.8M459.5,84.5L459.1,86.8M475.1,107.6L480.0,105.7M460.8,118.5L461.2,121.2M363.5,93.4L362.7,91.0M361.6,131.6L361.1,128.8M381.2,104.6L383.9,103.7M398.8,110.5L398.4,110.7M427.4,45.8L428.7,43.1M363.3,61.8L359.5,58.2M475.3,58.3L475.0,58.3M462.2,46.9L458.5,44.8M466.0,49.5L463.2,46.4M453.1,28.3L455.3,30.2M437.3,35.4L437.3,33.6M407.8,119.0L410.1,116.9M468.4,130.0L468.4,131.9M416.4,136.7L415.4,134.6M439.5,128.1L437.9,128.4M468.9,124.0L464.3,124.9M445.7,103.2L445.7,101.4M427.2,102.1L425.7,99.0M431.0,82.0L428.9,83.2M385.4,124.2L385.4,124.2M394.3,27.2L393.6,29.3M403.3,22.2L404.6,22.5M434.3,41.1L430.4,39.8M383.6,56.9L384.4,57.5M390.3,82.1L391.8,77.0M391.8,76.9L389.3,77.9M444.5,66.0L445.7,69.8M420.6,76.0L419.3,72.7M396.8,78.3L398.7,76.8M427.4,114.6L425.8,118.2M455.5,133.7L454.4,135.0M422.9,130.2L420.9,126.2M364.1,76.8L362.5,77.9M364.2,120.6L361.9,119.1M368.4,107.4L368.5,109.7M360.7,116.3L361.2,112.3M381.0,99.1L381.3,97.9M403.1,104.7L401.9,104.9M412.5,24.7L411.7,22.7M412.5,24.7L411.0,26.8M380.4,83.9L381.5,81.7M371.3,35.9L370.4,37.4M363.2,70.5L363.0,73.0M363.0,73.0L364.5,74.5M366.8,67.1L371.4,67.2M397.8,46.7L394.4,47.2M444.6,84.9L443.8,84.1M408.5,86.7L407.5,88.1M407.0,83.2L403.2,86.4M407.5,88.1L403.2,86.4M395.8,51.7L395.1,55.6M455.5,63.9L455.6,65.1M410.6,104.3L411.2,103.4M374.9,62.9L371.0,63.1M431.8,64.8L433.7,65.1M441.2,88.5L439.4,89.0" fill="none" stroke="#c2603e" stroke-width="1.00" stroke-opacity="0.88" stroke-linecap="round"/><path d="M469.9,37.6L473.4,35.9M472.9,42.8L469.4,42.1M465.9,39.1L466.4,40.1M464.0,29.8L465.5,28.4M468.9,34.7L467.1,32.7M456.8,94.0L454.1,95.3M360.7,103.1L362.4,104.2M391.4,107.3L386.4,108.5M380.3,29.0L380.3,29.0M473.3,43.3L474.9,43.2M408.4,126.5L410.5,124.2M393.7,118.8L393.1,121.8M400.0,127.3L401.3,124.5M442.2,108.6L438.6,107.7M459.9,96.7L459.9,96.7M463.6,85.6L460.2,87.6M448.8,100.0L447.5,96.3M446.9,132.5L446.7,134.2M465.6,116.5L464.5,117.5M378.4,135.6L379.0,131.3M395.3,22.4L396.6,18.6M395.3,22.4L393.1,23.1M382.1,24.3L382.3,23.9M373.0,90.8L370.8,89.8M380.4,77.4L380.1,76.6M466.2,57.1L467.5,58.5M456.0,34.2L458.2,34.6M440.3,28.2L441.3,32.4M458.2,34.6L458.2,35.2M425.0,63.9L424.7,66.4M437.2,30.9L438.0,32.6M410.1,116.9L412.3,118.5M462.0,75.1L463.6,77.4M456.0,83.0L455.5,86.0M465.7,133.6L463.2,133.2M441.2,102.1L437.2,100.5M388.2,100.6L389.4,99.7M415.4,106.5L411.4,105.2M408.5,32.7L408.8,32.1M400.9,24.4L404.4,27.1M389.6,28.9L390.6,28.9M372.1,40.4L374.6,38.7M425.5,63.2L424.5,60.0M390.4,56.0L390.9,53.5M388.5,48.5L388.6,46.3M412.6,55.9L413.2,56.7M401.1,54.2L404.6,56.1M400.3,81.2L399.3,79.9M448.6,81.7L444.6,84.9M432.5,77.8L435.6,80.1M417.9,58.6L419.6,62.5M434.3,123.8L431.7,123.2M418.5,116.9L418.7,116.8M455.4,128.3L454.4,130.4M424.9,113.9L423.2,111.5M434.5,129.0L434.3,130.3M364.4,120.9L365.4,121.4M364.0,126.8L364.0,126.8M360.9,116.4L363.8,115.5M372.2,115.9L372.4,115.1M374.3,89.9L376.5,92.0M406.3,118.3L405.6,116.3M411.1,39.9L411.3,42.8M416.8,36.6L421.2,35.2M413.7,47.3L417.7,45.8M391.3,89.4L391.9,90.7M386.6,76.8L385.2,78.6M364.4,43.0L364.5,41.2M367.0,37.6L370.4,37.4M439.3,65.7L438.2,67.1M392.5,59.7L392.4,61.6M399.3,79.9L403.0,77.6M430.9,87.2L429.2,90.7M430.9,87.2L428.6,85.2M378.2,51.8L378.5,51.9M450.4,65.9L450.4,66.4M452.8,55.6L451.5,56.1M446.2,48.0L449.7,50.0M442.2,59.9L441.6,59.0M390.9,53.5L391.1,53.5M432.5,117.5L434.4,116.1M375.1,68.1L377.1,66.6" fill="none" stroke="#b25234" stroke-width="1.60" stroke-opacity="0.75" stroke-linecap="round"/><path d="M460.3,27.0L459.8,28.9M376.0,135.6L374.8,139.1M462.2,81.1L462.0,80.4M457.2,109.2L456.0,112.6M365.4,132.2L364.9,131.9M384.7,27.5L383.2,27.8M472.2,73.6L472.3,73.5M460.0,62.0L459.1,63.1M431.7,64.9L431.6,69.3M393.1,121.8L395.7,121.8M391.8,117.2L393.7,114.2M473.0,129.0L475.8,127.0M451.4,122.0L451.6,122.0M451.9,110.3L450.9,110.3M396.9,26.6L396.3,23.1M368.8,21.8L366.6,22.8M366.4,24.6L367.5,26.6M363.4,25.3L362.2,26.5M389.9,86.4L390.0,84.9M385.7,84.6L385.9,84.8M475.3,91.0L473.5,94.4M471.6,98.0L473.5,96.4M469.4,42.1L467.7,43.7M469.3,46.6L467.9,45.0M438.3,22.4L439.2,20.0M440.3,28.2L439.8,28.2M447.5,25.2L447.6,26.0M457.9,40.5L460.5,39.3M430.3,26.8L430.8,30.5M400.5,132.4L400.7,132.4M470.7,135.5L470.2,134.9M423.4,107.0L423.1,104.9M372.3,128.4L369.7,127.6M386.8,120.4L385.4,124.2M394.0,36.0L396.4,37.1M406.8,34.7L404.9,38.4M419.4,28.1L422.6,27.9M393.0,36.1L394.0,36.0M430.4,39.8L431.0,37.4M429.6,36.5L431.0,37.4M378.8,84.1L376.7,82.4M382.2,90.7L378.5,89.6M383.6,56.9L383.6,55.1M370.8,77.2L371.1,76.8M392.6,83.4L391.3,83.3M396.0,83.6L395.4,82.9M382.1,39.1L383.2,35.9M376.9,28.2L374.3,31.0M393.0,36.1L391.7,39.1M372.1,40.4L370.5,38.9M385.8,52.5L384.6,50.3M418.0,58.0L417.5,56.7M408.9,73.4L410.8,76.5M410.8,136.4L412.2,134.9M415.4,134.6L412.2,134.9M429.3,119.3L425.8,118.2M362.4,85.8L363.3,83.5M370.7,124.0L367.6,124.3M370.0,117.6L370.2,119.6M361.1,107.2L360.3,109.6M364.3,119.2L363.8,115.5M378.9,127.4L379.8,131.0M402.0,116.9L402.8,119.5M409.6,83.5L408.5,84.1M396.7,87.2L397.8,87.6M421.7,38.8L421.2,35.2M428.7,43.1L425.6,41.2M447.6,41.8L447.2,42.7M367.0,37.6L365.6,35.9M399.9,52.9L396.3,51.3M437.2,120.7L438.1,123.3M451.9,71.1L454.1,69.7M415.7,127.2L419.0,127.5M388.6,46.3L385.0,45.8M456.1,52.2L455.0,51.4M441.7,55.7L441.6,59.0M412.6,93.5L411.1,94.4" fill="none" stroke="#b25234" stroke-width="1.00" stroke-opacity="1.00" stroke-linecap="round"/><path d="M458.1,81.2L457.3,82.9M381.3,30.8L380.2,34.1M471.5,65.3L472.8,69.2M468.9,74.2L470.3,74.4M472.2,73.6L470.3,74.4M476.8,69.8L473.7,69.6M467.2,77.8L464.1,77.3M448.6,31.0L450.2,28.6M471.6,51.5L472.5,54.4M431.7,64.9L430.1,65.1M379.4,136.6L382.6,135.1M393.6,114.1L390.0,114.0M471.2,110.2L467.8,105.8M445.9,127.7L447.1,128.9M451.2,115.6L448.2,113.3M424.4,25.4L426.5,20.5M376.9,73.2L375.9,71.8M430.3,55.1L428.1,52.9M436.4,26.6L440.3,24.0M397.0,131.6L394.6,130.0M403.9,123.2L406.0,122.5M460.8,135.2L458.3,139.8M430.4,136.2L433.3,138.8M461.2,121.2L461.4,121.4M428.6,85.2L426.4,86.9M386.3,99.6L388.2,100.6M401.6,116.6L402.3,114.5M388.7,30.4L389.6,28.9M388.0,24.1L388.9,25.5M385.0,67.7L380.7,65.8M384.1,69.2L385.0,67.7M391.8,76.9L391.8,77.0M387.4,73.6L386.9,73.8M370.6,72.3L369.8,71.0M363.3,61.8L361.7,57.1M376.2,42.2L372.8,43.0M471.4,79.2L470.1,79.7M447.5,25.2L449.6,23.9M457.3,20.7L452.4,23.2M392.0,49.3L391.3,45.6M409.0,61.9L407.5,60.3M416.7,69.1L418.0,72.6M414.8,75.4L414.7,74.7M444.9,115.6L443.5,119.2M428.5,126.9L423.8,128.6M430.8,131.6L431.5,132.4M367.7,116.3L364.3,120.7M365.8,112.4L365.8,111.8M377.1,92.0L376.5,92.0M395.0,97.2L394.6,97.5M408.5,109.5L409.0,109.4M406.8,27.2L410.3,27.0M394.4,67.8L393.0,65.5M392.2,93.0L394.7,93.9M373.4,46.8L370.8,47.2M427.4,95.7L429.7,95.7M446.2,46.4L443.4,45.0M383.6,55.1L381.2,52.6M380.2,60.0L379.9,60.1M379.2,62.1L379.9,60.1M439.5,52.0L443.4,51.2M439.3,65.7L439.2,63.5M397.2,56.9L395.1,55.6M438.7,81.3L438.2,83.3M454.3,69.7L454.5,69.6M402.3,88.7L403.5,90.5M370.3,63.9L371.0,63.1M406.0,95.7L405.5,94.6" fill="none" stroke="#b25234" stroke-width="1.00" stroke-opacity="0.88" stroke-linecap="round"/><path d="M466.2,110.6L466.7,110.9M466.2,110.6L464.3,111.1M474.8,114.5L476.0,114.9M456.0,112.6L456.0,113.2M469.6,69.8L468.1,72.9M431.6,69.3L431.6,69.4M386.6,137.6L385.8,135.9M388.8,116.0L390.0,114.0M396.3,123.6L395.7,121.8M448.3,105.3L449.4,104.2M452.3,104.3L453.7,102.8M462.4,103.5L461.2,102.3M448.7,85.4L451.3,86.9M444.8,98.4L446.3,96.1M370.9,100.9L369.0,99.3M386.2,119.1L383.3,117.2M384.8,113.7L384.9,113.8M428.7,43.1L429.6,42.6M467.5,58.5L466.1,61.2M463.2,46.4L463.0,46.3M446.1,21.7L447.3,25.1M426.9,67.2L424.7,66.4M407.9,50.4L409.7,53.7M405.1,52.0L405.4,51.4M402.1,58.5L405.2,60.8M451.3,86.9L452.4,86.6M423.7,70.3L425.0,71.8M439.8,28.2L437.2,30.9M456.7,89.8L458.4,91.6M436.6,132.6L437.5,132.0M464.6,121.2L464.3,124.9M420.5,96.9L420.3,100.3M423.1,104.9L420.1,105.0M390.8,94.1L392.1,96.5M377.6,109.8L375.0,109.9M422.9,95.2L422.6,93.8M415.8,88.3L416.3,91.1M406.7,34.5L406.8,34.7M385.2,23.8L385.7,23.3M385.1,27.2L388.7,27.7M437.3,35.4L434.9,37.5M367.5,74.8L370.2,73.2M390.0,84.9L391.3,83.3M384.7,32.3L384.6,35.2M377.8,37.8L376.2,39.1M454.0,25.7L453.3,25.1M456.2,25.1L457.9,21.9M456.2,25.1L456.0,25.3M456.3,63.2L455.9,59.0M458.1,46.1L458.5,44.8M428.1,52.9L427.2,53.5M423.1,67.2L418.9,63.5M408.4,70.7L407.9,70.4M409.7,114.6L410.6,113.7M428.5,126.6L427.0,125.1M457.1,78.0L457.6,77.7M451.1,72.8L447.8,72.2M459.2,131.0L455.5,132.5M459.0,135.2L455.5,133.7M423.1,115.8L421.5,114.0M437.7,93.4L437.7,93.4M427.1,98.0L427.4,95.7M364.3,120.7L364.2,120.6M380.2,125.9L380.2,125.9M381.1,130.9L381.2,130.8M378.7,93.7L377.1,92.0M406.6,113.9L405.6,116.3M404.5,111.6L404.2,108.9M409.6,48.9L410.1,45.1M419.7,23.3L418.4,23.0M420.5,23.0L419.7,23.3M365.1,31.8L368.6,31.0M364.5,41.2L366.8,39.8M363.3,37.6L365.6,35.9M364.7,45.4L365.7,47.4M369.3,43.3L369.2,43.5M369.7,49.1L366.1,51.4M396.2,50.5L397.8,46.7M388.0,61.7L392.4,61.6M441.2,88.5L440.9,85.4M441.7,124.1L441.1,123.2M461.1,75.0L458.9,73.7M417.6,122.4L417.6,123.4M434.5,95.6L432.3,93.3M399.8,93.5L400.8,93.5M401.4,99.6L402.9,96.7M451.3,64.1L450.2,61.0M450.6,45.1L451.2,48.5M439.1,53.5L439.6,55.1M375.9,55.4L374.6,58.5M366.3,65.6L368.2,64.1M410.6,100.6L409.7,98.8" fill="none" stroke="#c2603e" stroke-width="1.30" stroke-opacity="0.88" stroke-linecap="round"/><path d="M358.8,99.6L361.7,99.1M389.6,104.5L391.8,102.5M387.5,103.5L385.5,104.6M380.3,29.0L379.9,26.3M468.1,72.9L465.7,72.3M472.2,73.6L474.3,77.4M446.3,33.8L446.0,34.9M463.9,59.9L464.7,56.7M419.1,77.3L420.6,76.0M455.2,100.7L458.0,100.5M470.6,105.8L467.8,105.8M462.4,103.5L462.5,106.1M460.2,102.2L461.2,102.3M447.0,89.6L443.1,90.5M446.5,123.5L446.2,120.3M369.0,99.3L369.2,97.3M368.8,95.2L368.7,95.5M470.7,92.5L470.7,92.4M463.2,46.4L467.9,45.0M463.0,33.1L462.1,33.3M454.6,41.7L451.8,42.2M405.2,60.8L403.5,62.5M450.4,81.4L449.5,81.9M431.6,74.7L432.8,76.6M413.0,120.5L414.7,121.0M394.6,130.0L394.2,133.8M405.0,133.1L404.3,130.2M399.7,121.5L402.1,120.8M465.8,82.3L467.6,78.5M459.0,92.7L458.4,91.6M461.2,128.8L459.8,127.7M473.9,124.3L470.8,124.9M442.4,135.6L442.1,137.2M454.0,136.1L455.7,138.6M437.9,128.4L434.5,129.0M437.9,128.4L437.5,132.0M441.9,101.1L445.7,101.4M382.9,100.9L383.9,103.7M381.4,121.2L386.8,120.4M373.5,105.3L373.2,107.6M368.3,107.1L368.4,107.4M373.2,107.6L375.0,109.9M396.9,26.6L399.1,28.5M405.2,26.6L406.8,27.2M434.8,44.5L435.2,41.8M385.8,70.1L384.1,69.2M370.8,77.2L368.7,76.8M412.6,55.9L411.2,54.9M408.9,49.1L409.6,48.9M471.4,79.2L473.4,81.3M467.3,98.6L469.2,101.6M454.6,46.0L454.5,45.5M408.8,78.2L411.6,80.2M424.6,110.4L427.7,112.3M460.0,66.8L460.2,70.0M423.2,117.1L423.1,115.8M378.0,114.1L377.4,114.3M400.1,103.2L401.9,104.9M425.6,41.2L425.4,40.8M414.6,28.8L413.7,28.8M399.6,59.7L397.2,57.1M432.5,117.5L432.7,120.0M426.4,91.6L427.3,91.8M371.4,121.3L375.0,120.5M381.7,44.2L383.8,43.6M378.4,58.6L379.3,56.1M452.8,55.6L454.3,56.1M449.7,50.0L450.1,50.0M440.2,44.9L440.0,45.3M447.3,53.3L445.3,56.0M415.7,97.5L416.1,98.2M379.2,62.1L375.1,62.3M413.3,100.4L410.6,100.6" fill="none" stroke="#d47c58" stroke-width="1.30" stroke-opacity="0.88" stroke-linecap="round"/><path d="M476.4,73.5L469.8,67.9M476.2,48.8L475.2,46.2M371.1,100.3L365.0,97.7M395.2,60.5L401.2,65.0M431.2,109.9L430.6,113.9M381.6,61.4L378.1,53.9M373.8,24.8L374.4,23.3M371.2,32.9L371.2,25.0M374.1,34.5L371.2,32.9M421.2,58.8L418.4,60.6M469.0,117.9L467.7,117.8M391.3,92.9L395.1,103.1M424.0,104.4L423.5,104.4M381.3,104.6L387.0,104.6M465.2,25.4L460.0,27.3" fill="none" stroke="#b85838" stroke-width="1.00" stroke-opacity="0.50" stroke-linecap="round"/><path d="M476.4,73.5L467.8,75.5M463.1,38.2L468.8,38.7M357.1,30.3L361.3,32.7M377.6,65.9L377.8,64.9M475.2,128.8L465.5,129.7M435.7,67.8L435.4,71.7M379.1,107.1L381.3,104.6M386.3,60.5L388.4,53.8M395.2,60.5L396.6,55.1M423.3,107.2L423.5,104.4M411.3,101.4L415.8,103.6M406.2,125.1L403.0,132.6M407.0,105.4L400.1,98.9M447.6,123.4L444.4,123.5M456.8,134.1L455.3,134.2M442.6,127.1L447.9,131.7" fill="none" stroke="#b85838" stroke-width="1.40" stroke-opacity="0.90" stroke-linecap="round"/><path d="M464.8,67.3L461.6,70.9M391.1,87.9L391.5,88.3M407.7,91.3L411.4,90.7M445.9,49.4L445.8,50.3M428.9,123.4L429.4,123.1M442.3,115.7L440.8,119.2M421.2,131.1L415.1,132.9M367.7,48.8L374.7,47.3" fill="none" stroke="#ac4a30" stroke-width="1.00" stroke-opacity="0.50" stroke-linecap="round"/><path d="M464.8,67.3L467.4,68.4M471.3,28.2L471.6,28.8M470.4,44.6L469.8,40.0M374.7,124.1L373.0,128.4M392.6,40.4L391.6,33.4M382.5,45.8L381.2,42.8M391.0,46.4L391.2,46.0M424.0,104.4L430.6,107.2M426.6,72.7L426.5,71.8M446.1,102.6L450.5,97.7M357.7,132.5L363.6,129.6M416.8,91.1L416.6,91.2M358.8,76.5L364.8,75.6M359.9,80.8L363.3,85.3M398.3,39.8L400.1,41.9M407.0,48.3L399.2,52.3M467.9,109.0L467.7,117.8M467.8,108.8L467.9,109.0M391.7,120.3L391.6,119.8M419.0,47.8L416.1,41.6" fill="none" stroke="#ac4a30" stroke-width="1.40" stroke-opacity="0.90" stroke-linecap="round"/><path d="M461.6,70.9L461.2,76.4M453.5,82.2L445.5,76.4M378.2,27.8L380.7,26.2M430.3,60.9L430.9,61.2M444.0,67.6L443.7,76.4M435.0,104.3L438.6,107.3M362.3,125.5L359.8,122.6M422.3,88.3L418.3,88.9M425.4,95.3L421.5,98.7M383.0,115.1L377.3,108.7M374.7,124.1L374.7,124.1M382.5,45.8L383.1,51.1M389.8,53.3L391.0,46.4M366.7,33.2L364.8,31.8M445.4,59.4L440.1,54.1M459.5,104.7L457.1,105.9M368.1,41.0L372.6,39.2M455.3,116.0L457.5,114.9M450.2,118.2L447.6,123.4M390.7,22.9L396.0,26.4M445.9,49.4L445.2,44.2" fill="none" stroke="#ac4a30" stroke-width="1.40" stroke-opacity="0.70" stroke-linecap="round"/><path d="M467.8,75.5L465.8,78.4M374.1,113.8L375.2,117.8M446.1,102.6L444.6,102.4M365.0,97.7L359.7,104.0M380.6,124.7L385.8,115.1M390.3,41.8L392.6,40.4M394.4,61.5L395.2,60.5M407.1,74.2L408.6,72.5M444.7,93.0L439.2,94.6M362.3,125.5L363.6,129.6M367.0,53.6L361.5,54.2M383.1,51.1L378.1,53.9M396.6,55.1L398.6,54.3M421.2,55.2L416.2,51.3M464.8,121.6L465.2,119.4M419.0,47.8L423.9,48.3M427.1,41.3L425.6,40.7M420.7,33.0L415.4,34.5M396.1,31.5L396.1,26.9M407.3,35.4L405.6,32.4M457.3,35.6L450.1,35.4M449.9,30.1L442.7,29.2" fill="none" stroke="#b85838" stroke-width="1.80" stroke-opacity="0.90" stroke-linecap="round"/><path d="M461.2,76.4L465.8,78.4M448.4,93.8L451.5,86.3M383.0,115.1L385.8,115.1M391.1,87.9L385.5,87.9M407.7,80.3L411.8,81.1M435.0,98.4L432.8,97.8M385.5,87.9L384.6,96.6M381.6,61.4L385.9,61.1M374.7,53.5L378.1,53.9M432.2,51.1L437.4,51.1M476.9,113.7L469.0,117.9M365.0,97.7L364.7,97.1M367.0,53.6L367.7,48.8M442.6,127.1L437.8,131.4M425.5,29.5L422.0,31.1" fill="none" stroke="#b85838" stroke-width="1.80" stroke-opacity="0.70" stroke-linecap="round"/><path d="M463.6,32.6L469.9,33.1M450.5,97.7L450.9,97.8M387.3,33.6L383.8,36.7M398.1,76.4L399.1,82.3M393.0,68.6L394.4,61.5M411.8,81.1L415.8,81.0M454.0,47.3L456.0,49.5M450.2,118.2L442.3,115.7M358.9,68.0L361.6,67.7M371.7,17.0L374.4,23.3M391.6,119.8L398.9,113.4M394.0,130.8L397.3,129.6M430.2,129.7L433.7,131.5M430.2,129.7L423.2,133.0M438.6,33.4L441.5,36.0M442.7,29.2L441.7,22.2M425.2,25.5L427.7,20.6" fill="none" stroke="#b85838" stroke-width="1.80" stroke-opacity="0.50" stroke-linecap="round"/><path d="M471.1,55.8L473.7,58.3M475.3,131.2L478.3,135.2M364.3,115.9L363.7,118.5M385.4,69.7L379.9,69.7M461.0,56.3L464.9,50.6M365.6,65.4L361.6,67.7M415.1,132.9L411.6,131.7M391.6,33.4L396.1,31.5" fill="none" stroke="#ac4a30" stroke-width="1.00" stroke-opacity="0.90" stroke-linecap="round"/><path d="M469.5,55.6L465.1,61.0M467.0,81.0L465.8,78.4M463.1,85.2L455.0,80.9M472.5,96.9L468.5,100.0M466.2,92.1L463.8,95.4M431.2,109.9L430.6,107.2M378.4,124.8L380.6,124.7M380.9,77.6L386.5,76.0M360.6,40.6L361.3,32.7M400.5,67.3L409.4,68.4M427.6,85.8L429.8,89.2M447.6,110.4L452.6,115.9M375.8,93.0L381.0,85.8M398.0,46.0L399.2,52.3M404.6,61.2L403.1,57.4M409.4,68.4L410.2,66.9M381.3,132.9L385.7,131.1M363.3,85.3L361.4,88.4M427.3,114.3L430.6,113.9M372.6,39.2L378.4,43.1M394.0,130.8L389.1,136.9M398.9,113.4L393.8,110.0M378.4,43.1L374.7,47.1M423.2,133.0L423.7,136.6M431.7,36.9L433.0,36.2M441.7,22.2L442.6,20.7" fill="none" stroke="#ac4a30" stroke-width="1.40" stroke-opacity="0.50" stroke-linecap="round"/><path d="M456.5,62.3L460.7,61.8M452.5,85.6L457.0,89.6M470.6,83.4L471.2,89.3M470.9,103.8L479.1,103.9M463.8,95.4L461.3,95.9M422.3,88.3L425.4,95.3M378.5,75.3L377.3,75.5M403.6,86.1L403.5,87.2M475.2,128.8L475.7,127.0M475.3,131.2L475.2,128.8M376.1,95.6L375.8,93.0M362.8,42.2L359.8,51.9M365.6,65.4L362.6,60.6M392.6,40.4L398.3,39.8M429.8,54.3L424.3,51.5M448.3,107.9L456.9,106.2M364.7,97.1L360.4,92.7M369.1,91.1L361.4,88.4M415.2,106.0L409.7,111.5M420.5,124.7L421.2,131.1M412.5,43.3L414.8,41.0M396.0,26.4L401.0,21.3" fill="none" stroke="#b85838" stroke-width="1.40" stroke-opacity="0.70" stroke-linecap="round"/><path d="M462.8,62.6L460.7,61.8M455.0,80.9L456.7,78.0M457.0,89.6L458.7,94.7M469.2,91.0L472.5,96.9M458.7,94.7L461.3,95.9M371.0,81.2L377.3,75.5M403.6,86.1L407.7,80.3M387.3,33.6L391.6,33.4M426.6,72.7L427.1,73.3M437.1,58.2L440.1,54.1M465.4,108.3L459.1,115.3M434.0,118.2L429.4,123.1M426.8,44.3L427.1,41.3M438.1,45.6L441.3,43.6M450.1,35.4L450.0,35.1M450.2,41.4L445.2,44.2M451.4,42.1L450.2,41.4" fill="none" stroke="#ac4a30" stroke-width="1.80" stroke-opacity="0.90" stroke-linecap="round"/><path d="M476.8,74.2L467.7,81.4M429.0,61.2L430.3,60.9M371.0,81.2L381.0,85.8M451.4,42.1L454.0,47.3M365.5,136.3L359.3,137.4M388.5,67.3L385.9,61.1M367.2,21.3L368.1,24.2M378.2,27.8L373.8,24.8M451.9,55.2L445.8,50.3M477.5,124.8L469.0,117.9M395.1,103.1L394.6,103.3M445.9,137.1L447.9,131.7M420.6,141.7L423.7,136.6M450.1,30.0L449.9,30.1M436.8,33.3L434.2,25.5" fill="none" stroke="#ac4a30" stroke-width="1.80" stroke-opacity="0.50" stroke-linecap="round"/><path d="M452.5,85.6L453.5,82.2M470.2,32.8L477.2,37.1M377.3,75.5L370.0,71.1M369.1,81.5L366.8,76.2M397.5,91.0L403.5,87.2M391.5,88.3L397.6,82.5M426.6,72.7L418.0,74.1M437.1,82.8L438.9,86.4M438.2,96.9L439.2,94.6M398.0,46.0L391.2,46.0M397.5,91.0L399.1,98.9M406.7,106.8L406.8,105.8M394.6,103.3L389.3,102.7M463.6,32.6L460.0,27.4M408.1,26.2L413.1,26.7" fill="none" stroke="#b85838" stroke-width="1.00" stroke-opacity="0.90" stroke-linecap="round"/><path d="M364.2,115.0L364.3,115.9M463.0,85.9L466.2,92.1M361.3,105.9L359.7,104.0M367.2,25.1L364.8,31.8M361.3,32.7L364.8,31.8M395.2,70.8L394.9,73.9M399.6,68.6L400.5,67.3M468.7,135.5L465.8,134.2M430.9,61.2L437.1,58.2M396.8,124.0L401.0,122.3M419.0,114.0L423.3,107.2M397.3,129.6L401.0,133.2M430.3,39.2L435.4,44.4M406.9,28.0L396.1,26.9M397.4,32.8L396.1,31.5" fill="none" stroke="#b85838" stroke-width="1.00" stroke-opacity="0.70" stroke-linecap="round"/><path d="M477.3,91.0L474.8,96.8M431.2,109.9L439.0,110.0M381.0,85.8L381.0,85.8M399.6,68.6L407.1,74.2M384.6,96.6L378.9,97.0M410.1,52.8L412.0,53.4M385.7,131.1L388.5,136.7M411.4,123.4L408.6,116.2M415.1,132.9L415.9,140.1M387.0,104.6L389.3,102.7M437.8,131.4L433.7,131.5M436.8,33.3L433.0,36.2M434.2,25.5L434.1,25.4" fill="none" stroke="#b85838" stroke-width="1.40" stroke-opacity="0.50" stroke-linecap="round"/><path d="M448.1,67.0L448.9,59.2M370.0,71.1L366.8,76.2M408.6,72.5L417.9,74.3M469.5,55.6L464.9,50.6M448.9,59.2L445.4,59.4M430.3,60.9L429.8,54.3M395.4,122.7L401.5,113.6M409.9,114.6L417.0,113.8M401.6,111.0L398.0,104.3M366.7,33.2L368.1,41.0M455.6,125.1L456.1,125.3M396.8,124.0L397.3,129.6M412.0,123.7L411.6,131.7M431.4,49.1L426.8,44.3M450.5,129.5L447.9,131.7M430.3,39.2L431.7,36.9M426.7,30.1L431.7,36.9" fill="none" stroke="#ac4a30" stroke-width="1.00" stroke-opacity="0.70" stroke-linecap="round"/><path d="M435.0,104.3L430.6,107.2M368.0,110.8L367.6,107.5M371.0,81.2L369.1,81.5M391.5,88.3L392.8,89.7M401.2,65.0L400.5,67.3M427.1,73.3L427.9,79.9M435.4,71.7L437.0,74.9M448.4,93.8L444.7,93.0M409.9,114.6L409.7,111.5M430.3,39.2L427.1,41.3M422.0,31.1L416.7,23.8M445.2,44.2L442.7,43.2" fill="none" stroke="#ac4a30" stroke-width="1.80" stroke-opacity="0.70" stroke-linecap="round"/><path d="M360.9,97.8L365.1,98.9M443.1,69.7L442.6,70.1M380.7,95.5L383.5,98.2M475.1,20.6L472.3,23.6M450.2,97.3L447.7,95.9M374.9,128.8L370.1,132.9M366.2,138.6L367.2,135.9M403.7,36.1L406.7,35.9M425.3,83.3L418.2,84.0M403.8,55.5L403.1,56.1M457.2,44.8L451.4,46.1M444.1,54.7L443.8,50.4M426.9,41.2L424.3,40.1M443.1,33.0L443.0,33.1M475.0,63.9L475.5,65.9M384.6,24.1L384.6,21.3M437.7,51.9L439.5,50.5M388.7,112.3L390.5,113.3" fill="none" stroke="#963a28" stroke-width="1.30" stroke-opacity="0.85" stroke-linecap="round"/><path d="M407.7,85.2L409.4,83.9M409.7,138.6L406.4,136.0M372.9,93.2L370.8,95.9M403.0,67.4L403.7,66.8M372.0,73.4L370.9,75.6M443.4,62.6L443.0,63.7M373.4,93.1L378.0,97.1M378.7,77.2L379.3,71.8M385.0,66.1L382.8,66.3M412.6,131.8L408.1,131.1M360.3,100.3L365.2,104.4M451.8,66.3L451.3,65.4M440.8,84.0L439.6,83.1M442.5,73.6L442.4,74.0M367.5,25.8L367.3,25.6M401.7,20.2L403.3,22.5M406.6,31.1L406.3,30.6M395.0,42.4L397.8,38.7M452.5,131.0L454.4,130.1M470.9,98.0L467.9,95.9M463.4,38.9L460.3,36.3M449.8,38.8L454.2,35.0M445.3,37.3L448.9,41.1M461.1,76.1L457.2,75.3M414.2,36.4L413.0,36.5M421.4,121.4L417.3,119.0M431.2,54.3L430.1,51.6M419.4,38.6L419.5,38.8M365.3,65.5L368.0,65.4M388.8,111.1L390.5,108.2M433.8,121.8L428.6,120.0M431.9,113.4L435.5,114.1M431.4,112.4L431.9,113.4" fill="none" stroke="#963a28" stroke-width="1.30" stroke-opacity="0.50" stroke-linecap="round"/><path d="M411.1,74.9L410.1,74.8M418.2,76.4L421.8,69.9M451.4,69.8L455.5,71.3M450.7,100.8L450.7,97.7M370.7,100.9L368.5,101.8M379.2,50.1L376.9,54.3M450.2,136.7L450.3,136.9M449.6,107.2L455.7,108.5M441.2,126.2L444.0,123.3M480.4,93.8L474.9,93.8M395.6,33.4L394.5,35.3M467.1,96.1L467.9,95.9M478.4,121.9L475.1,117.8M467.4,53.5L465.8,50.3M479.6,54.8L473.6,51.2M406.7,35.9L407.2,36.3M424.7,87.3L430.0,89.5M409.2,60.7L410.2,59.7M420.7,23.5L425.5,19.6M381.3,106.3L384.0,107.1M381.5,119.9L380.6,117.3M408.3,49.8L410.7,48.5M420.8,107.7L421.3,110.2" fill="none" stroke="#a2442c" stroke-width="1.30" stroke-opacity="0.50" stroke-linecap="round"/><path d="M365.7,92.9L366.5,89.5M366.5,89.5L369.6,87.9M435.9,67.6L433.0,72.9M378.7,77.2L381.8,78.1M400.4,137.9L405.2,135.1M412.4,95.2L414.4,96.9M367.5,101.9L368.5,101.8M442.7,76.3L444.1,77.3M455.9,108.0L455.7,108.5M440.2,118.2L440.2,121.2M402.7,115.0L400.0,116.1M411.9,66.0L416.6,61.9M465.6,103.3L463.7,102.7M445.3,37.3L448.2,35.6M418.6,31.2L417.8,28.3M394.1,124.9L394.1,124.9M448.9,41.2L450.1,42.3M360.5,45.8L363.3,49.1M468.9,127.5L468.9,127.5M438.3,111.2L438.5,109.6" fill="none" stroke="#a2442c" stroke-width="1.60" stroke-opacity="0.85" stroke-linecap="round"/><path d="M366.5,89.5L362.3,87.2M386.7,59.8L382.0,59.3M400.4,68.6L394.3,65.4M407.4,71.3L409.1,69.4M381.8,59.4L378.9,59.8M449.8,91.2L450.6,91.0M455.5,96.7L457.1,95.4M466.8,69.2L461.9,69.0M462.9,61.0L461.1,61.0M468.6,111.4L470.6,110.0M460.8,80.7L463.1,83.0M359.7,124.0L361.4,122.5M416.5,52.1L416.9,50.8M469.9,132.1L468.9,127.5M430.0,31.7L430.0,27.4" fill="none" stroke="#963a28" stroke-width="1.00" stroke-opacity="0.68" stroke-linecap="round"/><path d="M388.1,83.1L387.7,82.5M383.2,82.4L387.7,82.5M401.3,80.9L405.3,82.1M370.9,75.6L371.0,77.1M411.1,89.6L410.9,92.2M374.9,73.8L377.1,71.5M391.1,47.1L391.6,50.0M472.3,23.6L466.7,21.3M381.3,133.1L380.1,135.9M441.5,55.6L444.1,54.7M383.1,34.9L383.4,35.1M460.0,45.9L463.9,40.3M381.6,102.1L382.4,101.7M422.4,64.7L420.4,62.7M464.7,109.8L466.0,104.1M473.7,105.2L473.7,105.0M452.7,27.1L453.6,27.1M396.3,98.3L394.4,102.2M419.8,22.4L420.7,23.5M361.6,127.8L364.9,126.4M364.2,118.1L364.9,120.1M432.9,44.3L434.9,45.8M425.6,125.9L425.8,125.9" fill="none" stroke="#a2442c" stroke-width="1.60" stroke-opacity="0.50" stroke-linecap="round"/><path d="M386.7,96.8L384.2,92.6M403.0,67.4L407.4,71.3M475.2,37.7L472.5,37.2M451.8,66.3L451.4,69.8M365.1,98.9L367.5,101.9M469.6,40.9L465.4,41.3M468.7,58.8L464.4,57.2M466.8,69.2L465.0,73.0M395.6,33.4L390.6,28.4M455.9,108.0L460.7,106.5M461.1,97.6L462.2,102.4M447.7,25.9L446.4,25.3M376.1,124.5L374.6,128.2M392.3,119.1L389.1,120.6M398.3,130.9L394.6,129.3M466.1,76.7L462.8,78.1M398.5,45.8L400.1,45.3" fill="none" stroke="#a2442c" stroke-width="1.30" stroke-opacity="0.68" stroke-linecap="round"/><path d="M377.5,90.1L373.4,93.1M360.8,80.3L364.7,78.6M442.7,76.3L442.4,74.0M441.5,55.6L437.6,54.1M475.2,37.7L477.3,34.6M436.3,87.8L432.7,90.6M379.6,39.2L379.0,39.1M459.0,112.0L455.8,109.9M369.5,31.2L373.3,29.9M375.6,134.7L376.5,136.1M365.0,134.6L359.8,138.2M374.6,43.8L370.7,47.0M407.2,118.2L409.7,114.2M459.2,114.4L459.9,119.2M418.6,31.2L420.5,32.7M359.4,55.9L361.3,55.0M415.0,42.7L415.4,43.6M443.8,50.4L439.5,50.5M396.9,106.2L395.6,107.6M429.7,102.0L429.9,107.3M436.0,117.6L434.4,119.6" fill="none" stroke="#a2442c" stroke-width="1.30" stroke-opacity="0.85" stroke-linecap="round"/><path d="M407.7,85.2L403.6,88.3M472.5,32.1L472.5,37.2M400.3,79.4L398.6,79.5M453.0,103.5L455.0,103.8M473.9,31.3L477.3,33.1M444.0,131.0L452.5,131.0M383.0,133.2L383.3,128.6M374.4,104.6L378.3,108.8M458.3,56.3L459.7,60.5M376.9,54.3L375.6,55.0M391.1,56.8L395.8,56.0M468.6,111.4L465.1,110.8M462.1,30.6L461.5,30.1M412.4,32.0L411.0,35.7M381.0,124.5L381.9,123.1M373.9,121.9L376.1,124.5M394.6,129.3L394.1,124.9M424.9,98.2L427.9,95.3M416.3,127.1L421.4,121.4M394.3,65.4L399.5,60.3M405.0,51.4L401.9,50.8M451.1,45.7L444.8,47.8M440.1,35.6L435.2,37.8M417.2,55.5L416.6,58.9M471.8,121.5L469.4,123.3M464.5,119.9L464.7,119.8M388.7,112.3L385.9,113.6" fill="none" stroke="#963a28" stroke-width="1.60" stroke-opacity="0.68" stroke-linecap="round"/><path d="M416.9,68.3L421.8,69.9M409.7,138.6L412.3,137.0M395.7,74.8L401.0,72.9M448.5,107.3L447.4,102.9M439.9,126.2L441.2,126.2M441.5,133.4L441.6,134.7M410.1,124.3L410.9,125.5M435.3,75.3L434.1,74.9M453.1,111.9L454.3,116.4M475.7,90.1L474.6,92.9M394.3,50.5L396.9,49.2M471.0,107.1L473.7,105.2M430.5,50.5L427.2,46.5M391.9,130.8L394.6,129.3M436.8,97.7L436.3,101.9M391.7,26.7L393.8,21.3M481.0,49.9L473.9,49.6M372.8,62.7L369.9,67.5M407.4,39.6L405.3,42.0M461.5,134.4L463.9,132.1M394.7,112.9L395.6,107.6M425.1,116.1L425.6,112.8M436.1,26.0L430.0,27.4M381.5,119.9L385.6,114.9" fill="none" stroke="#963a28" stroke-width="1.00" stroke-opacity="0.50" stroke-linecap="round"/><path d="M414.5,71.4L418.2,76.4M369.4,84.2L369.6,87.9M400.3,69.1L401.0,72.9M475.3,83.8L477.0,83.1M415.6,130.1L412.6,131.8M416.8,108.0L412.5,104.9M370.2,112.3L371.5,107.4M381.4,49.8L379.2,50.1M383.3,128.6L381.1,126.9M377.6,130.9L374.9,128.8M379.0,39.1L375.7,44.3M460.3,36.3L462.1,30.6M454.2,35.0L452.2,32.5M390.6,26.4L391.2,27.0M465.8,50.3L468.6,49.1M368.9,55.8L374.2,53.4M465.1,139.9L461.5,134.4" fill="none" stroke="#a2442c" stroke-width="1.60" stroke-opacity="0.68" stroke-linecap="round"/><path d="M392.2,85.6L392.4,85.6M438.1,65.2L437.2,61.0M377.7,98.1L378.0,97.1M406.0,60.8L409.2,60.7M371.5,107.4L374.4,104.6M447.8,55.9L444.1,54.7M443.7,99.0L442.2,98.1M467.3,28.3L465.0,23.9M369.7,35.0L374.4,31.0M400.4,111.6L402.7,115.0M397.6,21.1L398.2,27.6M400.5,38.6L397.8,38.7M465.1,110.8L464.7,109.8M461.7,102.8L462.2,102.4M463.2,93.6L462.5,96.5M424.0,57.6L427.3,60.5M468.6,49.1L473.6,50.1M476.7,43.7L474.4,45.3M468.1,67.2L473.1,67.9M383.7,112.7L381.9,112.5M382.4,101.7L388.0,102.9M434.2,22.3L430.3,20.8" fill="none" stroke="#a2442c" stroke-width="1.00" stroke-opacity="0.68" stroke-linecap="round"/><path d="M414.6,69.5L412.9,68.6M437.2,61.0L434.9,59.8M444.1,130.7L441.2,126.2M475.7,90.1L474.2,86.4M434.4,93.6L434.5,94.4M442.6,70.2L433.3,73.9M447.0,113.8L448.0,113.5M453.5,119.6L453.6,117.8M430.0,101.8L430.0,101.8M407.4,39.6L407.2,36.3M473.6,51.2L473.6,50.1M435.2,37.8L434.0,37.0M415.7,60.2L416.6,58.9M430.5,50.5L434.7,47.6" fill="none" stroke="#963a28" stroke-width="1.00" stroke-opacity="0.85" stroke-linecap="round"/><path d="M379.5,83.8L376.1,84.3M395.6,80.8L398.6,79.5M474.2,86.4L475.3,83.8M474.1,28.1L472.2,25.2M399.1,132.0L399.7,132.0M370.1,112.4L366.0,110.4M451.6,76.4L452.2,77.6M464.9,88.6L465.6,91.1M434.5,94.4L428.5,95.5M410.5,43.0L413.8,42.1M455.6,137.3L457.5,137.0M413.8,42.1L415.0,42.7M435.3,32.0L435.2,32.1M436.7,29.2L435.3,32.0M459.0,81.6L455.6,77.5M376.1,49.0L373.5,50.9M401.2,42.7L405.3,42.0M461.5,134.4L458.0,134.3M414.1,113.1L419.8,113.1M459.9,119.2L464.5,119.9" fill="none" stroke="#963a28" stroke-width="1.60" stroke-opacity="0.85" stroke-linecap="round"/><path d="M475.2,37.7L476.6,40.6M443.8,131.5L444.0,131.0M410.9,125.5L407.9,130.7M386.4,135.1L386.6,135.8M451.3,65.4L451.6,62.5M441.3,88.8L438.3,89.8M434.4,93.6L432.7,90.6M440.8,84.0L443.6,83.2M452.5,131.0L450.2,135.8M461.5,88.3L457.1,86.4M373.1,27.4L373.3,29.9M398.3,27.8L397.6,32.1M422.0,69.9L424.3,75.1M470.6,62.5L469.0,62.8M466.5,30.9L462.1,30.6M466.8,69.2L466.9,69.1M383.3,128.6L388.3,129.0M414.0,112.8L412.8,112.5M410.7,122.4L415.6,120.7M441.5,39.3L443.0,43.6M426.9,41.2L430.9,38.4M424.4,30.9L425.0,26.8M359.7,58.0L362.2,61.4M433.9,102.9L433.9,108.0" fill="none" stroke="#963a28" stroke-width="1.60" stroke-opacity="0.50" stroke-linecap="round"/><path d="M358.4,30.2L361.4,25.8M364.5,18.9L367.1,25.6M411.3,103.1L411.4,103.1M439.6,83.1L436.0,83.6M457.1,95.4L457.1,95.1M367.5,25.8L373.1,27.4M378.1,100.6L381.6,102.1M368.3,128.1L363.7,133.1M417.5,31.9L412.4,32.0M370.4,116.2L375.7,117.6M456.6,121.9L459.9,119.2M451.8,49.0L448.9,51.1M370.4,68.9L369.9,67.5M414.5,48.8L416.9,50.8M441.6,44.6L439.5,50.5M429.9,107.3L433.2,108.2M430.4,115.8L431.9,113.4" fill="none" stroke="#963a28" stroke-width="1.30" stroke-opacity="0.68" stroke-linecap="round"/><path d="M449.2,74.8L442.5,73.6M410.9,92.2L411.7,92.9M478.4,57.7L472.1,55.7M467.3,28.3L472.2,25.2M445.2,62.1L447.2,60.3M421.8,69.9L422.4,64.7M406.3,26.3L406.3,30.6M395.2,113.2L396.1,114.9M370.0,135.0L367.2,135.9M409.3,104.2L404.7,104.0M425.3,69.7L426.9,73.5M448.3,33.2L452.2,32.5M418.6,31.2L417.5,31.9M396.0,121.0L394.1,124.9M416.3,127.1L415.6,120.7M462.8,78.1L468.6,83.1M468.3,86.3L468.6,83.2M388.0,29.8L383.2,27.3M364.9,120.1L364.1,121.9M472.8,133.1L469.9,132.1M469.4,123.3L464.7,119.8" fill="none" stroke="#a2442c" stroke-width="1.00" stroke-opacity="0.85" stroke-linecap="round"/><path d="M401.3,80.9L401.2,80.9M393.7,90.6L394.2,89.1M382.8,66.3L380.6,67.9M363.8,73.6L359.1,72.8M438.8,132.2L438.0,130.6M369.7,106.4L368.5,101.8M442.8,90.3L442.8,91.0M375.3,37.3L375.1,36.6M455.8,109.9L455.7,108.5M463.4,38.9L463.6,39.8M364.2,29.9L368.9,32.5M430.2,75.1L426.9,73.5M471.6,55.1L473.6,51.2M400.5,107.4L402.9,106.4M402.9,106.4L403.9,104.6M424.7,87.3L423.4,88.9M412.8,112.5L411.8,111.3M442.0,35.8L440.1,35.6M380.0,29.5L380.3,28.4M442.6,44.3L441.6,44.6M436.6,26.3L439.2,25.3" fill="none" stroke="#a2442c" stroke-width="1.00" stroke-opacity="0.50" stroke-linecap="round"/><rect x="364" y="25.2" width="108.50" height="108.80" fill="#fff" filter="url(#ov4)"/><ellipse cx="420.5" cy="124.4" rx="1.6" ry="1.0" transform="rotate(113 420.5 124.4)" fill="#b0a0b4" fill-opacity="0.44"/><ellipse cx="369.1" cy="32.6" rx="2.0" ry="1.3" transform="rotate(99 369.1 32.6)" fill="#c0a4ac" fill-opacity="0.48"/><ellipse cx="467.6" cy="60.1" rx="1.9" ry="1.1" transform="rotate(105 467.6 60.1)" fill="#c0a4ac" fill-opacity="0.55"/><ellipse cx="456.1" cy="45.6" rx="1.7" ry="1.1" transform="rotate(105 456.1 45.6)" fill="#c0a4ac" fill-opacity="0.43"/><ellipse cx="412.9" cy="48.3" rx="1.2" ry="1.2" transform="rotate(37 412.9 48.3)" fill="#b0a0b4" fill-opacity="0.45"/><ellipse cx="465.9" cy="77.9" rx="2.1" ry="1.3" transform="rotate(142 465.9 77.9)" fill="#c0a4ac" fill-opacity="0.58"/><ellipse cx="428.5" cy="130.5" rx="1.8" ry="1.1" transform="rotate(31 428.5 130.5)" fill="#b0a0b4" fill-opacity="0.47"/><ellipse cx="471.3" cy="105.7" rx="1.4" ry="1.3" transform="rotate(88 471.3 105.7)" fill="#b0a0b4" fill-opacity="0.33"/><ellipse cx="461.7" cy="44.4" rx="1.2" ry="1.0" transform="rotate(172 461.7 44.4)" fill="#c0a4ac" fill-opacity="0.59"/><ellipse cx="390.3" cy="128.1" rx="1.8" ry="1.2" transform="rotate(162 390.3 128.1)" fill="#c0a4ac" fill-opacity="0.54"/><ellipse cx="427.1" cy="64.9" rx="1.2" ry="1.1" transform="rotate(84 427.1 64.9)" fill="#c0a4ac" fill-opacity="0.52"/><ellipse cx="378.0" cy="79.8" rx="1.6" ry="1.3" transform="rotate(25 378.0 79.8)" fill="#c0a4ac" fill-opacity="0.48"/><ellipse cx="404.2" cy="65.8" rx="2.1" ry="1.4" transform="rotate(42 404.2 65.8)" fill="#b0a0b4" fill-opacity="0.37"/><ellipse cx="376.9" cy="111.7" rx="1.6" ry="1.4" transform="rotate(107 376.9 111.7)" fill="#b0a0b4" fill-opacity="0.47"/><ellipse cx="445.9" cy="58.1" rx="1.9" ry="1.2" transform="rotate(40 445.9 58.1)" fill="#c0a4ac" fill-opacity="0.35"/><ellipse cx="374.0" cy="60.4" rx="2.1" ry="1.3" transform="rotate(59 374.0 60.4)" fill="#b0a0b4" fill-opacity="0.30"/><ellipse cx="465.8" cy="122.9" rx="1.6" ry="1.0" transform="rotate(38 465.8 122.9)" fill="#c0a4ac" fill-opacity="0.57"/><ellipse cx="435.9" cy="58.7" rx="1.9" ry="1.1" transform="rotate(15 435.9 58.7)" fill="#b0a0b4" fill-opacity="0.49"/><ellipse cx="403.7" cy="97.0" rx="1.5" ry="1.0" transform="rotate(87 403.7 97.0)" fill="#b0a0b4" fill-opacity="0.59"/><ellipse cx="374.0" cy="133.0" rx="1.7" ry="1.1" transform="rotate(41 374.0 133.0)" fill="#b0a0b4" fill-opacity="0.53"/><ellipse cx="438.4" cy="74.5" rx="1.6" ry="1.0" transform="rotate(57 438.4 74.5)" fill="#c0a4ac" fill-opacity="0.54"/><ellipse cx="371.3" cy="33.3" rx="1.3" ry="1.0" transform="rotate(101 371.3 33.3)" fill="#c0a4ac" fill-opacity="0.31"/><ellipse cx="388.3" cy="115.9" rx="1.4" ry="1.0" transform="rotate(87 388.3 115.9)" fill="#b0a0b4" fill-opacity="0.47"/><ellipse cx="427.0" cy="64.9" rx="1.3" ry="1.1" transform="rotate(163 427.0 64.9)" fill="#c0a4ac" fill-opacity="0.42"/><ellipse cx="366.9" cy="53.4" rx="1.3" ry="1.4" transform="rotate(168 366.9 53.4)" fill="#b0a0b4" fill-opacity="0.55"/><ellipse cx="372.6" cy="39.1" rx="2.0" ry="1.2" transform="rotate(119 372.6 39.1)" fill="#c0a4ac" fill-opacity="0.43"/><ellipse cx="462.4" cy="88.3" rx="1.5" ry="1.3" transform="rotate(100 462.4 88.3)" fill="#b0a0b4" fill-opacity="0.48"/><ellipse cx="404.1" cy="111.4" rx="2.2" ry="1.2" transform="rotate(17 404.1 111.4)" fill="#c0a4ac" fill-opacity="0.57"/><ellipse cx="396.0" cy="80.9" rx="1.5" ry="1.4" transform="rotate(76 396.0 80.9)" fill="#c0a4ac" fill-opacity="0.56"/><ellipse cx="369.3" cy="129.4" rx="1.6" ry="0.9" transform="rotate(85 369.3 129.4)" fill="#c0a4ac" fill-opacity="0.53"/><ellipse cx="419.2" cy="54.8" rx="1.4" ry="1.0" transform="rotate(23 419.2 54.8)" fill="#c0a4ac" fill-opacity="0.58"/><ellipse cx="429.8" cy="117.9" rx="1.2" ry="1.4" transform="rotate(178 429.8 117.9)" fill="#b0a0b4" fill-opacity="0.34"/><ellipse cx="377.5" cy="83.5" rx="1.2" ry="1.4" transform="rotate(160 377.5 83.5)" fill="#b0a0b4" fill-opacity="0.56"/><ellipse cx="404.7" cy="58.7" rx="1.8" ry="1.1" transform="rotate(13 404.7 58.7)" fill="#b0a0b4" fill-opacity="0.34"/><ellipse cx="377.5" cy="41.6" rx="1.5" ry="1.4" transform="rotate(177 377.5 41.6)" fill="#b0a0b4" fill-opacity="0.32"/><ellipse cx="424.0" cy="105.5" rx="2.0" ry="1.0" transform="rotate(66 424.0 105.5)" fill="#b0a0b4" fill-opacity="0.46"/><ellipse cx="402.8" cy="130.0" rx="1.6" ry="1.2" transform="rotate(159 402.8 130.0)" fill="#c0a4ac" fill-opacity="0.46"/><ellipse cx="444.4" cy="111.1" rx="1.9" ry="1.1" transform="rotate(131 444.4 111.1)" fill="#b0a0b4" fill-opacity="0.42"/><ellipse cx="396.9" cy="132.5" rx="1.8" ry="1.2" transform="rotate(49 396.9 132.5)" fill="#b0a0b4" fill-opacity="0.43"/><ellipse cx="426.5" cy="60.6" rx="1.3" ry="0.9" transform="rotate(84 426.5 60.6)" fill="#b0a0b4" fill-opacity="0.55"/></g></g>
<text x="0.50" y="14.50" font-size="17" font-weight="bold" fill="#111" stroke="#111" stroke-width="0.5">A</text>
<text x="0.80" y="166.30" font-size="17" font-weight="bold" fill="#111" stroke="#111" stroke-width="0.5">B</text>
<text x="0.40" y="377.90" font-size="17" font-weight="bold" fill="#111" stroke="#111" stroke-width="0.5">C</text>
<text x="0.90" y="596.30" font-size="17" font-weight="bold" fill="#111" stroke="#111" stroke-width="0.5">D</text>
<text x="86.00" y="16.30" font-size="12.7" text-anchor="middle" fill="#111111" stroke="#111111" stroke-width="0.1">CD155 (0+)</text>
<text x="197.70" y="16.30" font-size="12.7" text-anchor="middle" fill="#111111" stroke="#111111" stroke-width="0.1">CD155 (1+)</text>
<text x="307.90" y="16.30" font-size="12.7" text-anchor="middle" fill="#111111" stroke="#111111" stroke-width="0.1">CD155 (2+)</text>
<text x="418.10" y="16.30" font-size="12.7" text-anchor="middle" fill="#111111" stroke="#111111" stroke-width="0.1">CD155 (3+)</text>
<rect x="51.90" y="287.91" width="16.00" height="7.84" fill="#08fa16"/>
<rect x="51.90" y="282.69" width="16.00" height="5.22" fill="#0b780c"/>
<rect x="76.10" y="274.85" width="16.00" height="20.90" fill="#f80408"/>
<rect x="76.10" y="272.24" width="16.00" height="2.61" fill="#f59c9c"/>
<rect x="76.10" y="259.18" width="16.00" height="13.06" fill="#08fa16"/>
<rect x="76.10" y="243.50" width="16.00" height="15.67" fill="#0b780c"/>
<rect x="100.10" y="274.85" width="16.00" height="20.90" fill="#f80408"/>
<rect x="100.10" y="267.01" width="16.00" height="7.84" fill="#f59c9c"/>
<rect x="100.10" y="248.72" width="16.00" height="18.29" fill="#08fa16"/>
<rect x="100.10" y="219.99" width="16.00" height="28.74" fill="#0b780c"/>
<rect x="124.50" y="261.79" width="16.00" height="33.96" fill="#f80408"/>
<rect x="124.50" y="251.34" width="16.00" height="10.45" fill="#f59c9c"/>
<rect x="124.50" y="227.82" width="16.00" height="23.51" fill="#08fa16"/>
<rect x="124.50" y="209.54" width="16.00" height="18.29" fill="#0b780c"/>
<line x1="43.30" y1="190.65" x2="43.30" y2="296.45" stroke="#111111" stroke-width="1.4"/>
<line x1="39.50" y1="295.75" x2="43.30" y2="295.75" stroke="#111111" stroke-width="1.2"/>
<text x="39.30" y="299.35" font-size="10" text-anchor="end" fill="#111111" stroke="#111111" stroke-width="0.22">0</text>
<line x1="39.50" y1="269.62" x2="43.30" y2="269.62" stroke="#111111" stroke-width="1.2"/>
<text x="39.30" y="273.23" font-size="10" text-anchor="end" fill="#111111" stroke="#111111" stroke-width="0.22">10</text>
<line x1="39.50" y1="243.50" x2="43.30" y2="243.50" stroke="#111111" stroke-width="1.2"/>
<text x="39.30" y="247.10" font-size="10" text-anchor="end" fill="#111111" stroke="#111111" stroke-width="0.22">20</text>
<line x1="39.50" y1="217.38" x2="43.30" y2="217.38" stroke="#111111" stroke-width="1.2"/>
<text x="39.30" y="220.97" font-size="10" text-anchor="end" fill="#111111" stroke="#111111" stroke-width="0.22">30</text>
<line x1="39.50" y1="191.25" x2="43.30" y2="191.25" stroke="#111111" stroke-width="1.2"/>
<text x="39.30" y="194.85" font-size="10" text-anchor="end" fill="#111111" stroke="#111111" stroke-width="0.22">40</text>
<line x1="42.60" y1="295.75" x2="147.50" y2="295.75" stroke="#111111" stroke-width="1.4"/>
<line x1="59.90" y1="295.75" x2="59.90" y2="298.75" stroke="#111111" stroke-width="1.2"/>
<text x="60.20" y="308.95" font-size="10" text-anchor="middle" fill="#111111" stroke="#111111" stroke-width="0.22">0+</text>
<line x1="84.10" y1="295.75" x2="84.10" y2="298.75" stroke="#111111" stroke-width="1.2"/>
<text x="84.40" y="308.95" font-size="10" text-anchor="middle" fill="#111111" stroke="#111111" stroke-width="0.22">1+</text>
<line x1="108.10" y1="295.75" x2="108.10" y2="298.75" stroke="#111111" stroke-width="1.2"/>
<text x="108.40" y="308.95" font-size="10" text-anchor="middle" fill="#111111" stroke="#111111" stroke-width="0.22">2+</text>
<line x1="132.50" y1="295.75" x2="132.50" y2="298.75" stroke="#111111" stroke-width="1.2"/>
<text x="132.80" y="308.95" font-size="10" text-anchor="middle" fill="#111111" stroke="#111111" stroke-width="0.22">3+</text>
<text x="96.60" y="325.90" font-size="11.3" text-anchor="middle" fill="#111111" stroke="#111111" stroke-width="0.22">CD155 Score</text>
<text x="85.80" y="165.40" font-size="11.1" text-anchor="middle" fill="#111111" stroke="#111111" stroke-width="0.22">αPD1-monotherapy</text>
<text x="21.30" y="242.00" font-size="11.4" text-anchor="middle" fill="#111111" stroke="#111111" stroke-width="0.22" transform="rotate(-90 21.30 242.00)">Sample count</text>
<line x1="55.75" y1="203.65" x2="113.75" y2="203.65" stroke="#111111" stroke-width="1.45"/>
<path d="M85.3,203.65 V196.5 H132.5 V203" fill="none" stroke="#111111" stroke-width="1.35"/>
<text x="98.30" y="194.20" font-size="13" font-style="italic" fill="#111111" stroke="#111111" stroke-width="0.3">n.s.</text>
<rect x="223.25" y="285.00" width="16.00" height="10.45" fill="#08fa16"/>
<rect x="223.25" y="282.39" width="16.00" height="2.61" fill="#0b780c"/>
<rect x="247.60" y="290.22" width="16.00" height="5.22" fill="#f80408"/>
<rect x="247.60" y="282.39" width="16.00" height="7.84" fill="#f59c9c"/>
<rect x="247.60" y="271.94" width="16.00" height="10.45" fill="#08fa16"/>
<rect x="247.60" y="258.88" width="16.00" height="13.06" fill="#0b780c"/>
<rect x="272.00" y="285.00" width="16.00" height="10.45" fill="#f80408"/>
<rect x="272.00" y="279.77" width="16.00" height="5.22" fill="#f59c9c"/>
<rect x="272.00" y="243.20" width="16.00" height="36.57" fill="#08fa16"/>
<rect x="272.00" y="227.52" width="16.00" height="15.67" fill="#0b780c"/>
<rect x="296.10" y="277.16" width="16.00" height="18.29" fill="#f80408"/>
<rect x="296.10" y="269.32" width="16.00" height="7.84" fill="#f59c9c"/>
<rect x="296.10" y="251.04" width="16.00" height="18.29" fill="#08fa16"/>
<rect x="296.10" y="245.81" width="16.00" height="5.22" fill="#0b780c"/>
<line x1="214.80" y1="190.35" x2="214.80" y2="296.15" stroke="#111111" stroke-width="1.4"/>
<line x1="211.00" y1="295.45" x2="214.80" y2="295.45" stroke="#111111" stroke-width="1.2"/>
<text x="210.80" y="299.05" font-size="10" text-anchor="end" fill="#111111" stroke="#111111" stroke-width="0.22">0</text>
<line x1="211.00" y1="269.32" x2="214.80" y2="269.32" stroke="#111111" stroke-width="1.2"/>
<text x="210.80" y="272.93" font-size="10" text-anchor="end" fill="#111111" stroke="#111111" stroke-width="0.22">10</text>
<line x1="211.00" y1="243.20" x2="214.80" y2="243.20" stroke="#111111" stroke-width="1.2"/>
<text x="210.80" y="246.80" font-size="10" text-anchor="end" fill="#111111" stroke="#111111" stroke-width="0.22">20</text>
<line x1="211.00" y1="217.07" x2="214.80" y2="217.07" stroke="#111111" stroke-width="1.2"/>
<text x="210.80" y="220.67" font-size="10" text-anchor="end" fill="#111111" stroke="#111111" stroke-width="0.22">30</text>
<line x1="211.00" y1="190.95" x2="214.80" y2="190.95" stroke="#111111" stroke-width="1.2"/>
<text x="210.80" y="194.55" font-size="10" text-anchor="end" fill="#111111" stroke="#111111" stroke-width="0.22">40</text>
<line x1="214.10" y1="295.45" x2="320.50" y2="295.45" stroke="#111111" stroke-width="1.4"/>
<line x1="231.25" y1="295.45" x2="231.25" y2="298.45" stroke="#111111" stroke-width="1.2"/>
<text x="231.55" y="308.65" font-size="10" text-anchor="middle" fill="#111111" stroke="#111111" stroke-width="0.22">0+</text>
<line x1="255.60" y1="295.45" x2="255.60" y2="298.45" stroke="#111111" stroke-width="1.2"/>
<text x="255.90" y="308.65" font-size="10" text-anchor="middle" fill="#111111" stroke="#111111" stroke-width="0.22">1+</text>
<line x1="280.00" y1="295.45" x2="280.00" y2="298.45" stroke="#111111" stroke-width="1.2"/>
<text x="280.30" y="308.65" font-size="10" text-anchor="middle" fill="#111111" stroke="#111111" stroke-width="0.22">2+</text>
<line x1="304.10" y1="295.45" x2="304.10" y2="298.45" stroke="#111111" stroke-width="1.2"/>
<text x="304.40" y="308.65" font-size="10" text-anchor="middle" fill="#111111" stroke="#111111" stroke-width="0.22">3+</text>
<text x="268.40" y="324.90" font-size="11.3" text-anchor="middle" fill="#111111" stroke="#111111" stroke-width="0.22">CD155 Score</text>
<text x="256.10" y="165.60" font-size="11.1" text-anchor="middle" fill="#111111" stroke="#111111" stroke-width="0.22">αPD1-combitherapy</text>
<text x="193.70" y="241.00" font-size="11.4" text-anchor="middle" fill="#111111" stroke="#111111" stroke-width="0.22" transform="rotate(-90 193.70 241.00)">Sample count</text>
<line x1="227.00" y1="213.70" x2="285.50" y2="213.70" stroke="#111111" stroke-width="1.45"/>
<path d="M256.6,213.7 V206.3 H303.3 V238" fill="none" stroke="#111111" stroke-width="1.35"/>
<text x="280.00" y="208.50" font-size="14" text-anchor="middle" fill="#111111" stroke="#111111" stroke-width="0.3">*</text>
<rect x="412.90" y="289.52" width="16.00" height="5.22" fill="#f80408"/>
<rect x="412.90" y="279.07" width="16.00" height="10.45" fill="#f59c9c"/>
<rect x="412.90" y="276.46" width="16.00" height="2.61" fill="#08fa16"/>
<rect x="412.90" y="271.24" width="16.00" height="5.22" fill="#0b780c"/>
<rect x="437.00" y="286.91" width="16.00" height="7.84" fill="#f80408"/>
<rect x="437.00" y="273.85" width="16.00" height="13.06" fill="#f59c9c"/>
<rect x="437.00" y="260.79" width="16.00" height="13.06" fill="#08fa16"/>
<rect x="437.00" y="252.95" width="16.00" height="7.84" fill="#0b780c"/>
<rect x="461.10" y="292.14" width="16.00" height="2.61" fill="#c8b070"/>
<rect x="461.10" y="260.79" width="16.00" height="31.35" fill="#08fa16"/>
<rect x="461.10" y="252.95" width="16.00" height="7.84" fill="#0b780c"/>
<line x1="380.40" y1="189.65" x2="380.40" y2="295.45" stroke="#111111" stroke-width="1.4"/>
<line x1="376.60" y1="294.75" x2="380.40" y2="294.75" stroke="#111111" stroke-width="1.2"/>
<text x="376.40" y="298.35" font-size="10" text-anchor="end" fill="#111111" stroke="#111111" stroke-width="0.22">0</text>
<line x1="376.60" y1="268.62" x2="380.40" y2="268.62" stroke="#111111" stroke-width="1.2"/>
<text x="376.40" y="272.23" font-size="10" text-anchor="end" fill="#111111" stroke="#111111" stroke-width="0.22">10</text>
<line x1="376.60" y1="242.50" x2="380.40" y2="242.50" stroke="#111111" stroke-width="1.2"/>
<text x="376.40" y="246.10" font-size="10" text-anchor="end" fill="#111111" stroke="#111111" stroke-width="0.22">20</text>
<line x1="376.60" y1="216.38" x2="380.40" y2="216.38" stroke="#111111" stroke-width="1.2"/>
<text x="376.40" y="219.97" font-size="10" text-anchor="end" fill="#111111" stroke="#111111" stroke-width="0.22">30</text>
<line x1="376.60" y1="190.25" x2="380.40" y2="190.25" stroke="#111111" stroke-width="1.2"/>
<text x="376.40" y="193.85" font-size="10" text-anchor="end" fill="#111111" stroke="#111111" stroke-width="0.22">40</text>
<line x1="379.70" y1="294.75" x2="483.80" y2="294.75" stroke="#111111" stroke-width="1.4"/>
<line x1="396.90" y1="294.75" x2="396.90" y2="297.75" stroke="#111111" stroke-width="1.2"/>
<text x="397.20" y="307.95" font-size="10" text-anchor="middle" fill="#111111" stroke="#111111" stroke-width="0.22">0+</text>
<line x1="420.90" y1="294.75" x2="420.90" y2="297.75" stroke="#111111" stroke-width="1.2"/>
<text x="421.20" y="307.95" font-size="10" text-anchor="middle" fill="#111111" stroke="#111111" stroke-width="0.22">1+</text>
<line x1="445.00" y1="294.75" x2="445.00" y2="297.75" stroke="#111111" stroke-width="1.2"/>
<text x="445.30" y="307.95" font-size="10" text-anchor="middle" fill="#111111" stroke="#111111" stroke-width="0.22">2+</text>
<line x1="469.10" y1="294.75" x2="469.10" y2="297.75" stroke="#111111" stroke-width="1.2"/>
<text x="469.40" y="307.95" font-size="10" text-anchor="middle" fill="#111111" stroke="#111111" stroke-width="0.22">3+</text>
<text x="433.40" y="324.40" font-size="11.3" text-anchor="middle" fill="#111111" stroke="#111111" stroke-width="0.22">CD155 Score</text>
<text x="416.90" y="159.30" font-size="11.1" text-anchor="middle" fill="#111111" stroke="#111111" stroke-width="0.22">BRAF-directed</text>
<text x="416.90" y="172.00" font-size="11.1" text-anchor="middle" fill="#111111" stroke="#111111" stroke-width="0.22">targeted therapy</text>
<text x="359.00" y="240.20" font-size="11.4" text-anchor="middle" fill="#111111" stroke="#111111" stroke-width="0.22" transform="rotate(-90 359.00 240.20)">Sample count</text>
<line x1="414.50" y1="240.80" x2="451.60" y2="240.80" stroke="#111111" stroke-width="1.45"/>
<path d="M431.6,240.8 V233.4 H469.4 V239.5" fill="none" stroke="#111111" stroke-width="1.35"/>
<text x="450.75" y="236.60" font-size="15" text-anchor="middle" fill="#111111" stroke="#111111" stroke-width="0.3">**</text>
<rect x="160.00" y="337.40" width="18.00" height="5.80" fill="#0b780c"/>
<text x="188.20" y="344.50" font-size="11.1" fill="#111111" stroke="#111111" stroke-width="0.22">CR</text>
<rect x="217.50" y="337.40" width="18.00" height="5.80" fill="#08fa16"/>
<text x="245.70" y="344.50" font-size="11.1" fill="#111111" stroke="#111111" stroke-width="0.22">PR</text>
<rect x="273.75" y="337.40" width="18.00" height="5.80" fill="#f59c9c"/>
<text x="301.95" y="344.50" font-size="11.1" fill="#111111" stroke="#111111" stroke-width="0.22">SD</text>
<rect x="330.75" y="337.40" width="18.00" height="5.80" fill="#f80408"/>
<text x="358.95" y="344.50" font-size="11.1" fill="#111111" stroke="#111111" stroke-width="0.22">PD</text>
<rect x="56.95" y="424.30" width="15.60" height="85.60" fill="#c9c9c9"/>
<rect x="80.70" y="424.30" width="15.60" height="85.60" fill="#c9c9c9"/>
<rect x="80.70" y="471.64" width="15.60" height="38.26" fill="#f75a5c"/>
<rect x="104.10" y="424.30" width="15.60" height="85.60" fill="#c9c9c9"/>
<rect x="104.10" y="480.37" width="15.60" height="29.53" fill="#f75a5c"/>
<rect x="127.45" y="424.30" width="15.60" height="85.60" fill="#c9c9c9"/>
<rect x="127.45" y="472.32" width="15.60" height="37.58" fill="#f75a5c"/>
<line x1="49.50" y1="409.50" x2="49.50" y2="510.60" stroke="#111111" stroke-width="1.4"/>
<line x1="45.70" y1="509.90" x2="49.50" y2="509.90" stroke="#111111" stroke-width="1.2"/>
<text x="45.50" y="513.50" font-size="10" text-anchor="end" fill="#111111" stroke="#111111" stroke-width="0.22">0.00</text>
<line x1="45.70" y1="488.50" x2="49.50" y2="488.50" stroke="#111111" stroke-width="1.2"/>
<text x="45.50" y="492.10" font-size="10" text-anchor="end" fill="#111111" stroke="#111111" stroke-width="0.22">0.25</text>
<line x1="45.70" y1="467.10" x2="49.50" y2="467.10" stroke="#111111" stroke-width="1.2"/>
<text x="45.50" y="470.70" font-size="10" text-anchor="end" fill="#111111" stroke="#111111" stroke-width="0.22">0.50</text>
<line x1="45.70" y1="445.70" x2="49.50" y2="445.70" stroke="#111111" stroke-width="1.2"/>
<text x="45.50" y="449.30" font-size="10" text-anchor="end" fill="#111111" stroke="#111111" stroke-width="0.22">0.75</text>
<line x1="45.70" y1="424.30" x2="49.50" y2="424.30" stroke="#111111" stroke-width="1.2"/>
<text x="45.50" y="427.90" font-size="10" text-anchor="end" fill="#111111" stroke="#111111" stroke-width="0.22">1.00</text>
<line x1="48.80" y1="509.90" x2="152.50" y2="509.90" stroke="#111111" stroke-width="1.4"/>
<line x1="64.75" y1="509.90" x2="64.75" y2="512.90" stroke="#111111" stroke-width="1.2"/>
<text x="65.05" y="523.30" font-size="10" text-anchor="middle" fill="#111111" stroke="#111111" stroke-width="0.22">0+</text>
<line x1="88.50" y1="509.90" x2="88.50" y2="512.90" stroke="#111111" stroke-width="1.2"/>
<text x="88.80" y="523.30" font-size="10" text-anchor="middle" fill="#111111" stroke="#111111" stroke-width="0.22">1+</text>
<line x1="111.90" y1="509.90" x2="111.90" y2="512.90" stroke="#111111" stroke-width="1.2"/>
<text x="112.20" y="523.30" font-size="10" text-anchor="middle" fill="#111111" stroke="#111111" stroke-width="0.22">2+</text>
<line x1="135.25" y1="509.90" x2="135.25" y2="512.90" stroke="#111111" stroke-width="1.2"/>
<text x="135.55" y="523.30" font-size="10" text-anchor="middle" fill="#111111" stroke="#111111" stroke-width="0.22">3+</text>
<text x="101.50" y="539.20" font-size="11.3" text-anchor="middle" fill="#111111" stroke="#111111" stroke-width="0.22">CD155 Score</text>
<text x="85.80" y="380.20" font-size="11.1" text-anchor="middle" fill="#111111" stroke="#111111" stroke-width="0.22">αPD1-monotherapy</text>
<text x="20.60" y="454.80" font-size="11.3" text-anchor="middle" fill="#111111" stroke="#111111" stroke-width="0.22" transform="rotate(-90 20.60 454.80)">Response fraction</text>
<line x1="61.60" y1="415.60" x2="117.30" y2="415.60" stroke="#111111" stroke-width="1.45"/>
<path d="M89.3,415.6 V408.2 H134.3 V414.2" fill="none" stroke="#111111" stroke-width="1.35"/>
<text x="100.70" y="404.70" font-size="13" font-style="italic" fill="#111111" stroke="#111111" stroke-width="0.3">n.s.</text>
<rect x="228.10" y="426.00" width="15.60" height="88.20" fill="#c9c9c9"/>
<rect x="252.20" y="426.00" width="15.60" height="88.20" fill="#c9c9c9"/>
<rect x="252.20" y="495.06" width="15.60" height="19.14" fill="#f75a5c"/>
<rect x="276.30" y="426.00" width="15.60" height="88.20" fill="#c9c9c9"/>
<rect x="276.30" y="500.53" width="15.60" height="13.67" fill="#f75a5c"/>
<rect x="300.10" y="426.00" width="15.60" height="88.20" fill="#c9c9c9"/>
<rect x="300.10" y="467.72" width="15.60" height="46.48" fill="#f75a5c"/>
<line x1="218.90" y1="410.00" x2="218.90" y2="514.90" stroke="#111111" stroke-width="1.4"/>
<line x1="215.10" y1="514.20" x2="218.90" y2="514.20" stroke="#111111" stroke-width="1.2"/>
<text x="214.90" y="517.80" font-size="10" text-anchor="end" fill="#111111" stroke="#111111" stroke-width="0.22">0.00</text>
<line x1="215.10" y1="492.15" x2="218.90" y2="492.15" stroke="#111111" stroke-width="1.2"/>
<text x="214.90" y="495.75" font-size="10" text-anchor="end" fill="#111111" stroke="#111111" stroke-width="0.22">0.25</text>
<line x1="215.10" y1="470.10" x2="218.90" y2="470.10" stroke="#111111" stroke-width="1.2"/>
<text x="214.90" y="473.70" font-size="10" text-anchor="end" fill="#111111" stroke="#111111" stroke-width="0.22">0.50</text>
<line x1="215.10" y1="448.05" x2="218.90" y2="448.05" stroke="#111111" stroke-width="1.2"/>
<text x="214.90" y="451.65" font-size="10" text-anchor="end" fill="#111111" stroke="#111111" stroke-width="0.22">0.75</text>
<line x1="215.10" y1="426.00" x2="218.90" y2="426.00" stroke="#111111" stroke-width="1.2"/>
<text x="214.90" y="429.60" font-size="10" text-anchor="end" fill="#111111" stroke="#111111" stroke-width="0.22">1.00</text>
<line x1="218.20" y1="514.20" x2="323.75" y2="514.20" stroke="#111111" stroke-width="1.4"/>
<line x1="235.90" y1="514.20" x2="235.90" y2="517.20" stroke="#111111" stroke-width="1.2"/>
<text x="236.20" y="527.60" font-size="10" text-anchor="middle" fill="#111111" stroke="#111111" stroke-width="0.22">0+</text>
<line x1="260.00" y1="514.20" x2="260.00" y2="517.20" stroke="#111111" stroke-width="1.2"/>
<text x="260.30" y="527.60" font-size="10" text-anchor="middle" fill="#111111" stroke="#111111" stroke-width="0.22">1+</text>
<line x1="284.10" y1="514.20" x2="284.10" y2="517.20" stroke="#111111" stroke-width="1.2"/>
<text x="284.40" y="527.60" font-size="10" text-anchor="middle" fill="#111111" stroke="#111111" stroke-width="0.22">2+</text>
<line x1="307.90" y1="514.20" x2="307.90" y2="517.20" stroke="#111111" stroke-width="1.2"/>
<text x="308.20" y="527.60" font-size="10" text-anchor="middle" fill="#111111" stroke="#111111" stroke-width="0.22">3+</text>
<text x="272.30" y="543.10" font-size="11.3" text-anchor="middle" fill="#111111" stroke="#111111" stroke-width="0.22">CD155 Score</text>
<text x="256.10" y="380.40" font-size="11.1" text-anchor="middle" fill="#111111" stroke="#111111" stroke-width="0.22">αPD1-combitherapy</text>
<text x="189.80" y="457.70" font-size="11.3" text-anchor="middle" fill="#111111" stroke="#111111" stroke-width="0.22" transform="rotate(-90 189.80 457.70)">Response fraction</text>
<line x1="232.00" y1="416.60" x2="289.75" y2="416.60" stroke="#111111" stroke-width="1.45"/>
<path d="M260.6,416.6 V409.4 H306.9 V415.6" fill="none" stroke="#111111" stroke-width="1.35"/>
<text x="278.90" y="405.10" font-size="12.8" text-anchor="middle" fill="#111111" stroke="#111111" stroke-width="0.3">**</text>
<rect x="417.45" y="426.10" width="15.60" height="87.10" fill="#c9c9c9"/>
<rect x="417.45" y="484.28" width="15.60" height="28.92" fill="#f75a5c"/>
<rect x="441.30" y="426.10" width="15.60" height="87.10" fill="#c9c9c9"/>
<rect x="441.30" y="480.54" width="15.60" height="32.66" fill="#f75a5c"/>
<rect x="465.10" y="426.10" width="15.60" height="87.10" fill="#c9c9c9"/>
<rect x="465.10" y="491.25" width="15.60" height="21.95" fill="#f75a5c"/>
<line x1="385.60" y1="410.50" x2="385.60" y2="513.90" stroke="#111111" stroke-width="1.4"/>
<line x1="381.80" y1="513.20" x2="385.60" y2="513.20" stroke="#111111" stroke-width="1.2"/>
<text x="381.60" y="516.80" font-size="10" text-anchor="end" fill="#111111" stroke="#111111" stroke-width="0.22">0.00</text>
<line x1="381.80" y1="491.43" x2="385.60" y2="491.43" stroke="#111111" stroke-width="1.2"/>
<text x="381.60" y="495.03" font-size="10" text-anchor="end" fill="#111111" stroke="#111111" stroke-width="0.22">0.25</text>
<line x1="381.80" y1="469.65" x2="385.60" y2="469.65" stroke="#111111" stroke-width="1.2"/>
<text x="381.60" y="473.25" font-size="10" text-anchor="end" fill="#111111" stroke="#111111" stroke-width="0.22">0.50</text>
<line x1="381.80" y1="447.88" x2="385.60" y2="447.88" stroke="#111111" stroke-width="1.2"/>
<text x="381.60" y="451.48" font-size="10" text-anchor="end" fill="#111111" stroke="#111111" stroke-width="0.22">0.75</text>
<line x1="381.80" y1="426.10" x2="385.60" y2="426.10" stroke="#111111" stroke-width="1.2"/>
<text x="381.60" y="429.70" font-size="10" text-anchor="end" fill="#111111" stroke="#111111" stroke-width="0.22">1.00</text>
<line x1="384.90" y1="513.20" x2="488.50" y2="513.20" stroke="#111111" stroke-width="1.4"/>
<line x1="401.60" y1="513.20" x2="401.60" y2="516.20" stroke="#111111" stroke-width="1.2"/>
<text x="401.90" y="526.30" font-size="10" text-anchor="middle" fill="#111111" stroke="#111111" stroke-width="0.22">0+</text>
<line x1="425.25" y1="513.20" x2="425.25" y2="516.20" stroke="#111111" stroke-width="1.2"/>
<text x="425.55" y="526.30" font-size="10" text-anchor="middle" fill="#111111" stroke="#111111" stroke-width="0.22">1+</text>
<line x1="449.10" y1="513.20" x2="449.10" y2="516.20" stroke="#111111" stroke-width="1.2"/>
<text x="449.40" y="526.30" font-size="10" text-anchor="middle" fill="#111111" stroke="#111111" stroke-width="0.22">2+</text>
<line x1="472.90" y1="513.20" x2="472.90" y2="516.20" stroke="#111111" stroke-width="1.2"/>
<text x="473.20" y="526.30" font-size="10" text-anchor="middle" fill="#111111" stroke="#111111" stroke-width="0.22">3+</text>
<text x="437.70" y="541.90" font-size="11.3" text-anchor="middle" fill="#111111" stroke="#111111" stroke-width="0.22">CD155 Score</text>
<text x="416.90" y="374.40" font-size="11.1" text-anchor="middle" fill="#111111" stroke="#111111" stroke-width="0.22">BRAF-directed</text>
<text x="416.90" y="386.90" font-size="11.1" text-anchor="middle" fill="#111111" stroke="#111111" stroke-width="0.22">targeted therapy</text>
<text x="355.50" y="456.50" font-size="11.3" text-anchor="middle" fill="#111111" stroke="#111111" stroke-width="0.22" transform="rotate(-90 355.50 456.50)">Response fraction</text>
<line x1="418.50" y1="418.50" x2="455.40" y2="418.50" stroke="#111111" stroke-width="1.45"/>
<path d="M435.4,418.5 V410.8 H472.8 V417.4" fill="none" stroke="#111111" stroke-width="1.35"/>
<text x="437.50" y="406.20" font-size="13" font-style="italic" fill="#111111" stroke="#111111" stroke-width="0.3">n.s.</text>
<rect x="153.75" y="550.40" width="18.75" height="6.60" fill="#c9c9c9"/>
<text x="182.00" y="558.00" font-size="11.0" fill="#111111" stroke="#111111" stroke-width="0.22">Good responder</text>
<rect x="275.50" y="550.20" width="19.00" height="6.60" fill="#f75a5c"/>
<text x="304.50" y="558.00" font-size="11.0" fill="#111111" stroke="#111111" stroke-width="0.22">Poor responder</text>
<line x1="46.30" y1="618.05" x2="46.30" y2="772.30" stroke="#111111" stroke-width="1.4"/>
<line x1="42.50" y1="771.60" x2="46.30" y2="771.60" stroke="#111111" stroke-width="1.2"/>
<text x="42.30" y="775.20" font-size="10" text-anchor="end" fill="#111111" stroke="#111111" stroke-width="0.22">0</text>
<line x1="42.50" y1="695.17" x2="46.30" y2="695.17" stroke="#111111" stroke-width="1.2"/>
<text x="42.30" y="698.77" font-size="10" text-anchor="end" fill="#111111" stroke="#111111" stroke-width="0.22">50</text>
<line x1="42.50" y1="618.75" x2="46.30" y2="618.75" stroke="#111111" stroke-width="1.2"/>
<text x="42.30" y="622.35" font-size="10" text-anchor="end" fill="#111111" stroke="#111111" stroke-width="0.22">100</text>
<line x1="45.60" y1="771.60" x2="151.85" y2="771.60" stroke="#111111" stroke-width="1.4"/>
<line x1="46.30" y1="771.60" x2="46.30" y2="774.80" stroke="#111111" stroke-width="1.2"/>
<text x="46.50" y="784.70" font-size="10" text-anchor="middle" fill="#111111" stroke="#111111" stroke-width="0.22">0</text>
<line x1="72.54" y1="771.60" x2="72.54" y2="774.80" stroke="#111111" stroke-width="1.2"/>
<text x="72.74" y="784.70" font-size="10" text-anchor="middle" fill="#111111" stroke="#111111" stroke-width="0.22">1</text>
<line x1="98.78" y1="771.60" x2="98.78" y2="774.80" stroke="#111111" stroke-width="1.2"/>
<text x="98.98" y="784.70" font-size="10" text-anchor="middle" fill="#111111" stroke="#111111" stroke-width="0.22">2</text>
<line x1="125.01" y1="771.60" x2="125.01" y2="774.80" stroke="#111111" stroke-width="1.2"/>
<text x="125.21" y="784.70" font-size="10" text-anchor="middle" fill="#111111" stroke="#111111" stroke-width="0.22">3</text>
<line x1="151.25" y1="771.60" x2="151.25" y2="774.80" stroke="#111111" stroke-width="1.2"/>
<text x="151.45" y="784.70" font-size="10" text-anchor="middle" fill="#111111" stroke="#111111" stroke-width="0.22">4</text>
<text x="99.60" y="800.50" font-size="11.6" text-anchor="middle" fill="#111111" stroke="#111111" stroke-width="0.22">Years</text>
<text x="85.80" y="597.40" font-size="11.1" text-anchor="middle" fill="#111111" stroke="#111111" stroke-width="0.22">αPD1-monotherapy</text>
<text x="19.20" y="690.40" font-size="12.0" text-anchor="middle" fill="#111111" stroke="#111111" stroke-width="0.22" transform="rotate(-90 19.20 690.40)">PFS</text>
<path d="M46.3,618.75 H47.5 V622 H48.5 V630 H49.5 V638 H50.5 V645 H51.5 V652 H52.2 V665 H52.8 V680.6 H54.6 V684.6 H59.2 V685.8 H59.8 V689.8 H66.2 V695 H67.5 V699.6 H71.3 V703.7 H86.9 V710 H96.2 V716.8 H146" fill="none" stroke="#d91c1c" stroke-width="2.0" stroke-linejoin="miter"/>
<path d="M46.3,618.75 H48.8 V622 H49.3 V630 H49.8 V640 H50.4 V650 H51.2 V656 H52.5 V658.5 H54 V661 H55.5 V663.5 H57 V666 H58.5 V668.5 H60 V670.5 H61.5 V672.5 H62.7 V674.8 H64 V673.8 H66.5 V676 H67.5 V678.5 H69 V680.6 H86.3 V684.6 H89.8 V689.2 H102.5 V693 H104 V695 H105 V699.2 H152.3" fill="none" stroke="#111111" stroke-width="2.2" stroke-linejoin="miter"/>
<line x1="81.00" y1="680.60" x2="81.00" y2="678.00" stroke="#111111" stroke-width="1.2"/>
<line x1="99.00" y1="689.20" x2="99.00" y2="686.60" stroke="#111111" stroke-width="1.2"/>
<line x1="112.00" y1="699.20" x2="112.00" y2="696.60" stroke="#111111" stroke-width="1.2"/>
<line x1="118.00" y1="699.20" x2="118.00" y2="696.60" stroke="#111111" stroke-width="1.2"/>
<line x1="124.00" y1="699.20" x2="124.00" y2="696.60" stroke="#111111" stroke-width="1.2"/>
<line x1="128.00" y1="699.20" x2="128.00" y2="696.60" stroke="#111111" stroke-width="1.2"/>
<line x1="134.00" y1="699.20" x2="134.00" y2="696.60" stroke="#111111" stroke-width="1.2"/>
<line x1="140.00" y1="699.20" x2="140.00" y2="696.60" stroke="#111111" stroke-width="1.2"/>
<line x1="84.00" y1="703.70" x2="84.00" y2="701.10" stroke="#d91c1c" stroke-width="1.2"/>
<line x1="104.00" y1="716.80" x2="104.00" y2="714.20" stroke="#d91c1c" stroke-width="1.2"/>
<line x1="108.00" y1="716.80" x2="108.00" y2="714.20" stroke="#d91c1c" stroke-width="1.2"/>
<line x1="114.00" y1="716.80" x2="114.00" y2="714.20" stroke="#d91c1c" stroke-width="1.2"/>
<line x1="120.00" y1="716.80" x2="120.00" y2="714.20" stroke="#d91c1c" stroke-width="1.2"/>
<line x1="128.00" y1="716.80" x2="128.00" y2="714.20" stroke="#d91c1c" stroke-width="1.2"/>
<line x1="132.00" y1="716.80" x2="132.00" y2="714.20" stroke="#d91c1c" stroke-width="1.2"/>
<line x1="140.00" y1="716.80" x2="140.00" y2="714.20" stroke="#d91c1c" stroke-width="1.2"/>
<text x="51.00" y="754.90" font-size="10.0" fill="#111111" stroke="#111111" stroke-width="0.22">HR = 1.377</text>
<text x="51.0" y="766.3" font-size="10.0" fill="#111111" stroke="#111111" stroke-width="0.22"><tspan font-style="italic">P</tspan> =  0.2608</text>
<line x1="217.90" y1="617.30" x2="217.90" y2="771.50" stroke="#111111" stroke-width="1.4"/>
<line x1="214.10" y1="770.80" x2="217.90" y2="770.80" stroke="#111111" stroke-width="1.2"/>
<text x="213.90" y="774.40" font-size="10" text-anchor="end" fill="#111111" stroke="#111111" stroke-width="0.22">0</text>
<line x1="214.10" y1="694.40" x2="217.90" y2="694.40" stroke="#111111" stroke-width="1.2"/>
<text x="213.90" y="698.00" font-size="10" text-anchor="end" fill="#111111" stroke="#111111" stroke-width="0.22">50</text>
<line x1="214.10" y1="618.00" x2="217.90" y2="618.00" stroke="#111111" stroke-width="1.2"/>
<text x="213.90" y="621.60" font-size="10" text-anchor="end" fill="#111111" stroke="#111111" stroke-width="0.22">100</text>
<line x1="217.20" y1="770.80" x2="323.90" y2="770.80" stroke="#111111" stroke-width="1.4"/>
<line x1="217.90" y1="770.80" x2="217.90" y2="774.00" stroke="#111111" stroke-width="1.2"/>
<text x="218.10" y="783.90" font-size="10" text-anchor="middle" fill="#111111" stroke="#111111" stroke-width="0.22">0</text>
<line x1="244.25" y1="770.80" x2="244.25" y2="774.00" stroke="#111111" stroke-width="1.2"/>
<text x="244.45" y="783.90" font-size="10" text-anchor="middle" fill="#111111" stroke="#111111" stroke-width="0.22">1</text>
<line x1="270.60" y1="770.80" x2="270.60" y2="774.00" stroke="#111111" stroke-width="1.2"/>
<text x="270.80" y="783.90" font-size="10" text-anchor="middle" fill="#111111" stroke="#111111" stroke-width="0.22">2</text>
<line x1="296.95" y1="770.80" x2="296.95" y2="774.00" stroke="#111111" stroke-width="1.2"/>
<text x="297.15" y="783.90" font-size="10" text-anchor="middle" fill="#111111" stroke="#111111" stroke-width="0.22">3</text>
<line x1="323.30" y1="770.80" x2="323.30" y2="774.00" stroke="#111111" stroke-width="1.2"/>
<text x="323.50" y="783.90" font-size="10" text-anchor="middle" fill="#111111" stroke="#111111" stroke-width="0.22">4</text>
<text x="271.20" y="800.50" font-size="11.6" text-anchor="middle" fill="#111111" stroke="#111111" stroke-width="0.22">Years</text>
<text x="256.10" y="596.60" font-size="11.1" text-anchor="middle" fill="#111111" stroke="#111111" stroke-width="0.22">αPD1-combitherapy</text>
<text x="191.30" y="690.40" font-size="12.0" text-anchor="middle" fill="#111111" stroke="#111111" stroke-width="0.22" transform="rotate(-90 191.30 690.40)">PFS</text>
<path d="M217.9,618 H218.8 V624 H220 V630 H221 V634.4 H222.2 V642 H222.9 V650.8 H223.5 V662 H224.1 V674.4 H227.2 V681.7 H229 V698.7 H239.9 V706 H310" fill="none" stroke="#d91c1c" stroke-width="2.0" stroke-linejoin="miter"/>
<path d="M217.9,618 H218.5 V622 H219.5 V628 H221.1 V634.4 H224.7 V641.7 H236.8 V644.7 H238.5 V648.4 H240.5 V652.6 H253.8 V656.8 H288.9 V665.75 H323.75" fill="none" stroke="#111111" stroke-width="2.2" stroke-linejoin="miter"/>
<line x1="233.00" y1="641.70" x2="233.00" y2="639.10" stroke="#111111" stroke-width="1.2"/>
<line x1="247.00" y1="652.60" x2="247.00" y2="650.00" stroke="#111111" stroke-width="1.2"/>
<line x1="250.00" y1="652.60" x2="250.00" y2="650.00" stroke="#111111" stroke-width="1.2"/>
<line x1="262.00" y1="656.80" x2="262.00" y2="654.20" stroke="#111111" stroke-width="1.2"/>
<line x1="270.00" y1="656.80" x2="270.00" y2="654.20" stroke="#111111" stroke-width="1.2"/>
<line x1="286.00" y1="656.80" x2="286.00" y2="654.20" stroke="#111111" stroke-width="1.2"/>
<line x1="306.00" y1="665.75" x2="306.00" y2="663.15" stroke="#111111" stroke-width="1.2"/>
<line x1="312.00" y1="665.75" x2="312.00" y2="663.15" stroke="#111111" stroke-width="1.2"/>
<line x1="316.00" y1="665.75" x2="316.00" y2="663.15" stroke="#111111" stroke-width="1.2"/>
<line x1="243.00" y1="706.00" x2="243.00" y2="703.40" stroke="#d91c1c" stroke-width="1.2"/>
<line x1="246.00" y1="706.00" x2="246.00" y2="703.40" stroke="#d91c1c" stroke-width="1.2"/>
<line x1="249.00" y1="706.00" x2="249.00" y2="703.40" stroke="#d91c1c" stroke-width="1.2"/>
<line x1="256.00" y1="706.00" x2="256.00" y2="703.40" stroke="#d91c1c" stroke-width="1.2"/>
<line x1="287.00" y1="706.00" x2="287.00" y2="703.40" stroke="#d91c1c" stroke-width="1.2"/>
<line x1="309.00" y1="706.00" x2="309.00" y2="703.40" stroke="#d91c1c" stroke-width="1.2"/>
<text x="222.60" y="754.90" font-size="10.0" fill="#111111" stroke="#111111" stroke-width="0.22">HR = 2.886</text>
<text x="222.6" y="766.3" font-size="10.0" fill="#111111" stroke="#111111" stroke-width="0.22"><tspan font-style="italic">P</tspan> = 0.0070</text>
<line x1="383.50" y1="617.50" x2="383.50" y2="771.95" stroke="#111111" stroke-width="1.4"/>
<line x1="379.70" y1="771.25" x2="383.50" y2="771.25" stroke="#111111" stroke-width="1.2"/>
<text x="379.50" y="774.85" font-size="10" text-anchor="end" fill="#111111" stroke="#111111" stroke-width="0.22">0</text>
<line x1="379.70" y1="694.73" x2="383.50" y2="694.73" stroke="#111111" stroke-width="1.2"/>
<text x="379.50" y="698.33" font-size="10" text-anchor="end" fill="#111111" stroke="#111111" stroke-width="0.22">50</text>
<line x1="379.70" y1="618.20" x2="383.50" y2="618.20" stroke="#111111" stroke-width="1.2"/>
<text x="379.50" y="621.80" font-size="10" text-anchor="end" fill="#111111" stroke="#111111" stroke-width="0.22">100</text>
<line x1="382.80" y1="771.25" x2="489.35" y2="771.25" stroke="#111111" stroke-width="1.4"/>
<line x1="383.50" y1="771.25" x2="383.50" y2="774.45" stroke="#111111" stroke-width="1.2"/>
<text x="383.70" y="784.35" font-size="10" text-anchor="middle" fill="#111111" stroke="#111111" stroke-width="0.22">0</text>
<line x1="409.81" y1="771.25" x2="409.81" y2="774.45" stroke="#111111" stroke-width="1.2"/>
<text x="410.01" y="784.35" font-size="10" text-anchor="middle" fill="#111111" stroke="#111111" stroke-width="0.22">1</text>
<line x1="436.12" y1="771.25" x2="436.12" y2="774.45" stroke="#111111" stroke-width="1.2"/>
<text x="436.32" y="784.35" font-size="10" text-anchor="middle" fill="#111111" stroke="#111111" stroke-width="0.22">2</text>
<line x1="462.44" y1="771.25" x2="462.44" y2="774.45" stroke="#111111" stroke-width="1.2"/>
<text x="462.64" y="784.35" font-size="10" text-anchor="middle" fill="#111111" stroke="#111111" stroke-width="0.22">3</text>
<line x1="488.75" y1="771.25" x2="488.75" y2="774.45" stroke="#111111" stroke-width="1.2"/>
<text x="488.95" y="784.35" font-size="10" text-anchor="middle" fill="#111111" stroke="#111111" stroke-width="0.22">4</text>
<text x="436.90" y="800.50" font-size="11.6" text-anchor="middle" fill="#111111" stroke="#111111" stroke-width="0.22">Years</text>
<text x="416.90" y="590.00" font-size="11.1" text-anchor="middle" fill="#111111" stroke="#111111" stroke-width="0.22">BRAF-directed</text>
<text x="416.90" y="603.30" font-size="11.1" text-anchor="middle" fill="#111111" stroke="#111111" stroke-width="0.22">targeted therapy</text>
<text x="356.70" y="690.50" font-size="12.0" text-anchor="middle" fill="#111111" stroke="#111111" stroke-width="0.22" transform="rotate(-90 356.70 690.50)">PFS</text>
<path d="M383.5,618.2 H389.8 V627 H391.8 V636.9 H393.8 V646.3 H398.6 V655.8 H404.6 V670 H405.5 V680 H406.5 V692.3 H409.4 V695.2 H414.2 V703.8 H416.2 V713.5 H430.6 V723.1 H446.2 V734.8 H471.2 V753.3 H489.5" fill="none" stroke="#d91c1c" stroke-width="2.0" stroke-linejoin="miter"/>
<path d="M383.5,618.2 H385.1 V627 H386 V636.2 H389.8 V648 H390.5 V655 H391.2 V660.5 H395.2 V672.5 H402.7 V678.8 H404.5 V685 H406.5 V691.3 H410.4 V703.8 H416.2 V712 H417.5 V722 H430.2 V727.7 H446.2 V740.5 H489.5" fill="none" stroke="#111111" stroke-width="2.2" stroke-linejoin="miter"/>
<line x1="454.00" y1="740.50" x2="454.00" y2="737.90" stroke="#111111" stroke-width="1.2"/>
<text x="388.00" y="754.90" font-size="10.0" fill="#111111" stroke="#111111" stroke-width="0.22">HR = 1.037</text>
<text x="388.0" y="766.3" font-size="10.0" fill="#111111" stroke="#111111" stroke-width="0.22"><tspan font-style="italic">P</tspan> = 0.9176</text>
<line x1="176.70" y1="816.90" x2="196.00" y2="816.90" stroke="#111111" stroke-width="2.5"/>
<line x1="186.90" y1="813.40" x2="186.90" y2="816.90" stroke="#111111" stroke-width="1.3"/>
<text x="205.00" y="820.80" font-size="11.1" fill="#111111" stroke="#111111" stroke-width="0.22">CD155 low</text>
<line x1="275.30" y1="816.90" x2="294.30" y2="816.90" stroke="#d91c1c" stroke-width="2.5"/>
<line x1="284.80" y1="813.40" x2="284.80" y2="816.90" stroke="#d91c1c" stroke-width="1.3"/>
<text x="303.60" y="820.80" font-size="11.1" fill="#111111" stroke="#111111" stroke-width="0.22">CD155 high</text>
</g>
</svg>
</body></html>
